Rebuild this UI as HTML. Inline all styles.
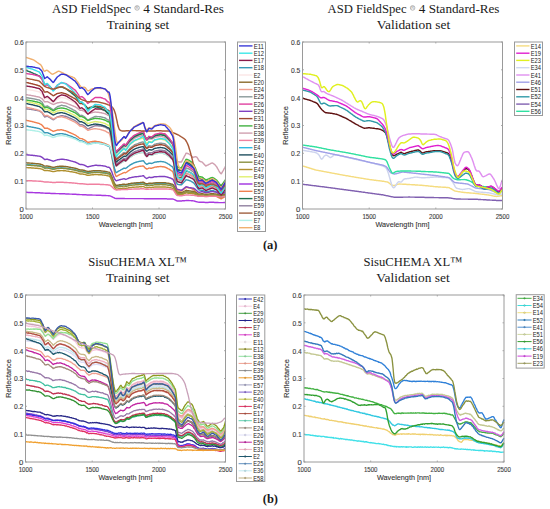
<!DOCTYPE html>
<html><head><meta charset="utf-8"><style>
html,body{margin:0;padding:0;background:#fff;}
svg{display:block;}
.tt{font-family:"Liberation Serif",serif;font-size:13.2px;fill:#1a1a1a;}
.pl{font-family:"Liberation Serif",serif;font-size:12.5px;font-weight:bold;fill:#1a1a1a;}
.tk{font-family:"Liberation Sans",sans-serif;font-size:7.3px;fill:#3c3c3c;stroke:#3c3c3c;stroke-width:0.12px;}
.al{font-family:"Liberation Sans",sans-serif;font-size:7.2px;fill:#333;stroke:#333;stroke-width:0.1px;}
.lg{font-family:"Liberation Sans",sans-serif;font-size:6.6px;fill:#222;}
</style></head><body>
<svg width="550" height="509" viewBox="0 0 550 509">
<polyline points="26.0,89.3 26.5,89.4 27.1,89.5 27.6,89.6 28.1,89.6 28.7,89.7 29.2,89.8 29.7,89.9 30.3,90.0 30.8,90.1 31.3,90.1 31.9,90.2 32.4,90.3 32.9,90.4 33.4,90.5 34.0,90.6 34.5,90.8 35.0,90.9 35.6,91.0 36.1,91.1 36.6,91.2 37.2,91.4 37.7,91.5 38.2,91.6 38.8,91.7 39.3,91.8 39.8,92.3 40.4,92.7 40.9,93.1 41.4,93.5 42.0,94.0 42.5,95.0 43.0,96.0 43.6,97.0 44.1,98.1 44.6,99.1 45.2,98.9 45.7,98.7 46.2,98.5 46.7,98.3 47.3,98.1 47.8,98.5 48.3,98.8 48.9,99.2 49.4,99.5 49.9,99.9 50.5,100.3 51.0,100.7 51.5,101.2 52.1,101.6 52.6,102.0 53.1,102.5 53.7,102.2 54.2,101.7 54.7,101.3 55.3,100.8 55.8,100.3 56.3,99.9 56.9,99.4 57.4,99.0 57.9,98.8 58.5,98.6 59.0,98.4 59.5,98.2 60.0,98.0 60.6,97.8 61.1,97.6 61.6,97.5 62.2,97.6 62.7,97.7 63.2,97.8 63.8,97.9 64.3,98.0 64.8,98.1 65.4,98.2 65.9,98.3 66.4,98.6 67.0,98.9 67.5,99.2 68.0,99.5 68.6,99.7 69.1,100.0 69.6,100.3 70.2,100.6 70.7,100.9 71.2,101.2 71.8,101.5 72.3,101.8 72.8,102.1 73.3,102.4 73.9,102.7 74.4,103.0 74.9,103.3 75.5,103.7 76.0,104.2 76.5,104.7 77.1,105.2 77.6,105.8 78.1,106.4 78.7,107.0 79.2,107.7 79.7,108.4 80.3,108.5 80.8,108.4 81.3,108.3 81.9,108.3 82.4,108.6 82.9,108.9 83.5,109.2 84.0,109.6 84.5,109.9 85.1,110.5 85.6,111.1 86.1,111.6 86.6,112.2 87.2,112.8 87.7,113.4 88.2,113.3 88.8,112.9 89.3,112.6 89.8,112.3 90.4,111.9 90.9,111.6 91.4,111.3 92.0,111.0 92.5,110.8 93.0,110.5 93.6,110.3 94.1,110.0 94.6,109.8 95.2,109.5 95.7,109.6 96.2,109.6 96.8,109.6 97.3,109.6 97.8,109.7 98.4,109.7 98.9,109.7 99.4,109.7 99.9,109.8 100.5,109.8 101.0,109.9 101.5,110.1 102.1,110.2 102.6,110.4 103.1,110.5 103.7,110.7 104.2,110.9 104.7,111.0 105.3,111.2 105.8,111.7 106.3,112.1 106.9,112.5 107.4,112.9 107.9,113.3 108.5,113.3 109.0,113.5 109.5,114.6 110.1,116.7 110.6,119.6 111.1,123.1 111.7,127.0 112.2,131.3 112.7,135.6 113.2,140.0 113.8,144.1 114.3,147.9 114.8,151.1 115.4,153.6 115.9,155.2 116.4,155.8 117.0,155.2 117.5,154.5 118.0,154.0 118.6,153.5 119.1,153.1 119.6,152.6 120.2,152.1 120.7,151.7 121.2,151.2 121.8,150.7 122.3,150.3 122.8,149.8 123.4,149.3 123.9,148.9 124.4,148.9 125.0,149.3 125.5,149.7 126.0,149.3 126.5,148.6 127.1,148.0 127.6,147.3 128.1,146.6 128.7,145.9 129.2,145.2 129.7,144.6 130.3,144.1 130.8,143.6 131.3,143.2 131.9,142.8 132.4,142.4 132.9,141.9 133.5,141.5 134.0,141.1 134.5,140.7 135.1,140.5 135.6,140.3 136.1,140.0 136.7,139.8 137.2,139.6 137.7,139.4 138.3,139.2 138.8,139.0 139.3,138.8 139.8,138.6 140.4,138.4 140.9,138.3 141.4,138.1 142.0,137.9 142.5,137.8 143.0,137.6 143.6,137.8 144.1,139.1 144.6,140.4 145.2,141.7 145.7,142.6 146.2,143.3 146.8,144.0 147.3,143.5 147.8,142.9 148.4,142.3 148.9,141.7 149.4,141.8 150.0,141.9 150.5,142.0 151.0,142.0 151.6,142.1 152.1,142.0 152.6,141.6 153.1,141.2 153.7,140.8 154.2,140.4 154.7,140.0 155.3,139.9 155.8,139.8 156.3,139.7 156.9,139.6 157.4,139.5 157.9,139.4 158.5,139.3 159.0,139.2 159.5,139.1 160.1,139.0 160.6,138.9 161.1,139.0 161.7,139.1 162.2,139.2 162.7,139.3 163.3,139.4 163.8,139.5 164.3,139.6 164.9,139.7 165.4,140.1 165.9,140.5 166.4,141.0 167.0,141.5 167.5,142.0 168.0,142.4 168.6,142.9 169.1,143.4 169.6,144.0 170.2,144.7 170.7,145.3 171.2,146.0 171.8,146.7 172.3,147.4 172.8,148.1 173.4,150.0 173.9,152.8 174.4,156.2 175.0,159.9 175.5,163.7 176.0,167.1 176.6,169.9 177.1,171.8 177.6,172.5 178.2,172.7 178.7,172.9 179.2,173.1 179.7,173.2 180.3,173.4 180.8,173.5 181.3,173.7 181.9,173.0 182.4,172.0 182.9,171.0 183.5,170.0 184.0,169.0 184.5,168.0 185.1,167.0 185.6,166.1 186.1,165.1 186.7,165.3 187.2,165.5 187.7,165.8 188.3,166.0 188.8,166.3 189.3,166.6 189.9,166.9 190.4,167.2 190.9,167.6 191.5,168.0 192.0,168.4 192.5,168.9 193.0,169.4 193.6,169.9 194.1,170.5 194.6,171.8 195.2,173.0 195.7,174.3 196.2,175.5 196.8,176.8 197.3,178.1 197.8,179.3 198.4,180.6 198.9,181.2 199.4,181.2 200.0,181.2 200.5,181.2 201.0,181.2 201.6,181.1 202.1,181.1 202.6,181.4 203.2,181.8 203.7,182.3 204.2,182.7 204.8,183.1 205.3,183.6 205.8,184.0 206.3,183.8 206.9,183.5 207.4,183.3 207.9,183.1 208.5,182.9 209.0,182.6 209.5,182.4 210.1,182.2 210.6,181.9 211.1,181.7 211.7,181.5 212.2,181.3 212.7,181.4 213.3,181.7 213.8,182.0 214.3,182.3 214.9,182.6 215.4,182.9 215.9,183.2 216.5,183.5 217.0,184.2 217.5,184.9 218.1,185.6 218.6,186.3 219.1,187.0 219.6,187.6 220.2,188.3 220.7,188.9 221.2,189.2 221.8,188.5 222.3,187.8 222.8,187.0 223.4,186.3 223.9,185.5 224.4,184.7 225.0,184.0 225.5,183.2" fill="none" stroke="#fbe6e6" stroke-width="1.45" stroke-linejoin="round"/>
<polyline points="26.0,108.8 26.5,108.9 27.1,108.9 27.6,109.0 28.1,109.1 28.7,109.1 29.2,109.2 29.7,109.3 30.3,109.3 30.8,109.4 31.3,109.5 31.9,109.6 32.4,109.6 32.9,109.7 33.4,109.8 34.0,109.9 34.5,110.0 35.0,110.1 35.6,110.2 36.1,110.3 36.6,110.4 37.2,110.5 37.7,110.6 38.2,110.7 38.8,110.8 39.3,110.9 39.8,111.3 40.4,111.6 40.9,112.0 41.4,112.3 42.0,112.7 42.5,113.6 43.0,114.4 43.6,115.3 44.1,116.1 44.6,117.0 45.2,116.8 45.7,116.7 46.2,116.5 46.7,116.3 47.3,116.2 47.8,116.5 48.3,116.8 48.9,117.1 49.4,117.4 49.9,117.7 50.5,118.0 51.0,118.4 51.5,118.7 52.1,119.1 52.6,119.4 53.1,119.8 53.7,119.6 54.2,119.2 54.7,118.8 55.3,118.4 55.8,118.0 56.3,117.6 56.9,117.2 57.4,116.9 57.9,116.8 58.5,116.6 59.0,116.4 59.5,116.3 60.0,116.1 60.6,115.9 61.1,115.8 61.6,115.7 62.2,115.8 62.7,115.8 63.2,115.9 63.8,116.0 64.3,116.1 64.8,116.2 65.4,116.3 65.9,116.3 66.4,116.6 67.0,116.8 67.5,117.1 68.0,117.3 68.6,117.5 69.1,117.8 69.6,118.0 70.2,118.2 70.7,118.5 71.2,118.7 71.8,119.0 72.3,119.2 72.8,119.5 73.3,119.7 73.9,120.0 74.4,120.2 74.9,120.5 75.5,120.8 76.0,121.2 76.5,121.7 77.1,122.1 77.6,122.6 78.1,123.1 78.7,123.6 79.2,124.2 79.7,124.8 80.3,124.9 80.8,124.8 81.3,124.7 81.9,124.7 82.4,124.9 82.9,125.2 83.5,125.5 84.0,125.8 84.5,126.0 85.1,126.5 85.6,127.0 86.1,127.5 86.6,128.0 87.2,128.5 87.7,129.0 88.2,128.9 88.8,128.6 89.3,128.3 89.8,128.0 90.4,127.7 90.9,127.4 91.4,127.2 92.0,127.0 92.5,126.8 93.0,126.6 93.6,126.4 94.1,126.1 94.6,125.9 95.2,125.7 95.7,125.7 96.2,125.8 96.8,125.8 97.3,125.8 97.8,125.8 98.4,125.9 98.9,125.9 99.4,125.9 99.9,125.9 100.5,125.9 101.0,126.1 101.5,126.2 102.1,126.3 102.6,126.4 103.1,126.6 103.7,126.7 104.2,126.8 104.7,127.0 105.3,127.1 105.8,127.5 106.3,127.9 106.9,128.2 107.4,128.6 107.9,128.8 108.5,128.9 109.0,129.0 109.5,130.0 110.1,131.7 110.6,134.1 111.1,137.0 111.7,140.3 112.2,143.9 112.7,147.5 113.2,151.1 113.8,154.6 114.3,157.7 114.8,160.4 115.4,162.5 115.9,163.8 116.4,164.3 117.0,163.8 117.5,163.3 118.0,162.8 118.6,162.4 119.1,162.0 119.6,161.6 120.2,161.2 120.7,160.8 121.2,160.4 121.8,160.1 122.3,159.7 122.8,159.3 123.4,158.9 123.9,158.5 124.4,158.5 125.0,158.8 125.5,159.2 126.0,158.9 126.5,158.3 127.1,157.7 127.6,157.2 128.1,156.6 128.7,156.0 129.2,155.4 129.7,154.9 130.3,154.5 130.8,154.1 131.3,153.7 131.9,153.4 132.4,153.0 132.9,152.7 133.5,152.3 134.0,152.0 134.5,151.6 135.1,151.4 135.6,151.3 136.1,151.1 136.7,150.9 137.2,150.7 137.7,150.5 138.3,150.4 138.8,150.2 139.3,150.0 139.8,149.9 140.4,149.7 140.9,149.6 141.4,149.4 142.0,149.3 142.5,149.2 143.0,149.0 143.6,149.2 144.1,150.3 144.6,151.4 145.2,152.5 145.7,153.2 146.2,153.8 146.8,154.4 147.3,153.9 147.8,153.4 148.4,152.9 148.9,152.4 149.4,152.5 150.0,152.6 150.5,152.7 151.0,152.8 151.6,152.8 152.1,152.7 152.6,152.4 153.1,152.1 153.7,151.7 154.2,151.4 154.7,151.1 155.3,151.0 155.8,150.9 156.3,150.8 156.9,150.7 157.4,150.6 157.9,150.5 158.5,150.4 159.0,150.3 159.5,150.3 160.1,150.2 160.6,150.1 161.1,150.2 161.7,150.3 162.2,150.3 162.7,150.4 163.3,150.5 163.8,150.6 164.3,150.7 164.9,150.8 165.4,151.1 165.9,151.5 166.4,151.9 167.0,152.3 167.5,152.7 168.0,153.1 168.6,153.5 169.1,153.9 169.6,154.4 170.2,155.0 170.7,155.5 171.2,156.1 171.8,156.7 172.3,157.2 172.8,157.8 173.4,159.5 173.9,162.0 174.4,165.0 175.0,168.3 175.5,171.6 176.0,174.6 176.6,177.1 177.1,178.7 177.6,179.4 178.2,179.5 178.7,179.7 179.2,179.8 179.7,179.9 180.3,180.1 180.8,180.2 181.3,180.3 181.9,179.7 182.4,178.9 182.9,178.1 183.5,177.3 184.0,176.5 184.5,175.7 185.1,174.9 185.6,174.1 186.1,173.3 186.7,173.5 187.2,173.7 187.7,173.9 188.3,174.1 188.8,174.3 189.3,174.5 189.9,174.8 190.4,175.1 190.9,175.3 191.5,175.7 192.0,176.0 192.5,176.4 193.0,176.8 193.6,177.2 194.1,177.7 194.6,178.8 195.2,179.8 195.7,180.8 196.2,181.8 196.8,182.8 197.3,183.9 197.8,184.9 198.4,185.9 198.9,186.4 199.4,186.4 200.0,186.4 200.5,186.4 201.0,186.4 201.6,186.4 202.1,186.3 202.6,186.6 203.2,186.9 203.7,187.3 204.2,187.6 204.8,188.0 205.3,188.3 205.8,188.7 206.3,188.5 206.9,188.3 207.4,188.1 207.9,188.0 208.5,187.8 209.0,187.6 209.5,187.4 210.1,187.2 210.6,187.0 211.1,186.8 211.7,186.7 212.2,186.5 212.7,186.6 213.3,186.8 213.8,187.1 214.3,187.3 214.9,187.5 215.4,187.8 215.9,188.1 216.5,188.3 217.0,188.9 217.5,189.4 218.1,190.0 218.6,190.6 219.1,191.1 219.6,191.6 220.2,192.2 220.7,192.7 221.2,192.9 221.8,192.3 222.3,191.7 222.8,191.1 223.4,190.5 223.9,189.9 224.4,189.3 225.0,188.7 225.5,188.0" fill="none" stroke="#9080a0" stroke-width="1.45" stroke-linejoin="round"/>
<polyline points="26.0,97.7 26.5,97.7 27.1,97.8 27.6,97.9 28.1,98.0 28.7,98.0 29.2,98.1 29.7,98.2 30.3,98.3 30.8,98.4 31.3,98.4 31.9,98.5 32.4,98.6 32.9,98.7 33.4,98.8 34.0,98.9 34.5,99.0 35.0,99.1 35.6,99.2 36.1,99.3 36.6,99.5 37.2,99.6 37.7,99.7 38.2,99.8 38.8,99.9 39.3,100.0 39.8,100.4 40.4,100.8 40.9,101.2 41.4,101.6 42.0,102.0 42.5,102.9 43.0,103.9 43.6,104.8 44.1,105.8 44.6,106.7 45.2,106.6 45.7,106.4 46.2,106.2 46.7,106.1 47.3,105.9 47.8,106.2 48.3,106.5 48.9,106.9 49.4,107.2 49.9,107.5 50.5,107.9 51.0,108.3 51.5,108.7 52.1,109.1 52.6,109.5 53.1,109.9 53.7,109.7 54.2,109.2 54.7,108.8 55.3,108.4 55.8,107.9 56.3,107.5 56.9,107.1 57.4,106.7 57.9,106.5 58.5,106.3 59.0,106.1 59.5,106.0 60.0,105.8 60.6,105.6 61.1,105.4 61.6,105.3 62.2,105.4 62.7,105.5 63.2,105.6 63.8,105.7 64.3,105.8 64.8,105.9 65.4,106.0 65.9,106.1 66.4,106.3 67.0,106.6 67.5,106.8 68.0,107.1 68.6,107.4 69.1,107.6 69.6,107.9 70.2,108.2 70.7,108.4 71.2,108.7 71.8,109.0 72.3,109.2 72.8,109.5 73.3,109.8 73.9,110.1 74.4,110.4 74.9,110.6 75.5,111.0 76.0,111.5 76.5,112.0 77.1,112.5 77.6,113.0 78.1,113.5 78.7,114.2 79.2,114.8 79.7,115.4 80.3,115.5 80.8,115.4 81.3,115.4 81.9,115.3 82.4,115.6 82.9,115.9 83.5,116.2 84.0,116.5 84.5,116.8 85.1,117.4 85.6,117.9 86.1,118.4 86.6,119.0 87.2,119.5 87.7,120.1 88.2,120.0 88.8,119.6 89.3,119.3 89.8,119.0 90.4,118.7 90.9,118.4 91.4,118.1 92.0,117.9 92.5,117.6 93.0,117.4 93.6,117.2 94.1,116.9 94.6,116.7 95.2,116.5 95.7,116.5 96.2,116.5 96.8,116.5 97.3,116.6 97.8,116.6 98.4,116.6 98.9,116.6 99.4,116.7 99.9,116.7 100.5,116.7 101.0,116.8 101.5,117.0 102.1,117.1 102.6,117.3 103.1,117.4 103.7,117.6 104.2,117.7 104.7,117.8 105.3,118.0 105.8,118.4 106.3,118.8 106.9,119.2 107.4,119.6 107.9,119.9 108.5,120.0 109.0,120.1 109.5,121.2 110.1,123.1 110.6,125.7 111.1,128.9 111.7,132.6 112.2,136.5 112.7,140.5 113.2,144.5 113.8,148.3 114.3,151.7 114.8,154.7 115.4,156.9 115.9,158.4 116.4,159.0 117.0,158.4 117.5,157.8 118.0,157.3 118.6,156.9 119.1,156.4 119.6,156.0 120.2,155.5 120.7,155.1 121.2,154.7 121.8,154.2 122.3,153.8 122.8,153.4 123.4,152.9 123.9,152.5 124.4,152.5 125.0,152.9 125.5,153.3 126.0,152.9 126.5,152.3 127.1,151.6 127.6,151.0 128.1,150.4 128.7,149.7 129.2,149.1 129.7,148.4 130.3,148.0 130.8,147.6 131.3,147.2 131.9,146.8 132.4,146.3 132.9,146.0 133.5,145.6 134.0,145.2 134.5,144.8 135.1,144.6 135.6,144.4 136.1,144.2 136.7,144.0 137.2,143.8 137.7,143.6 138.3,143.4 138.8,143.2 139.3,143.0 139.8,142.8 140.4,142.7 140.9,142.5 141.4,142.3 142.0,142.2 142.5,142.0 143.0,141.9 143.6,142.1 144.1,143.3 144.6,144.5 145.2,145.8 145.7,146.6 146.2,147.3 146.8,147.9 147.3,147.4 147.8,146.8 148.4,146.3 148.9,145.7 149.4,145.8 150.0,145.9 150.5,146.0 151.0,146.1 151.6,146.1 152.1,146.0 152.6,145.6 153.1,145.3 153.7,144.9 154.2,144.5 154.7,144.2 155.3,144.1 155.8,144.0 156.3,143.8 156.9,143.7 157.4,143.6 157.9,143.5 158.5,143.5 159.0,143.4 159.5,143.3 160.1,143.2 160.6,143.1 161.1,143.2 161.7,143.3 162.2,143.4 162.7,143.4 163.3,143.5 163.8,143.6 164.3,143.7 164.9,143.8 165.4,144.2 165.9,144.6 166.4,145.1 167.0,145.5 167.5,146.0 168.0,146.4 168.6,146.9 169.1,147.3 169.6,147.9 170.2,148.5 170.7,149.2 171.2,149.8 171.8,150.4 172.3,151.1 172.8,151.7 173.4,153.5 173.9,156.2 174.4,159.4 175.0,162.9 175.5,166.4 176.0,169.7 176.6,172.3 177.1,174.1 177.6,174.8 178.2,175.0 178.7,175.1 179.2,175.3 179.7,175.5 180.3,175.6 180.8,175.7 181.3,175.9 181.9,175.2 182.4,174.3 182.9,173.4 183.5,172.4 184.0,171.5 184.5,170.6 185.1,169.7 185.6,168.8 186.1,167.9 186.7,168.0 187.2,168.3 187.7,168.5 188.3,168.7 188.8,169.0 189.3,169.2 189.9,169.5 190.4,169.8 190.9,170.1 191.5,170.6 192.0,171.0 192.5,171.4 193.0,171.8 193.6,172.3 194.1,172.9 194.6,174.1 195.2,175.3 195.7,176.5 196.2,177.6 196.8,178.8 197.3,180.0 197.8,181.2 198.4,182.4 198.9,182.9 199.4,182.9 200.0,182.9 200.5,182.9 201.0,182.9 201.6,182.9 202.1,182.8 202.6,183.1 203.2,183.5 203.7,184.0 204.2,184.4 204.8,184.8 205.3,185.1 205.8,185.5 206.3,185.3 206.9,185.1 207.4,184.9 207.9,184.7 208.5,184.5 209.0,184.3 209.5,184.1 210.1,183.8 210.6,183.6 211.1,183.4 211.7,183.2 212.2,183.0 212.7,183.2 213.3,183.4 213.8,183.7 214.3,184.0 214.9,184.2 215.4,184.5 215.9,184.8 216.5,185.1 217.0,185.8 217.5,186.4 218.1,187.1 218.6,187.7 219.1,188.3 219.6,189.0 220.2,189.6 220.7,190.2 221.2,190.4 221.8,189.8 222.3,189.1 222.8,188.4 223.4,187.7 223.9,187.0 224.4,186.3 225.0,185.5 225.5,184.8" fill="none" stroke="#8a9a9a" stroke-width="1.45" stroke-linejoin="round"/>
<polyline points="26.0,164.5 26.5,164.5 27.1,164.5 27.6,164.6 28.1,164.6 28.7,164.7 29.2,164.7 29.7,164.8 30.3,164.8 30.8,164.8 31.3,164.9 31.9,164.9 32.4,165.0 32.9,165.0 33.4,165.1 34.0,165.1 34.5,165.2 35.0,165.2 35.6,165.2 36.1,165.3 36.6,165.3 37.2,165.4 37.7,165.4 38.2,165.5 38.8,165.5 39.3,165.6 39.8,165.7 40.4,165.8 40.9,166.0 41.4,166.1 42.0,166.2 42.5,166.5 43.0,166.7 43.6,167.0 44.1,167.2 44.6,167.5 45.2,167.5 45.7,167.5 46.2,167.4 46.7,167.4 47.3,167.4 47.8,167.5 48.3,167.6 48.9,167.7 49.4,167.8 49.9,167.9 50.5,168.0 51.0,168.1 51.5,168.3 52.1,168.4 52.6,168.5 53.1,168.6 53.7,168.6 54.2,168.5 54.7,168.4 55.3,168.3 55.8,168.2 56.3,168.2 56.9,168.1 57.4,168.0 57.9,168.0 58.5,168.0 59.0,167.9 59.5,167.9 60.0,167.9 60.6,167.9 61.1,167.8 61.6,167.8 62.2,167.9 62.7,167.9 63.2,168.0 63.8,168.0 64.3,168.1 64.8,168.1 65.4,168.1 65.9,168.2 66.4,168.3 67.0,168.4 67.5,168.5 68.0,168.5 68.6,168.6 69.1,168.7 69.6,168.8 70.2,168.9 70.7,169.0 71.2,169.1 71.8,169.2 72.3,169.3 72.8,169.3 73.3,169.4 73.9,169.5 74.4,169.6 74.9,169.7 75.5,169.8 76.0,170.0 76.5,170.1 77.1,170.3 77.6,170.4 78.1,170.6 78.7,170.7 79.2,170.9 79.7,171.1 80.3,171.1 80.8,171.1 81.3,171.1 81.9,171.2 82.4,171.3 82.9,171.3 83.5,171.4 84.0,171.5 84.5,171.6 85.1,171.8 85.6,172.0 86.1,172.1 86.6,172.3 87.2,172.4 87.7,172.6 88.2,172.6 88.8,172.5 89.3,172.5 89.8,172.4 90.4,172.4 90.9,172.3 91.4,172.2 92.0,172.2 92.5,172.2 93.0,172.1 93.6,172.1 94.1,172.1 94.6,172.0 95.2,172.0 95.7,172.0 96.2,172.0 96.8,172.1 97.3,172.1 97.8,172.1 98.4,172.2 98.9,172.2 99.4,172.2 99.9,172.2 100.5,172.3 101.0,172.3 101.5,172.4 102.1,172.4 102.6,172.5 103.1,172.6 103.7,172.6 104.2,172.7 104.7,172.7 105.3,172.8 105.8,172.9 106.3,173.0 106.9,173.2 107.4,173.3 107.9,173.4 108.5,173.4 109.0,173.5 109.5,173.8 110.1,174.4 110.6,175.3 111.1,176.3 111.7,177.5 112.2,178.7 112.7,180.0 113.2,181.3 113.8,182.5 114.3,183.6 114.8,184.5 115.4,185.3 115.9,185.7 116.4,185.9 117.0,185.8 117.5,185.7 118.0,185.6 118.6,185.5 119.1,185.4 119.6,185.3 120.2,185.3 120.7,185.2 121.2,185.1 121.8,185.0 122.3,185.0 122.8,184.9 123.4,184.8 123.9,184.7 124.4,184.8 125.0,184.9 125.5,185.0 126.0,185.0 126.5,184.8 127.1,184.7 127.6,184.6 128.1,184.5 128.7,184.4 129.2,184.2 129.7,184.1 130.3,184.0 130.8,184.0 131.3,183.9 131.9,183.8 132.4,183.8 132.9,183.7 133.5,183.7 134.0,183.6 134.5,183.5 135.1,183.5 135.6,183.5 136.1,183.4 136.7,183.4 137.2,183.4 137.7,183.3 138.3,183.3 138.8,183.3 139.3,183.2 139.8,183.2 140.4,183.2 140.9,183.1 141.4,183.1 142.0,183.0 142.5,183.0 143.0,182.9 143.6,183.0 144.1,183.3 144.6,183.5 145.2,183.8 145.7,184.0 146.2,184.2 146.8,184.3 147.3,184.2 147.8,184.0 148.4,183.9 148.9,183.7 149.4,183.8 150.0,183.8 150.5,183.8 151.0,183.8 151.6,183.9 152.1,183.8 152.6,183.8 153.1,183.7 153.7,183.6 154.2,183.5 154.7,183.4 155.3,183.4 155.8,183.4 156.3,183.4 156.9,183.4 157.4,183.4 157.9,183.4 158.5,183.3 159.0,183.3 159.5,183.3 160.1,183.3 160.6,183.3 161.1,183.3 161.7,183.3 162.2,183.3 162.7,183.3 163.3,183.3 163.8,183.3 164.3,183.3 164.9,183.3 165.4,183.4 165.9,183.5 166.4,183.6 167.0,183.6 167.5,183.7 168.0,183.8 168.6,183.9 169.1,184.0 169.6,184.1 170.2,184.2 170.7,184.3 171.2,184.4 171.8,184.6 172.3,184.7 172.8,185.0 173.4,185.6 173.9,186.6 174.4,187.9 175.0,189.2 175.5,190.5 176.0,191.8 176.6,192.8 177.1,193.4 177.6,193.7 178.2,193.8 178.7,193.8 179.2,193.9 179.7,193.9 180.3,194.0 180.8,194.1 181.3,194.1 181.9,194.0 182.4,193.7 182.9,193.5 183.5,193.3 184.0,193.1 184.5,192.9 185.1,192.7 185.6,192.4 186.1,192.2 186.7,192.3 187.2,192.4 187.7,192.4 188.3,192.5 188.8,192.6 189.3,192.6 189.9,192.7 190.4,192.7 190.9,192.8 191.5,192.9 192.0,192.9 192.5,193.0 193.0,193.1 193.6,193.1 194.1,193.2 194.6,193.5 195.2,193.7 195.7,194.0 196.2,194.2 196.8,194.5 197.3,194.8 197.8,195.0 198.4,195.3 198.9,195.4 199.4,195.4 200.0,195.3 200.5,195.3 201.0,195.2 201.6,195.2 202.1,195.1 202.6,195.2 203.2,195.3 203.7,195.4 204.2,195.5 204.8,195.6 205.3,195.7 205.8,195.8 206.3,195.7 206.9,195.7 207.4,195.6 207.9,195.5 208.5,195.5 209.0,195.4 209.5,195.4 210.1,195.3 210.6,195.3 211.1,195.2 211.7,195.2 212.2,195.1 212.7,195.1 213.3,195.2 213.8,195.2 214.3,195.3 214.9,195.4 215.4,195.4 215.9,195.5 216.5,195.5 217.0,195.7 217.5,195.8 218.1,196.0 218.6,196.1 219.1,196.3 219.6,196.4 220.2,196.6 220.7,196.7 221.2,196.8 221.8,196.6 222.3,196.4 222.8,196.3 223.4,196.1 223.9,195.9 224.4,195.7 225.0,195.6 225.5,195.4" fill="none" stroke="#30b8e0" stroke-width="1.45" stroke-linejoin="round"/>
<polyline points="26.0,94.6 26.5,94.7 27.1,94.8 27.6,94.9 28.1,95.0 28.7,95.1 29.2,95.1 29.7,95.2 30.3,95.3 30.8,95.4 31.3,95.5 31.9,95.6 32.4,95.7 32.9,95.8 33.4,95.9 34.0,96.0 34.5,96.1 35.0,96.2 35.6,96.3 36.1,96.5 36.6,96.6 37.2,96.7 37.7,96.8 38.2,96.9 38.8,97.0 39.3,97.1 39.8,97.4 40.4,97.7 40.9,98.0 41.4,98.3 42.0,98.6 42.5,99.3 43.0,99.9 43.6,100.6 44.1,101.2 44.6,101.9 45.2,101.8 45.7,101.7 46.2,101.7 46.7,101.6 47.3,101.5 47.8,101.8 48.3,102.0 48.9,102.3 49.4,102.5 49.9,102.8 50.5,103.1 51.0,103.4 51.5,103.7 52.1,103.9 52.6,104.2 53.1,104.5 53.7,104.4 54.2,104.2 54.7,104.0 55.3,103.7 55.8,103.5 56.3,103.2 56.9,103.0 57.4,102.8 57.9,102.7 58.5,102.7 59.0,102.6 59.5,102.5 60.0,102.4 60.6,102.4 61.1,102.3 61.6,102.2 62.2,102.3 62.7,102.4 63.2,102.6 63.8,102.7 64.3,102.8 64.8,102.9 65.4,103.0 65.9,103.1 66.4,103.3 67.0,103.5 67.5,103.7 68.0,103.9 68.6,104.1 69.1,104.3 69.6,104.5 70.2,104.7 70.7,104.9 71.2,105.2 71.8,105.4 72.3,105.6 72.8,105.8 73.3,106.0 73.9,106.3 74.4,106.5 74.9,106.7 75.5,107.0 76.0,107.3 76.5,107.7 77.1,108.0 77.6,108.4 78.1,108.8 78.7,109.2 79.2,109.7 79.7,110.1 80.3,110.2 80.8,110.2 81.3,110.2 81.9,110.2 82.4,110.5 82.9,110.7 83.5,110.9 84.0,111.2 84.5,111.4 85.1,111.8 85.6,112.2 86.1,112.6 86.6,113.0 87.2,113.3 87.7,113.7 88.2,113.7 88.8,113.5 89.3,113.4 89.8,113.2 90.4,113.1 90.9,112.9 91.4,112.8 92.0,112.7 92.5,112.5 93.0,112.4 93.6,112.3 94.1,112.2 94.6,112.1 95.2,112.0 95.7,112.1 96.2,112.1 96.8,112.2 97.3,112.2 97.8,112.3 98.4,112.3 98.9,112.4 99.4,112.4 99.9,112.5 100.5,112.6 101.0,112.7 101.5,112.8 102.1,113.0 102.6,113.1 103.1,113.2 103.7,113.4 104.2,113.5 104.7,113.6 105.3,113.8 105.8,114.1 106.3,114.4 106.9,114.7 107.4,115.0 107.9,115.2 108.5,115.3 109.0,115.4 109.5,116.4 110.1,118.3 110.6,120.9 111.1,124.0 111.7,127.5 112.2,131.3 112.7,135.2 113.2,139.0 113.8,142.7 114.3,146.1 114.8,148.9 115.4,151.1 115.9,152.6 116.4,153.1 117.0,152.6 117.5,152.1 118.0,151.6 118.6,151.2 119.1,150.8 119.6,150.3 120.2,149.9 120.7,149.4 121.2,149.0 121.8,148.5 122.3,148.1 122.8,147.6 123.4,147.2 123.9,146.7 124.4,146.6 125.0,146.7 125.5,146.8 126.0,146.4 126.5,145.8 127.1,145.2 127.6,144.6 128.1,144.0 128.7,143.4 129.2,142.8 129.7,142.1 130.3,141.7 130.8,141.2 131.3,140.8 131.9,140.3 132.4,139.9 132.9,139.5 133.5,139.0 134.0,138.6 134.5,138.3 135.1,138.0 135.6,137.7 136.1,137.5 136.7,137.2 137.2,137.0 137.7,136.8 138.3,136.6 138.8,136.5 139.3,136.3 139.8,136.2 140.4,136.0 140.9,135.9 141.4,135.8 142.0,135.8 142.5,135.7 143.0,135.7 143.6,135.9 144.1,136.8 144.6,137.7 145.2,138.6 145.7,139.2 146.2,139.8 146.8,140.3 147.3,140.0 147.8,139.6 148.4,139.3 148.9,138.9 149.4,139.0 150.0,139.0 150.5,139.1 151.0,139.1 151.6,139.1 152.1,139.0 152.6,138.7 153.1,138.4 153.7,138.1 154.2,137.8 154.7,137.5 155.3,137.3 155.8,137.2 156.3,137.1 156.9,137.0 157.4,136.9 157.9,136.8 158.5,136.7 159.0,136.6 159.5,136.5 160.1,136.5 160.6,136.4 161.1,136.5 161.7,136.6 162.2,136.7 162.7,136.8 163.3,136.9 163.8,137.0 164.3,137.2 164.9,137.4 165.4,137.7 165.9,138.2 166.4,138.6 167.0,139.0 167.5,139.5 168.0,139.9 168.6,140.4 169.1,140.8 169.6,141.4 170.2,142.0 170.7,142.5 171.2,143.1 171.8,143.7 172.3,144.2 172.8,144.7 173.4,146.1 173.9,148.0 174.4,150.4 175.0,152.9 175.5,155.5 176.0,157.9 176.6,159.8 177.1,161.1 177.6,161.6 178.2,161.8 178.7,161.9 179.2,162.0 179.7,162.0 180.3,162.0 180.8,162.0 181.3,162.0 181.9,161.2 182.4,160.2 182.9,159.2 183.5,158.2 184.0,157.1 184.5,156.1 185.1,155.1 185.6,154.1 186.1,153.2 186.7,153.2 187.2,153.3 187.7,153.5 188.3,153.7 188.8,153.9 189.3,154.3 189.9,154.6 190.4,155.0 190.9,155.5 191.5,156.1 192.0,156.7 192.5,157.3 193.0,157.5 193.6,157.2 194.1,156.9 194.6,156.9 195.2,156.8 195.7,156.8 196.2,156.9 196.8,157.2 197.3,157.8 197.8,158.6 198.4,159.7 198.9,160.6 199.4,161.0 200.0,161.3 200.5,161.5 201.0,161.8 201.6,161.9 202.1,162.1 202.6,162.6 203.2,163.2 203.7,163.8 204.2,164.4 204.8,164.9 205.3,165.4 205.8,165.9 206.3,165.7 206.9,165.5 207.4,165.2 207.9,165.0 208.5,164.7 209.0,164.4 209.5,164.1 210.1,163.8 210.6,163.5 211.1,163.3 211.7,163.1 212.2,162.9 212.7,163.1 213.3,163.5 213.8,163.9 214.3,164.3 214.9,164.8 215.4,165.3 215.9,165.9 216.5,166.5 217.0,167.4 217.5,168.4 218.1,169.3 218.6,170.3 219.1,171.2 219.6,172.0 220.2,172.8 220.7,173.5 221.2,173.8 221.8,173.0 222.3,172.1 222.8,171.2 223.4,170.3 223.9,169.3 224.4,168.3 225.0,167.3 225.5,166.3" fill="none" stroke="#d0a0b0" stroke-width="1.45" stroke-linejoin="round"/>
<polyline points="26.0,107.1 26.5,107.2 27.1,107.4 27.6,107.5 28.1,107.6 28.7,107.7 29.2,107.8 29.7,108.0 30.3,108.1 30.8,108.2 31.3,108.3 31.9,108.4 32.4,108.6 32.9,108.7 33.4,108.8 34.0,109.0 34.5,109.1 35.0,109.3 35.6,109.4 36.1,109.5 36.6,109.7 37.2,109.8 37.7,110.0 38.2,110.1 38.8,110.3 39.3,110.4 39.8,110.7 40.4,111.1 40.9,111.4 41.4,111.8 42.0,112.1 42.5,112.8 43.0,113.5 43.6,114.2 44.1,115.0 44.6,115.7 45.2,115.6 45.7,115.6 46.2,115.5 46.7,115.5 47.3,115.4 47.8,115.7 48.3,116.0 48.9,116.3 49.4,116.6 49.9,116.9 50.5,117.2 51.0,117.5 51.5,117.9 52.1,118.2 52.6,118.6 53.1,118.9 53.7,118.8 54.2,118.6 54.7,118.3 55.3,118.1 55.8,117.9 56.3,117.6 56.9,117.4 57.4,117.2 57.9,117.2 58.5,117.1 59.0,117.1 59.5,117.0 60.0,116.9 60.6,116.9 61.1,116.8 61.6,116.8 62.2,116.9 62.7,117.1 63.2,117.2 63.8,117.3 64.3,117.5 64.8,117.6 65.4,117.7 65.9,117.9 66.4,118.1 67.0,118.3 67.5,118.6 68.0,118.8 68.6,119.1 69.1,119.3 69.6,119.6 70.2,119.8 70.7,120.1 71.2,120.3 71.8,120.6 72.3,120.8 72.8,121.1 73.3,121.4 73.9,121.6 74.4,121.9 74.9,122.1 75.5,122.5 76.0,122.9 76.5,123.2 77.1,123.6 77.6,124.0 78.1,124.5 78.7,125.0 79.2,125.5 79.7,126.0 80.3,126.1 80.8,126.2 81.3,126.2 81.9,126.2 82.4,126.5 82.9,126.7 83.5,127.0 84.0,127.3 84.5,127.6 85.1,128.0 85.6,128.4 86.1,128.9 86.6,129.3 87.2,129.7 87.7,130.2 88.2,130.2 88.8,130.0 89.3,129.9 89.8,129.7 90.4,129.6 90.9,129.4 91.4,129.3 92.0,129.2 92.5,129.1 93.0,129.0 93.6,128.9 94.1,128.8 94.6,128.7 95.2,128.7 95.7,128.7 96.2,128.8 96.8,128.9 97.3,129.0 97.8,129.1 98.4,129.1 98.9,129.2 99.4,129.3 99.9,129.4 100.5,129.5 101.0,129.6 101.5,129.8 102.1,130.0 102.6,130.1 103.1,130.3 103.7,130.5 104.2,130.6 104.7,130.8 105.3,131.0 105.8,131.3 106.3,131.7 106.9,132.0 107.4,132.3 107.9,132.6 108.5,132.7 109.0,132.9 109.5,133.8 110.1,135.4 110.6,137.7 111.1,140.4 111.7,143.5 112.2,146.9 112.7,150.3 113.2,153.7 113.8,157.0 114.3,159.9 114.8,162.4 115.4,164.4 115.9,165.7 116.4,166.1 117.0,165.7 117.5,165.3 118.0,164.9 118.6,164.6 119.1,164.2 119.6,163.9 120.2,163.5 120.7,163.2 121.2,162.8 121.8,162.5 122.3,162.1 122.8,161.8 123.4,161.4 123.9,161.0 124.4,161.0 125.0,161.1 125.5,161.3 126.0,161.0 126.5,160.5 127.1,160.0 127.6,159.5 128.1,159.0 128.7,158.5 129.2,158.0 129.7,157.5 130.3,157.1 130.8,156.8 131.3,156.5 131.9,156.1 132.4,155.8 132.9,155.4 133.5,155.1 134.0,154.8 134.5,154.5 135.1,154.3 135.6,154.1 136.1,153.9 136.7,153.7 137.2,153.6 137.7,153.4 138.3,153.3 138.8,153.1 139.3,153.0 139.8,152.9 140.4,152.8 140.9,152.7 141.4,152.6 142.0,152.5 142.5,152.4 143.0,152.4 143.6,152.5 144.1,153.3 144.6,154.1 145.2,155.0 145.7,155.5 146.2,156.0 146.8,156.4 147.3,156.1 147.8,155.8 148.4,155.4 148.9,155.1 149.4,155.2 150.0,155.2 150.5,155.3 151.0,155.3 151.6,155.3 152.1,155.2 152.6,155.0 153.1,154.7 153.7,154.4 154.2,154.2 154.7,153.9 155.3,153.8 155.8,153.7 156.3,153.6 156.9,153.5 157.4,153.5 157.9,153.4 158.5,153.3 159.0,153.2 159.5,153.2 160.1,153.1 160.6,153.1 161.1,153.1 161.7,153.2 162.2,153.3 162.7,153.4 163.3,153.5 163.8,153.6 164.3,153.7 164.9,153.8 165.4,154.1 165.9,154.4 166.4,154.8 167.0,155.1 167.5,155.5 168.0,155.8 168.6,156.2 169.1,156.6 169.6,157.0 170.2,157.5 170.7,157.9 171.2,158.4 171.8,158.9 172.3,159.4 172.8,159.9 173.4,161.4 173.9,163.7 174.4,166.4 175.0,169.4 175.5,172.3 176.0,175.1 176.6,177.3 177.1,178.8 177.6,179.4 178.2,179.5 178.7,179.6 179.2,179.7 179.7,179.7 180.3,179.8 180.8,179.8 181.3,179.8 181.9,179.3 182.4,178.6 182.9,178.0 183.5,177.3 184.0,176.6 184.5,175.9 185.1,175.2 185.6,174.5 186.1,173.9 186.7,173.9 187.2,174.0 187.7,174.2 188.3,174.3 188.8,174.5 189.3,174.7 189.9,174.9 190.4,175.2 190.9,175.5 191.5,175.8 192.0,176.2 192.5,176.6 193.0,177.0 193.6,177.5 194.1,178.1 194.6,179.0 195.2,179.9 195.7,180.8 196.2,181.8 196.8,182.7 197.3,183.6 197.8,184.5 198.4,185.4 198.9,186.0 199.4,186.1 200.0,186.2 200.5,186.3 201.0,186.3 201.6,186.4 202.1,186.4 202.6,186.7 203.2,187.0 203.7,187.3 204.2,187.6 204.8,187.9 205.3,188.1 205.8,188.4 206.3,188.3 206.9,188.2 207.4,188.0 207.9,187.9 208.5,187.7 209.0,187.6 209.5,187.4 210.1,187.3 210.6,187.1 211.1,187.0 211.7,186.8 212.2,186.7 212.7,186.8 213.3,187.0 213.8,187.2 214.3,187.4 214.9,187.7 215.4,187.9 215.9,188.2 216.5,188.5 217.0,189.0 217.5,189.5 218.1,190.0 218.6,190.4 219.1,190.9 219.6,191.4 220.2,191.8 220.7,192.2 221.2,192.4 221.8,191.9 222.3,191.4 222.8,190.9 223.4,190.4 223.9,189.9 224.4,189.4 225.0,188.8 225.5,188.3" fill="none" stroke="#f0a090" stroke-width="1.45" stroke-linejoin="round"/>
<polyline points="26.0,101.6 26.5,101.7 27.1,101.8 27.6,101.9 28.1,102.0 28.7,102.1 29.2,102.2 29.7,102.3 30.3,102.4 30.8,102.5 31.3,102.6 31.9,102.7 32.4,102.8 32.9,102.9 33.4,103.1 34.0,103.2 34.5,103.3 35.0,103.4 35.6,103.6 36.1,103.7 36.6,103.8 37.2,104.0 37.7,104.1 38.2,104.2 38.8,104.4 39.3,104.5 39.8,104.8 40.4,105.2 40.9,105.5 41.4,105.8 42.0,106.2 42.5,106.9 43.0,107.6 43.6,108.4 44.1,109.1 44.6,109.8 45.2,109.8 45.7,109.7 46.2,109.6 46.7,109.5 47.3,109.5 47.8,109.7 48.3,110.0 48.9,110.3 49.4,110.6 49.9,110.9 50.5,111.2 51.0,111.6 51.5,111.9 52.1,112.2 52.6,112.6 53.1,112.9 53.7,112.8 54.2,112.5 54.7,112.3 55.3,112.0 55.8,111.7 56.3,111.5 56.9,111.2 57.4,111.0 57.9,110.9 58.5,110.8 59.0,110.7 59.5,110.6 60.0,110.6 60.6,110.5 61.1,110.4 61.6,110.4 62.2,110.5 62.7,110.6 63.2,110.7 63.8,110.8 64.3,110.9 64.8,111.1 65.4,111.2 65.9,111.3 66.4,111.5 67.0,111.8 67.5,112.0 68.0,112.3 68.6,112.5 69.1,112.7 69.6,113.0 70.2,113.2 70.7,113.5 71.2,113.7 71.8,113.9 72.3,114.2 72.8,114.4 73.3,114.7 73.9,114.9 74.4,115.2 74.9,115.4 75.5,115.8 76.0,116.2 76.5,116.6 77.1,117.0 77.6,117.4 78.1,117.8 78.7,118.3 79.2,118.8 79.7,119.4 80.3,119.5 80.8,119.5 81.3,119.5 81.9,119.5 82.4,119.7 82.9,120.0 83.5,120.3 84.0,120.5 84.5,120.8 85.1,121.2 85.6,121.7 86.1,122.1 86.6,122.6 87.2,123.0 87.7,123.4 88.2,123.4 88.8,123.2 89.3,123.1 89.8,122.9 90.4,122.7 90.9,122.5 91.4,122.4 92.0,122.3 92.5,122.1 93.0,122.0 93.6,121.9 94.1,121.8 94.6,121.7 95.2,121.5 95.7,121.6 96.2,121.7 96.8,121.7 97.3,121.8 97.8,121.9 98.4,121.9 98.9,122.0 99.4,122.1 99.9,122.1 100.5,122.2 101.0,122.3 101.5,122.5 102.1,122.6 102.6,122.8 103.1,122.9 103.7,123.1 104.2,123.3 104.7,123.4 105.3,123.6 105.8,123.9 106.3,124.3 106.9,124.6 107.4,124.9 107.9,125.2 108.5,125.3 109.0,125.4 109.5,126.2 110.1,127.7 110.6,129.7 111.1,132.2 111.7,135.0 112.2,138.1 112.7,141.2 113.2,144.2 113.8,147.2 114.3,149.8 114.8,152.1 115.4,153.9 115.9,155.0 116.4,155.4 117.0,154.9 117.5,154.4 118.0,153.9 118.6,153.5 119.1,153.0 119.6,152.6 120.2,152.2 120.7,151.7 121.2,151.3 121.8,150.8 122.3,150.4 122.8,149.9 123.4,149.5 123.9,149.1 124.4,148.9 125.0,149.2 125.5,149.4 126.0,149.0 126.5,148.4 127.1,147.8 127.6,147.1 128.1,146.5 128.7,145.9 129.2,145.3 129.7,144.7 130.3,144.2 130.8,143.8 131.3,143.3 131.9,142.9 132.4,142.5 132.9,142.1 133.5,141.7 134.0,141.2 134.5,140.9 135.1,140.6 135.6,140.4 136.1,140.2 136.7,139.9 137.2,139.7 137.7,139.5 138.3,139.3 138.8,139.2 139.3,139.0 139.8,138.8 140.4,138.7 140.9,138.6 141.4,138.5 142.0,138.4 142.5,138.3 143.0,138.2 143.6,138.4 144.1,139.4 144.6,140.4 145.2,141.5 145.7,142.2 146.2,142.7 146.8,143.3 147.3,142.9 147.8,142.5 148.4,142.1 148.9,141.6 149.4,141.7 150.0,141.8 150.5,141.8 151.0,141.9 151.6,141.9 152.1,141.8 152.6,141.5 153.1,141.1 153.7,140.8 154.2,140.5 154.7,140.1 155.3,140.0 155.8,139.9 156.3,139.8 156.9,139.7 157.4,139.6 157.9,139.5 158.5,139.4 159.0,139.3 159.5,139.2 160.1,139.2 160.6,139.1 161.1,139.2 161.7,139.3 162.2,139.3 162.7,139.5 163.3,139.6 163.8,139.7 164.3,139.8 164.9,140.0 165.4,140.3 165.9,140.8 166.4,141.2 167.0,141.6 167.5,142.1 168.0,142.5 168.6,143.0 169.1,143.4 169.6,144.0 170.2,144.6 170.7,145.2 171.2,145.8 171.8,146.4 172.3,146.9 172.8,147.5 173.4,149.2 173.9,151.6 174.4,154.5 175.0,157.7 175.5,160.9 176.0,163.8 176.6,166.2 177.1,167.8 177.6,168.4 178.2,168.6 178.7,168.7 179.2,168.8 179.7,168.9 180.3,169.0 180.8,169.0 181.3,169.1 181.9,168.4 182.4,167.4 182.9,166.5 183.5,165.5 184.0,164.6 184.5,163.6 185.1,162.7 185.6,161.8 186.1,160.9 186.7,161.0 187.2,161.1 187.7,161.3 188.3,161.5 188.8,161.8 189.3,162.0 189.9,162.4 190.4,162.7 190.9,163.1 191.5,163.6 192.0,164.1 192.5,164.7 193.0,165.2 193.6,165.8 194.1,166.6 194.6,167.9 195.2,169.2 195.7,170.4 196.2,171.7 196.8,173.0 197.3,174.3 197.8,175.5 198.4,176.7 198.9,177.4 199.4,177.6 200.0,177.7 200.5,177.9 201.0,177.9 201.6,178.0 202.1,178.1 202.6,178.4 203.2,178.8 203.7,179.3 204.2,179.7 204.8,180.1 205.3,180.4 205.8,180.8 206.3,180.6 206.9,180.5 207.4,180.3 207.9,180.1 208.5,179.9 209.0,179.6 209.5,179.4 210.1,179.2 210.6,179.0 211.1,178.8 211.7,178.6 212.2,178.5 212.7,178.6 213.3,178.9 213.8,179.2 214.3,179.5 214.9,179.8 215.4,180.2 215.9,180.5 216.5,180.9 217.0,181.6 217.5,182.2 218.1,182.9 218.6,183.6 219.1,184.2 219.6,184.8 220.2,185.4 220.7,186.0 221.2,186.2 221.8,185.6 222.3,184.9 222.8,184.3 223.4,183.6 223.9,182.9 224.4,182.1 225.0,181.4 225.5,180.7" fill="none" stroke="#e0f070" stroke-width="1.45" stroke-linejoin="round"/>
<polyline points="26.0,99.9 26.5,100.0 27.1,100.1 27.6,100.2 28.1,100.3 28.7,100.4 29.2,100.4 29.7,100.5 30.3,100.6 30.8,100.7 31.3,100.8 31.9,100.9 32.4,101.0 32.9,101.1 33.4,101.2 34.0,101.3 34.5,101.4 35.0,101.6 35.6,101.7 36.1,101.8 36.6,101.9 37.2,102.0 37.7,102.2 38.2,102.3 38.8,102.4 39.3,102.5 39.8,102.8 40.4,103.2 40.9,103.5 41.4,103.8 42.0,104.1 42.5,104.9 43.0,105.6 43.6,106.3 44.1,107.1 44.6,107.8 45.2,107.7 45.7,107.6 46.2,107.5 46.7,107.4 47.3,107.3 47.8,107.6 48.3,107.9 48.9,108.2 49.4,108.4 49.9,108.7 50.5,109.1 51.0,109.4 51.5,109.7 52.1,110.0 52.6,110.4 53.1,110.7 53.7,110.6 54.2,110.3 54.7,110.0 55.3,109.7 55.8,109.4 56.3,109.1 56.9,108.9 57.4,108.6 57.9,108.5 58.5,108.4 59.0,108.3 59.5,108.2 60.0,108.1 60.6,108.0 61.1,107.9 61.6,107.9 62.2,108.0 62.7,108.1 63.2,108.2 63.8,108.3 64.3,108.4 64.8,108.5 65.4,108.6 65.9,108.7 66.4,108.9 67.0,109.2 67.5,109.4 68.0,109.6 68.6,109.9 69.1,110.1 69.6,110.3 70.2,110.5 70.7,110.8 71.2,111.0 71.8,111.2 72.3,111.5 72.8,111.7 73.3,112.0 73.9,112.2 74.4,112.4 74.9,112.7 75.5,113.0 76.0,113.4 76.5,113.8 77.1,114.2 77.6,114.6 78.1,115.0 78.7,115.5 79.2,116.0 79.7,116.5 80.3,116.6 80.8,116.6 81.3,116.6 81.9,116.6 82.4,116.8 82.9,117.1 83.5,117.4 84.0,117.6 84.5,117.9 85.1,118.3 85.6,118.7 86.1,119.2 86.6,119.6 87.2,120.0 87.7,120.5 88.2,120.4 88.8,120.2 89.3,120.0 89.8,119.8 90.4,119.6 90.9,119.4 91.4,119.3 92.0,119.1 92.5,119.0 93.0,118.9 93.6,118.7 94.1,118.6 94.6,118.5 95.2,118.3 95.7,118.4 96.2,118.4 96.8,118.5 97.3,118.5 97.8,118.6 98.4,118.6 98.9,118.7 99.4,118.7 99.9,118.8 100.5,118.9 101.0,119.0 101.5,119.1 102.1,119.3 102.6,119.4 103.1,119.6 103.7,119.7 104.2,119.8 104.7,120.0 105.3,120.2 105.8,120.5 106.3,120.8 106.9,121.1 107.4,121.5 107.9,121.7 108.5,121.8 109.0,121.9 109.5,122.7 110.1,124.2 110.6,126.2 111.1,128.6 111.7,131.4 112.2,134.4 112.7,137.5 113.2,140.5 113.8,143.4 114.3,146.0 114.8,148.3 115.4,150.0 115.9,151.2 116.4,151.6 117.0,151.0 117.5,150.4 118.0,149.9 118.6,149.5 119.1,149.0 119.6,148.5 120.2,148.1 120.7,147.6 121.2,147.1 121.8,146.6 122.3,146.2 122.8,145.7 123.4,145.2 123.9,144.7 124.4,144.6 125.0,144.9 125.5,145.1 126.0,144.7 126.5,144.0 127.1,143.3 127.6,142.7 128.1,142.0 128.7,141.4 129.2,140.7 129.7,140.0 130.3,139.5 130.8,139.1 131.3,138.6 131.9,138.1 132.4,137.7 132.9,137.2 133.5,136.8 134.0,136.4 134.5,136.0 135.1,135.7 135.6,135.5 136.1,135.2 136.7,135.0 137.2,134.7 137.7,134.5 138.3,134.3 138.8,134.1 139.3,134.0 139.8,133.8 140.4,133.7 140.9,133.5 141.4,133.4 142.0,133.3 142.5,133.2 143.0,133.1 143.6,133.3 144.1,134.4 144.6,135.5 145.2,136.6 145.7,137.3 146.2,138.0 146.8,138.6 147.3,138.1 147.8,137.7 148.4,137.2 148.9,136.8 149.4,136.8 150.0,136.9 150.5,137.0 151.0,137.0 151.6,137.1 152.1,136.9 152.6,136.6 153.1,136.3 153.7,135.9 154.2,135.5 154.7,135.2 155.3,135.1 155.8,134.9 156.3,134.8 156.9,134.7 157.4,134.6 157.9,134.5 158.5,134.4 159.0,134.3 159.5,134.2 160.1,134.1 160.6,134.1 161.1,134.1 161.7,134.2 162.2,134.3 162.7,134.4 163.3,134.6 163.8,134.7 164.3,134.9 164.9,135.0 165.4,135.4 165.9,135.8 166.4,136.3 167.0,136.8 167.5,137.3 168.0,137.7 168.6,138.2 169.1,138.7 169.6,139.3 170.2,139.9 170.7,140.6 171.2,141.2 171.8,141.9 172.3,142.5 172.8,143.2 173.4,145.0 173.9,147.8 174.4,151.1 175.0,154.8 175.5,158.4 176.0,161.8 176.6,164.5 177.1,166.4 177.6,167.1 178.2,167.2 178.7,167.4 179.2,167.5 179.7,167.6 180.3,167.6 180.8,167.7 181.3,167.7 181.9,167.0 182.4,166.0 182.9,165.1 183.5,164.1 184.0,163.1 184.5,162.1 185.1,161.1 185.6,160.2 186.1,159.3 186.7,159.4 187.2,159.5 187.7,159.7 188.3,159.9 188.8,160.2 189.3,160.5 189.9,160.8 190.4,161.2 190.9,161.6 191.5,162.1 192.0,162.6 192.5,163.2 193.0,163.8 193.6,164.4 194.1,165.2 194.6,166.5 195.2,167.8 195.7,169.1 196.2,170.5 196.8,171.8 197.3,173.1 197.8,174.4 198.4,175.7 198.9,176.4 199.4,176.6 200.0,176.7 200.5,176.8 201.0,176.9 201.6,177.0 202.1,177.0 202.6,177.4 203.2,177.8 203.7,178.3 204.2,178.7 204.8,179.1 205.3,179.5 205.8,179.8 206.3,179.7 206.9,179.5 207.4,179.3 207.9,179.1 208.5,178.9 209.0,178.7 209.5,178.4 210.1,178.2 210.6,178.0 211.1,177.8 211.7,177.6 212.2,177.5 212.7,177.6 213.3,177.9 213.8,178.2 214.3,178.5 214.9,178.8 215.4,179.2 215.9,179.6 216.5,179.9 217.0,180.6 217.5,181.3 218.1,182.0 218.6,182.7 219.1,183.4 219.6,184.0 220.2,184.6 220.7,185.2 221.2,185.4 221.8,184.8 222.3,184.1 222.8,183.4 223.4,182.7 223.9,182.0 224.4,181.2 225.0,180.5 225.5,179.7" fill="none" stroke="#40b840" stroke-width="1.45" stroke-linejoin="round"/>
<polyline points="26.0,103.5 26.5,103.6 27.1,103.7 27.6,103.8 28.1,103.9 28.7,104.1 29.2,104.2 29.7,104.3 30.3,104.4 30.8,104.5 31.3,104.6 31.9,104.7 32.4,104.8 32.9,104.9 33.4,105.1 34.0,105.2 34.5,105.3 35.0,105.5 35.6,105.6 36.1,105.7 36.6,105.9 37.2,106.0 37.7,106.2 38.2,106.3 38.8,106.4 39.3,106.6 39.8,106.9 40.4,107.2 40.9,107.6 41.4,107.9 42.0,108.2 42.5,109.0 43.0,109.7 43.6,110.4 44.1,111.2 44.6,111.9 45.2,111.8 45.7,111.7 46.2,111.7 46.7,111.6 47.3,111.5 47.8,111.8 48.3,112.1 48.9,112.4 49.4,112.7 49.9,113.0 50.5,113.3 51.0,113.6 51.5,114.0 52.1,114.3 52.6,114.7 53.1,115.0 53.7,114.9 54.2,114.6 54.7,114.4 55.3,114.1 55.8,113.9 56.3,113.6 56.9,113.4 57.4,113.2 57.9,113.1 58.5,113.0 59.0,112.9 59.5,112.9 60.0,112.8 60.6,112.7 61.1,112.6 61.6,112.6 62.2,112.7 62.7,112.9 63.2,113.0 63.8,113.1 64.3,113.2 64.8,113.3 65.4,113.5 65.9,113.6 66.4,113.8 67.0,114.1 67.5,114.3 68.0,114.6 68.6,114.8 69.1,115.0 69.6,115.3 70.2,115.5 70.7,115.8 71.2,116.0 71.8,116.3 72.3,116.5 72.8,116.8 73.3,117.0 73.9,117.3 74.4,117.5 74.9,117.8 75.5,118.1 76.0,118.5 76.5,118.9 77.1,119.3 77.6,119.7 78.1,120.2 78.7,120.7 79.2,121.2 79.7,121.7 80.3,121.8 80.8,121.8 81.3,121.8 81.9,121.8 82.4,122.1 82.9,122.3 83.5,122.6 84.0,122.9 84.5,123.2 85.1,123.6 85.6,124.0 86.1,124.5 86.6,124.9 87.2,125.4 87.7,125.8 88.2,125.8 88.8,125.6 89.3,125.4 89.8,125.3 90.4,125.1 90.9,124.9 91.4,124.8 92.0,124.7 92.5,124.6 93.0,124.5 93.6,124.3 94.1,124.2 94.6,124.1 95.2,124.0 95.7,124.1 96.2,124.2 96.8,124.2 97.3,124.3 97.8,124.4 98.4,124.4 98.9,124.5 99.4,124.6 99.9,124.7 100.5,124.7 101.0,124.9 101.5,125.0 102.1,125.2 102.6,125.3 103.1,125.5 103.7,125.7 104.2,125.8 104.7,126.0 105.3,126.2 105.8,126.5 106.3,126.8 106.9,127.2 107.4,127.5 107.9,127.8 108.5,127.9 109.0,128.0 109.5,128.9 110.1,130.6 110.6,132.9 111.1,135.7 111.7,138.9 112.2,142.3 112.7,145.8 113.2,149.2 113.8,152.5 114.3,155.5 114.8,158.1 115.4,160.1 115.9,161.4 116.4,161.9 117.0,161.4 117.5,160.9 118.0,160.5 118.6,160.1 119.1,159.7 119.6,159.4 120.2,159.0 120.7,158.6 121.2,158.2 121.8,157.8 122.3,157.4 122.8,157.0 123.4,156.6 123.9,156.2 124.4,156.1 125.0,156.3 125.5,156.5 126.0,156.2 126.5,155.6 127.1,155.1 127.6,154.6 128.1,154.0 128.7,153.5 129.2,152.9 129.7,152.4 130.3,152.0 130.8,151.6 131.3,151.2 131.9,150.8 132.4,150.5 132.9,150.1 133.5,149.7 134.0,149.4 134.5,149.1 135.1,148.8 135.6,148.6 136.1,148.4 136.7,148.2 137.2,148.0 137.7,147.9 138.3,147.7 138.8,147.5 139.3,147.4 139.8,147.3 140.4,147.1 140.9,147.0 141.4,146.9 142.0,146.8 142.5,146.8 143.0,146.7 143.6,146.9 144.1,147.8 144.6,148.7 145.2,149.6 145.7,150.2 146.2,150.7 146.8,151.2 147.3,150.8 147.8,150.5 148.4,150.1 148.9,149.7 149.4,149.8 150.0,149.8 150.5,149.9 151.0,149.9 151.6,150.0 152.1,149.8 152.6,149.6 153.1,149.3 153.7,149.0 154.2,148.7 154.7,148.4 155.3,148.3 155.8,148.2 156.3,148.1 156.9,148.0 157.4,147.9 157.9,147.8 158.5,147.7 159.0,147.7 159.5,147.6 160.1,147.5 160.6,147.5 161.1,147.6 161.7,147.6 162.2,147.7 162.7,147.8 163.3,147.9 163.8,148.0 164.3,148.1 164.9,148.3 165.4,148.6 165.9,148.9 166.4,149.3 167.0,149.7 167.5,150.1 168.0,150.5 168.6,150.9 169.1,151.3 169.6,151.8 170.2,152.3 170.7,152.8 171.2,153.4 171.8,153.9 172.3,154.4 172.8,154.8 173.4,156.0 173.9,157.7 174.4,159.8 175.0,162.1 175.5,164.4 176.0,166.5 176.6,168.2 177.1,169.4 177.6,169.8 178.2,169.9 178.7,170.1 179.2,170.2 179.7,170.3 180.3,170.3 180.8,170.4 181.3,170.4 181.9,169.7 182.4,168.8 182.9,167.9 183.5,167.0 184.0,166.1 184.5,165.2 185.1,164.3 185.6,163.4 186.1,162.5 186.7,162.6 187.2,162.7 187.7,162.9 188.3,163.1 188.8,163.3 189.3,163.6 189.9,163.9 190.4,164.3 190.9,164.7 191.5,165.1 192.0,165.6 192.5,166.2 193.0,166.7 193.6,167.3 194.1,168.1 194.6,169.3 195.2,170.5 195.7,171.7 196.2,173.0 196.8,174.2 197.3,175.4 197.8,176.6 198.4,177.8 198.9,178.5 199.4,178.7 200.0,178.8 200.5,178.9 201.0,179.0 201.6,179.1 202.1,179.1 202.6,179.4 203.2,179.9 203.7,180.3 204.2,180.6 204.8,181.0 205.3,181.4 205.8,181.7 206.3,181.6 206.9,181.4 207.4,181.2 207.9,181.0 208.5,180.8 209.0,180.6 209.5,180.4 210.1,180.2 210.6,180.0 211.1,179.8 211.7,179.7 212.2,179.5 212.7,179.7 213.3,179.9 213.8,180.2 214.3,180.5 214.9,180.8 215.4,181.1 215.9,181.5 216.5,181.8 217.0,182.5 217.5,183.2 218.1,183.8 218.6,184.4 219.1,185.1 219.6,185.6 220.2,186.2 220.7,186.7 221.2,187.0 221.8,186.4 222.3,185.8 222.8,185.1 223.4,184.4 223.9,183.7 224.4,183.0 225.0,182.3 225.5,181.6" fill="none" stroke="#205060" stroke-width="1.45" stroke-linejoin="round"/>
<polyline points="26.0,120.2 26.5,120.3 27.1,120.5 27.6,120.6 28.1,120.7 28.7,120.8 29.2,120.9 29.7,121.1 30.3,121.2 30.8,121.3 31.3,121.4 31.9,121.5 32.4,121.7 32.9,121.8 33.4,121.9 34.0,122.1 34.5,122.2 35.0,122.4 35.6,122.5 36.1,122.6 36.6,122.8 37.2,122.9 37.7,123.1 38.2,123.2 38.8,123.4 39.3,123.5 39.8,123.8 40.4,124.1 40.9,124.4 41.4,124.7 42.0,125.1 42.5,125.7 43.0,126.3 43.6,127.0 44.1,127.6 44.6,128.3 45.2,128.2 45.7,128.2 46.2,128.2 46.7,128.2 47.3,128.1 47.8,128.4 48.3,128.7 48.9,128.9 49.4,129.2 49.9,129.5 50.5,129.8 51.0,130.1 51.5,130.4 52.1,130.7 52.6,131.0 53.1,131.4 53.7,131.3 54.2,131.1 54.7,130.9 55.3,130.7 55.8,130.6 56.3,130.4 56.9,130.2 57.4,130.0 57.9,130.0 58.5,130.0 59.0,129.9 59.5,129.9 60.0,129.9 60.6,129.8 61.1,129.8 61.6,129.8 62.2,129.9 62.7,130.1 63.2,130.2 63.8,130.3 64.3,130.5 64.8,130.6 65.4,130.7 65.9,130.9 66.4,131.1 67.0,131.3 67.5,131.6 68.0,131.8 68.6,132.0 69.1,132.3 69.6,132.5 70.2,132.7 70.7,133.0 71.2,133.2 71.8,133.4 72.3,133.7 72.8,133.9 73.3,134.1 73.9,134.4 74.4,134.6 74.9,134.9 75.5,135.2 76.0,135.5 76.5,135.9 77.1,136.3 77.6,136.6 78.1,137.0 78.7,137.5 79.2,138.0 79.7,138.4 80.3,138.5 80.8,138.6 81.3,138.6 81.9,138.6 82.4,138.9 82.9,139.2 83.5,139.4 84.0,139.7 84.5,139.9 85.1,140.3 85.6,140.7 86.1,141.1 86.6,141.5 87.2,141.9 87.7,142.3 88.2,142.3 88.8,142.2 89.3,142.1 89.8,142.0 90.4,141.9 90.9,141.8 91.4,141.7 92.0,141.6 92.5,141.5 93.0,141.5 93.6,141.4 94.1,141.3 94.6,141.3 95.2,141.2 95.7,141.3 96.2,141.4 96.8,141.5 97.3,141.6 97.8,141.7 98.4,141.8 98.9,141.8 99.4,141.9 99.9,142.0 100.5,142.1 101.0,142.3 101.5,142.4 102.1,142.6 102.6,142.7 103.1,142.9 103.7,143.1 104.2,143.2 104.7,143.4 105.3,143.6 105.8,143.9 106.3,144.2 106.9,144.5 107.4,144.8 107.9,145.1 108.5,145.2 109.0,145.4 109.5,146.2 110.1,147.7 110.6,149.8 111.1,152.4 111.7,155.3 112.2,158.4 112.7,161.6 113.2,164.8 113.8,167.9 114.3,170.6 114.8,173.0 115.4,174.8 115.9,176.0 116.4,176.4 117.0,176.1 117.5,175.8 118.0,175.5 118.6,175.2 119.1,175.0 119.6,174.7 120.2,174.4 120.7,174.2 121.2,173.9 121.8,173.6 122.3,173.4 122.8,173.1 123.4,172.8 123.9,172.6 124.4,172.5 125.0,172.6 125.5,172.8 126.0,172.5 126.5,172.1 127.1,171.8 127.6,171.4 128.1,171.0 128.7,170.6 129.2,170.3 129.7,169.9 130.3,169.6 130.8,169.3 131.3,169.1 131.9,168.8 132.4,168.6 132.9,168.3 133.5,168.1 134.0,167.8 134.5,167.6 135.1,167.4 135.6,167.3 136.1,167.1 136.7,167.0 137.2,166.9 137.7,166.8 138.3,166.6 138.8,166.5 139.3,166.4 139.8,166.3 140.4,166.3 140.9,166.2 141.4,166.1 142.0,166.1 142.5,166.0 143.0,165.9 143.6,166.1 144.1,166.7 144.6,167.3 145.2,167.9 145.7,168.4 146.2,168.7 146.8,169.1 147.3,168.8 147.8,168.6 148.4,168.3 148.9,168.0 149.4,168.1 150.0,168.1 150.5,168.2 151.0,168.2 151.6,168.2 152.1,168.1 152.6,167.9 153.1,167.7 153.7,167.5 154.2,167.3 154.7,167.1 155.3,167.1 155.8,167.0 156.3,166.9 156.9,166.9 157.4,166.8 157.9,166.7 158.5,166.7 159.0,166.6 159.5,166.6 160.1,166.5 160.6,166.5 161.1,166.5 161.7,166.6 162.2,166.7 162.7,166.7 163.3,166.8 163.8,166.9 164.3,166.9 164.9,167.0 165.4,167.3 165.9,167.5 166.4,167.8 167.0,168.0 167.5,168.3 168.0,168.6 168.6,168.9 169.1,169.1 169.6,169.5 170.2,169.8 170.7,170.2 171.2,170.6 171.8,170.9 172.3,171.3 172.8,171.8 173.4,173.3 173.9,175.5 174.4,178.1 175.0,181.0 175.5,183.9 176.0,186.6 176.6,188.7 177.1,190.2 177.6,190.8 178.2,190.8 178.7,190.9 179.2,190.9 179.7,191.0 180.3,191.0 180.8,191.0 181.3,191.0 181.9,190.7 182.4,190.3 182.9,189.9 183.5,189.5 184.0,189.0 184.5,188.6 185.1,188.2 185.6,187.8 186.1,187.4 186.7,187.4 187.2,187.5 187.7,187.6 188.3,187.7 188.8,187.8 189.3,187.9 189.9,188.0 190.4,188.2 190.9,188.4 191.5,188.6 192.0,188.8 192.5,189.1 193.0,189.3 193.6,189.6 194.1,190.0 194.6,190.5 195.2,191.1 195.7,191.7 196.2,192.2 196.8,192.8 197.3,193.4 197.8,194.0 198.4,194.5 198.9,194.8 199.4,194.9 200.0,195.0 200.5,195.0 201.0,195.0 201.6,195.1 202.1,195.1 202.6,195.2 203.2,195.4 203.7,195.6 204.2,195.8 204.8,196.0 205.3,196.2 205.8,196.3 206.3,196.3 206.9,196.2 207.4,196.1 207.9,196.0 208.5,195.9 209.0,195.8 209.5,195.7 210.1,195.6 210.6,195.5 211.1,195.4 211.7,195.4 212.2,195.3 212.7,195.4 213.3,195.5 213.8,195.6 214.3,195.7 214.9,195.9 215.4,196.0 215.9,196.2 216.5,196.4 217.0,196.7 217.5,197.0 218.1,197.3 218.6,197.6 219.1,197.9 219.6,198.1 220.2,198.4 220.7,198.7 221.2,198.8 221.8,198.5 222.3,198.2 222.8,197.9 223.4,197.6 223.9,197.3 224.4,196.9 225.0,196.6 225.5,196.3" fill="none" stroke="#f08050" stroke-width="1.45" stroke-linejoin="round"/>
<polyline points="26.0,126.1 26.5,126.1 27.1,126.2 27.6,126.3 28.1,126.4 28.7,126.5 29.2,126.6 29.7,126.7 30.3,126.8 30.8,126.9 31.3,127.0 31.9,127.1 32.4,127.2 32.9,127.3 33.4,127.4 34.0,127.5 34.5,127.6 35.0,127.7 35.6,127.8 36.1,127.9 36.6,128.0 37.2,128.1 37.7,128.3 38.2,128.4 38.8,128.5 39.3,128.6 39.8,128.9 40.4,129.1 40.9,129.4 41.4,129.7 42.0,129.9 42.5,130.5 43.0,131.1 43.6,131.7 44.1,132.3 44.6,132.8 45.2,132.8 45.7,132.7 46.2,132.7 46.7,132.6 47.3,132.6 47.8,132.8 48.3,133.0 48.9,133.3 49.4,133.5 49.9,133.7 50.5,134.0 51.0,134.3 51.5,134.6 52.1,134.8 52.6,135.1 53.1,135.4 53.7,135.3 54.2,135.1 54.7,134.9 55.3,134.7 55.8,134.5 56.3,134.3 56.9,134.1 57.4,134.0 57.9,133.9 58.5,133.9 59.0,133.8 59.5,133.7 60.0,133.7 60.6,133.6 61.1,133.6 61.6,133.6 62.2,133.7 62.7,133.8 63.2,133.9 63.8,134.0 64.3,134.1 64.8,134.2 65.4,134.3 65.9,134.4 66.4,134.6 67.0,134.8 67.5,135.0 68.0,135.2 68.6,135.4 69.1,135.6 69.6,135.8 70.2,135.9 70.7,136.1 71.2,136.3 71.8,136.5 72.3,136.7 72.8,137.0 73.3,137.2 73.9,137.4 74.4,137.6 74.9,137.8 75.5,138.0 76.0,138.3 76.5,138.7 77.1,139.0 77.6,139.3 78.1,139.7 78.7,140.1 79.2,140.5 79.7,140.9 80.3,141.0 80.8,141.0 81.3,141.0 81.9,141.0 82.4,141.2 82.9,141.4 83.5,141.7 84.0,141.9 84.5,142.1 85.1,142.5 85.6,142.8 86.1,143.2 86.6,143.5 87.2,143.9 87.7,144.2 88.2,144.2 88.8,144.1 89.3,143.9 89.8,143.8 90.4,143.7 90.9,143.6 91.4,143.4 92.0,143.4 92.5,143.3 93.0,143.2 93.6,143.1 94.1,143.0 94.6,143.0 95.2,142.9 95.7,142.9 96.2,143.0 96.8,143.1 97.3,143.1 97.8,143.2 98.4,143.2 98.9,143.3 99.4,143.4 99.9,143.4 100.5,143.5 101.0,143.6 101.5,143.7 102.1,143.9 102.6,144.0 103.1,144.1 103.7,144.3 104.2,144.4 104.7,144.5 105.3,144.7 105.8,144.9 106.3,145.2 106.9,145.5 107.4,145.8 107.9,146.0 108.5,146.1 109.0,146.2 109.5,146.9 110.1,148.2 110.6,150.0 111.1,152.2 111.7,154.6 112.2,157.3 112.7,160.0 113.2,162.7 113.8,165.3 114.3,167.6 114.8,169.6 115.4,171.2 115.9,172.2 116.4,172.6 117.0,172.2 117.5,171.9 118.0,171.5 118.6,171.2 119.1,170.9 119.6,170.6 120.2,170.3 120.7,170.0 121.2,169.7 121.8,169.4 122.3,169.1 122.8,168.8 123.4,168.5 123.9,168.2 124.4,168.2 125.0,168.3 125.5,168.5 126.0,168.2 126.5,167.8 127.1,167.4 127.6,166.9 128.1,166.5 128.7,166.1 129.2,165.7 129.7,165.3 130.3,164.9 130.8,164.6 131.3,164.3 131.9,164.0 132.4,163.8 132.9,163.5 133.5,163.2 134.0,162.9 134.5,162.7 135.1,162.5 135.6,162.3 136.1,162.2 136.7,162.0 137.2,161.9 137.7,161.8 138.3,161.6 138.8,161.5 139.3,161.4 139.8,161.3 140.4,161.2 140.9,161.1 141.4,161.0 142.0,161.0 142.5,160.9 143.0,160.8 143.6,161.0 144.1,161.7 144.6,162.4 145.2,163.1 145.7,163.5 146.2,163.9 146.8,164.3 147.3,164.1 147.8,163.8 148.4,163.5 148.9,163.2 149.4,163.2 150.0,163.3 150.5,163.3 151.0,163.4 151.6,163.4 152.1,163.3 152.6,163.1 153.1,162.9 153.7,162.6 154.2,162.4 154.7,162.2 155.3,162.1 155.8,162.0 156.3,161.9 156.9,161.9 157.4,161.8 157.9,161.7 158.5,161.7 159.0,161.6 159.5,161.6 160.1,161.5 160.6,161.5 161.1,161.5 161.7,161.6 162.2,161.6 162.7,161.7 163.3,161.8 163.8,161.9 164.3,162.0 164.9,162.1 165.4,162.3 165.9,162.6 166.4,162.9 167.0,163.2 167.5,163.5 168.0,163.8 168.6,164.1 169.1,164.4 169.6,164.8 170.2,165.2 170.7,165.6 171.2,166.0 171.8,166.4 172.3,166.8 172.8,167.3 173.4,168.6 173.9,170.6 174.4,173.0 175.0,175.6 175.5,178.2 176.0,180.6 176.6,182.6 177.1,183.9 177.6,184.4 178.2,184.5 178.7,184.6 179.2,184.6 179.7,184.7 180.3,184.7 180.8,184.8 181.3,184.8 181.9,184.4 182.4,183.8 182.9,183.2 183.5,182.6 184.0,182.0 184.5,181.5 185.1,180.9 185.6,180.3 186.1,179.8 186.7,179.9 187.2,179.9 187.7,180.1 188.3,180.2 188.8,180.3 189.3,180.5 189.9,180.7 190.4,180.9 190.9,181.2 191.5,181.5 192.0,181.8 192.5,182.1 193.0,182.5 193.6,182.8 194.1,183.3 194.6,184.1 195.2,184.8 195.7,185.6 196.2,186.4 196.8,187.2 197.3,187.9 197.8,188.7 198.4,189.4 198.9,189.9 199.4,190.0 200.0,190.0 200.5,190.1 201.0,190.2 201.6,190.2 202.1,190.2 202.6,190.4 203.2,190.7 203.7,191.0 204.2,191.2 204.8,191.4 205.3,191.7 205.8,191.9 206.3,191.8 206.9,191.7 207.4,191.6 207.9,191.4 208.5,191.3 209.0,191.2 209.5,191.1 210.1,190.9 210.6,190.8 211.1,190.7 211.7,190.6 212.2,190.5 212.7,190.6 213.3,190.7 213.8,190.9 214.3,191.1 214.9,191.3 215.4,191.5 215.9,191.7 216.5,191.9 217.0,192.4 217.5,192.8 218.1,193.2 218.6,193.6 219.1,194.0 219.6,194.3 220.2,194.7 220.7,195.0 221.2,195.2 221.8,194.8 222.3,194.4 222.8,194.0 223.4,193.6 223.9,193.1 224.4,192.7 225.0,192.3 225.5,191.8" fill="none" stroke="#3a9ab8" stroke-width="1.45" stroke-linejoin="round"/>
<polyline points="26.0,129.7 26.5,129.7 27.1,129.8 27.6,129.9 28.1,129.9 28.7,130.0 29.2,130.1 29.7,130.1 30.3,130.2 30.8,130.3 31.3,130.3 31.9,130.4 32.4,130.5 32.9,130.5 33.4,130.6 34.0,130.7 34.5,130.8 35.0,130.9 35.6,131.0 36.1,131.1 36.6,131.1 37.2,131.2 37.7,131.3 38.2,131.4 38.8,131.5 39.3,131.6 39.8,131.8 40.4,132.1 40.9,132.3 41.4,132.5 42.0,132.8 42.5,133.3 43.0,133.8 43.6,134.4 44.1,134.9 44.6,135.4 45.2,135.4 45.7,135.3 46.2,135.2 46.7,135.2 47.3,135.1 47.8,135.3 48.3,135.5 48.9,135.7 49.4,135.9 49.9,136.1 50.5,136.3 51.0,136.6 51.5,136.8 52.1,137.0 52.6,137.3 53.1,137.5 53.7,137.4 54.2,137.2 54.7,137.0 55.3,136.8 55.8,136.6 56.3,136.4 56.9,136.2 57.4,136.0 57.9,135.9 58.5,135.9 59.0,135.8 59.5,135.7 60.0,135.7 60.6,135.6 61.1,135.5 61.6,135.5 62.2,135.6 62.7,135.6 63.2,135.7 63.8,135.8 64.3,135.9 64.8,135.9 65.4,136.0 65.9,136.1 66.4,136.3 67.0,136.4 67.5,136.6 68.0,136.8 68.6,136.9 69.1,137.1 69.6,137.3 70.2,137.4 70.7,137.6 71.2,137.8 71.8,137.9 72.3,138.1 72.8,138.3 73.3,138.5 73.9,138.6 74.4,138.8 74.9,139.0 75.5,139.2 76.0,139.5 76.5,139.8 77.1,140.1 77.6,140.3 78.1,140.7 78.7,141.0 79.2,141.4 79.7,141.8 80.3,141.8 80.8,141.8 81.3,141.8 81.9,141.8 82.4,142.0 82.9,142.2 83.5,142.4 84.0,142.6 84.5,142.7 85.1,143.1 85.6,143.4 86.1,143.7 86.6,144.0 87.2,144.3 87.7,144.6 88.2,144.6 88.8,144.5 89.3,144.3 89.8,144.2 90.4,144.0 90.9,143.9 91.4,143.8 92.0,143.7 92.5,143.6 93.0,143.5 93.6,143.4 94.1,143.3 94.6,143.2 95.2,143.1 95.7,143.1 96.2,143.2 96.8,143.2 97.3,143.2 97.8,143.3 98.4,143.3 98.9,143.3 99.4,143.4 99.9,143.4 100.5,143.5 101.0,143.6 101.5,143.7 102.1,143.8 102.6,143.9 103.1,144.0 103.7,144.1 104.2,144.2 104.7,144.3 105.3,144.4 105.8,144.6 106.3,144.9 106.9,145.1 107.4,145.4 107.9,145.6 108.5,145.6 109.0,145.7 109.5,146.2 110.1,147.2 110.6,148.6 111.1,150.3 111.7,152.2 112.2,154.3 112.7,156.4 113.2,158.5 113.8,160.5 114.3,162.3 114.8,163.9 115.4,165.1 115.9,165.9 116.4,166.1 117.0,165.7 117.5,165.3 118.0,164.9 118.6,164.6 119.1,164.2 119.6,163.9 120.2,163.5 120.7,163.2 121.2,162.8 121.8,162.5 122.3,162.1 122.8,161.8 123.4,161.4 123.9,161.0 124.4,161.0 125.0,161.1 125.5,161.3 126.0,161.0 126.5,160.5 127.1,160.0 127.6,159.5 128.1,159.0 128.7,158.5 129.2,158.0 129.7,157.5 130.3,157.1 130.8,156.8 131.3,156.5 131.9,156.1 132.4,155.8 132.9,155.4 133.5,155.1 134.0,154.8 134.5,154.5 135.1,154.3 135.6,154.1 136.1,153.9 136.7,153.7 137.2,153.6 137.7,153.4 138.3,153.3 138.8,153.1 139.3,153.0 139.8,152.9 140.4,152.8 140.9,152.7 141.4,152.6 142.0,152.5 142.5,152.4 143.0,152.4 143.6,152.5 144.1,153.3 144.6,154.1 145.2,155.0 145.7,155.5 146.2,156.0 146.8,156.4 147.3,156.1 147.8,155.8 148.4,155.4 148.9,155.1 149.4,155.2 150.0,155.2 150.5,155.3 151.0,155.3 151.6,155.3 152.1,155.2 152.6,155.0 153.1,154.7 153.7,154.4 154.2,154.2 154.7,153.9 155.3,153.8 155.8,153.7 156.3,153.6 156.9,153.5 157.4,153.5 157.9,153.4 158.5,153.3 159.0,153.2 159.5,153.2 160.1,153.1 160.6,153.1 161.1,153.1 161.7,153.2 162.2,153.3 162.7,153.4 163.3,153.5 163.8,153.6 164.3,153.7 164.9,153.8 165.4,154.1 165.9,154.4 166.4,154.8 167.0,155.1 167.5,155.5 168.0,155.8 168.6,156.2 169.1,156.6 169.6,157.0 170.2,157.5 170.7,157.9 171.2,158.4 171.8,158.9 172.3,159.4 172.8,160.0 173.4,161.7 173.9,164.2 174.4,167.2 175.0,170.5 175.5,173.8 176.0,176.8 176.6,179.3 177.1,181.0 177.6,181.7 178.2,181.8 178.7,181.8 179.2,181.9 179.7,182.0 180.3,182.0 180.8,182.1 181.3,182.1 181.9,181.6 182.4,181.0 182.9,180.3 183.5,179.7 184.0,179.1 184.5,178.4 185.1,177.8 185.6,177.2 186.1,176.6 186.7,176.6 187.2,176.7 187.7,176.8 188.3,177.0 188.8,177.2 189.3,177.3 189.9,177.6 190.4,177.8 190.9,178.1 191.5,178.4 192.0,178.7 192.5,179.1 193.0,179.5 193.6,179.9 194.1,180.4 194.6,181.3 195.2,182.1 195.7,183.0 196.2,183.9 196.8,184.7 197.3,185.6 197.8,186.4 198.4,187.3 198.9,187.7 199.4,187.8 200.0,187.9 200.5,188.0 201.0,188.1 201.6,188.1 202.1,188.1 202.6,188.4 203.2,188.7 203.7,188.9 204.2,189.2 204.8,189.5 205.3,189.7 205.8,190.0 206.3,189.9 206.9,189.8 207.4,189.6 207.9,189.5 208.5,189.4 209.0,189.2 209.5,189.1 210.1,188.9 210.6,188.8 211.1,188.7 211.7,188.5 212.2,188.4 212.7,188.5 213.3,188.7 213.8,188.9 214.3,189.1 214.9,189.3 215.4,189.6 215.9,189.8 216.5,190.0 217.0,190.5 217.5,191.0 218.1,191.4 218.6,191.9 219.1,192.3 219.6,192.7 220.2,193.1 220.7,193.5 221.2,193.6 221.8,193.2 222.3,192.8 222.8,192.3 223.4,191.9 223.9,191.4 224.4,190.9 225.0,190.4 225.5,189.9" fill="none" stroke="#b0f0e8" stroke-width="1.45" stroke-linejoin="round"/>
<polyline points="26.0,154.7 26.5,154.8 27.1,154.8 27.6,154.9 28.1,154.9 28.7,155.0 29.2,155.0 29.7,155.1 30.3,155.1 30.8,155.2 31.3,155.2 31.9,155.2 32.4,155.3 32.9,155.4 33.4,155.4 34.0,155.5 34.5,155.5 35.0,155.6 35.6,155.7 36.1,155.7 36.6,155.8 37.2,155.9 37.7,155.9 38.2,156.0 38.8,156.1 39.3,156.1 39.8,156.3 40.4,156.5 40.9,156.7 41.4,157.0 42.0,157.2 42.5,157.6 43.0,158.1 43.6,158.6 44.1,159.0 44.6,159.5 45.2,159.4 45.7,159.4 46.2,159.3 46.7,159.2 47.3,159.2 47.8,159.3 48.3,159.5 48.9,159.7 49.4,159.8 49.9,160.0 50.5,160.2 51.0,160.4 51.5,160.6 52.1,160.8 52.6,161.0 53.1,161.2 53.7,161.1 54.2,160.9 54.7,160.7 55.3,160.5 55.8,160.3 56.3,160.1 56.9,159.9 57.4,159.7 57.9,159.7 58.5,159.6 59.0,159.5 59.5,159.4 60.0,159.4 60.6,159.3 61.1,159.2 61.6,159.2 62.2,159.2 62.7,159.3 63.2,159.3 63.8,159.4 64.3,159.4 64.8,159.5 65.4,159.6 65.9,159.6 66.4,159.7 67.0,159.9 67.5,160.0 68.0,160.2 68.6,160.3 69.1,160.4 69.6,160.6 70.2,160.7 70.7,160.9 71.2,161.0 71.8,161.1 72.3,161.3 72.8,161.4 73.3,161.6 73.9,161.7 74.4,161.9 74.9,162.0 75.5,162.2 76.0,162.5 76.5,162.7 77.1,163.0 77.6,163.2 78.1,163.5 78.7,163.8 79.2,164.1 79.7,164.4 80.3,164.5 80.8,164.5 81.3,164.5 81.9,164.4 82.4,164.6 82.9,164.7 83.5,164.9 84.0,165.1 84.5,165.2 85.1,165.5 85.6,165.8 86.1,166.0 86.6,166.3 87.2,166.6 87.7,166.9 88.2,166.8 88.8,166.7 89.3,166.5 89.8,166.4 90.4,166.3 90.9,166.1 91.4,166.0 92.0,165.9 92.5,165.8 93.0,165.7 93.6,165.6 94.1,165.5 94.6,165.4 95.2,165.3 95.7,165.3 96.2,165.3 96.8,165.3 97.3,165.4 97.8,165.4 98.4,165.4 98.9,165.4 99.4,165.4 99.9,165.5 100.5,165.5 101.0,165.6 101.5,165.6 102.1,165.7 102.6,165.8 103.1,165.9 103.7,166.0 104.2,166.0 104.7,166.1 105.3,166.2 105.8,166.4 106.3,166.6 106.9,166.9 107.4,167.1 107.9,167.2 108.5,167.2 109.0,167.3 109.5,167.7 110.1,168.3 110.6,169.3 111.1,170.4 111.7,171.6 112.2,173.0 112.7,174.4 113.2,175.8 113.8,177.1 114.3,178.3 114.8,179.3 115.4,180.1 115.9,180.6 116.4,180.8 117.0,180.6 117.5,180.4 118.0,180.2 118.6,180.1 119.1,179.9 119.6,179.8 120.2,179.7 120.7,179.5 121.2,179.4 121.8,179.3 122.3,179.1 122.8,179.0 123.4,178.9 123.9,178.7 124.4,178.8 125.0,179.1 125.5,179.4 126.0,179.3 126.5,179.1 127.1,178.9 127.6,178.7 128.1,178.5 128.7,178.2 129.2,178.0 129.7,177.8 130.3,177.7 130.8,177.6 131.3,177.5 131.9,177.4 132.4,177.3 132.9,177.2 133.5,177.1 134.0,177.0 134.5,176.9 135.1,176.8 135.6,176.8 136.1,176.7 136.7,176.7 137.2,176.6 137.7,176.6 138.3,176.5 138.8,176.5 139.3,176.4 139.8,176.3 140.4,176.2 140.9,176.1 141.4,176.1 142.0,176.0 142.5,175.9 143.0,175.7 143.6,175.8 144.1,176.4 144.6,176.9 145.2,177.5 145.7,177.9 146.2,178.2 146.8,178.5 147.3,178.2 147.8,177.9 148.4,177.6 148.9,177.3 149.4,177.3 150.0,177.4 150.5,177.4 151.0,177.5 151.6,177.5 152.1,177.5 152.6,177.3 153.1,177.2 153.7,177.0 154.2,176.9 154.7,176.7 155.3,176.7 155.8,176.7 156.3,176.7 156.9,176.7 157.4,176.6 157.9,176.6 158.5,176.6 159.0,176.5 159.5,176.5 160.1,176.5 160.6,176.4 161.1,176.4 161.7,176.5 162.2,176.5 162.7,176.5 163.3,176.5 163.8,176.5 164.3,176.5 164.9,176.5 165.4,176.6 165.9,176.8 166.4,176.9 167.0,177.0 167.5,177.2 168.0,177.3 168.6,177.5 169.1,177.6 169.6,177.8 170.2,178.0 170.7,178.2 171.2,178.5 171.8,178.7 172.3,178.9 172.8,179.2 173.4,180.0 173.9,181.2 174.4,182.6 175.0,184.1 175.5,185.7 176.0,187.1 176.6,188.3 177.1,189.1 177.6,189.4 178.2,189.5 178.7,189.6 179.2,189.7 179.7,189.9 180.3,190.0 180.8,190.1 181.3,190.3 181.9,190.0 182.4,189.6 182.9,189.2 183.5,188.8 184.0,188.4 184.5,188.0 185.1,187.5 185.6,187.1 186.1,186.7 186.7,186.9 187.2,187.0 187.7,187.2 188.3,187.3 188.8,187.5 189.3,187.6 189.9,187.7 190.4,187.8 190.9,187.8 191.5,187.9 192.0,188.0 192.5,188.1 193.0,188.2 193.6,188.3 194.1,188.4 194.6,188.9 195.2,189.4 195.7,189.8 196.2,190.3 196.8,190.8 197.3,191.2 197.8,191.7 198.4,192.2 198.9,192.4 199.4,192.2 200.0,192.1 200.5,192.0 201.0,191.8 201.6,191.7 202.1,191.6 202.6,191.7 203.2,191.9 203.7,192.1 204.2,192.3 204.8,192.5 205.3,192.7 205.8,192.9 206.3,192.7 206.9,192.6 207.4,192.5 207.9,192.4 208.5,192.3 209.0,192.2 209.5,192.1 210.1,191.9 210.6,191.8 211.1,191.7 211.7,191.6 212.2,191.5 212.7,191.5 213.3,191.6 213.8,191.8 214.3,191.9 214.9,191.9 215.4,192.0 215.9,192.1 216.5,192.2 217.0,192.5 217.5,192.7 218.1,193.0 218.6,193.3 219.1,193.6 219.6,193.9 220.2,194.2 220.7,194.5 221.2,194.7 221.8,194.3 222.3,194.0 222.8,193.6 223.4,193.3 223.9,192.9 224.4,192.6 225.0,192.3 225.5,191.9" fill="none" stroke="#8040c0" stroke-width="1.45" stroke-linejoin="round"/>
<polyline points="26.0,162.8 26.5,162.8 27.1,162.9 27.6,162.9 28.1,163.0 28.7,163.0 29.2,163.0 29.7,163.1 30.3,163.1 30.8,163.1 31.3,163.2 31.9,163.2 32.4,163.3 32.9,163.3 33.4,163.4 34.0,163.4 34.5,163.5 35.0,163.5 35.6,163.6 36.1,163.6 36.6,163.7 37.2,163.7 37.7,163.8 38.2,163.8 38.8,163.9 39.3,163.9 39.8,164.0 40.4,164.2 40.9,164.3 41.4,164.5 42.0,164.6 42.5,164.9 43.0,165.2 43.6,165.5 44.1,165.8 44.6,166.1 45.2,166.1 45.7,166.1 46.2,166.0 46.7,166.0 47.3,166.0 47.8,166.1 48.3,166.2 48.9,166.3 49.4,166.4 49.9,166.5 50.5,166.7 51.0,166.8 51.5,167.0 52.1,167.1 52.6,167.2 53.1,167.4 53.7,167.3 54.2,167.2 54.7,167.1 55.3,167.0 55.8,166.8 56.3,166.7 56.9,166.6 57.4,166.5 57.9,166.4 58.5,166.4 59.0,166.4 59.5,166.3 60.0,166.3 60.6,166.2 61.1,166.2 61.6,166.2 62.2,166.2 62.7,166.3 63.2,166.3 63.8,166.4 64.3,166.4 64.8,166.4 65.4,166.5 65.9,166.5 66.4,166.6 67.0,166.7 67.5,166.8 68.0,166.9 68.6,167.0 69.1,167.1 69.6,167.2 70.2,167.3 70.7,167.4 71.2,167.5 71.8,167.6 72.3,167.7 72.8,167.8 73.3,167.9 73.9,168.0 74.4,168.1 74.9,168.2 75.5,168.3 76.0,168.5 76.5,168.7 77.1,168.8 77.6,169.0 78.1,169.2 78.7,169.4 79.2,169.6 79.7,169.8 80.3,169.9 80.8,169.9 81.3,169.9 81.9,169.9 82.4,170.0 82.9,170.1 83.5,170.2 84.0,170.3 84.5,170.4 85.1,170.6 85.6,170.8 86.1,171.0 86.6,171.1 87.2,171.3 87.7,171.5 88.2,171.5 88.8,171.4 89.3,171.3 89.8,171.2 90.4,171.2 90.9,171.1 91.4,171.0 92.0,170.9 92.5,170.9 93.0,170.8 93.6,170.8 94.1,170.7 94.6,170.7 95.2,170.6 95.7,170.6 96.2,170.6 96.8,170.7 97.3,170.7 97.8,170.7 98.4,170.7 98.9,170.8 99.4,170.8 99.9,170.8 100.5,170.8 101.0,170.9 101.5,170.9 102.1,171.0 102.6,171.1 103.1,171.1 103.7,171.2 104.2,171.2 104.7,171.3 105.3,171.4 105.8,171.5 106.3,171.7 106.9,171.8 107.4,171.9 107.9,172.0 108.5,172.1 109.0,172.1 109.5,172.5 110.1,173.1 110.6,174.0 111.1,175.2 111.7,176.4 112.2,177.7 112.7,179.1 113.2,180.5 113.8,181.8 114.3,183.0 114.8,184.0 115.4,184.8 115.9,185.3 116.4,185.5 117.0,185.3 117.5,185.2 118.0,185.1 118.6,185.0 119.1,184.9 119.6,184.8 120.2,184.7 120.7,184.7 121.2,184.6 121.8,184.5 122.3,184.4 122.8,184.3 123.4,184.2 123.9,184.2 124.4,184.2 125.0,184.4 125.5,184.6 126.0,184.5 126.5,184.4 127.1,184.2 127.6,184.1 128.1,184.0 128.7,183.8 129.2,183.7 129.7,183.6 130.3,183.5 130.8,183.4 131.3,183.3 131.9,183.3 132.4,183.2 132.9,183.1 133.5,183.1 134.0,183.0 134.5,182.9 135.1,182.9 135.6,182.9 136.1,182.9 136.7,182.8 137.2,182.8 137.7,182.8 138.3,182.7 138.8,182.7 139.3,182.6 139.8,182.6 140.4,182.5 140.9,182.5 141.4,182.4 142.0,182.4 142.5,182.3 143.0,182.3 143.6,182.3 144.1,182.6 144.6,183.0 145.2,183.3 145.7,183.6 146.2,183.7 146.8,183.9 147.3,183.7 147.8,183.6 148.4,183.4 148.9,183.2 149.4,183.2 150.0,183.3 150.5,183.3 151.0,183.3 151.6,183.4 152.1,183.3 152.6,183.2 153.1,183.1 153.7,183.0 154.2,183.0 154.7,182.9 155.3,182.9 155.8,182.8 156.3,182.8 156.9,182.8 157.4,182.8 157.9,182.8 158.5,182.8 159.0,182.7 159.5,182.7 160.1,182.7 160.6,182.7 161.1,182.7 161.7,182.7 162.2,182.7 162.7,182.7 163.3,182.7 163.8,182.7 164.3,182.7 164.9,182.7 165.4,182.8 165.9,182.9 166.4,183.0 167.0,183.1 167.5,183.1 168.0,183.2 168.6,183.3 169.1,183.4 169.6,183.5 170.2,183.7 170.7,183.8 171.2,184.0 171.8,184.1 172.3,184.2 172.8,184.5 173.4,185.1 173.9,185.9 174.4,187.0 175.0,188.2 175.5,189.3 176.0,190.4 176.6,191.3 177.1,191.9 177.6,192.1 178.2,192.2 178.7,192.3 179.2,192.3 179.7,192.4 180.3,192.5 180.8,192.6 181.3,192.7 181.9,192.5 182.4,192.3 182.9,192.0 183.5,191.7 184.0,191.4 184.5,191.2 185.1,190.9 185.6,190.6 186.1,190.3 186.7,190.4 187.2,190.6 187.7,190.6 188.3,190.7 188.8,190.8 189.3,190.9 189.9,191.0 190.4,191.0 190.9,191.1 191.5,191.2 192.0,191.2 192.5,191.3 193.0,191.4 193.6,191.4 194.1,191.5 194.6,191.8 195.2,192.1 195.7,192.4 196.2,192.7 196.8,193.1 197.3,193.4 197.8,193.7 198.4,194.0 198.9,194.1 199.4,194.0 200.0,194.0 200.5,193.9 201.0,193.8 201.6,193.7 202.1,193.7 202.6,193.7 203.2,193.9 203.7,194.0 204.2,194.1 204.8,194.2 205.3,194.4 205.8,194.5 206.3,194.4 206.9,194.3 207.4,194.3 207.9,194.2 208.5,194.1 209.0,194.0 209.5,194.0 210.1,193.9 210.6,193.8 211.1,193.8 211.7,193.7 212.2,193.6 212.7,193.6 213.3,193.7 213.8,193.8 214.3,193.9 214.9,193.9 215.4,194.0 215.9,194.0 216.5,194.1 217.0,194.3 217.5,194.4 218.1,194.6 218.6,194.8 219.1,195.0 219.6,195.2 220.2,195.4 220.7,195.6 221.2,195.7 221.8,195.5 222.3,195.2 222.8,195.0 223.4,194.8 223.9,194.6 224.4,194.4 225.0,194.1 225.5,193.9" fill="none" stroke="#8b6a2a" stroke-width="1.45" stroke-linejoin="round"/>
<polyline points="26.0,165.0 26.5,165.1 27.1,165.1 27.6,165.1 28.1,165.2 28.7,165.2 29.2,165.2 29.7,165.3 30.3,165.3 30.8,165.4 31.3,165.4 31.9,165.4 32.4,165.5 32.9,165.5 33.4,165.6 34.0,165.6 34.5,165.7 35.0,165.7 35.6,165.7 36.1,165.8 36.6,165.8 37.2,165.9 37.7,165.9 38.2,166.0 38.8,166.0 39.3,166.1 39.8,166.2 40.4,166.3 40.9,166.5 41.4,166.6 42.0,166.7 42.5,167.0 43.0,167.3 43.6,167.6 44.1,167.9 44.6,168.2 45.2,168.2 45.7,168.1 46.2,168.1 46.7,168.1 47.3,168.0 47.8,168.1 48.3,168.2 48.9,168.4 49.4,168.5 49.9,168.6 50.5,168.7 51.0,168.8 51.5,169.0 52.1,169.1 52.6,169.2 53.1,169.4 53.7,169.3 54.2,169.2 54.7,169.1 55.3,169.0 55.8,168.9 56.3,168.7 56.9,168.6 57.4,168.5 57.9,168.5 58.5,168.5 59.0,168.4 59.5,168.4 60.0,168.3 60.6,168.3 61.1,168.3 61.6,168.2 62.2,168.3 62.7,168.3 63.2,168.4 63.8,168.4 64.3,168.5 64.8,168.5 65.4,168.5 65.9,168.6 66.4,168.7 67.0,168.8 67.5,168.9 68.0,168.9 68.6,169.0 69.1,169.1 69.6,169.2 70.2,169.3 70.7,169.4 71.2,169.5 71.8,169.6 72.3,169.7 72.8,169.8 73.3,169.9 73.9,170.0 74.4,170.1 74.9,170.2 75.5,170.3 76.0,170.5 76.5,170.6 77.1,170.8 77.6,170.9 78.1,171.1 78.7,171.3 79.2,171.5 79.7,171.7 80.3,171.8 80.8,171.8 81.3,171.8 81.9,171.7 82.4,171.8 82.9,172.0 83.5,172.1 84.0,172.2 84.5,172.3 85.1,172.4 85.6,172.6 86.1,172.8 86.6,173.0 87.2,173.1 87.7,173.3 88.2,173.3 88.8,173.2 89.3,173.1 89.8,173.1 90.4,173.0 90.9,172.9 91.4,172.8 92.0,172.8 92.5,172.7 93.0,172.7 93.6,172.6 94.1,172.6 94.6,172.5 95.2,172.5 95.7,172.5 96.2,172.5 96.8,172.5 97.3,172.5 97.8,172.6 98.4,172.6 98.9,172.6 99.4,172.6 99.9,172.6 100.5,172.7 101.0,172.7 101.5,172.8 102.1,172.8 102.6,172.9 103.1,172.9 103.7,173.0 104.2,173.1 104.7,173.1 105.3,173.2 105.8,173.3 106.3,173.5 106.9,173.6 107.4,173.7 107.9,173.8 108.5,173.9 109.0,173.9 109.5,174.3 110.1,174.9 110.6,175.8 111.1,176.9 111.7,178.2 112.2,179.5 112.7,180.9 113.2,182.3 113.8,183.6 114.3,184.7 114.8,185.8 115.4,186.5 115.9,187.0 116.4,187.2 117.0,187.1 117.5,187.0 118.0,186.9 118.6,186.8 119.1,186.7 119.6,186.6 120.2,186.5 120.7,186.5 121.2,186.4 121.8,186.3 122.3,186.2 122.8,186.2 123.4,186.1 123.9,186.0 124.4,186.1 125.0,186.2 125.5,186.4 126.0,186.3 126.5,186.2 127.1,186.1 127.6,186.0 128.1,185.8 128.7,185.7 129.2,185.6 129.7,185.5 130.3,185.4 130.8,185.3 131.3,185.3 131.9,185.2 132.4,185.1 132.9,185.1 133.5,185.0 134.0,184.9 134.5,184.9 135.1,184.9 135.6,184.8 136.1,184.8 136.7,184.8 137.2,184.7 137.7,184.7 138.3,184.7 138.8,184.6 139.3,184.6 139.8,184.6 140.4,184.5 140.9,184.5 141.4,184.4 142.0,184.4 142.5,184.3 143.0,184.2 143.6,184.3 144.1,184.6 144.6,184.9 145.2,185.2 145.7,185.4 146.2,185.6 146.8,185.8 147.3,185.6 147.8,185.5 148.4,185.3 148.9,185.1 149.4,185.1 150.0,185.2 150.5,185.2 151.0,185.2 151.6,185.3 152.1,185.2 152.6,185.2 153.1,185.1 153.7,185.0 154.2,184.9 154.7,184.8 155.3,184.8 155.8,184.8 156.3,184.8 156.9,184.8 157.4,184.7 157.9,184.7 158.5,184.7 159.0,184.7 159.5,184.7 160.1,184.6 160.6,184.6 161.1,184.6 161.7,184.6 162.2,184.7 162.7,184.7 163.3,184.7 163.8,184.7 164.3,184.7 164.9,184.7 165.4,184.7 165.9,184.8 166.4,184.9 167.0,185.0 167.5,185.1 168.0,185.2 168.6,185.2 169.1,185.3 169.6,185.4 170.2,185.6 170.7,185.7 171.2,185.8 171.8,186.0 172.3,186.1 172.8,186.3 173.4,186.8 173.9,187.6 174.4,188.6 175.0,189.7 175.5,190.7 176.0,191.7 176.6,192.5 177.1,193.0 177.6,193.2 178.2,193.3 178.7,193.4 179.2,193.5 179.7,193.5 180.3,193.6 180.8,193.7 181.3,193.8 181.9,193.6 182.4,193.4 182.9,193.1 183.5,192.9 184.0,192.6 184.5,192.4 185.1,192.1 185.6,191.8 186.1,191.6 186.7,191.7 187.2,191.8 187.7,191.9 188.3,192.0 188.8,192.0 189.3,192.1 189.9,192.2 190.4,192.2 190.9,192.3 191.5,192.3 192.0,192.4 192.5,192.5 193.0,192.5 193.6,192.6 194.1,192.7 194.6,193.0 195.2,193.3 195.7,193.5 196.2,193.8 196.8,194.1 197.3,194.4 197.8,194.7 198.4,195.0 198.9,195.1 199.4,195.0 200.0,195.0 200.5,194.9 201.0,194.8 201.6,194.8 202.1,194.7 202.6,194.8 203.2,194.9 203.7,195.0 204.2,195.1 204.8,195.2 205.3,195.3 205.8,195.5 206.3,195.4 206.9,195.3 207.4,195.2 207.9,195.2 208.5,195.1 209.0,195.0 209.5,195.0 210.1,194.9 210.6,194.8 211.1,194.8 211.7,194.7 212.2,194.6 212.7,194.7 213.3,194.7 213.8,194.8 214.3,194.9 214.9,194.9 215.4,195.0 215.9,195.0 216.5,195.1 217.0,195.2 217.5,195.4 218.1,195.6 218.6,195.8 219.1,195.9 219.6,196.1 220.2,196.3 220.7,196.5 221.2,196.6 221.8,196.4 222.3,196.2 222.8,195.9 223.4,195.7 223.9,195.5 224.4,195.3 225.0,195.1 225.5,194.9" fill="none" stroke="#8a9040" stroke-width="1.45" stroke-linejoin="round"/>
<polyline points="26.0,167.5 26.5,167.6 27.1,167.6 27.6,167.6 28.1,167.7 28.7,167.7 29.2,167.7 29.7,167.8 30.3,167.8 30.8,167.8 31.3,167.9 31.9,167.9 32.4,167.9 32.9,168.0 33.4,168.0 34.0,168.1 34.5,168.1 35.0,168.2 35.6,168.2 36.1,168.3 36.6,168.3 37.2,168.3 37.7,168.4 38.2,168.4 38.8,168.5 39.3,168.5 39.8,168.6 40.4,168.8 40.9,168.9 41.4,169.0 42.0,169.1 42.5,169.4 43.0,169.7 43.6,170.0 44.1,170.3 44.6,170.5 45.2,170.5 45.7,170.5 46.2,170.4 46.7,170.4 47.3,170.4 47.8,170.5 48.3,170.6 48.9,170.7 49.4,170.8 49.9,170.9 50.5,171.0 51.0,171.1 51.5,171.3 52.1,171.4 52.6,171.5 53.1,171.6 53.7,171.6 54.2,171.5 54.7,171.4 55.3,171.3 55.8,171.1 56.3,171.0 56.9,170.9 57.4,170.8 57.9,170.8 58.5,170.8 59.0,170.7 59.5,170.7 60.0,170.7 60.6,170.6 61.1,170.6 61.6,170.6 62.2,170.6 62.7,170.6 63.2,170.7 63.8,170.7 64.3,170.8 64.8,170.8 65.4,170.8 65.9,170.9 66.4,171.0 67.0,171.1 67.5,171.1 68.0,171.2 68.6,171.3 69.1,171.4 69.6,171.5 70.2,171.6 70.7,171.7 71.2,171.8 71.8,171.8 72.3,171.9 72.8,172.0 73.3,172.1 73.9,172.2 74.4,172.3 74.9,172.4 75.5,172.5 76.0,172.7 76.5,172.8 77.1,173.0 77.6,173.1 78.1,173.3 78.7,173.5 79.2,173.7 79.7,173.9 80.3,173.9 80.8,173.9 81.3,173.9 81.9,173.9 82.4,174.0 82.9,174.1 83.5,174.2 84.0,174.3 84.5,174.4 85.1,174.5 85.6,174.7 86.1,174.9 86.6,175.0 87.2,175.2 87.7,175.3 88.2,175.3 88.8,175.3 89.3,175.2 89.8,175.1 90.4,175.0 90.9,175.0 91.4,174.9 92.0,174.8 92.5,174.8 93.0,174.7 93.6,174.7 94.1,174.6 94.6,174.6 95.2,174.5 95.7,174.6 96.2,174.6 96.8,174.6 97.3,174.6 97.8,174.6 98.4,174.7 98.9,174.7 99.4,174.7 99.9,174.7 100.5,174.7 101.0,174.8 101.5,174.8 102.1,174.9 102.6,174.9 103.1,175.0 103.7,175.1 104.2,175.1 104.7,175.2 105.3,175.2 105.8,175.4 106.3,175.5 106.9,175.6 107.4,175.7 107.9,175.8 108.5,175.9 109.0,175.9 109.5,176.3 110.1,176.9 110.6,177.8 111.1,178.9 111.7,180.2 112.2,181.5 112.7,182.9 113.2,184.3 113.8,185.6 114.3,186.7 114.8,187.8 115.4,188.5 115.9,189.0 116.4,189.2 117.0,189.1 117.5,189.0 118.0,188.9 118.6,188.8 119.1,188.8 119.6,188.7 120.2,188.6 120.7,188.5 121.2,188.5 121.8,188.4 122.3,188.3 122.8,188.3 123.4,188.2 123.9,188.1 124.4,188.2 125.0,188.3 125.5,188.5 126.0,188.4 126.5,188.3 127.1,188.2 127.6,188.1 128.1,188.0 128.7,187.8 129.2,187.7 129.7,187.6 130.3,187.6 130.8,187.5 131.3,187.4 131.9,187.4 132.4,187.3 132.9,187.3 133.5,187.2 134.0,187.2 134.5,187.1 135.1,187.1 135.6,187.1 136.1,187.0 136.7,187.0 137.2,187.0 137.7,186.9 138.3,186.9 138.8,186.9 139.3,186.8 139.8,186.8 140.4,186.8 140.9,186.7 141.4,186.7 142.0,186.6 142.5,186.6 143.0,186.5 143.6,186.6 144.1,186.8 144.6,187.1 145.2,187.4 145.7,187.6 146.2,187.8 146.8,187.9 147.3,187.8 147.8,187.6 148.4,187.5 148.9,187.3 149.4,187.3 150.0,187.4 150.5,187.4 151.0,187.4 151.6,187.4 152.1,187.4 152.6,187.3 153.1,187.3 153.7,187.2 154.2,187.1 154.7,187.0 155.3,187.0 155.8,187.0 156.3,187.0 156.9,187.0 157.4,187.0 157.9,187.0 158.5,186.9 159.0,186.9 159.5,186.9 160.1,186.9 160.6,186.9 161.1,186.9 161.7,186.9 162.2,186.9 162.7,186.9 163.3,186.9 163.8,186.9 164.3,186.9 164.9,186.9 165.4,187.0 165.9,187.1 166.4,187.1 167.0,187.2 167.5,187.3 168.0,187.3 168.6,187.4 169.1,187.5 169.6,187.6 170.2,187.7 170.7,187.8 171.2,187.9 171.8,188.1 172.3,188.2 172.8,188.4 173.4,188.8 173.9,189.5 174.4,190.4 175.0,191.3 175.5,192.2 176.0,193.0 176.6,193.7 177.1,194.2 177.6,194.4 178.2,194.4 178.7,194.5 179.2,194.6 179.7,194.6 180.3,194.7 180.8,194.8 181.3,194.9 181.9,194.7 182.4,194.5 182.9,194.3 183.5,194.0 184.0,193.8 184.5,193.5 185.1,193.3 185.6,193.1 186.1,192.8 186.7,192.9 187.2,193.0 187.7,193.1 188.3,193.2 188.8,193.2 189.3,193.3 189.9,193.4 190.4,193.4 190.9,193.5 191.5,193.5 192.0,193.6 192.5,193.7 193.0,193.7 193.6,193.7 194.1,193.8 194.6,194.1 195.2,194.4 195.7,194.6 196.2,194.9 196.8,195.2 197.3,195.5 197.8,195.7 198.4,196.0 198.9,196.1 199.4,196.0 200.0,196.0 200.5,195.9 201.0,195.8 201.6,195.8 202.1,195.7 202.6,195.8 203.2,195.9 203.7,196.0 204.2,196.1 204.8,196.2 205.3,196.3 205.8,196.4 206.3,196.4 206.9,196.3 207.4,196.2 207.9,196.2 208.5,196.1 209.0,196.0 209.5,196.0 210.1,195.9 210.6,195.9 211.1,195.8 211.7,195.7 212.2,195.7 212.7,195.7 213.3,195.8 213.8,195.8 214.3,195.9 214.9,195.9 215.4,196.0 215.9,196.0 216.5,196.1 217.0,196.2 217.5,196.4 218.1,196.5 218.6,196.7 219.1,196.9 219.6,197.0 220.2,197.2 220.7,197.4 221.2,197.5 221.8,197.3 222.3,197.1 222.8,196.9 223.4,196.7 223.9,196.5 224.4,196.3 225.0,196.1 225.5,195.9" fill="none" stroke="#b09030" stroke-width="1.45" stroke-linejoin="round"/>
<polyline points="26.0,180.6 26.5,180.6 27.1,180.7 27.6,180.7 28.1,180.7 28.7,180.7 29.2,180.7 29.7,180.8 30.3,180.8 30.8,180.8 31.3,180.8 31.9,180.8 32.4,180.9 32.9,180.9 33.4,180.9 34.0,180.9 34.5,181.0 35.0,181.0 35.6,181.0 36.1,181.0 36.6,181.1 37.2,181.1 37.7,181.1 38.2,181.1 38.8,181.2 39.3,181.2 39.8,181.2 40.4,181.3 40.9,181.3 41.4,181.4 42.0,181.4 42.5,181.5 43.0,181.6 43.6,181.8 44.1,181.9 44.6,182.0 45.2,182.0 45.7,182.0 46.2,182.0 46.7,182.0 47.3,181.9 47.8,182.0 48.3,182.0 48.9,182.1 49.4,182.1 49.9,182.2 50.5,182.2 51.0,182.3 51.5,182.3 52.1,182.4 52.6,182.4 53.1,182.5 53.7,182.5 54.2,182.4 54.7,182.4 55.3,182.4 55.8,182.4 56.3,182.3 56.9,182.3 57.4,182.3 57.9,182.3 58.5,182.3 59.0,182.3 59.5,182.3 60.0,182.3 60.6,182.3 61.1,182.3 61.6,182.3 62.2,182.3 62.7,182.3 63.2,182.3 63.8,182.4 64.3,182.4 64.8,182.4 65.4,182.4 65.9,182.5 66.4,182.5 67.0,182.5 67.5,182.6 68.0,182.6 68.6,182.6 69.1,182.7 69.6,182.7 70.2,182.8 70.7,182.8 71.2,182.8 71.8,182.9 72.3,182.9 72.8,183.0 73.3,183.0 73.9,183.0 74.4,183.1 74.9,183.1 75.5,183.2 76.0,183.2 76.5,183.3 77.1,183.4 77.6,183.4 78.1,183.5 78.7,183.6 79.2,183.6 79.7,183.7 80.3,183.7 80.8,183.7 81.3,183.7 81.9,183.7 82.4,183.8 82.9,183.8 83.5,183.9 84.0,183.9 84.5,184.0 85.1,184.0 85.6,184.1 86.1,184.2 86.6,184.2 87.2,184.3 87.7,184.4 88.2,184.4 88.8,184.3 89.3,184.3 89.8,184.3 90.4,184.3 90.9,184.3 91.4,184.3 92.0,184.3 92.5,184.3 93.0,184.2 93.6,184.2 94.1,184.2 94.6,184.2 95.2,184.2 95.7,184.2 96.2,184.2 96.8,184.3 97.3,184.3 97.8,184.3 98.4,184.3 98.9,184.3 99.4,184.3 99.9,184.4 100.5,184.4 101.0,184.4 101.5,184.4 102.1,184.5 102.6,184.5 103.1,184.5 103.7,184.5 104.2,184.6 104.7,184.6 105.3,184.6 105.8,184.7 106.3,184.7 106.9,184.8 107.4,184.8 107.9,184.9 108.5,184.9 109.0,184.9 109.5,185.1 110.1,185.3 110.6,185.6 111.1,186.1 111.7,186.5 112.2,187.0 112.7,187.6 113.2,188.1 113.8,188.6 114.3,189.0 114.8,189.4 115.4,189.7 115.9,189.9 116.4,190.0 117.0,189.9 117.5,189.9 118.0,189.8 118.6,189.8 119.1,189.8 119.6,189.7 120.2,189.7 120.7,189.7 121.2,189.6 121.8,189.6 122.3,189.6 122.8,189.5 123.4,189.5 123.9,189.5 124.4,189.5 125.0,189.6 125.5,189.6 126.0,189.6 126.5,189.5 127.1,189.5 127.6,189.4 128.1,189.4 128.7,189.3 129.2,189.3 129.7,189.2 130.3,189.2 130.8,189.2 131.3,189.2 131.9,189.1 132.4,189.1 132.9,189.1 133.5,189.1 134.0,189.0 134.5,189.0 135.1,189.0 135.6,189.0 136.1,189.0 136.7,189.0 137.2,188.9 137.7,188.9 138.3,188.9 138.8,188.9 139.3,188.9 139.8,188.9 140.4,188.8 140.9,188.8 141.4,188.8 142.0,188.8 142.5,188.8 143.0,188.7 143.6,188.8 144.1,188.9 144.6,189.0 145.2,189.1 145.7,189.2 146.2,189.3 146.8,189.4 147.3,189.3 147.8,189.2 148.4,189.2 148.9,189.1 149.4,189.1 150.0,189.1 150.5,189.1 151.0,189.1 151.6,189.2 152.1,189.1 152.6,189.1 153.1,189.1 153.7,189.0 154.2,189.0 154.7,189.0 155.3,189.0 155.8,189.0 156.3,189.0 156.9,188.9 157.4,188.9 157.9,188.9 158.5,188.9 159.0,188.9 159.5,188.9 160.1,188.9 160.6,188.9 161.1,188.9 161.7,188.9 162.2,188.9 162.7,188.9 163.3,188.9 163.8,188.9 164.3,188.9 164.9,188.9 165.4,188.9 165.9,189.0 166.4,189.0 167.0,189.0 167.5,189.1 168.0,189.1 168.6,189.1 169.1,189.2 169.6,189.2 170.2,189.3 170.7,189.3 171.2,189.4 171.8,189.4 172.3,189.5 172.8,189.7 173.4,190.1 173.9,190.8 174.4,191.6 175.0,192.5 175.5,193.4 176.0,194.3 176.6,194.9 177.1,195.4 177.6,195.6 178.2,195.6 178.7,195.6 179.2,195.7 179.7,195.7 180.3,195.7 180.8,195.8 181.3,195.8 181.9,195.7 182.4,195.6 182.9,195.5 183.5,195.4 184.0,195.3 184.5,195.2 185.1,195.1 185.6,195.0 186.1,194.9 186.7,194.9 187.2,194.9 187.7,195.0 188.3,195.0 188.8,195.0 189.3,195.1 189.9,195.1 190.4,195.1 190.9,195.2 191.5,195.2 192.0,195.2 192.5,195.2 193.0,195.3 193.6,195.3 194.1,195.3 194.6,195.5 195.2,195.6 195.7,195.7 196.2,195.8 196.8,195.9 197.3,196.1 197.8,196.2 198.4,196.3 198.9,196.4 199.4,196.3 200.0,196.3 200.5,196.3 201.0,196.2 201.6,196.2 202.1,196.2 202.6,196.2 203.2,196.3 203.7,196.3 204.2,196.4 204.8,196.4 205.3,196.5 205.8,196.5 206.3,196.5 206.9,196.5 207.4,196.4 207.9,196.4 208.5,196.4 209.0,196.3 209.5,196.3 210.1,196.3 210.6,196.3 211.1,196.2 211.7,196.2 212.2,196.2 212.7,196.2 213.3,196.2 213.8,196.2 214.3,196.3 214.9,196.3 215.4,196.3 215.9,196.3 216.5,196.4 217.0,196.4 217.5,196.5 218.1,196.6 218.6,196.6 219.1,196.7 219.6,196.8 220.2,196.9 220.7,197.0 221.2,197.0 221.8,196.9 222.3,196.8 222.8,196.7 223.4,196.6 223.9,196.5 224.4,196.5 225.0,196.4 225.5,196.3" fill="none" stroke="#f080a0" stroke-width="1.45" stroke-linejoin="round"/>
<polyline points="26.0,192.3 26.5,192.3 27.1,192.3 27.6,192.4 28.1,192.4 28.7,192.4 29.2,192.4 29.7,192.4 30.3,192.5 30.8,192.5 31.3,192.5 31.9,192.5 32.4,192.5 32.9,192.6 33.4,192.6 34.0,192.6 34.5,192.6 35.0,192.7 35.6,192.7 36.1,192.7 36.6,192.7 37.2,192.7 37.7,192.8 38.2,192.8 38.8,192.8 39.3,192.8 39.8,192.8 40.4,192.9 40.9,192.9 41.4,192.9 42.0,193.0 42.5,193.0 43.0,193.0 43.6,193.1 44.1,193.1 44.6,193.1 45.2,193.2 45.7,193.2 46.2,193.2 46.7,193.2 47.3,193.2 47.8,193.2 48.3,193.3 48.9,193.3 49.4,193.3 49.9,193.3 50.5,193.4 51.0,193.4 51.5,193.4 52.1,193.4 52.6,193.5 53.1,193.5 53.7,193.5 54.2,193.5 54.7,193.5 55.3,193.5 55.8,193.6 56.3,193.6 56.9,193.6 57.4,193.6 57.9,193.6 58.5,193.6 59.0,193.6 59.5,193.7 60.0,193.7 60.6,193.7 61.1,193.7 61.6,193.7 62.2,193.7 62.7,193.8 63.2,193.8 63.8,193.8 64.3,193.8 64.8,193.8 65.4,193.9 65.9,193.9 66.4,193.9 67.0,193.9 67.5,194.0 68.0,194.0 68.6,194.0 69.1,194.0 69.6,194.1 70.2,194.1 70.7,194.1 71.2,194.1 71.8,194.1 72.3,194.2 72.8,194.2 73.3,194.2 73.9,194.2 74.4,194.3 74.9,194.3 75.5,194.3 76.0,194.3 76.5,194.4 77.1,194.4 77.6,194.4 78.1,194.5 78.7,194.5 79.2,194.5 79.7,194.6 80.3,194.6 80.8,194.6 81.3,194.6 81.9,194.6 82.4,194.7 82.9,194.7 83.5,194.7 84.0,194.7 84.5,194.8 85.1,194.8 85.6,194.8 86.1,194.8 86.6,194.9 87.2,194.9 87.7,194.9 88.2,194.9 88.8,195.0 89.3,195.0 89.8,195.0 90.4,195.0 90.9,195.0 91.4,195.0 92.0,195.0 92.5,195.1 93.0,195.1 93.6,195.1 94.1,195.1 94.6,195.1 95.2,195.1 95.7,195.1 96.2,195.2 96.8,195.2 97.3,195.2 97.8,195.2 98.4,195.2 98.9,195.3 99.4,195.3 99.9,195.3 100.5,195.3 101.0,195.3 101.5,195.4 102.1,195.4 102.6,195.4 103.1,195.4 103.7,195.4 104.2,195.5 104.7,195.5 105.3,195.5 105.8,195.5 106.3,195.6 106.9,195.6 107.4,195.6 107.9,195.6 108.5,195.7 109.0,195.7 109.5,195.8 110.1,195.9 110.6,196.1 111.1,196.3 111.7,196.6 112.2,196.9 112.7,197.2 113.2,197.4 113.8,197.7 114.3,198.0 114.8,198.2 115.4,198.4 115.9,198.5 116.4,198.5 117.0,198.5 117.5,198.5 118.0,198.5 118.6,198.5 119.1,198.5 119.6,198.5 120.2,198.5 120.7,198.5 121.2,198.5 121.8,198.5 122.3,198.5 122.8,198.5 123.4,198.5 123.9,198.5 124.4,198.5 125.0,198.6 125.5,198.6 126.0,198.6 126.5,198.6 127.1,198.6 127.6,198.6 128.1,198.6 128.7,198.6 129.2,198.6 129.7,198.6 130.3,198.6 130.8,198.6 131.3,198.6 131.9,198.6 132.4,198.6 132.9,198.6 133.5,198.6 134.0,198.6 134.5,198.6 135.1,198.6 135.6,198.6 136.1,198.6 136.7,198.6 137.2,198.6 137.7,198.6 138.3,198.6 138.8,198.6 139.3,198.6 139.8,198.6 140.4,198.6 140.9,198.6 141.4,198.6 142.0,198.6 142.5,198.6 143.0,198.6 143.6,198.6 144.1,198.7 144.6,198.7 145.2,198.7 145.7,198.7 146.2,198.7 146.8,198.8 147.3,198.8 147.8,198.7 148.4,198.7 148.9,198.7 149.4,198.7 150.0,198.7 150.5,198.7 151.0,198.8 151.6,198.8 152.1,198.8 152.6,198.8 153.1,198.8 153.7,198.8 154.2,198.8 154.7,198.8 155.3,198.8 155.8,198.8 156.3,198.8 156.9,198.8 157.4,198.8 157.9,198.8 158.5,198.8 159.0,198.8 159.5,198.8 160.1,198.8 160.6,198.8 161.1,198.8 161.7,198.8 162.2,198.8 162.7,198.8 163.3,198.8 163.8,198.8 164.3,198.8 164.9,198.8 165.4,198.8 165.9,198.8 166.4,198.8 167.0,198.9 167.5,198.9 168.0,198.9 168.6,198.9 169.1,198.9 169.6,198.9 170.2,198.9 170.7,198.9 171.2,198.9 171.8,198.9 172.3,198.9 172.8,199.0 173.4,199.1 173.9,199.4 174.4,199.6 175.0,199.9 175.5,200.2 176.0,200.5 176.6,200.7 177.1,200.9 177.6,200.9 178.2,200.9 178.7,200.9 179.2,200.9 179.7,200.9 180.3,200.9 180.8,200.9 181.3,200.9 181.9,200.9 182.4,200.8 182.9,200.8 183.5,200.7 184.0,200.7 184.5,200.7 185.1,200.6 185.6,200.6 186.1,200.5 186.7,200.5 187.2,200.5 187.7,200.5 188.3,200.5 188.8,200.5 189.3,200.6 189.9,200.6 190.4,200.6 190.9,200.6 191.5,200.7 192.0,200.7 192.5,200.7 193.0,200.8 193.6,200.9 194.1,201.0 194.6,201.2 195.2,201.3 195.7,201.5 196.2,201.6 196.8,201.8 197.3,201.9 197.8,202.0 198.4,202.1 198.9,202.2 199.4,202.2 200.0,202.2 200.5,202.2 201.0,202.2 201.6,202.3 202.1,202.3 202.6,202.3 203.2,202.3 203.7,202.3 204.2,202.3 204.8,202.4 205.3,202.4 205.8,202.4 206.3,202.4 206.9,202.4 207.4,202.4 207.9,202.4 208.5,202.4 209.0,202.3 209.5,202.3 210.1,202.3 210.6,202.3 211.1,202.3 211.7,202.3 212.2,202.3 212.7,202.3 213.3,202.3 213.8,202.3 214.3,202.4 214.9,202.4 215.4,202.4 215.9,202.4 216.5,202.4 217.0,202.5 217.5,202.5 218.1,202.5 218.6,202.6 219.1,202.6 219.6,202.6 220.2,202.6 220.7,202.6 221.2,202.6 221.8,202.6 222.3,202.6 222.8,202.6 223.4,202.6 223.9,202.5 224.4,202.5 225.0,202.5 225.5,202.4" fill="none" stroke="#a838e0" stroke-width="1.45" stroke-linejoin="round"/>
<polyline points="26.0,86.0 26.5,86.1 27.1,86.1 27.6,86.2 28.1,86.3 28.7,86.4 29.2,86.5 29.7,86.5 30.3,86.6 30.8,86.7 31.3,86.8 31.9,86.9 32.4,87.0 32.9,87.1 33.4,87.2 34.0,87.3 34.5,87.4 35.0,87.6 35.6,87.7 36.1,87.8 36.6,88.0 37.2,88.1 37.7,88.2 38.2,88.4 38.8,88.5 39.3,88.6 39.8,89.1 40.4,89.7 40.9,90.2 41.4,90.7 42.0,91.2 42.5,92.5 43.0,93.8 43.6,95.1 44.1,96.4 44.6,97.7 45.2,97.4 45.7,97.2 46.2,96.9 46.7,96.6 47.3,96.4 47.8,96.8 48.3,97.2 48.9,97.6 49.4,98.1 49.9,98.5 50.5,99.0 51.0,99.5 51.5,100.1 52.1,100.6 52.6,101.1 53.1,101.6 53.7,101.3 54.2,100.7 54.7,100.0 55.3,99.4 55.8,98.8 56.3,98.2 56.9,97.6 57.4,97.0 57.9,96.7 58.5,96.5 59.0,96.2 59.5,95.9 60.0,95.6 60.6,95.4 61.1,95.1 61.6,94.9 62.2,95.0 62.7,95.1 63.2,95.2 63.8,95.3 64.3,95.4 64.8,95.5 65.4,95.7 65.9,95.8 66.4,96.1 67.0,96.4 67.5,96.8 68.0,97.1 68.6,97.5 69.1,97.8 69.6,98.1 70.2,98.5 70.7,98.8 71.2,99.2 71.8,99.5 72.3,99.9 72.8,100.2 73.3,100.6 73.9,101.0 74.4,101.3 74.9,101.7 75.5,102.2 76.0,102.8 76.5,103.5 77.1,104.1 77.6,104.8 78.1,105.5 78.7,106.4 79.2,107.2 79.7,108.1 80.3,108.2 80.8,108.1 81.3,107.9 81.9,107.8 82.4,108.2 82.9,108.6 83.5,109.0 84.0,109.4 84.5,109.8 85.1,110.5 85.6,111.2 86.1,112.0 86.6,112.7 87.2,113.4 87.7,114.1 88.2,114.0 88.8,113.5 89.3,113.0 89.8,112.6 90.4,112.1 90.9,111.7 91.4,111.3 92.0,110.9 92.5,110.6 93.0,110.2 93.6,109.9 94.1,109.5 94.6,109.2 95.2,108.8 95.7,108.8 96.2,108.9 96.8,108.9 97.3,108.9 97.8,108.9 98.4,108.9 98.9,108.9 99.4,108.9 99.9,108.9 100.5,108.9 101.0,109.1 101.5,109.3 102.1,109.4 102.6,109.6 103.1,109.8 103.7,109.9 104.2,110.1 104.7,110.3 105.3,110.6 105.8,111.1 106.3,111.6 106.9,112.1 107.4,112.6 107.9,113.0 108.5,113.1 109.0,113.3 109.5,114.7 110.1,117.3 110.6,120.8 111.1,125.2 111.7,130.1 112.2,135.4 112.7,140.8 113.2,146.2 113.8,151.4 114.3,156.0 114.8,160.0 115.4,163.1 115.9,165.1 116.4,165.8 117.0,165.3 117.5,164.7 118.0,164.2 118.6,163.8 119.1,163.4 119.6,163.0 120.2,162.6 120.7,162.2 121.2,161.8 121.8,161.4 122.3,161.0 122.8,160.6 123.4,160.2 123.9,159.8 124.4,159.9 125.0,160.4 125.5,160.9 126.0,160.6 126.5,160.0 127.1,159.4 127.6,158.8 128.1,158.2 128.7,157.6 129.2,156.9 129.7,156.3 130.3,155.9 130.8,155.6 131.3,155.2 131.9,154.9 132.4,154.5 132.9,154.2 133.5,153.8 134.0,153.5 134.5,153.1 135.1,153.0 135.6,152.8 136.1,152.6 136.7,152.4 137.2,152.3 137.7,152.1 138.3,151.9 138.8,151.7 139.3,151.6 139.8,151.4 140.4,151.2 140.9,151.0 141.4,150.8 142.0,150.6 142.5,150.5 143.0,150.3 143.6,150.4 144.1,151.7 144.6,153.0 145.2,154.3 145.7,155.2 146.2,155.9 146.8,156.6 147.3,156.0 147.8,155.3 148.4,154.7 148.9,154.1 149.4,154.2 150.0,154.3 150.5,154.4 151.0,154.5 151.6,154.6 152.1,154.5 152.6,154.1 153.1,153.7 153.7,153.4 154.2,153.0 154.7,152.6 155.3,152.5 155.8,152.4 156.3,152.4 156.9,152.3 157.4,152.2 157.9,152.1 158.5,152.0 159.0,151.9 159.5,151.8 160.1,151.7 160.6,151.7 161.1,151.7 161.7,151.8 162.2,151.9 162.7,151.9 163.3,152.0 163.8,152.1 164.3,152.1 164.9,152.2 165.4,152.5 165.9,152.9 166.4,153.4 167.0,153.8 167.5,154.2 168.0,154.6 168.6,155.0 169.1,155.4 169.6,155.9 170.2,156.6 170.7,157.2 171.2,157.8 171.8,158.4 172.3,159.0 172.8,159.7 173.4,161.4 173.9,163.9 174.4,167.0 175.0,170.3 175.5,173.7 176.0,176.7 176.6,179.3 177.1,181.0 177.6,181.6 178.2,181.8 178.7,182.0 179.2,182.2 179.7,182.3 180.3,182.5 180.8,182.7 181.3,182.9 181.9,182.3 182.4,181.5 182.9,180.6 183.5,179.8 184.0,179.0 184.5,178.1 185.1,177.3 185.6,176.4 186.1,175.6 186.7,175.8 187.2,176.1 187.7,176.3 188.3,176.6 188.8,176.8 189.3,177.0 189.9,177.3 190.4,177.5 190.9,177.8 191.5,178.1 192.0,178.4 192.5,178.7 193.0,179.0 193.6,179.4 194.1,179.9 194.6,180.9 195.2,181.9 195.7,182.9 196.2,183.9 196.8,185.0 197.3,186.0 197.8,187.1 198.4,188.1 198.9,188.6 199.4,188.5 200.0,188.4 200.5,188.3 201.0,188.2 201.6,188.1 202.1,188.0 202.6,188.2 203.2,188.6 203.7,189.0 204.2,189.3 204.8,189.7 205.3,190.1 205.8,190.5 206.3,190.3 206.9,190.1 207.4,189.8 207.9,189.6 208.5,189.4 209.0,189.2 209.5,189.0 210.1,188.8 210.6,188.6 211.1,188.4 211.7,188.2 212.2,188.0 212.7,188.1 213.3,188.4 213.8,188.6 214.3,188.8 214.9,189.1 215.4,189.3 215.9,189.5 216.5,189.8 217.0,190.3 217.5,190.9 218.1,191.5 218.6,192.1 219.1,192.7 219.6,193.2 220.2,193.8 220.7,194.4 221.2,194.7 221.8,194.0 222.3,193.4 222.8,192.7 223.4,192.0 223.9,191.4 224.4,190.7 225.0,190.1 225.5,189.4" fill="none" stroke="#8b1a4a" stroke-width="1.45" stroke-linejoin="round"/>
<polyline points="26.0,82.4 26.5,82.5 27.1,82.6 27.6,82.7 28.1,82.8 28.7,83.0 29.2,83.1 29.7,83.2 30.3,83.3 30.8,83.5 31.3,83.6 31.9,83.7 32.4,83.8 32.9,84.0 33.4,84.1 34.0,84.3 34.5,84.4 35.0,84.6 35.6,84.7 36.1,84.9 36.6,85.0 37.2,85.2 37.7,85.3 38.2,85.5 38.8,85.7 39.3,85.8 39.8,86.2 40.4,86.6 40.9,87.0 41.4,87.4 42.0,87.8 42.5,88.7 43.0,89.5 43.6,90.4 44.1,91.3 44.6,92.1 45.2,92.0 45.7,91.9 46.2,91.9 46.7,91.8 47.3,91.7 47.8,92.0 48.3,92.3 48.9,92.7 49.4,93.0 49.9,93.3 50.5,93.7 51.0,94.1 51.5,94.5 52.1,94.9 52.6,95.3 53.1,95.7 53.7,95.6 54.2,95.3 54.7,95.0 55.3,94.7 55.8,94.3 56.3,94.0 56.9,93.7 57.4,93.5 57.9,93.4 58.5,93.3 59.0,93.2 59.5,93.1 60.0,93.0 60.6,92.9 61.1,92.8 61.6,92.7 62.2,92.9 62.7,93.0 63.2,93.1 63.8,93.3 64.3,93.4 64.8,93.6 65.4,93.7 65.9,93.8 66.4,94.1 67.0,94.4 67.5,94.7 68.0,95.0 68.6,95.2 69.1,95.5 69.6,95.8 70.2,96.1 70.7,96.4 71.2,96.7 71.8,97.0 72.3,97.2 72.8,97.5 73.3,97.8 73.9,98.1 74.4,98.4 74.9,98.7 75.5,99.1 76.0,99.6 76.5,100.1 77.1,100.5 77.6,101.0 78.1,101.5 78.7,102.1 79.2,102.7 79.7,103.3 80.3,103.5 80.8,103.5 81.3,103.5 81.9,103.4 82.4,103.8 82.9,104.1 83.5,104.4 84.0,104.7 84.5,105.0 85.1,105.6 85.6,106.1 86.1,106.6 86.6,107.1 87.2,107.6 87.7,108.2 88.2,108.1 88.8,107.9 89.3,107.7 89.8,107.5 90.4,107.3 90.9,107.1 91.4,106.9 92.0,106.7 92.5,106.6 93.0,106.5 93.6,106.3 94.1,106.2 94.6,106.0 95.2,105.9 95.7,106.0 96.2,106.1 96.8,106.1 97.3,106.2 97.8,106.3 98.4,106.4 98.9,106.4 99.4,106.5 99.9,106.6 100.5,106.7 101.0,106.9 101.5,107.0 102.1,107.2 102.6,107.4 103.1,107.6 103.7,107.7 104.2,107.9 104.7,108.1 105.3,108.3 105.8,108.7 106.3,109.1 106.9,109.5 107.4,109.9 107.9,110.2 108.5,110.3 109.0,110.6 109.5,111.9 110.1,114.3 110.6,117.6 111.1,121.7 111.7,126.3 112.2,131.2 112.7,136.3 113.2,141.4 113.8,146.2 114.3,150.5 114.8,154.2 115.4,157.2 115.9,159.0 116.4,159.7 117.0,159.2 117.5,158.7 118.0,158.3 118.6,157.9 119.1,157.5 119.6,157.1 120.2,156.7 120.7,156.3 121.2,155.9 121.8,155.5 122.3,155.1 122.8,154.7 123.4,154.3 123.9,153.8 124.4,153.7 125.0,153.9 125.5,154.1 126.0,153.8 126.5,153.2 127.1,152.7 127.6,152.1 128.1,151.5 128.7,151.0 129.2,150.4 129.7,149.8 130.3,149.4 130.8,149.0 131.3,148.6 131.9,148.2 132.4,147.8 132.9,147.4 133.5,147.0 134.0,146.7 134.5,146.3 135.1,146.1 135.6,145.9 136.1,145.7 136.7,145.5 137.2,145.3 137.7,145.1 138.3,144.9 138.8,144.7 139.3,144.6 139.8,144.5 140.4,144.3 140.9,144.2 141.4,144.1 142.0,144.0 142.5,143.9 143.0,143.9 143.6,144.0 144.1,145.0 144.6,145.9 145.2,146.9 145.7,147.5 146.2,148.0 146.8,148.6 147.3,148.2 147.8,147.8 148.4,147.4 148.9,147.0 149.4,147.1 150.0,147.1 150.5,147.2 151.0,147.2 151.6,147.3 152.1,147.2 152.6,146.9 153.1,146.6 153.7,146.3 154.2,146.0 154.7,145.7 155.3,145.5 155.8,145.4 156.3,145.3 156.9,145.2 157.4,145.1 157.9,145.0 158.5,145.0 159.0,144.9 159.5,144.8 160.1,144.7 160.6,144.7 161.1,144.8 161.7,144.8 162.2,144.9 162.7,145.0 163.3,145.1 163.8,145.2 164.3,145.4 164.9,145.5 165.4,145.8 165.9,146.2 166.4,146.6 167.0,147.0 167.5,147.4 168.0,147.9 168.6,148.3 169.1,148.7 169.6,149.2 170.2,149.7 170.7,150.3 171.2,150.8 171.8,151.4 172.3,151.9 172.8,152.6 173.4,154.5 173.9,157.3 174.4,160.8 175.0,164.5 175.5,168.2 176.0,171.7 176.6,174.5 177.1,176.4 177.6,177.1 178.2,177.2 178.7,177.3 179.2,177.4 179.7,177.5 180.3,177.5 180.8,177.6 181.3,177.6 181.9,177.0 182.4,176.3 182.9,175.6 183.5,174.8 184.0,174.1 184.5,173.3 185.1,172.6 185.6,171.9 186.1,171.2 186.7,171.2 187.2,171.3 187.7,171.5 188.3,171.6 188.8,171.8 189.3,172.1 189.9,172.3 190.4,172.6 190.9,172.9 191.5,173.3 192.0,173.7 192.5,174.1 193.0,174.6 193.6,175.1 194.1,175.7 194.6,176.7 195.2,177.7 195.7,178.7 196.2,179.7 196.8,180.7 197.3,181.7 197.8,182.7 198.4,183.6 198.9,184.2 199.4,184.3 200.0,184.4 200.5,184.5 201.0,184.6 201.6,184.6 202.1,184.7 202.6,184.9 203.2,185.3 203.7,185.6 204.2,185.9 204.8,186.2 205.3,186.5 205.8,186.8 206.3,186.7 206.9,186.5 207.4,186.4 207.9,186.2 208.5,186.1 209.0,185.9 209.5,185.7 210.1,185.6 210.6,185.4 211.1,185.3 211.7,185.1 212.2,185.0 212.7,185.1 213.3,185.3 213.8,185.5 214.3,185.8 214.9,186.0 215.4,186.3 215.9,186.6 216.5,186.9 217.0,187.4 217.5,188.0 218.1,188.5 218.6,189.0 219.1,189.5 219.6,190.0 220.2,190.5 220.7,190.9 221.2,191.1 221.8,190.6 222.3,190.1 222.8,189.6 223.4,189.0 223.9,188.4 224.4,187.9 225.0,187.3 225.5,186.7" fill="none" stroke="#a0482e" stroke-width="1.45" stroke-linejoin="round"/>
<polyline points="26.0,70.4 26.5,70.6 27.1,70.8 27.6,71.0 28.1,71.2 28.7,71.4 29.2,71.6 29.7,71.8 30.3,72.0 30.8,72.2 31.3,72.4 31.9,72.6 32.4,72.8 32.9,73.1 33.4,73.3 34.0,73.6 34.5,73.8 35.0,74.0 35.6,74.3 36.1,74.5 36.6,74.8 37.2,75.0 37.7,75.3 38.2,75.5 38.8,75.7 39.3,76.0 39.8,76.5 40.4,77.1 40.9,77.7 41.4,78.2 42.0,78.8 42.5,79.9 43.0,81.1 43.6,82.2 44.1,83.4 44.6,84.5 45.2,84.5 45.7,84.4 46.2,84.3 46.7,84.3 47.3,84.2 47.8,84.7 48.3,85.2 48.9,85.6 49.4,86.1 49.9,86.6 50.5,87.1 51.0,87.7 51.5,88.2 52.1,88.8 52.6,89.4 53.1,89.9 53.7,89.8 54.2,89.4 54.7,89.1 55.3,88.7 55.8,88.4 56.3,88.0 56.9,87.7 57.4,87.4 57.9,87.3 58.5,87.2 59.0,87.2 59.5,87.1 60.0,87.0 60.6,86.9 61.1,86.9 61.6,86.9 62.2,87.1 62.7,87.3 63.2,87.5 63.8,87.8 64.3,88.0 64.8,88.2 65.4,88.4 65.9,88.7 66.4,89.1 67.0,89.5 67.5,89.9 68.0,90.3 68.6,90.7 69.1,91.1 69.6,91.5 70.2,91.9 70.7,92.3 71.2,92.7 71.8,93.2 72.3,93.6 72.8,94.0 73.3,94.4 73.9,94.9 74.4,95.3 74.9,95.7 75.5,96.2 76.0,96.9 76.5,97.5 77.1,98.2 77.6,98.9 78.1,99.6 78.7,100.4 79.2,101.2 79.7,102.0 80.3,102.3 80.8,102.3 81.3,102.3 81.9,102.4 82.4,102.8 82.9,103.3 83.5,103.7 84.0,104.2 84.5,104.6 85.1,105.4 85.6,106.1 86.1,106.8 86.6,107.5 87.2,108.2 87.7,108.9 88.2,108.9 88.8,108.7 89.3,108.5 89.8,108.2 90.4,108.0 90.9,107.8 91.4,107.6 92.0,107.5 92.5,107.4 93.0,107.2 93.6,107.1 94.1,107.0 94.6,106.8 95.2,106.7 95.7,106.8 96.2,107.0 96.8,107.1 97.3,107.3 97.8,107.4 98.4,107.6 98.9,107.7 99.4,107.9 99.9,108.0 100.5,108.2 101.0,108.4 101.5,108.7 102.1,109.0 102.6,109.3 103.1,109.6 103.7,109.8 104.2,110.1 104.7,110.4 105.3,110.7 105.8,111.3 106.3,111.8 106.9,112.4 107.4,112.9 107.9,113.4 108.5,113.6 109.0,113.8 109.5,114.8 110.1,116.7 110.6,119.3 111.1,122.5 111.7,126.1 112.2,130.0 112.7,134.0 113.2,138.0 113.8,141.8 114.3,145.2 114.8,148.1 115.4,150.4 115.9,151.9 116.4,152.4 117.0,151.8 117.5,151.2 118.0,150.6 118.6,150.2 119.1,149.7 119.6,149.2 120.2,148.7 120.7,148.2 121.2,147.8 121.8,147.3 122.3,146.8 122.8,146.3 123.4,145.8 123.9,145.4 124.4,145.3 125.0,145.6 125.5,146.0 126.0,145.6 126.5,144.9 127.1,144.2 127.6,143.5 128.1,142.8 128.7,142.1 129.2,141.4 129.7,140.8 130.3,140.2 130.8,139.8 131.3,139.3 131.9,138.9 132.4,138.4 132.9,138.0 133.5,137.5 134.0,137.1 134.5,136.7 135.1,136.5 135.6,136.2 136.1,136.0 136.7,135.7 137.2,135.5 137.7,135.3 138.3,135.1 138.8,134.9 139.3,134.7 139.8,134.5 140.4,134.4 140.9,134.2 141.4,134.0 142.0,133.9 142.5,133.8 143.0,133.6 143.6,133.8 144.1,135.1 144.6,136.3 145.2,137.6 145.7,138.4 146.2,139.1 146.8,139.8 147.3,139.2 147.8,138.7 148.4,138.1 148.9,137.6 149.4,137.7 150.0,137.8 150.5,137.9 151.0,137.9 151.6,138.0 152.1,137.9 152.6,137.5 153.1,137.1 153.7,136.7 154.2,136.3 154.7,136.0 155.3,135.8 155.8,135.7 156.3,135.6 156.9,135.5 157.4,135.4 157.9,135.2 158.5,135.1 159.0,135.1 159.5,135.0 160.1,134.9 160.6,134.8 161.1,134.9 161.7,135.0 162.2,135.1 162.7,135.2 163.3,135.3 163.8,135.4 164.3,135.5 164.9,135.7 165.4,136.1 165.9,136.5 166.4,137.0 167.0,137.5 167.5,138.0 168.0,138.5 168.6,139.0 169.1,139.5 169.6,140.1 170.2,140.8 170.7,141.4 171.2,142.1 171.8,142.8 172.3,143.4 172.8,144.2 173.4,146.2 173.9,149.1 174.4,152.7 175.0,156.6 175.5,160.5 176.0,164.1 176.6,167.1 177.1,169.1 177.6,169.8 178.2,170.0 178.7,170.1 179.2,170.3 179.7,170.4 180.3,170.5 180.8,170.6 181.3,170.7 181.9,170.0 182.4,169.0 182.9,168.0 183.5,167.0 184.0,166.0 184.5,165.1 185.1,164.1 185.6,163.1 186.1,162.2 186.7,162.3 187.2,162.5 187.7,162.7 188.3,163.0 188.8,163.2 189.3,163.5 189.9,163.8 190.4,164.2 190.9,164.6 191.5,165.0 192.0,165.5 192.5,166.0 193.0,166.6 193.6,167.1 194.1,167.8 194.6,169.1 195.2,170.4 195.7,171.7 196.2,173.0 196.8,174.3 197.3,175.6 197.8,176.9 198.4,178.1 198.9,178.8 199.4,178.9 200.0,179.0 200.5,179.0 201.0,179.0 201.6,179.0 202.1,179.0 202.6,179.4 203.2,179.8 203.7,180.3 204.2,180.7 204.8,181.1 205.3,181.5 205.8,181.9 206.3,181.7 206.9,181.5 207.4,181.3 207.9,181.1 208.5,180.9 209.0,180.6 209.5,180.4 210.1,180.2 210.6,180.0 211.1,179.8 211.7,179.6 212.2,179.4 212.7,179.5 213.3,179.8 213.8,180.1 214.3,180.4 214.9,180.7 215.4,181.0 215.9,181.4 216.5,181.7 217.0,182.4 217.5,183.1 218.1,183.8 218.6,184.5 219.1,185.2 219.6,185.8 220.2,186.5 220.7,187.1 221.2,187.4 221.8,186.7 222.3,186.0 222.8,185.2 223.4,184.5 223.9,183.7 224.4,183.0 225.0,182.2 225.5,181.5" fill="none" stroke="#1f6f55" stroke-width="1.45" stroke-linejoin="round"/>
<polyline points="26.0,73.5 26.5,73.5 27.1,73.6 27.6,73.7 28.1,73.8 28.7,73.9 29.2,73.9 29.7,74.0 30.3,74.1 30.8,74.2 31.3,74.3 31.9,74.3 32.4,74.4 32.9,74.5 33.4,74.7 34.0,74.8 34.5,74.9 35.0,75.1 35.6,75.2 36.1,75.3 36.6,75.5 37.2,75.6 37.7,75.7 38.2,75.9 38.8,76.0 39.3,76.1 39.8,76.7 40.4,77.3 40.9,77.9 41.4,78.4 42.0,79.0 42.5,80.4 43.0,81.8 43.6,83.2 44.1,84.6 44.6,86.0 45.2,85.7 45.7,85.4 46.2,85.1 46.7,84.8 47.3,84.5 47.8,85.0 48.3,85.5 48.9,85.9 49.4,86.4 49.9,86.8 50.5,87.4 51.0,88.0 51.5,88.5 52.1,89.1 52.6,89.7 53.1,90.3 53.7,89.9 54.2,89.2 54.7,88.5 55.3,87.8 55.8,87.1 56.3,86.4 56.9,85.7 57.4,85.1 57.9,84.8 58.5,84.5 59.0,84.2 59.5,83.8 60.0,83.5 60.6,83.2 61.1,82.9 61.6,82.7 62.2,82.8 62.7,82.9 63.2,83.0 63.8,83.1 64.3,83.2 64.8,83.4 65.4,83.5 65.9,83.6 66.4,83.9 67.0,84.3 67.5,84.7 68.0,85.0 68.6,85.4 69.1,85.8 69.6,86.1 70.2,86.5 70.7,86.9 71.2,87.2 71.8,87.6 72.3,88.0 72.8,88.4 73.3,88.8 73.9,89.2 74.4,89.5 74.9,89.9 75.5,90.5 76.0,91.2 76.5,91.9 77.1,92.6 77.6,93.3 78.1,94.1 78.7,95.0 79.2,96.0 79.7,96.9 80.3,97.0 80.8,96.9 81.3,96.7 81.9,96.6 82.4,97.0 82.9,97.4 83.5,97.9 84.0,98.3 84.5,98.7 85.1,99.5 85.6,100.3 86.1,101.1 86.6,101.9 87.2,102.7 87.7,103.4 88.2,103.2 88.8,102.7 89.3,102.2 89.8,101.7 90.4,101.2 90.9,100.7 91.4,100.2 92.0,99.8 92.5,99.4 93.0,99.1 93.6,98.7 94.1,98.3 94.6,97.9 95.2,97.5 95.7,97.5 96.2,97.5 96.8,97.5 97.3,97.5 97.8,97.5 98.4,97.5 98.9,97.5 99.4,97.5 99.9,97.5 100.5,97.5 101.0,97.7 101.5,97.8 102.1,98.0 102.6,98.2 103.1,98.4 103.7,98.6 104.2,98.8 104.7,98.9 105.3,99.2 105.8,99.8 106.3,100.4 106.9,100.9 107.4,101.5 107.9,101.9 108.5,101.9 109.0,102.1 109.5,103.5 110.1,105.9 110.6,109.3 111.1,113.4 111.7,118.1 112.2,123.1 112.7,128.2 113.2,133.3 113.8,138.2 114.3,142.6 114.8,146.4 115.4,149.3 115.9,151.2 116.4,151.9 117.0,151.1 117.5,150.4 118.0,149.7 118.6,149.2 119.1,148.7 119.6,148.1 120.2,147.6 120.7,147.0 121.2,146.5 121.8,146.0 122.3,145.4 122.8,144.9 123.4,144.4 123.9,143.9 124.4,144.0 125.0,144.6 125.5,145.3 126.0,144.9 126.5,144.1 127.1,143.3 127.6,142.5 128.1,141.7 128.7,140.9 129.2,140.1 129.7,139.3 130.3,138.8 130.8,138.3 131.3,137.8 131.9,137.4 132.4,136.9 132.9,136.4 133.5,135.9 134.0,135.5 134.5,135.1 135.1,134.8 135.6,134.6 136.1,134.4 136.7,134.1 137.2,133.9 137.7,133.7 138.3,133.4 138.8,133.2 139.3,133.0 139.8,132.7 140.4,132.5 140.9,132.3 141.4,132.0 142.0,131.8 142.5,131.5 143.0,131.3 143.6,131.5 144.1,133.2 144.6,134.9 145.2,136.7 145.7,137.8 146.2,138.7 146.8,139.6 147.3,138.8 147.8,138.0 148.4,137.2 148.9,136.3 149.4,136.5 150.0,136.6 150.5,136.7 151.0,136.9 151.6,137.0 152.1,136.8 152.6,136.3 153.1,135.9 153.7,135.4 154.2,134.9 154.7,134.4 155.3,134.3 155.8,134.1 156.3,134.0 156.9,133.9 157.4,133.8 157.9,133.7 158.5,133.6 159.0,133.4 159.5,133.3 160.1,133.2 160.6,133.1 161.1,133.2 161.7,133.3 162.2,133.4 162.7,133.5 163.3,133.6 163.8,133.6 164.3,133.7 164.9,133.8 165.4,134.3 165.9,134.8 166.4,135.4 167.0,135.9 167.5,136.4 168.0,137.0 168.6,137.5 169.1,138.1 169.6,138.8 170.2,139.6 170.7,140.4 171.2,141.2 171.8,142.0 172.3,142.9 172.8,143.7 173.4,146.0 173.9,149.4 174.4,153.5 175.0,158.0 175.5,162.5 176.0,166.6 176.6,170.0 177.1,172.3 177.6,173.2 178.2,173.4 178.7,173.6 179.2,173.9 179.7,174.1 180.3,174.4 180.8,174.6 181.3,174.9 181.9,174.1 182.4,173.0 182.9,171.9 183.5,170.8 184.0,169.7 184.5,168.6 185.1,167.5 185.6,166.4 186.1,165.3 186.7,165.6 187.2,165.9 187.7,166.2 188.3,166.6 188.8,166.9 189.3,167.2 189.9,167.5 190.4,167.8 190.9,168.1 191.5,168.6 192.0,169.0 192.5,169.4 193.0,169.8 193.6,170.2 194.1,170.9 194.6,172.2 195.2,173.6 195.7,174.9 196.2,176.2 196.8,177.6 197.3,178.9 197.8,180.3 198.4,181.7 198.9,182.3 199.4,182.1 200.0,182.0 200.5,181.9 201.0,181.8 201.6,181.6 202.1,181.5 202.6,181.8 203.2,182.3 203.7,182.8 204.2,183.3 204.8,183.8 205.3,184.3 205.8,184.7 206.3,184.5 206.9,184.2 207.4,183.9 207.9,183.7 208.5,183.4 209.0,183.1 209.5,182.9 210.1,182.6 210.6,182.3 211.1,182.1 211.7,181.8 212.2,181.5 212.7,181.7 213.3,182.0 213.8,182.3 214.3,182.6 214.9,182.9 215.4,183.2 215.9,183.5 216.5,183.8 217.0,184.6 217.5,185.3 218.1,186.1 218.6,186.9 219.1,187.6 219.6,188.4 220.2,189.1 220.7,189.9 221.2,190.3 221.8,189.4 222.3,188.5 222.8,187.7 223.4,186.8 223.9,185.9 224.4,185.1 225.0,184.2 225.5,183.3" fill="none" stroke="#e03fa0" stroke-width="1.45" stroke-linejoin="round"/>
<polyline points="26.0,67.3 26.5,67.5 27.1,67.6 27.6,67.8 28.1,67.9 28.7,68.1 29.2,68.3 29.7,68.4 30.3,68.6 30.8,68.7 31.3,68.9 31.9,69.0 32.4,69.2 32.9,69.4 33.4,69.6 34.0,69.8 34.5,70.0 35.0,70.3 35.6,70.5 36.1,70.7 36.6,70.9 37.2,71.2 37.7,71.4 38.2,71.6 38.8,71.8 39.3,72.0 39.8,72.8 40.4,73.6 40.9,74.3 41.4,75.1 42.0,75.9 42.5,77.7 43.0,79.5 43.6,81.3 44.1,83.2 44.6,85.0 45.2,84.7 45.7,84.3 46.2,84.0 46.7,83.7 47.3,83.4 47.8,84.0 48.3,84.6 48.9,85.3 49.4,85.9 49.9,86.5 50.5,87.3 51.0,88.1 51.5,88.8 52.1,89.6 52.6,90.4 53.1,91.1 53.7,90.7 54.2,89.9 54.7,89.1 55.3,88.2 55.8,87.4 56.3,86.6 56.9,85.8 57.4,85.1 57.9,84.7 58.5,84.4 59.0,84.1 59.5,83.7 60.0,83.4 60.6,83.1 61.1,82.7 61.6,82.5 62.2,82.7 62.7,82.9 63.2,83.1 63.8,83.3 64.3,83.5 64.8,83.6 65.4,83.8 65.9,84.0 66.4,84.5 67.0,85.0 67.5,85.6 68.0,86.1 68.6,86.6 69.1,87.1 69.6,87.6 70.2,88.1 70.7,88.6 71.2,89.1 71.8,89.7 72.3,90.2 72.8,90.8 73.3,91.3 73.9,91.8 74.4,92.4 74.9,92.9 75.5,93.7 76.0,94.6 76.5,95.5 77.1,96.5 77.6,97.4 78.1,98.5 78.7,99.7 79.2,100.9 79.7,102.1 80.3,102.3 80.8,102.2 81.3,102.1 81.9,101.9 82.4,102.5 82.9,103.1 83.5,103.7 84.0,104.3 84.5,104.9 85.1,105.9 85.6,107.0 86.1,108.0 86.6,109.1 87.2,110.1 87.7,111.1 88.2,111.0 88.8,110.4 89.3,109.8 89.8,109.2 90.4,108.6 90.9,108.0 91.4,107.5 92.0,107.0 92.5,106.6 93.0,106.2 93.6,105.7 94.1,105.3 94.6,104.9 95.2,104.4 95.7,104.5 96.2,104.5 96.8,104.6 97.3,104.6 97.8,104.7 98.4,104.7 98.9,104.8 99.4,104.9 99.9,104.9 100.5,105.0 101.0,105.2 101.5,105.5 102.1,105.8 102.6,106.1 103.1,106.4 103.7,106.6 104.2,106.9 104.7,107.2 105.3,107.6 105.8,108.4 106.3,109.1 106.9,109.9 107.4,110.7 107.9,111.3 108.5,111.4 109.0,111.6 109.5,112.7 110.1,115.0 110.6,118.0 111.1,121.7 111.7,125.9 112.2,130.4 112.7,135.1 113.2,139.7 113.8,144.1 114.3,148.1 114.8,151.5 115.4,154.1 115.9,155.8 116.4,156.5 117.0,155.7 117.5,154.9 118.0,154.2 118.6,153.7 119.1,153.2 119.6,152.6 120.2,152.1 120.7,151.6 121.2,151.1 121.8,150.5 122.3,150.0 122.8,149.5 123.4,149.0 123.9,148.5 124.4,148.7 125.0,149.5 125.5,150.4 126.0,150.0 126.5,149.2 127.1,148.4 127.6,147.6 128.1,146.8 128.7,146.0 129.2,145.2 129.7,144.4 130.3,143.9 130.8,143.4 131.3,143.0 131.9,142.5 132.4,142.1 132.9,141.7 133.5,141.2 134.0,140.8 134.5,140.4 135.1,140.2 135.6,140.0 136.1,139.8 136.7,139.6 137.2,139.3 137.7,139.1 138.3,138.9 138.8,138.7 139.3,138.4 139.8,138.2 140.4,137.9 140.9,137.6 141.4,137.3 142.0,137.0 142.5,136.7 143.0,136.4 143.6,136.7 144.1,138.5 144.6,140.4 145.2,142.3 145.7,143.5 146.2,144.5 146.8,145.5 147.3,144.6 147.8,143.6 148.4,142.7 148.9,141.8 149.4,141.9 150.0,142.1 150.5,142.2 151.0,142.4 151.6,142.6 152.1,142.4 152.6,141.9 153.1,141.3 153.7,140.8 154.2,140.3 154.7,139.8 155.3,139.7 155.8,139.6 156.3,139.5 156.9,139.4 157.4,139.3 157.9,139.1 158.5,139.0 159.0,138.9 159.5,138.8 160.1,138.7 160.6,138.5 161.1,138.6 161.7,138.7 162.2,138.8 162.7,138.9 163.3,138.9 163.8,139.0 164.3,139.0 164.9,139.1 165.4,139.5 165.9,140.1 166.4,140.6 167.0,141.2 167.5,141.7 168.0,142.2 168.6,142.8 169.1,143.3 169.6,144.0 170.2,144.8 170.7,145.6 171.2,146.5 171.8,147.3 172.3,148.2 172.8,149.0 173.4,151.2 173.9,154.5 174.4,158.5 175.0,162.8 175.5,167.2 176.0,171.1 176.6,174.4 177.1,176.7 177.6,177.5 178.2,177.7 178.7,178.0 179.2,178.3 179.7,178.6 180.3,178.9 180.8,179.2 181.3,179.5 181.9,178.7 182.4,177.6 182.9,176.6 183.5,175.5 184.0,174.4 184.5,173.3 185.1,172.2 185.6,171.1 186.1,170.0 186.7,170.4 187.2,170.8 187.7,171.1 188.3,171.5 188.8,171.8 189.3,172.1 189.9,172.4 190.4,172.7 190.9,172.9 191.5,173.3 192.0,173.6 192.5,174.0 193.0,174.3 193.6,174.6 194.1,175.2 194.6,176.4 195.2,177.7 195.7,179.0 196.2,180.2 196.8,181.5 197.3,182.8 197.8,184.1 198.4,185.5 198.9,186.0 199.4,185.8 200.0,185.5 200.5,185.3 201.0,185.1 201.6,184.9 202.1,184.7 202.6,185.0 203.2,185.5 203.7,186.0 204.2,186.5 204.8,187.0 205.3,187.5 205.8,188.0 206.3,187.7 206.9,187.4 207.4,187.1 207.9,186.8 208.5,186.6 209.0,186.3 209.5,186.0 210.1,185.7 210.6,185.5 211.1,185.2 211.7,184.9 212.2,184.6 212.7,184.8 213.3,185.1 213.8,185.4 214.3,185.6 214.9,185.9 215.4,186.2 215.9,186.5 216.5,186.7 217.0,187.4 217.5,188.2 218.1,188.9 218.6,189.7 219.1,190.4 219.6,191.2 220.2,192.0 220.7,192.7 221.2,193.1 221.8,192.2 222.3,191.3 222.8,190.5 223.4,189.6 223.9,188.7 224.4,187.9 225.0,187.0 225.5,186.2" fill="none" stroke="#3de0e8" stroke-width="1.45" stroke-linejoin="round"/>
<polyline points="26.0,78.2 26.5,78.3 27.1,78.4 27.6,78.5 28.1,78.6 28.7,78.7 29.2,78.9 29.7,79.0 30.3,79.1 30.8,79.2 31.3,79.3 31.9,79.4 32.4,79.5 32.9,79.6 33.4,79.7 34.0,79.9 34.5,80.0 35.0,80.1 35.6,80.2 36.1,80.3 36.6,80.4 37.2,80.5 37.7,80.6 38.2,80.8 38.8,80.9 39.3,81.2 39.8,81.6 40.4,82.1 40.9,82.6 41.4,83.2 42.0,83.8 42.5,84.3 43.0,84.9 43.6,85.4 44.1,85.9 44.6,86.3 45.2,86.6 45.7,86.9 46.2,87.1 46.7,87.3 47.3,87.5 47.8,87.6 48.3,87.8 48.9,88.0 49.4,88.2 49.9,88.4 50.5,88.6 51.0,88.8 51.5,88.9 52.1,89.1 52.6,89.1 53.1,89.1 53.7,89.0 54.2,88.8 54.7,88.7 55.3,88.5 55.8,88.4 56.3,88.2 56.9,88.0 57.4,87.9 57.9,87.7 58.5,87.6 59.0,87.4 59.5,87.2 60.0,87.1 60.6,86.9 61.1,86.8 61.6,86.8 62.2,86.8 62.7,87.0 63.2,87.2 63.8,87.5 64.3,87.8 64.8,88.1 65.4,88.3 65.9,88.6 66.4,88.9 67.0,89.2 67.5,89.5 68.0,89.7 68.6,90.0 69.1,90.3 69.6,90.6 70.2,90.8 70.7,91.1 71.2,91.4 71.8,91.7 72.3,92.0 72.8,92.4 73.3,92.8 73.9,93.3 74.4,93.7 74.9,94.2 75.5,94.7 76.0,95.1 76.5,95.6 77.1,96.0 77.6,96.5 78.1,97.0 78.7,97.4 79.2,97.9 79.7,98.3 80.3,98.7 80.8,99.1 81.3,99.3 81.9,99.6 82.4,99.8 82.9,100.0 83.5,100.2 84.0,100.4 84.5,100.6 85.1,100.8 85.6,101.0 86.1,101.2 86.6,101.4 87.2,101.6 87.7,101.7 88.2,101.8 88.8,101.8 89.3,101.8 89.8,101.8 90.4,101.8 90.9,101.8 91.4,101.8 92.0,101.8 92.5,101.8 93.0,101.8 93.6,101.8 94.1,101.8 94.6,101.8 95.2,101.8 95.7,101.8 96.2,101.8 96.8,101.8 97.3,101.9 97.8,101.9 98.4,102.0 98.9,102.1 99.4,102.2 99.9,102.4 100.5,102.5 101.0,102.6 101.5,102.8 102.1,102.9 102.6,103.0 103.1,103.1 103.7,103.3 104.2,103.4 104.7,103.5 105.3,103.7 105.8,103.8 106.3,104.0 106.9,104.2 107.4,104.5 107.9,104.7 108.5,104.9 109.0,105.1 109.5,105.4 110.1,105.6 110.6,105.9 111.1,106.2 111.7,106.6 112.2,107.2 112.7,107.7 113.2,108.4 113.8,109.3 114.3,110.5 114.8,112.0 115.4,113.7 115.9,115.8 116.4,118.3 117.0,120.9 117.5,123.5 118.0,125.8 118.6,127.5 119.1,128.8 119.6,129.7 120.2,130.2 120.7,130.5 121.2,130.7 121.8,130.9 122.3,131.0 122.8,131.0 123.4,131.0 123.9,131.0 124.4,130.9 125.0,130.9 125.5,130.9 126.0,130.8 126.5,130.8 127.1,130.8 127.6,130.8 128.1,130.7 128.7,130.7 129.2,130.7 129.7,130.6 130.3,130.6 130.8,130.6 131.3,130.6 131.9,130.5 132.4,130.5 132.9,130.5 133.5,130.6 134.0,130.6 134.5,130.6 135.1,130.6 135.6,130.6 136.1,130.7 136.7,130.7 137.2,130.7 137.7,130.7 138.3,130.8 138.8,130.8 139.3,130.8 139.8,130.8 140.4,130.8 140.9,130.9 141.4,130.9 142.0,130.9 142.5,130.9 143.0,131.0 143.6,131.0 144.1,131.0 144.6,131.0 145.2,131.0 145.7,131.0 146.2,131.0 146.8,131.0 147.3,131.0 147.8,131.0 148.4,131.0 148.9,131.0 149.4,131.0 150.0,131.0 150.5,131.0 151.0,131.0 151.6,130.9 152.1,130.9 152.6,130.9 153.1,130.9 153.7,130.9 154.2,130.9 154.7,130.9 155.3,130.9 155.8,130.9 156.3,130.8 156.9,130.8 157.4,130.8 157.9,130.8 158.5,130.8 159.0,130.8 159.5,130.8 160.1,130.8 160.6,130.8 161.1,130.8 161.7,130.9 162.2,130.9 162.7,130.9 163.3,130.9 163.8,130.9 164.3,130.9 164.9,130.9 165.4,131.0 165.9,131.0 166.4,131.0 167.0,131.0 167.5,131.0 168.0,131.0 168.6,131.1 169.1,131.1 169.6,131.3 170.2,131.4 170.7,131.7 171.2,131.9 171.8,132.1 172.3,132.3 172.8,132.6 173.4,132.8 173.9,133.0 174.4,133.3 175.0,133.5 175.5,133.7 176.0,134.0 176.6,134.2 177.1,134.4 177.6,134.7 178.2,134.9 178.7,135.2 179.2,135.5 179.7,135.8 180.3,136.1 180.8,136.5 181.3,136.8 181.9,137.2 182.4,137.5 182.9,137.9 183.5,138.2 184.0,138.6 184.5,139.0 185.1,139.5 185.6,140.2 186.1,141.0 186.7,142.0 187.2,143.0 187.7,144.1 188.3,145.5 188.8,147.0 189.3,148.7 189.9,150.6 190.4,152.4 190.9,154.3 191.5,156.2 192.0,158.3 192.5,160.6 193.0,163.0 193.6,165.6 194.1,168.2 194.6,170.9 195.2,173.5 195.7,175.9 196.2,178.2 196.8,180.3 197.3,181.9 197.8,183.0 198.4,183.5 198.9,183.7 199.4,183.7 200.0,183.6 200.5,183.6 201.0,183.5 201.6,183.6 202.1,183.7 202.6,183.9 203.2,184.2 203.7,184.4 204.2,184.7 204.8,184.9 205.3,185.1 205.8,185.1 206.3,185.1 206.9,185.1 207.4,185.0 207.9,184.8 208.5,184.7 209.0,184.6 209.5,184.5 210.1,184.4 210.6,184.3 211.1,184.2 211.7,184.1 212.2,184.1 212.7,184.2 213.3,184.4 213.8,184.6 214.3,184.8 214.9,185.1 215.4,185.3 215.9,185.5 216.5,185.7 217.0,186.0 217.5,186.2 218.1,186.4 218.6,186.7 219.1,187.0 219.6,187.4 220.2,187.8 220.7,188.2 221.2,188.6 221.8,188.8 222.3,188.7 222.8,188.3 223.4,187.6 223.9,186.7 224.4,185.9 225.0,185.1 225.5,184.5" fill="none" stroke="#a85a38" stroke-width="1.45" stroke-linejoin="round"/>
<polyline points="26.0,57.4 26.5,57.5 27.1,57.7 27.6,57.9 28.1,58.1 28.7,58.2 29.2,58.4 29.7,58.6 30.3,58.8 30.8,59.0 31.3,59.2 31.9,59.3 32.4,59.5 32.9,59.7 33.4,59.9 34.0,60.2 34.5,60.5 35.0,60.9 35.6,61.2 36.1,61.6 36.6,62.0 37.2,62.4 37.7,62.7 38.2,63.1 38.8,63.5 39.3,63.9 39.8,64.2 40.4,64.6 40.9,65.1 41.4,65.8 42.0,66.8 42.5,68.0 43.0,69.2 43.6,70.3 44.1,71.0 44.6,71.2 45.2,71.0 45.7,70.7 46.2,70.4 46.7,70.3 47.3,70.4 47.8,70.7 48.3,71.1 48.9,71.6 49.4,72.0 49.9,72.5 50.5,72.9 51.0,73.4 51.5,73.8 52.1,74.1 52.6,74.2 53.1,74.0 53.7,73.8 54.2,73.5 54.7,73.2 55.3,72.9 55.8,72.6 56.3,72.3 56.9,72.0 57.4,71.7 57.9,71.4 58.5,71.3 59.0,71.3 59.5,71.4 60.0,71.6 60.6,71.9 61.1,72.2 61.6,72.4 62.2,72.7 62.7,73.0 63.2,73.2 63.8,73.5 64.3,73.8 64.8,74.0 65.4,74.3 65.9,74.5 66.4,74.8 67.0,75.0 67.5,75.2 68.0,75.4 68.6,75.6 69.1,75.9 69.6,76.1 70.2,76.3 70.7,76.5 71.2,76.7 71.8,76.8 72.3,77.0 72.8,77.2 73.3,77.4 73.9,77.6 74.4,78.0 74.9,78.6 75.5,79.2 76.0,79.9 76.5,80.6 77.1,81.3 77.6,82.0 78.1,82.8 78.7,83.6 79.2,84.4 79.7,85.2 80.3,86.0 80.8,86.7 81.3,87.2 81.9,87.4 82.4,87.5 82.9,87.4 83.5,87.3 84.0,87.3 84.5,87.3 85.1,87.6 85.6,88.1 86.1,88.8 86.6,89.5 87.2,90.2 87.7,90.6 88.2,90.8 88.8,90.6 89.3,90.4 89.8,90.1 90.4,89.7 90.9,89.4 91.4,89.1 92.0,88.9 92.5,88.7 93.0,88.7 93.6,88.6 94.1,88.6 94.6,88.5 95.2,88.5 95.7,88.4 96.2,88.4 96.8,88.3 97.3,88.3 97.8,88.2 98.4,88.3 98.9,88.3 99.4,88.3 99.9,88.4 100.5,88.4 101.0,88.5 101.5,88.5 102.1,88.5 102.6,88.6 103.1,88.6 103.7,88.7 104.2,88.7 104.7,88.9 105.3,89.1 105.8,89.4 106.3,89.9 106.9,90.5 107.4,91.4 107.9,92.7 108.5,94.3 109.0,96.1 109.5,98.1 110.1,100.2 110.6,102.5 111.1,104.9 111.7,107.5 112.2,110.6 112.7,114.2 113.2,118.3 113.8,122.5 114.3,126.6 114.8,130.6 115.4,134.2 115.9,137.5 116.4,140.2 117.0,142.0 117.5,142.7 118.0,142.7 118.6,142.5 119.1,142.1 119.6,141.8 120.2,141.4 120.7,141.0 121.2,140.5 121.8,139.9 122.3,139.2 122.8,138.5 123.4,137.8 123.9,137.4 124.4,137.2 125.0,137.3 125.5,137.4 126.0,137.1 126.5,136.4 127.1,135.6 127.6,134.8 128.1,133.9 128.7,133.0 129.2,132.2 129.7,131.4 130.3,130.7 130.8,130.1 131.3,129.5 131.9,129.0 132.4,128.4 132.9,127.9 133.5,127.3 134.0,126.8 134.5,126.4 135.1,126.1 135.6,125.8 136.1,125.5 136.7,125.3 137.2,125.0 137.7,124.8 138.3,124.5 138.8,124.2 139.3,124.0 139.8,123.7 140.4,123.5 140.9,123.2 141.4,122.9 142.0,122.7 142.5,122.5 143.0,122.6 143.6,123.2 144.1,124.4 144.6,125.9 145.2,127.4 145.7,128.6 146.2,129.4 146.8,129.8 147.3,129.6 147.8,129.1 148.4,128.5 148.9,128.1 149.4,127.9 150.0,127.9 150.5,128.0 151.0,128.1 151.6,128.0 152.1,127.8 152.6,127.5 153.1,127.0 153.7,126.5 154.2,126.1 154.7,125.7 155.3,125.4 155.8,125.2 156.3,125.0 156.9,124.9 157.4,124.7 157.9,124.6 158.5,124.4 159.0,124.3 159.5,124.1 160.1,124.0 160.6,123.9 161.1,123.9 161.7,123.9 162.2,123.9 162.7,124.0 163.3,124.0 163.8,124.0 164.3,124.1 164.9,124.2 165.4,124.4 165.9,124.7 166.4,125.0 167.0,125.4 167.5,125.7 168.0,126.1 168.6,126.4 169.1,126.9 169.6,127.4 170.2,128.1 170.7,128.8 171.2,129.6 171.8,130.5 172.3,131.8 172.8,133.5 173.4,135.6 173.9,137.8 174.4,140.3 175.0,143.3 175.5,147.0 176.0,151.2 176.6,155.5 177.1,159.5 177.6,162.7 178.2,164.8 178.7,166.1 179.2,167.1 179.7,168.0 180.3,168.8 180.8,169.5 181.3,169.8 181.9,169.5 182.4,168.6 182.9,167.5 183.5,166.3 184.0,165.1 184.5,163.9 185.1,162.7 185.6,161.7 186.1,161.0 186.7,160.8 187.2,161.0 187.7,161.2 188.3,161.5 188.8,161.8 189.3,162.1 189.9,162.5 190.4,162.8 190.9,163.2 191.5,163.6 192.0,164.0 192.5,164.5 193.0,165.1 193.6,165.8 194.1,166.7 194.6,168.0 195.2,169.6 195.7,171.2 196.2,172.8 196.8,174.3 197.3,175.9 197.8,177.3 198.4,178.4 198.9,179.1 199.4,179.3 200.0,179.2 200.5,179.1 201.0,178.9 201.6,178.7 202.1,178.7 202.6,179.0 203.2,179.4 203.7,179.9 204.2,180.4 204.8,180.9 205.3,181.3 205.8,181.6 206.3,181.6 206.9,181.4 207.4,181.1 207.9,180.8 208.5,180.5 209.0,180.2 209.5,179.9 210.1,179.6 210.6,179.3 211.1,179.1 211.7,178.8 212.2,178.7 212.7,178.8 213.3,179.0 213.8,179.4 214.3,179.7 214.9,180.1 215.4,180.5 215.9,180.9 216.5,181.4 217.0,182.0 217.5,182.8 218.1,183.6 218.6,184.3 219.1,185.1 219.6,185.9 220.2,186.6 220.7,187.1 221.2,187.3 221.8,186.9 222.3,186.2 222.8,185.4 223.4,184.5 223.9,183.7 224.4,182.9 225.0,182.1 225.5,181.6" fill="none" stroke="#f0b070" stroke-width="1.45" stroke-linejoin="round"/>
<polyline points="26.0,66.2 26.5,66.3 27.1,66.3 27.6,66.4 28.1,66.4 28.7,66.5 29.2,66.6 29.7,66.6 30.3,66.7 30.8,66.7 31.3,66.8 31.9,66.8 32.4,66.9 32.9,67.0 33.4,67.1 34.0,67.2 34.5,67.3 35.0,67.4 35.6,67.6 36.1,67.7 36.6,67.8 37.2,67.9 37.7,68.0 38.2,68.1 38.8,68.2 39.3,68.4 39.8,68.9 40.4,69.5 40.9,70.1 41.4,70.6 42.0,71.2 42.5,72.7 43.0,74.1 43.6,75.6 44.1,77.0 44.6,78.5 45.2,78.2 45.7,77.8 46.2,77.5 46.7,77.1 47.3,76.8 47.8,77.2 48.3,77.7 48.9,78.2 49.4,78.6 49.9,79.1 50.5,79.6 51.0,80.2 51.5,80.8 52.1,81.4 52.6,81.9 53.1,82.5 53.7,82.1 54.2,81.3 54.7,80.5 55.3,79.8 55.8,79.0 56.3,78.3 56.9,77.5 57.4,76.8 57.9,76.5 58.5,76.1 59.0,75.8 59.5,75.4 60.0,75.0 60.6,74.7 61.1,74.3 61.6,74.1 62.2,74.2 62.7,74.3 63.2,74.3 63.8,74.4 64.3,74.5 64.8,74.6 65.4,74.7 65.9,74.8 66.4,75.1 67.0,75.5 67.5,75.9 68.0,76.2 68.6,76.6 69.1,76.9 69.6,77.3 70.2,77.6 70.7,78.0 71.2,78.4 71.8,78.7 72.3,79.1 72.8,79.5 73.3,79.9 73.9,80.3 74.4,80.6 74.9,81.0 75.5,81.6 76.0,82.3 76.5,83.0 77.1,83.7 77.6,84.4 78.1,85.3 78.7,86.2 79.2,87.2 79.7,88.1 80.3,88.2 80.8,88.0 81.3,87.8 81.9,87.6 82.4,88.1 82.9,88.5 83.5,88.9 84.0,89.3 84.5,89.8 85.1,90.6 85.6,91.4 86.1,92.2 86.6,93.0 87.2,93.8 87.7,94.6 88.2,94.3 88.8,93.8 89.3,93.2 89.8,92.6 90.4,92.1 90.9,91.5 91.4,91.0 92.0,90.5 92.5,90.1 93.0,89.7 93.6,89.2 94.1,88.8 94.6,88.4 95.2,87.9 95.7,87.9 96.2,87.9 96.8,87.8 97.3,87.8 97.8,87.8 98.4,87.7 98.9,87.7 99.4,87.7 99.9,87.7 100.5,87.6 101.0,87.8 101.5,88.0 102.1,88.1 102.6,88.3 103.1,88.4 103.7,88.6 104.2,88.8 104.7,88.9 105.3,89.2 105.8,89.8 106.3,90.3 106.9,90.9 107.4,91.5 107.9,91.9 108.5,91.9 109.0,92.1 109.5,93.5 110.1,96.1 110.6,99.8 111.1,104.2 111.7,109.2 112.2,114.6 112.7,120.1 113.2,125.6 113.8,130.8 114.3,135.5 114.8,139.6 115.4,142.8 115.9,144.8 116.4,145.5 117.0,144.7 117.5,143.9 118.0,143.2 118.6,142.6 119.1,141.9 119.6,141.3 120.2,140.7 120.7,140.1 121.2,139.5 121.8,139.0 122.3,138.4 122.8,137.8 123.4,137.2 123.9,136.6 124.4,136.7 125.0,137.5 125.5,138.3 126.0,137.8 126.5,136.9 127.1,136.0 127.6,135.1 128.1,134.2 128.7,133.3 129.2,132.5 129.7,131.6 130.3,131.0 130.8,130.4 131.3,129.9 131.9,129.4 132.4,128.9 132.9,128.4 133.5,127.8 134.0,127.3 134.5,126.9 135.1,126.6 135.6,126.3 136.1,126.1 136.7,125.8 137.2,125.6 137.7,125.3 138.3,125.0 138.8,124.8 139.3,124.5 139.8,124.3 140.4,124.0 140.9,123.7 141.4,123.5 142.0,123.2 142.5,122.9 143.0,122.6 143.6,122.9 144.1,124.8 144.6,126.7 145.2,128.6 145.7,129.9 146.2,130.9 146.8,131.9 147.3,131.0 147.8,130.1 148.4,129.2 148.9,128.3 149.4,128.4 150.0,128.6 150.5,128.7 151.0,128.9 151.6,129.0 152.1,128.8 152.6,128.3 153.1,127.7 153.7,127.2 154.2,126.6 154.7,126.1 155.3,126.0 155.8,125.8 156.3,125.7 156.9,125.6 157.4,125.4 157.9,125.3 158.5,125.2 159.0,125.1 159.5,124.9 160.1,124.8 160.6,124.7 161.1,124.8 161.7,124.9 162.2,125.0 162.7,125.1 163.3,125.2 163.8,125.3 164.3,125.4 164.9,125.5 165.4,126.0 165.9,126.6 166.4,127.2 167.0,127.8 167.5,128.4 168.0,129.0 168.6,129.6 169.1,130.2 169.6,131.0 170.2,131.9 170.7,132.8 171.2,133.7 171.8,134.6 172.3,135.5 172.8,136.5 173.4,139.2 173.9,143.3 174.4,148.1 175.0,153.4 175.5,158.7 176.0,163.6 176.6,167.6 177.1,170.3 177.6,171.3 178.2,171.6 178.7,171.8 179.2,172.1 179.7,172.4 180.3,172.6 180.8,172.9 181.3,173.1 181.9,172.3 182.4,171.2 182.9,170.0 183.5,168.8 184.0,167.7 184.5,166.5 185.1,165.4 185.6,164.2 186.1,163.1 186.7,163.4 187.2,163.7 187.7,164.1 188.3,164.4 188.8,164.7 189.3,165.1 189.9,165.4 190.4,165.7 190.9,166.1 191.5,166.5 192.0,166.9 192.5,167.4 193.0,167.8 193.6,168.3 194.1,168.9 194.6,170.3 195.2,171.7 195.7,173.2 196.2,174.6 196.8,176.0 197.3,177.4 197.8,178.8 198.4,180.3 198.9,180.9 199.4,180.8 200.0,180.6 200.5,180.5 201.0,180.4 201.6,180.2 202.1,180.1 202.6,180.4 203.2,181.0 203.7,181.5 204.2,182.0 204.8,182.5 205.3,183.0 205.8,183.5 206.3,183.2 206.9,182.9 207.4,182.7 207.9,182.4 208.5,182.1 209.0,181.8 209.5,181.5 210.1,181.3 210.6,181.0 211.1,180.7 211.7,180.4 212.2,180.1 212.7,180.3 213.3,180.6 213.8,180.9 214.3,181.3 214.9,181.6 215.4,181.9 215.9,182.2 216.5,182.5 217.0,183.3 217.5,184.1 218.1,184.9 218.6,185.7 219.1,186.5 219.6,187.3 220.2,188.1 220.7,188.9 221.2,189.3 221.8,188.4 222.3,187.5 222.8,186.6 223.4,185.7 223.9,184.8 224.4,183.9 225.0,182.9 225.5,182.0" fill="none" stroke="#3535d5" stroke-width="1.45" stroke-linejoin="round"/>
<rect x="26" y="42" width="199.5" height="167" fill="none" stroke="#9a9a9a" stroke-width="1"/>
<line x1="26" y1="209.0" x2="27.5" y2="209.0" stroke="#9a9a9a" stroke-width="0.8"/>
<line x1="225.5" y1="209.0" x2="224.0" y2="209.0" stroke="#9a9a9a" stroke-width="0.8"/>
<text x="23.8" y="211.8" text-anchor="end" class="tk" textLength="4.3" lengthAdjust="spacingAndGlyphs">0</text>
<line x1="26" y1="181.2" x2="27.5" y2="181.2" stroke="#9a9a9a" stroke-width="0.8"/>
<line x1="225.5" y1="181.2" x2="224.0" y2="181.2" stroke="#9a9a9a" stroke-width="0.8"/>
<text x="23.8" y="184.0" text-anchor="end" class="tk" textLength="9.3" lengthAdjust="spacingAndGlyphs">0.1</text>
<line x1="26" y1="153.3" x2="27.5" y2="153.3" stroke="#9a9a9a" stroke-width="0.8"/>
<line x1="225.5" y1="153.3" x2="224.0" y2="153.3" stroke="#9a9a9a" stroke-width="0.8"/>
<text x="23.8" y="156.1" text-anchor="end" class="tk" textLength="9.3" lengthAdjust="spacingAndGlyphs">0.2</text>
<line x1="26" y1="125.5" x2="27.5" y2="125.5" stroke="#9a9a9a" stroke-width="0.8"/>
<line x1="225.5" y1="125.5" x2="224.0" y2="125.5" stroke="#9a9a9a" stroke-width="0.8"/>
<text x="23.8" y="128.3" text-anchor="end" class="tk" textLength="9.3" lengthAdjust="spacingAndGlyphs">0.3</text>
<line x1="26" y1="97.7" x2="27.5" y2="97.7" stroke="#9a9a9a" stroke-width="0.8"/>
<line x1="225.5" y1="97.7" x2="224.0" y2="97.7" stroke="#9a9a9a" stroke-width="0.8"/>
<text x="23.8" y="100.5" text-anchor="end" class="tk" textLength="9.3" lengthAdjust="spacingAndGlyphs">0.4</text>
<line x1="26" y1="69.8" x2="27.5" y2="69.8" stroke="#9a9a9a" stroke-width="0.8"/>
<line x1="225.5" y1="69.8" x2="224.0" y2="69.8" stroke="#9a9a9a" stroke-width="0.8"/>
<text x="23.8" y="72.6" text-anchor="end" class="tk" textLength="9.3" lengthAdjust="spacingAndGlyphs">0.5</text>
<line x1="26" y1="42.0" x2="27.5" y2="42.0" stroke="#9a9a9a" stroke-width="0.8"/>
<line x1="225.5" y1="42.0" x2="224.0" y2="42.0" stroke="#9a9a9a" stroke-width="0.8"/>
<text x="23.8" y="44.8" text-anchor="end" class="tk" textLength="9.3" lengthAdjust="spacingAndGlyphs">0.6</text>
<line x1="26.0" y1="209" x2="26.0" y2="207.5" stroke="#9a9a9a" stroke-width="0.8"/>
<line x1="26.0" y1="42" x2="26.0" y2="43.5" stroke="#9a9a9a" stroke-width="0.8"/>
<text x="26.0" y="218.6" text-anchor="middle" class="tk" textLength="13.6" lengthAdjust="spacingAndGlyphs">1000</text>
<line x1="92.5" y1="209" x2="92.5" y2="207.5" stroke="#9a9a9a" stroke-width="0.8"/>
<line x1="92.5" y1="42" x2="92.5" y2="43.5" stroke="#9a9a9a" stroke-width="0.8"/>
<text x="92.5" y="218.6" text-anchor="middle" class="tk" textLength="13.6" lengthAdjust="spacingAndGlyphs">1500</text>
<line x1="159.0" y1="209" x2="159.0" y2="207.5" stroke="#9a9a9a" stroke-width="0.8"/>
<line x1="159.0" y1="42" x2="159.0" y2="43.5" stroke="#9a9a9a" stroke-width="0.8"/>
<text x="159.0" y="218.6" text-anchor="middle" class="tk" textLength="13.6" lengthAdjust="spacingAndGlyphs">2000</text>
<line x1="225.5" y1="209" x2="225.5" y2="207.5" stroke="#9a9a9a" stroke-width="0.8"/>
<line x1="225.5" y1="42" x2="225.5" y2="43.5" stroke="#9a9a9a" stroke-width="0.8"/>
<text x="225.5" y="218.6" text-anchor="middle" class="tk" textLength="13.6" lengthAdjust="spacingAndGlyphs">2500</text>
<text x="125.8" y="227.4" text-anchor="middle" class="al" textLength="54" lengthAdjust="spacingAndGlyphs">Wavelength [nm]</text>
<text transform="translate(11.3,125.5) rotate(-90)" text-anchor="middle" class="al" textLength="38.5" lengthAdjust="spacingAndGlyphs">Reflectance</text>
<rect x="237.5" y="42" width="28.0" height="189.5" fill="#fff" stroke="#9a9a9a" stroke-width="1"/>
<line x1="239.0" y1="45.9" x2="252.5" y2="45.9" stroke="#3a3ad8" stroke-width="1.4"/>
<text x="253.7" y="48.5" class="lg" textLength="10.2" lengthAdjust="spacingAndGlyphs">E11</text>
<line x1="239.0" y1="53.2" x2="252.5" y2="53.2" stroke="#3de8e8" stroke-width="1.4"/>
<text x="253.7" y="55.8" class="lg" textLength="10.2" lengthAdjust="spacingAndGlyphs">E12</text>
<line x1="239.0" y1="60.4" x2="252.5" y2="60.4" stroke="#8b1a4a" stroke-width="1.4"/>
<text x="253.7" y="63.0" class="lg" textLength="10.2" lengthAdjust="spacingAndGlyphs">E17</text>
<line x1="239.0" y1="67.7" x2="252.5" y2="67.7" stroke="#3a9ab8" stroke-width="1.4"/>
<text x="253.7" y="70.3" class="lg" textLength="10.2" lengthAdjust="spacingAndGlyphs">E18</text>
<line x1="239.0" y1="75.0" x2="252.5" y2="75.0" stroke="#fbe6e6" stroke-width="1.4"/>
<text x="253.7" y="77.6" class="lg" textLength="6.7" lengthAdjust="spacingAndGlyphs">E2</text>
<line x1="239.0" y1="82.2" x2="252.5" y2="82.2" stroke="#8b6a2a" stroke-width="1.4"/>
<text x="253.7" y="84.8" class="lg" textLength="10.2" lengthAdjust="spacingAndGlyphs">E20</text>
<line x1="239.0" y1="89.5" x2="252.5" y2="89.5" stroke="#f0a090" stroke-width="1.4"/>
<text x="253.7" y="92.1" class="lg" textLength="10.2" lengthAdjust="spacingAndGlyphs">E24</text>
<line x1="239.0" y1="96.8" x2="252.5" y2="96.8" stroke="#8a9a9a" stroke-width="1.4"/>
<text x="253.7" y="99.4" class="lg" textLength="10.2" lengthAdjust="spacingAndGlyphs">E25</text>
<line x1="239.0" y1="104.1" x2="252.5" y2="104.1" stroke="#e040a0" stroke-width="1.4"/>
<text x="253.7" y="106.7" class="lg" textLength="10.2" lengthAdjust="spacingAndGlyphs">E26</text>
<line x1="239.0" y1="111.3" x2="252.5" y2="111.3" stroke="#8040c0" stroke-width="1.4"/>
<text x="253.7" y="113.9" class="lg" textLength="10.2" lengthAdjust="spacingAndGlyphs">E29</text>
<line x1="239.0" y1="118.6" x2="252.5" y2="118.6" stroke="#a04a30" stroke-width="1.4"/>
<text x="253.7" y="121.2" class="lg" textLength="10.2" lengthAdjust="spacingAndGlyphs">E31</text>
<line x1="239.0" y1="125.9" x2="252.5" y2="125.9" stroke="#40b040" stroke-width="1.4"/>
<text x="253.7" y="128.5" class="lg" textLength="10.2" lengthAdjust="spacingAndGlyphs">E36</text>
<line x1="239.0" y1="133.1" x2="252.5" y2="133.1" stroke="#d0a0b0" stroke-width="1.4"/>
<text x="253.7" y="135.7" class="lg" textLength="10.2" lengthAdjust="spacingAndGlyphs">E38</text>
<line x1="239.0" y1="140.4" x2="252.5" y2="140.4" stroke="#f080a0" stroke-width="1.4"/>
<text x="253.7" y="143.0" class="lg" textLength="10.2" lengthAdjust="spacingAndGlyphs">E39</text>
<line x1="239.0" y1="147.7" x2="252.5" y2="147.7" stroke="#30b8e0" stroke-width="1.4"/>
<text x="253.7" y="150.3" class="lg" textLength="6.7" lengthAdjust="spacingAndGlyphs">E4</text>
<line x1="239.0" y1="154.9" x2="252.5" y2="154.9" stroke="#205060" stroke-width="1.4"/>
<text x="253.7" y="157.5" class="lg" textLength="10.2" lengthAdjust="spacingAndGlyphs">E40</text>
<line x1="239.0" y1="162.2" x2="252.5" y2="162.2" stroke="#8a9040" stroke-width="1.4"/>
<text x="253.7" y="164.8" class="lg" textLength="10.2" lengthAdjust="spacingAndGlyphs">E42</text>
<line x1="239.0" y1="169.5" x2="252.5" y2="169.5" stroke="#b09030" stroke-width="1.4"/>
<text x="253.7" y="172.1" class="lg" textLength="10.2" lengthAdjust="spacingAndGlyphs">E47</text>
<line x1="239.0" y1="176.8" x2="252.5" y2="176.8" stroke="#e0f070" stroke-width="1.4"/>
<text x="253.7" y="179.4" class="lg" textLength="10.2" lengthAdjust="spacingAndGlyphs">E49</text>
<line x1="239.0" y1="184.0" x2="252.5" y2="184.0" stroke="#a030e0" stroke-width="1.4"/>
<text x="253.7" y="186.6" class="lg" textLength="10.2" lengthAdjust="spacingAndGlyphs">E55</text>
<line x1="239.0" y1="191.3" x2="252.5" y2="191.3" stroke="#f08050" stroke-width="1.4"/>
<text x="253.7" y="193.9" class="lg" textLength="10.2" lengthAdjust="spacingAndGlyphs">E57</text>
<line x1="239.0" y1="198.6" x2="252.5" y2="198.6" stroke="#207050" stroke-width="1.4"/>
<text x="253.7" y="201.2" class="lg" textLength="10.2" lengthAdjust="spacingAndGlyphs">E58</text>
<line x1="239.0" y1="205.8" x2="252.5" y2="205.8" stroke="#9080a0" stroke-width="1.4"/>
<text x="253.7" y="208.4" class="lg" textLength="10.2" lengthAdjust="spacingAndGlyphs">E59</text>
<line x1="239.0" y1="213.1" x2="252.5" y2="213.1" stroke="#a06040" stroke-width="1.4"/>
<text x="253.7" y="215.7" class="lg" textLength="10.2" lengthAdjust="spacingAndGlyphs">E60</text>
<line x1="239.0" y1="220.4" x2="252.5" y2="220.4" stroke="#b0f0e8" stroke-width="1.4"/>
<text x="253.7" y="223.0" class="lg" textLength="6.7" lengthAdjust="spacingAndGlyphs">E7</text>
<line x1="239.0" y1="227.7" x2="252.5" y2="227.7" stroke="#f0b070" stroke-width="1.4"/>
<text x="253.7" y="230.2" class="lg" textLength="6.7" lengthAdjust="spacingAndGlyphs">E8</text>
<text x="52.0" y="13.3" class="tt" textLength="79" lengthAdjust="spacingAndGlyphs">ASD FieldSpec</text>
<circle cx="137.1" cy="7.9" r="2.3" fill="none" stroke="#8a8a8a" stroke-width="0.6"/>
<text x="137.1" y="9.3" text-anchor="middle" font-family="Liberation Sans,sans-serif" font-size="3.8" fill="#8a8a8a">R</text>
<text x="143.3" y="13.3" class="tt" textLength="80.7" lengthAdjust="spacingAndGlyphs">4 Standard-Res</text>
<text x="138.0" y="29.4" text-anchor="middle" class="tt" textLength="62.5" lengthAdjust="spacingAndGlyphs">Training set</text>
<polyline points="302.5,184.3 303.0,184.3 303.6,184.4 304.1,184.4 304.6,184.5 305.2,184.6 305.7,184.6 306.2,184.7 306.8,184.8 307.3,184.8 307.8,184.9 308.4,185.0 308.9,185.0 309.4,185.1 310.0,185.2 310.5,185.2 311.0,185.3 311.6,185.4 312.1,185.4 312.6,185.5 313.2,185.6 313.7,185.6 314.2,185.7 314.8,185.8 315.3,185.8 315.8,185.9 316.4,186.0 316.9,186.0 317.4,186.1 318.0,186.2 318.5,186.2 319.0,186.3 319.6,186.4 320.1,186.4 320.6,186.5 321.2,186.6 321.7,186.6 322.2,186.7 322.8,186.8 323.3,186.8 323.8,186.9 324.4,187.0 324.9,187.0 325.4,187.1 326.0,187.2 326.5,187.2 327.0,187.3 327.6,187.4 328.1,187.4 328.6,187.5 329.2,187.6 329.7,187.6 330.2,187.7 330.8,187.8 331.3,187.9 331.8,187.9 332.4,188.0 332.9,188.1 333.4,188.1 334.0,188.2 334.5,188.3 335.0,188.4 335.6,188.4 336.1,188.5 336.6,188.6 337.2,188.7 337.7,188.7 338.2,188.8 338.8,188.9 339.3,188.9 339.8,189.0 340.4,189.1 340.9,189.2 341.4,189.2 342.0,189.3 342.5,189.4 343.0,189.4 343.6,189.5 344.1,189.6 344.6,189.7 345.2,189.7 345.7,189.8 346.2,189.9 346.8,190.0 347.3,190.0 347.8,190.1 348.4,190.2 348.9,190.2 349.4,190.3 350.0,190.4 350.5,190.5 351.0,190.5 351.6,190.6 352.1,190.7 352.6,190.8 353.2,190.8 353.7,190.9 354.2,191.0 354.8,191.0 355.3,191.1 355.8,191.2 356.4,191.3 356.9,191.3 357.4,191.4 358.0,191.5 358.5,191.5 359.0,191.6 359.6,191.7 360.1,191.8 360.6,191.8 361.2,191.9 361.7,192.0 362.2,192.1 362.8,192.1 363.3,192.2 363.8,192.3 364.4,192.3 364.9,192.4 365.4,192.5 366.0,192.6 366.5,192.6 367.0,192.7 367.6,192.8 368.1,192.9 368.6,192.9 369.2,193.0 369.7,193.1 370.2,193.1 370.8,193.2 371.3,193.3 371.8,193.4 372.4,193.4 372.9,193.5 373.4,193.6 374.0,193.6 374.5,193.7 375.0,193.8 375.6,193.9 376.1,193.9 376.6,194.0 377.2,194.1 377.7,194.2 378.2,194.2 378.8,194.3 379.3,194.4 379.8,194.4 380.4,194.5 380.9,194.6 381.4,194.7 382.0,194.7 382.5,194.8 383.0,194.9 383.6,195.0 384.1,195.1 384.6,195.3 385.2,195.4 385.7,195.5 386.2,195.6 386.8,195.7 387.3,195.8 387.8,195.9 388.4,196.0 388.9,196.1 389.4,196.3 390.0,196.4 390.5,196.5 391.0,196.6 391.6,196.7 392.1,196.8 392.6,196.9 393.2,197.0 393.7,197.1 394.2,197.2 394.8,197.3 395.3,197.3 395.8,197.3 396.4,197.3 396.9,197.3 397.4,197.3 398.0,197.2 398.5,197.2 399.0,197.2 399.6,197.2 400.1,197.2 400.6,197.2 401.2,197.2 401.7,197.2 402.2,197.2 402.8,197.2 403.3,197.1 403.8,197.1 404.4,197.1 404.9,197.1 405.4,197.1 406.0,197.1 406.5,197.1 407.0,197.1 407.6,197.1 408.1,197.1 408.6,197.0 409.2,197.0 409.7,197.0 410.2,197.1 410.8,197.1 411.3,197.1 411.8,197.1 412.4,197.1 412.9,197.1 413.4,197.1 414.0,197.1 414.5,197.1 415.0,197.2 415.6,197.2 416.1,197.2 416.6,197.2 417.2,197.2 417.7,197.2 418.2,197.2 418.8,197.2 419.3,197.2 419.8,197.3 420.4,197.3 420.9,197.3 421.4,197.3 422.0,197.3 422.5,197.3 423.0,197.3 423.6,197.3 424.1,197.3 424.6,197.4 425.2,197.4 425.7,197.4 426.2,197.4 426.8,197.4 427.3,197.4 427.8,197.4 428.4,197.4 428.9,197.4 429.4,197.5 430.0,197.5 430.5,197.5 431.0,197.5 431.6,197.5 432.1,197.5 432.6,197.5 433.2,197.5 433.7,197.5 434.2,197.6 434.8,197.6 435.3,197.6 435.8,197.6 436.4,197.6 436.9,197.6 437.4,197.6 438.0,197.6 438.5,197.6 439.0,197.7 439.6,197.7 440.1,197.7 440.6,197.7 441.2,197.7 441.7,197.7 442.2,197.7 442.8,197.7 443.3,197.7 443.8,197.8 444.4,197.8 444.9,197.8 445.4,197.8 446.0,197.8 446.5,197.8 447.0,197.8 447.6,197.8 448.1,197.8 448.6,197.9 449.2,197.9 449.7,198.0 450.2,198.0 450.8,198.1 451.3,198.2 451.8,198.3 452.4,198.4 452.9,198.5 453.4,198.6 454.0,198.7 454.5,198.8 455.0,198.8 455.6,198.9 456.1,199.0 456.6,199.0 457.2,199.0 457.7,199.0 458.2,199.0 458.8,199.0 459.3,199.0 459.8,199.0 460.4,199.0 460.9,199.1 461.4,199.1 462.0,199.1 462.5,199.1 463.0,199.1 463.6,199.1 464.1,199.1 464.6,199.1 465.2,199.1 465.7,199.1 466.2,199.1 466.8,199.1 467.3,199.1 467.8,199.1 468.4,199.2 468.9,199.2 469.4,199.2 470.0,199.2 470.5,199.2 471.0,199.2 471.6,199.2 472.1,199.2 472.6,199.2 473.2,199.2 473.7,199.2 474.2,199.2 474.8,199.2 475.3,199.3 475.8,199.3 476.4,199.3 476.9,199.3 477.4,199.3 478.0,199.4 478.5,199.4 479.0,199.4 479.6,199.5 480.1,199.5 480.6,199.5 481.2,199.6 481.7,199.6 482.2,199.6 482.8,199.6 483.3,199.7 483.8,199.7 484.4,199.7 484.9,199.8 485.4,199.8 486.0,199.8 486.5,199.9 487.0,199.9 487.6,199.9 488.1,199.9 488.6,200.0 489.2,200.0 489.7,200.0 490.2,200.1 490.8,200.1 491.3,200.1 491.8,200.1 492.4,200.2 492.9,200.2 493.4,200.2 494.0,200.3 494.5,200.3 495.0,200.3 495.6,200.3 496.1,200.4 496.6,200.4 497.2,200.4 497.7,200.4 498.2,200.4 498.8,200.4 499.3,200.4 499.8,200.4 500.4,200.4 500.9,200.4 501.4,200.4 502.0,200.4 502.5,200.4" fill="none" stroke="#8060b0" stroke-width="1.45" stroke-linejoin="round"/>
<polyline points="302.5,166.0 303.0,166.1 303.6,166.2 304.1,166.4 304.6,166.5 305.2,166.7 305.7,166.9 306.2,167.0 306.8,167.2 307.3,167.4 307.8,167.5 308.4,167.7 308.9,167.9 309.4,168.0 310.0,168.2 310.5,168.4 311.0,168.5 311.6,168.7 312.1,168.9 312.6,169.0 313.2,169.2 313.7,169.4 314.2,169.5 314.8,169.7 315.3,169.9 315.8,170.0 316.4,170.1 316.9,170.2 317.4,170.3 318.0,170.4 318.5,170.5 319.0,170.6 319.6,170.7 320.1,170.8 320.6,170.9 321.2,171.0 321.7,171.1 322.2,171.2 322.8,171.3 323.3,171.4 323.8,171.5 324.4,171.6 324.9,171.7 325.4,171.8 326.0,171.9 326.5,172.0 327.0,172.1 327.6,172.2 328.1,172.3 328.6,172.4 329.2,172.5 329.7,172.6 330.2,172.7 330.8,172.8 331.3,172.9 331.8,173.0 332.4,173.1 332.9,173.2 333.4,173.3 334.0,173.4 334.5,173.5 335.0,173.6 335.6,173.7 336.1,173.8 336.6,173.9 337.2,174.0 337.7,174.1 338.2,174.2 338.8,174.3 339.3,174.4 339.8,174.5 340.4,174.6 340.9,174.7 341.4,174.8 342.0,174.9 342.5,175.0 343.0,175.1 343.6,175.2 344.1,175.3 344.6,175.4 345.2,175.5 345.7,175.6 346.2,175.7 346.8,175.8 347.3,175.8 347.8,175.9 348.4,176.0 348.9,176.1 349.4,176.2 350.0,176.3 350.5,176.4 351.0,176.5 351.6,176.6 352.1,176.6 352.6,176.7 353.2,176.8 353.7,176.9 354.2,177.0 354.8,177.1 355.3,177.2 355.8,177.3 356.4,177.4 356.9,177.4 357.4,177.5 358.0,177.6 358.5,177.7 359.0,177.8 359.6,177.9 360.1,178.0 360.6,178.1 361.2,178.2 361.7,178.2 362.2,178.3 362.8,178.4 363.3,178.5 363.8,178.6 364.4,178.7 364.9,178.8 365.4,178.9 366.0,179.0 366.5,179.1 367.0,179.1 367.6,179.2 368.1,179.3 368.6,179.4 369.2,179.5 369.7,179.6 370.2,179.6 370.8,179.7 371.3,179.8 371.8,179.8 372.4,179.9 372.9,180.0 373.4,180.0 374.0,180.1 374.5,180.2 375.0,180.2 375.6,180.3 376.1,180.4 376.6,180.4 377.2,180.5 377.7,180.6 378.2,180.6 378.8,180.7 379.3,180.8 379.8,180.8 380.4,180.9 380.9,181.0 381.4,181.0 382.0,181.1 382.5,181.2 383.0,181.3 383.6,181.3 384.1,181.4 384.6,181.5 385.2,181.6 385.7,181.7 386.2,181.8 386.8,181.9 387.3,182.0 387.8,182.2 388.4,182.5 388.9,182.9 389.4,183.3 390.0,183.8 390.5,184.2 391.0,184.6 391.6,185.0 392.1,185.2 392.6,185.4 393.2,185.5 393.7,185.5 394.2,185.5 394.8,185.4 395.3,185.2 395.8,185.1 396.4,184.8 396.9,184.6 397.4,184.4 398.0,184.2 398.5,184.1 399.0,184.0 399.6,184.0 400.1,184.0 400.6,184.1 401.2,184.1 401.7,184.1 402.2,184.1 402.8,184.2 403.3,184.2 403.8,184.2 404.4,184.3 404.9,184.3 405.4,184.3 406.0,184.3 406.5,184.4 407.0,184.4 407.6,184.4 408.1,184.5 408.6,184.5 409.2,184.5 409.7,184.5 410.2,184.6 410.8,184.6 411.3,184.6 411.8,184.7 412.4,184.7 412.9,184.7 413.4,184.8 414.0,184.8 414.5,184.8 415.0,184.9 415.6,184.9 416.1,184.9 416.6,185.0 417.2,185.0 417.7,185.0 418.2,185.1 418.8,185.1 419.3,185.1 419.8,185.2 420.4,185.2 420.9,185.2 421.4,185.3 422.0,185.3 422.5,185.4 423.0,185.4 423.6,185.5 424.1,185.5 424.6,185.6 425.2,185.6 425.7,185.7 426.2,185.7 426.8,185.8 427.3,185.8 427.8,185.9 428.4,186.0 428.9,186.0 429.4,186.1 430.0,186.1 430.5,186.2 431.0,186.2 431.6,186.3 432.1,186.3 432.6,186.4 433.2,186.5 433.7,186.5 434.2,186.6 434.8,186.6 435.3,186.7 435.8,186.7 436.4,186.8 436.9,186.8 437.4,186.8 438.0,186.9 438.5,186.9 439.0,186.9 439.6,187.0 440.1,187.0 440.6,187.0 441.2,187.1 441.7,187.1 442.2,187.1 442.8,187.2 443.3,187.2 443.8,187.2 444.4,187.3 444.9,187.3 445.4,187.3 446.0,187.4 446.5,187.4 447.0,187.4 447.6,187.5 448.1,187.5 448.6,187.6 449.2,187.7 449.7,188.0 450.2,188.3 450.8,188.6 451.3,188.9 451.8,189.2 452.4,189.6 452.9,189.9 453.4,190.2 454.0,190.5 454.5,190.8 455.0,191.0 455.6,191.1 456.1,191.2 456.6,191.3 457.2,191.4 457.7,191.5 458.2,191.6 458.8,191.7 459.3,191.7 459.8,191.8 460.4,191.9 460.9,192.0 461.4,192.1 462.0,192.2 462.5,192.3 463.0,192.3 463.6,192.4 464.1,192.4 464.6,192.5 465.2,192.5 465.7,192.6 466.2,192.6 466.8,192.7 467.3,192.7 467.8,192.7 468.4,192.8 468.9,192.8 469.4,192.9 470.0,192.9 470.5,193.0 471.0,193.0 471.6,193.1 472.1,193.1 472.6,193.1 473.2,193.2 473.7,193.2 474.2,193.3 474.8,193.3 475.3,193.4 475.8,193.4 476.4,193.5 476.9,193.5 477.4,193.6 478.0,193.7 478.5,193.7 479.0,193.8 479.6,193.9 480.1,193.9 480.6,194.0 481.2,194.1 481.7,194.1 482.2,194.2 482.8,194.3 483.3,194.3 483.8,194.4 484.4,194.5 484.9,194.5 485.4,194.6 486.0,194.7 486.5,194.7 487.0,194.8 487.6,194.9 488.1,195.0 488.6,195.0 489.2,195.1 489.7,195.2 490.2,195.3 490.8,195.4 491.3,195.5 491.8,195.6 492.4,195.8 492.9,195.9 493.4,196.0 494.0,196.1 494.5,196.2 495.0,196.3 495.6,196.3 496.1,196.4 496.6,196.4 497.2,196.3 497.7,196.2 498.2,196.2 498.8,196.1 499.3,196.0 499.8,196.0 500.4,195.9 500.9,195.8 501.4,195.8 502.0,195.7 502.5,195.7" fill="none" stroke="#f5dc80" stroke-width="1.45" stroke-linejoin="round"/>
<polyline points="302.5,150.3 303.0,150.4 303.6,150.5 304.1,150.5 304.6,150.6 305.2,150.7 305.7,150.8 306.2,150.9 306.8,151.0 307.3,151.1 307.8,151.2 308.4,151.3 308.9,151.3 309.4,151.4 310.0,151.5 310.5,151.6 311.0,151.7 311.6,151.8 312.1,151.9 312.6,152.0 313.2,152.1 313.7,152.1 314.2,152.2 314.8,152.3 315.3,152.5 315.8,152.7 316.4,152.9 316.9,153.2 317.4,153.6 318.0,154.0 318.5,154.4 319.0,155.1 319.6,156.0 320.1,157.0 320.6,158.1 321.2,158.9 321.7,159.2 322.2,158.9 322.8,158.2 323.3,157.3 323.8,156.6 324.4,156.0 324.9,155.6 325.4,155.3 326.0,155.2 326.5,155.1 327.0,155.3 327.6,155.7 328.1,156.1 328.6,156.5 329.2,156.9 329.7,157.3 330.2,157.5 330.8,157.5 331.3,157.2 331.8,156.8 332.4,156.4 332.9,155.9 333.4,155.4 334.0,155.1 334.5,154.8 335.0,154.7 335.6,154.7 336.1,154.8 336.6,154.9 337.2,155.0 337.7,155.1 338.2,155.2 338.8,155.3 339.3,155.4 339.8,155.6 340.4,155.7 340.9,155.8 341.4,155.9 342.0,156.0 342.5,156.1 343.0,156.3 343.6,156.4 344.1,156.5 344.6,156.7 345.2,156.8 345.7,156.9 346.2,157.1 346.8,157.2 347.3,157.3 347.8,157.5 348.4,157.6 348.9,157.7 349.4,157.9 350.0,158.0 350.5,158.1 351.0,158.3 351.6,158.4 352.1,158.5 352.6,158.7 353.2,158.8 353.7,158.9 354.2,159.1 354.8,159.2 355.3,159.3 355.8,159.4 356.4,159.6 356.9,159.7 357.4,159.8 358.0,159.9 358.5,160.0 359.0,160.1 359.6,160.2 360.1,160.3 360.6,160.5 361.2,160.6 361.7,160.7 362.2,160.8 362.8,160.9 363.3,161.0 363.8,161.1 364.4,161.2 364.9,161.3 365.4,161.5 366.0,161.6 366.5,161.7 367.0,161.8 367.6,161.9 368.1,162.0 368.6,162.1 369.2,162.3 369.7,162.4 370.2,162.5 370.8,162.7 371.3,162.8 371.8,163.0 372.4,163.1 372.9,163.3 373.4,163.4 374.0,163.5 374.5,163.7 375.0,163.8 375.6,164.0 376.1,164.1 376.6,164.3 377.2,164.4 377.7,164.6 378.2,164.7 378.8,164.8 379.3,165.0 379.8,165.1 380.4,165.3 380.9,165.4 381.4,165.6 382.0,165.7 382.5,165.9 383.0,166.1 383.6,166.4 384.1,166.6 384.6,166.9 385.2,167.2 385.7,167.6 386.2,168.2 386.8,169.1 387.3,170.3 387.8,171.8 388.4,173.3 388.9,175.0 389.4,176.8 390.0,178.7 390.5,180.7 391.0,182.6 391.6,184.4 392.1,185.9 392.6,187.0 393.2,187.6 393.7,187.8 394.2,187.6 394.8,187.0 395.3,186.2 395.8,185.4 396.4,184.5 396.9,183.7 397.4,182.9 398.0,182.2 398.5,181.8 399.0,181.7 399.6,181.8 400.1,182.0 400.6,182.1 401.2,182.0 401.7,181.6 402.2,181.1 402.8,180.4 403.3,179.8 403.8,179.3 404.4,179.0 404.9,178.9 405.4,178.8 406.0,178.7 406.5,178.7 407.0,178.6 407.6,178.5 408.1,178.5 408.6,178.4 409.2,178.4 409.7,178.3 410.2,178.2 410.8,178.0 411.3,177.9 411.8,177.8 412.4,177.7 412.9,177.6 413.4,177.5 414.0,177.4 414.5,177.3 415.0,177.2 415.6,177.1 416.1,177.1 416.6,177.1 417.2,177.2 417.7,177.2 418.2,177.3 418.8,177.4 419.3,177.4 419.8,177.5 420.4,177.6 420.9,177.6 421.4,177.7 422.0,177.7 422.5,177.8 423.0,177.8 423.6,177.8 424.1,177.7 424.6,177.7 425.2,177.7 425.7,177.6 426.2,177.6 426.8,177.6 427.3,177.5 427.8,177.5 428.4,177.5 428.9,177.4 429.4,177.4 430.0,177.4 430.5,177.3 431.0,177.3 431.6,177.3 432.1,177.2 432.6,177.2 433.2,177.2 433.7,177.1 434.2,177.1 434.8,177.1 435.3,177.0 435.8,177.0 436.4,177.0 436.9,177.1 437.4,177.1 438.0,177.1 438.5,177.2 439.0,177.2 439.6,177.2 440.1,177.3 440.6,177.3 441.2,177.3 441.7,177.4 442.2,177.4 442.8,177.4 443.3,177.5 443.8,177.5 444.4,177.5 444.9,177.6 445.4,177.6 446.0,177.6 446.5,177.7 447.0,177.7 447.6,177.7 448.1,177.8 448.6,177.9 449.2,178.2 449.7,178.6 450.2,179.1 450.8,179.7 451.3,180.4 451.8,181.0 452.4,181.7 452.9,182.4 453.4,183.3 454.0,184.3 454.5,185.3 455.0,186.3 455.6,187.2 456.1,187.8 456.6,188.2 457.2,188.4 457.7,188.5 458.2,188.6 458.8,188.7 459.3,188.8 459.8,189.0 460.4,189.1 460.9,189.2 461.4,189.3 462.0,189.4 462.5,189.4 463.0,189.4 463.6,189.3 464.1,189.2 464.6,189.2 465.2,189.1 465.7,189.0 466.2,188.9 466.8,188.8 467.3,188.7 467.8,188.6 468.4,188.6 468.9,188.6 469.4,188.7 470.0,188.9 470.5,189.1 471.0,189.3 471.6,189.6 472.1,189.9 472.6,190.1 473.2,190.4 473.7,190.7 474.2,190.9 474.8,191.2 475.3,191.4 475.8,191.6 476.4,191.7 476.9,191.8 477.4,191.9 478.0,191.9 478.5,192.0 479.0,192.0 479.6,192.1 480.1,192.1 480.6,192.1 481.2,192.2 481.7,192.2 482.2,192.3 482.8,192.3 483.3,192.4 483.8,192.4 484.4,192.5 484.9,192.5 485.4,192.5 486.0,192.6 486.5,192.6 487.0,192.7 487.6,192.7 488.1,192.8 488.6,192.8 489.2,192.9 489.7,193.0 490.2,193.1 490.8,193.2 491.3,193.4 491.8,193.5 492.4,193.6 492.9,193.7 493.4,193.9 494.0,194.0 494.5,194.1 495.0,194.3 495.6,194.4 496.1,194.5 496.6,194.6 497.2,194.8 497.7,194.9 498.2,194.9 498.8,194.9 499.3,194.8 499.8,194.6 500.4,194.4 500.9,194.2 501.4,194.1 502.0,193.9 502.5,193.8" fill="none" stroke="#cdd4ee" stroke-width="1.45" stroke-linejoin="round"/>
<polyline points="302.5,147.3 303.0,147.4 303.6,147.5 304.1,147.6 304.6,147.7 305.2,147.9 305.7,148.0 306.2,148.1 306.8,148.3 307.3,148.4 307.8,148.5 308.4,148.7 308.9,148.8 309.4,148.9 310.0,149.1 310.5,149.2 311.0,149.3 311.6,149.5 312.1,149.6 312.6,149.7 313.2,149.9 313.7,150.0 314.2,150.1 314.8,150.3 315.3,150.4 315.8,150.5 316.4,150.7 316.9,150.8 317.4,150.9 318.0,151.0 318.5,151.1 319.0,151.2 319.6,151.3 320.1,151.4 320.6,151.6 321.2,151.7 321.7,151.8 322.2,151.9 322.8,152.0 323.3,152.1 323.8,152.2 324.4,152.3 324.9,152.4 325.4,152.6 326.0,152.7 326.5,152.8 327.0,152.9 327.6,153.0 328.1,153.1 328.6,153.2 329.2,153.3 329.7,153.4 330.2,153.6 330.8,153.7 331.3,153.8 331.8,153.9 332.4,154.0 332.9,154.1 333.4,154.2 334.0,154.3 334.5,154.4 335.0,154.6 335.6,154.7 336.1,154.8 336.6,154.9 337.2,155.0 337.7,155.1 338.2,155.2 338.8,155.3 339.3,155.4 339.8,155.6 340.4,155.7 340.9,155.8 341.4,155.9 342.0,156.0 342.5,156.1 343.0,156.2 343.6,156.3 344.1,156.5 344.6,156.6 345.2,156.7 345.7,156.8 346.2,156.9 346.8,157.0 347.3,157.1 347.8,157.2 348.4,157.3 348.9,157.5 349.4,157.6 350.0,157.7 350.5,157.8 351.0,157.9 351.6,158.0 352.1,158.1 352.6,158.2 353.2,158.3 353.7,158.5 354.2,158.6 354.8,158.7 355.3,158.8 355.8,158.9 356.4,159.0 356.9,159.2 357.4,159.3 358.0,159.4 358.5,159.6 359.0,159.7 359.6,159.8 360.1,160.0 360.6,160.1 361.2,160.2 361.7,160.4 362.2,160.5 362.8,160.6 363.3,160.8 363.8,160.9 364.4,161.0 364.9,161.2 365.4,161.3 366.0,161.4 366.5,161.6 367.0,161.7 367.6,161.8 368.1,162.0 368.6,162.1 369.2,162.2 369.7,162.3 370.2,162.5 370.8,162.6 371.3,162.7 371.8,162.8 372.4,162.9 372.9,163.0 373.4,163.1 374.0,163.2 374.5,163.4 375.0,163.5 375.6,163.6 376.1,163.7 376.6,163.8 377.2,163.9 377.7,164.0 378.2,164.1 378.8,164.2 379.3,164.4 379.8,164.5 380.4,164.6 380.9,164.7 381.4,164.8 382.0,164.9 382.5,165.1 383.0,165.3 383.6,165.5 384.1,165.7 384.6,165.9 385.2,166.2 385.7,166.4 386.2,166.8 386.8,167.3 387.3,168.0 387.8,168.8 388.4,169.6 388.9,170.4 389.4,171.1 390.0,171.9 390.5,172.5 391.0,172.9 391.6,173.2 392.1,173.4 392.6,173.6 393.2,173.7 393.7,173.9 394.2,174.0 394.8,174.0 395.3,173.9 395.8,173.8 396.4,173.7 396.9,173.5 397.4,173.4 398.0,173.2 398.5,173.1 399.0,172.9 399.6,172.8 400.1,172.6 400.6,172.5 401.2,172.4 401.7,172.2 402.2,172.1 402.8,172.1 403.3,172.1 403.8,172.1 404.4,172.2 404.9,172.2 405.4,172.3 406.0,172.3 406.5,172.4 407.0,172.5 407.6,172.5 408.1,172.6 408.6,172.6 409.2,172.7 409.7,172.7 410.2,172.8 410.8,172.8 411.3,172.9 411.8,173.0 412.4,173.0 412.9,173.1 413.4,173.1 414.0,173.2 414.5,173.2 415.0,173.3 415.6,173.3 416.1,173.4 416.6,173.5 417.2,173.5 417.7,173.6 418.2,173.6 418.8,173.7 419.3,173.8 419.8,173.8 420.4,173.9 420.9,173.9 421.4,174.0 422.0,174.1 422.5,174.1 423.0,174.2 423.6,174.2 424.1,174.3 424.6,174.4 425.2,174.4 425.7,174.5 426.2,174.5 426.8,174.6 427.3,174.6 427.8,174.7 428.4,174.8 428.9,174.8 429.4,174.9 430.0,174.9 430.5,175.0 431.0,175.1 431.6,175.1 432.1,175.2 432.6,175.2 433.2,175.3 433.7,175.4 434.2,175.4 434.8,175.5 435.3,175.5 435.8,175.6 436.4,175.7 436.9,175.8 437.4,175.8 438.0,175.9 438.5,176.0 439.0,176.1 439.6,176.1 440.1,176.2 440.6,176.3 441.2,176.4 441.7,176.5 442.2,176.5 442.8,176.6 443.3,176.7 443.8,176.8 444.4,176.8 444.9,176.9 445.4,177.0 446.0,177.1 446.5,177.2 447.0,177.2 447.6,177.3 448.1,177.4 448.6,177.6 449.2,177.8 449.7,178.1 450.2,178.6 450.8,179.1 451.3,179.6 451.8,180.1 452.4,180.6 452.9,181.1 453.4,181.5 454.0,182.0 454.5,182.3 455.0,182.5 455.6,182.6 456.1,182.7 456.6,182.8 457.2,182.8 457.7,182.9 458.2,182.9 458.8,183.0 459.3,183.1 459.8,183.1 460.4,183.2 460.9,183.2 461.4,183.3 462.0,183.3 462.5,183.4 463.0,183.4 463.6,183.5 464.1,183.6 464.6,183.6 465.2,183.7 465.7,183.7 466.2,183.8 466.8,183.9 467.3,183.9 467.8,184.1 468.4,184.3 468.9,184.5 469.4,184.8 470.0,185.1 470.5,185.3 471.0,185.6 471.6,185.9 472.1,186.2 472.6,186.5 473.2,186.7 473.7,187.0 474.2,187.3 474.8,187.6 475.3,187.8 475.8,188.0 476.4,188.1 476.9,188.2 477.4,188.3 478.0,188.3 478.5,188.4 479.0,188.5 479.6,188.5 480.1,188.6 480.6,188.6 481.2,188.7 481.7,188.7 482.2,188.8 482.8,188.8 483.3,188.9 483.8,189.0 484.4,189.0 484.9,189.1 485.4,189.1 486.0,189.2 486.5,189.2 487.0,189.3 487.6,189.4 488.1,189.4 488.6,189.5 489.2,189.6 489.7,189.8 490.2,190.0 490.8,190.2 491.3,190.5 491.8,190.7 492.4,190.9 492.9,191.2 493.4,191.4 494.0,191.7 494.5,191.9 495.0,192.1 495.6,192.4 496.1,192.6 496.6,192.9 497.2,193.1 497.7,193.3 498.2,193.3 498.8,193.3 499.3,193.1 499.8,192.7 500.4,192.4 500.9,192.0 501.4,191.7 502.0,191.4 502.5,191.1" fill="none" stroke="#a0a0e8" stroke-width="1.45" stroke-linejoin="round"/>
<polyline points="302.5,145.0 303.0,145.1 303.6,145.1 304.1,145.2 304.6,145.3 305.2,145.4 305.7,145.5 306.2,145.5 306.8,145.6 307.3,145.7 307.8,145.8 308.4,145.8 308.9,145.9 309.4,146.0 310.0,146.1 310.5,146.2 311.0,146.2 311.6,146.3 312.1,146.4 312.6,146.5 313.2,146.5 313.7,146.6 314.2,146.7 314.8,146.8 315.3,146.9 315.8,147.0 316.4,147.0 316.9,147.2 317.4,147.3 318.0,147.4 318.5,147.5 319.0,147.6 319.6,147.7 320.1,147.8 320.6,147.9 321.2,148.0 321.7,148.2 322.2,148.3 322.8,148.4 323.3,148.5 323.8,148.6 324.4,148.7 324.9,148.8 325.4,148.9 326.0,149.0 326.5,149.2 327.0,149.3 327.6,149.4 328.1,149.5 328.6,149.6 329.2,149.7 329.7,149.8 330.2,149.9 330.8,150.0 331.3,150.1 331.8,150.2 332.4,150.2 332.9,150.3 333.4,150.4 334.0,150.5 334.5,150.6 335.0,150.7 335.6,150.8 336.1,150.9 336.6,151.0 337.2,151.1 337.7,151.1 338.2,151.2 338.8,151.3 339.3,151.4 339.8,151.5 340.4,151.6 340.9,151.7 341.4,151.8 342.0,151.9 342.5,151.9 343.0,152.0 343.6,152.1 344.1,152.2 344.6,152.3 345.2,152.4 345.7,152.5 346.2,152.6 346.8,152.7 347.3,152.8 347.8,152.9 348.4,153.0 348.9,153.1 349.4,153.2 350.0,153.3 350.5,153.4 351.0,153.5 351.6,153.6 352.1,153.7 352.6,153.8 353.2,153.9 353.7,154.0 354.2,154.1 354.8,154.2 355.3,154.3 355.8,154.5 356.4,154.6 356.9,154.7 357.4,154.8 358.0,154.9 358.5,155.0 359.0,155.1 359.6,155.2 360.1,155.3 360.6,155.4 361.2,155.6 361.7,155.7 362.2,155.8 362.8,155.9 363.3,156.0 363.8,156.1 364.4,156.2 364.9,156.3 365.4,156.5 366.0,156.6 366.5,156.7 367.0,156.8 367.6,156.9 368.1,157.0 368.6,157.1 369.2,157.2 369.7,157.3 370.2,157.4 370.8,157.4 371.3,157.5 371.8,157.6 372.4,157.6 372.9,157.7 373.4,157.8 374.0,157.8 374.5,157.9 375.0,158.0 375.6,158.0 376.1,158.1 376.6,158.2 377.2,158.2 377.7,158.3 378.2,158.4 378.8,158.4 379.3,158.5 379.8,158.6 380.4,158.6 380.9,158.7 381.4,158.8 382.0,158.9 382.5,158.9 383.0,159.1 383.6,159.2 384.1,159.4 384.6,159.5 385.2,159.7 385.7,160.0 386.2,160.6 386.8,161.4 387.3,162.5 387.8,163.8 388.4,165.2 388.9,166.5 389.4,167.7 390.0,169.0 390.5,170.1 391.0,171.2 391.6,172.2 392.1,172.9 392.6,173.2 393.2,173.1 393.7,172.9 394.2,172.5 394.8,172.2 395.3,171.9 395.8,171.6 396.4,171.4 396.9,171.4 397.4,171.3 398.0,171.2 398.5,171.2 399.0,171.2 399.6,171.1 400.1,171.1 400.6,171.0 401.2,171.0 401.7,170.9 402.2,170.9 402.8,170.9 403.3,170.9 403.8,170.9 404.4,170.9 404.9,170.9 405.4,170.9 406.0,170.9 406.5,171.0 407.0,171.0 407.6,171.0 408.1,171.0 408.6,171.0 409.2,171.0 409.7,171.0 410.2,171.0 410.8,171.0 411.3,171.1 411.8,171.1 412.4,171.1 412.9,171.1 413.4,171.1 414.0,171.1 414.5,171.1 415.0,171.1 415.6,171.1 416.1,171.2 416.6,171.2 417.2,171.2 417.7,171.2 418.2,171.2 418.8,171.3 419.3,171.3 419.8,171.3 420.4,171.3 420.9,171.4 421.4,171.4 422.0,171.4 422.5,171.4 423.0,171.4 423.6,171.5 424.1,171.5 424.6,171.5 425.2,171.5 425.7,171.6 426.2,171.6 426.8,171.6 427.3,171.6 427.8,171.6 428.4,171.7 428.9,171.7 429.4,171.7 430.0,171.7 430.5,171.8 431.0,171.8 431.6,171.8 432.1,171.8 432.6,171.8 433.2,171.9 433.7,171.9 434.2,171.9 434.8,171.9 435.3,172.0 435.8,172.0 436.4,172.0 436.9,172.1 437.4,172.1 438.0,172.2 438.5,172.3 439.0,172.3 439.6,172.4 440.1,172.4 440.6,172.5 441.2,172.5 441.7,172.6 442.2,172.6 442.8,172.7 443.3,172.8 443.8,172.8 444.4,172.9 444.9,172.9 445.4,173.0 446.0,173.0 446.5,173.1 447.0,173.2 447.6,173.2 448.1,173.3 448.6,173.4 449.2,173.7 449.7,174.2 450.2,174.7 450.8,175.4 451.3,176.0 451.8,176.7 452.4,177.3 452.9,177.9 453.4,178.3 454.0,178.6 454.5,178.8 455.0,179.0 455.6,179.2 456.1,179.4 456.6,179.5 457.2,179.7 457.7,179.7 458.2,179.7 458.8,179.7 459.3,179.7 459.8,179.7 460.4,179.7 460.9,179.6 461.4,179.6 462.0,179.6 462.5,179.6 463.0,179.6 463.6,179.6 464.1,179.5 464.6,179.6 465.2,179.6 465.7,179.7 466.2,179.8 466.8,180.0 467.3,180.2 467.8,180.3 468.4,180.5 468.9,180.7 469.4,180.8 470.0,181.1 470.5,181.3 471.0,181.6 471.6,182.0 472.1,182.4 472.6,182.8 473.2,183.3 473.7,183.7 474.2,184.1 474.8,184.5 475.3,184.9 475.8,185.1 476.4,185.3 476.9,185.5 477.4,185.6 478.0,185.7 478.5,185.7 479.0,185.8 479.6,185.9 480.1,186.0 480.6,186.0 481.2,186.1 481.7,186.2 482.2,186.3 482.8,186.4 483.3,186.4 483.8,186.5 484.4,186.6 484.9,186.7 485.4,186.7 486.0,186.8 486.5,186.9 487.0,187.0 487.6,187.1 488.1,187.1 488.6,187.3 489.2,187.4 489.7,187.6 490.2,187.9 490.8,188.2 491.3,188.4 491.8,188.7 492.4,189.0 492.9,189.3 493.4,189.6 494.0,189.9 494.5,190.2 495.0,190.4 495.6,190.7 496.1,191.0 496.6,191.3 497.2,191.6 497.7,191.8 498.2,191.9 498.8,191.9 499.3,191.7 499.8,191.4 500.4,191.0 500.9,190.6 501.4,190.3 502.0,190.0 502.5,189.7" fill="none" stroke="#30e0a0" stroke-width="1.45" stroke-linejoin="round"/>
<polyline points="302.5,98.3 303.0,98.4 303.6,98.5 304.1,98.7 304.6,98.8 305.2,99.0 305.7,99.1 306.2,99.3 306.8,99.4 307.3,99.6 307.8,99.7 308.4,99.9 308.9,100.0 309.4,100.2 310.0,100.3 310.5,100.5 311.0,100.7 311.6,100.9 312.1,101.1 312.6,101.3 313.2,101.6 313.7,101.8 314.2,102.0 314.8,102.2 315.3,102.5 315.8,102.7 316.4,103.0 316.9,103.3 317.4,103.8 318.0,104.5 318.5,105.2 319.0,106.0 319.6,106.7 320.1,107.5 320.6,108.2 321.2,108.9 321.7,109.5 322.2,110.0 322.8,110.5 323.3,111.0 323.8,111.5 324.4,111.9 324.9,112.3 325.4,112.5 326.0,112.7 326.5,112.8 327.0,112.8 327.6,112.9 328.1,112.9 328.6,112.9 329.2,113.0 329.7,113.1 330.2,113.2 330.8,113.3 331.3,113.3 331.8,113.4 332.4,113.5 332.9,113.6 333.4,113.7 334.0,113.8 334.5,113.9 335.0,114.0 335.6,114.1 336.1,114.2 336.6,114.3 337.2,114.5 337.7,114.6 338.2,114.9 338.8,115.1 339.3,115.3 339.8,115.6 340.4,115.8 340.9,116.0 341.4,116.3 342.0,116.5 342.5,116.8 343.0,117.0 343.6,117.2 344.1,117.5 344.6,117.7 345.2,117.9 345.7,118.2 346.2,118.5 346.8,118.7 347.3,119.0 347.8,119.3 348.4,119.7 348.9,120.0 349.4,120.3 350.0,120.6 350.5,120.9 351.0,121.2 351.6,121.6 352.1,121.9 352.6,122.2 353.2,122.5 353.7,122.8 354.2,123.2 354.8,123.5 355.3,123.8 355.8,124.1 356.4,124.4 356.9,124.7 357.4,124.9 358.0,125.2 358.5,125.5 359.0,125.8 359.6,126.1 360.1,126.3 360.6,126.6 361.2,126.9 361.7,127.2 362.2,127.4 362.8,127.7 363.3,127.9 363.8,128.1 364.4,128.2 364.9,128.2 365.4,128.1 366.0,128.1 366.5,128.0 367.0,127.9 367.6,127.9 368.1,127.8 368.6,127.8 369.2,127.8 369.7,127.8 370.2,127.9 370.8,127.9 371.3,128.0 371.8,128.1 372.4,128.1 372.9,128.2 373.4,128.3 374.0,128.3 374.5,128.4 375.0,128.5 375.6,128.6 376.1,128.6 376.6,128.7 377.2,128.8 377.7,128.8 378.2,128.9 378.8,129.0 379.3,129.1 379.8,129.2 380.4,129.4 380.9,129.6 381.4,129.9 382.0,130.1 382.5,130.4 383.0,130.7 383.6,131.0 384.1,131.4 384.6,131.9 385.2,132.5 385.7,133.2 386.2,134.2 386.8,135.7 387.3,137.5 387.8,139.6 388.4,141.7 388.9,143.8 389.4,145.9 390.0,147.9 390.5,149.8 391.0,151.6 391.6,153.1 392.1,154.3 392.6,155.0 393.2,155.5 393.7,155.7 394.2,155.6 394.8,155.4 395.3,155.1 395.8,154.8 396.4,154.5 396.9,154.2 397.4,153.9 398.0,153.6 398.5,153.3 399.0,153.1 399.6,152.8 400.1,152.5 400.6,152.4 401.2,152.3 401.7,152.5 402.2,152.8 402.8,153.1 403.3,153.4 403.8,153.6 404.4,153.6 404.9,153.5 405.4,153.3 406.0,153.1 406.5,152.9 407.0,152.7 407.6,152.5 408.1,152.3 408.6,152.2 409.2,152.0 409.7,151.8 410.2,151.7 410.8,151.6 411.3,151.4 411.8,151.3 412.4,151.2 412.9,151.1 413.4,150.9 414.0,150.8 414.5,150.7 415.0,150.5 415.6,150.4 416.1,150.3 416.6,150.2 417.2,150.1 417.7,150.0 418.2,150.0 418.8,150.2 419.3,150.5 419.8,150.9 420.4,151.4 420.9,151.9 421.4,152.3 422.0,152.7 422.5,152.9 423.0,152.9 423.6,152.7 424.1,152.5 424.6,152.3 425.2,152.1 425.7,151.9 426.2,151.8 426.8,151.7 427.3,151.7 427.8,151.6 428.4,151.5 428.9,151.5 429.4,151.4 430.0,151.3 430.5,151.2 431.0,151.2 431.6,151.1 432.1,151.0 432.6,151.0 433.2,150.9 433.7,150.8 434.2,150.8 434.8,150.7 435.3,150.6 435.8,150.6 436.4,150.6 436.9,150.6 437.4,150.6 438.0,150.6 438.5,150.6 439.0,150.6 439.6,150.6 440.1,150.7 440.6,150.8 441.2,150.9 441.7,151.1 442.2,151.3 442.8,151.4 443.3,151.6 443.8,151.8 444.4,151.9 444.9,152.1 445.4,152.3 446.0,152.4 446.5,152.6 447.0,152.8 447.6,153.0 448.1,153.3 448.6,153.9 449.2,154.8 449.7,156.0 450.2,157.4 450.8,158.8 451.3,160.4 451.8,162.1 452.4,164.1 452.9,166.2 453.4,168.3 454.0,170.3 454.5,172.1 455.0,173.5 455.6,174.6 456.1,175.5 456.6,176.2 457.2,176.8 457.7,177.0 458.2,176.9 458.8,176.5 459.3,175.9 459.8,175.3 460.4,174.6 460.9,174.0 461.4,173.4 462.0,172.7 462.5,172.1 463.0,171.4 463.6,170.8 464.1,170.2 464.6,169.6 465.2,169.0 465.7,168.7 466.2,168.6 466.8,168.7 467.3,168.9 467.8,169.2 468.4,169.5 468.9,170.0 469.4,170.7 470.0,171.6 470.5,172.8 471.0,174.1 471.6,175.5 472.1,176.8 472.6,178.2 473.2,179.6 473.7,180.9 474.2,182.2 474.8,183.4 475.3,184.3 475.8,184.8 476.4,185.0 476.9,185.0 477.4,184.9 478.0,184.8 478.5,184.7 479.0,184.8 479.6,185.0 480.1,185.3 480.6,185.6 481.2,186.0 481.7,186.4 482.2,186.7 482.8,187.1 483.3,187.4 483.8,187.7 484.4,187.8 484.9,187.9 485.4,187.8 486.0,187.7 486.5,187.5 487.0,187.4 487.6,187.2 488.1,187.1 488.6,187.0 489.2,186.8 489.7,186.7 490.2,186.5 490.8,186.5 491.3,186.5 491.8,186.6 492.4,186.9 492.9,187.3 493.4,187.7 494.0,188.1 494.5,188.6 495.0,189.0 495.6,189.5 496.1,189.9 496.6,190.3 497.2,190.8 497.7,191.2 498.2,191.5 498.8,191.6 499.3,191.4 499.8,191.0 500.4,190.3 500.9,189.6 501.4,188.9 502.0,188.2 502.5,187.7" fill="none" stroke="#5e1010" stroke-width="1.45" stroke-linejoin="round"/>
<polyline points="302.5,90.0 303.0,90.1 303.6,90.2 304.1,90.3 304.6,90.5 305.2,90.6 305.7,90.8 306.2,90.9 306.8,91.1 307.3,91.2 307.8,91.4 308.4,91.5 308.9,91.7 309.4,91.8 310.0,92.0 310.5,92.2 311.0,92.5 311.6,92.8 312.1,93.1 312.6,93.4 313.2,93.8 313.7,94.1 314.2,94.4 314.8,94.8 315.3,95.1 315.8,95.5 316.4,95.9 316.9,96.4 317.4,97.1 318.0,98.0 318.5,99.1 319.0,100.2 319.6,101.3 320.1,102.3 320.6,103.2 321.2,103.8 321.7,103.9 322.2,103.8 322.8,103.5 323.3,103.2 323.8,103.1 324.4,103.2 324.9,103.4 325.4,103.7 326.0,104.0 326.5,104.3 327.0,104.7 327.6,105.0 328.1,105.3 328.6,105.6 329.2,105.8 329.7,105.9 330.2,105.9 330.8,105.9 331.3,105.9 331.8,105.8 332.4,105.8 332.9,105.8 333.4,105.7 334.0,105.7 334.5,105.6 335.0,105.6 335.6,105.6 336.1,105.6 336.6,105.6 337.2,105.6 337.7,105.8 338.2,106.0 338.8,106.3 339.3,106.5 339.8,106.8 340.4,107.1 340.9,107.4 341.4,107.6 342.0,107.9 342.5,108.2 343.0,108.4 343.6,108.7 344.1,109.0 344.6,109.2 345.2,109.5 345.7,109.8 346.2,110.1 346.8,110.4 347.3,110.8 347.8,111.2 348.4,111.6 348.9,112.0 349.4,112.4 350.0,112.8 350.5,113.2 351.0,113.6 351.6,114.0 352.1,114.4 352.6,114.8 353.2,115.2 353.7,115.6 354.2,116.0 354.8,116.3 355.3,116.7 355.8,117.1 356.4,117.4 356.9,117.7 357.4,118.0 358.0,118.3 358.5,118.5 359.0,118.8 359.6,119.1 360.1,119.4 360.6,119.7 361.2,119.9 361.7,120.2 362.2,120.5 362.8,120.7 363.3,121.0 363.8,121.1 364.4,121.2 364.9,121.1 365.4,121.1 366.0,121.0 366.5,120.9 367.0,120.8 367.6,120.7 368.1,120.7 368.6,120.6 369.2,120.6 369.7,120.7 370.2,120.8 370.8,120.9 371.3,121.1 371.8,121.2 372.4,121.4 372.9,121.5 373.4,121.7 374.0,121.8 374.5,122.0 375.0,122.1 375.6,122.3 376.1,122.4 376.6,122.6 377.2,122.9 377.7,123.2 378.2,123.6 378.8,124.0 379.3,124.4 379.8,124.8 380.4,125.2 380.9,125.6 381.4,126.1 382.0,126.6 382.5,127.2 383.0,128.0 383.6,128.8 384.1,129.8 384.6,130.7 385.2,131.8 385.7,132.9 386.2,134.4 386.8,136.3 387.3,138.6 387.8,141.2 388.4,143.7 388.9,146.2 389.4,148.5 390.0,150.6 390.5,152.6 391.0,154.4 391.6,155.9 392.1,157.1 392.6,157.8 393.2,158.2 393.7,158.3 394.2,158.0 394.8,157.5 395.3,156.9 395.8,156.4 396.4,155.9 396.9,155.6 397.4,155.3 398.0,155.0 398.5,154.7 399.0,154.4 399.6,154.2 400.1,153.9 400.6,153.8 401.2,153.7 401.7,153.9 402.2,154.1 402.8,154.5 403.3,154.8 403.8,154.9 404.4,155.0 404.9,154.9 405.4,154.7 406.0,154.5 406.5,154.3 407.0,154.1 407.6,153.9 408.1,153.7 408.6,153.5 409.2,153.4 409.7,153.2 410.2,153.1 410.8,153.0 411.3,152.8 411.8,152.7 412.4,152.6 412.9,152.4 413.4,152.3 414.0,152.2 414.5,152.1 415.0,151.9 415.6,151.8 416.1,151.7 416.6,151.6 417.2,151.4 417.7,151.4 418.2,151.4 418.8,151.6 419.3,151.9 419.8,152.3 420.4,152.8 420.9,153.3 421.4,153.7 422.0,154.1 422.5,154.3 423.0,154.3 423.6,154.1 424.1,153.9 424.6,153.6 425.2,153.4 425.7,153.3 426.2,153.1 426.8,153.0 427.3,152.9 427.8,152.8 428.4,152.7 428.9,152.7 429.4,152.6 430.0,152.5 430.5,152.4 431.0,152.3 431.6,152.2 432.1,152.1 432.6,152.0 433.2,151.9 433.7,151.8 434.2,151.7 434.8,151.6 435.3,151.5 435.8,151.4 436.4,151.4 436.9,151.4 437.4,151.4 438.0,151.4 438.5,151.4 439.0,151.4 439.6,151.4 440.1,151.5 440.6,151.7 441.2,151.8 441.7,152.0 442.2,152.2 442.8,152.4 443.3,152.7 443.8,152.9 444.4,153.1 444.9,153.3 445.4,153.5 446.0,153.7 446.5,153.9 447.0,154.1 447.6,154.3 448.1,154.7 448.6,155.3 449.2,156.2 449.7,157.4 450.2,158.8 450.8,160.2 451.3,161.8 451.8,163.6 452.4,165.7 452.9,167.9 453.4,170.2 454.0,172.3 454.5,174.1 455.0,175.5 455.6,176.4 456.1,177.2 456.6,177.7 457.2,178.2 457.7,178.4 458.2,178.3 458.8,178.1 459.3,177.7 459.8,177.3 460.4,176.9 460.9,176.5 461.4,176.1 462.0,175.7 462.5,175.3 463.0,174.9 463.6,174.5 464.1,174.1 464.6,173.7 465.2,173.4 465.7,173.2 466.2,173.2 466.8,173.2 467.3,173.4 467.8,173.6 468.4,173.8 468.9,174.2 469.4,174.7 470.0,175.5 470.5,176.5 471.0,177.6 471.6,178.7 472.1,179.8 472.6,180.9 473.2,182.0 473.7,183.1 474.2,184.2 474.8,185.1 475.3,185.9 475.8,186.3 476.4,186.5 476.9,186.5 477.4,186.4 478.0,186.4 478.5,186.3 479.0,186.4 479.6,186.6 480.1,186.9 480.6,187.2 481.2,187.5 481.7,187.9 482.2,188.2 482.8,188.6 483.3,188.9 483.8,189.1 484.4,189.3 484.9,189.3 485.4,189.2 486.0,189.1 486.5,189.0 487.0,188.9 487.6,188.8 488.1,188.6 488.6,188.5 489.2,188.4 489.7,188.3 490.2,188.2 490.8,188.1 491.3,188.1 491.8,188.3 492.4,188.5 492.9,188.9 493.4,189.3 494.0,189.7 494.5,190.1 495.0,190.6 495.6,191.0 496.1,191.4 496.6,191.8 497.2,192.2 497.7,192.6 498.2,192.9 498.8,193.1 499.3,193.0 499.8,192.6 500.4,192.1 500.9,191.4 501.4,190.8 502.0,190.3 502.5,189.9" fill="none" stroke="#309aa8" stroke-width="1.45" stroke-linejoin="round"/>
<polyline points="302.5,88.3 303.0,88.4 303.6,88.5 304.1,88.7 304.6,88.9 305.2,89.0 305.7,89.2 306.2,89.4 306.8,89.5 307.3,89.7 307.8,89.9 308.4,90.0 308.9,90.2 309.4,90.4 310.0,90.6 310.5,90.8 311.0,91.1 311.6,91.4 312.1,91.7 312.6,92.0 313.2,92.4 313.7,92.7 314.2,93.0 314.8,93.4 315.3,93.7 315.8,94.1 316.4,94.4 316.9,94.8 317.4,95.2 318.0,95.6 318.5,96.1 319.0,96.6 319.6,97.0 320.1,97.4 320.6,97.7 321.2,97.9 321.7,97.8 322.2,97.7 322.8,97.5 323.3,97.4 323.8,97.4 324.4,97.6 324.9,97.8 325.4,98.1 326.0,98.4 326.5,98.8 327.0,99.1 327.6,99.4 328.1,99.8 328.6,100.1 329.2,100.3 329.7,100.5 330.2,100.6 330.8,100.7 331.3,100.8 331.8,100.9 332.4,101.0 332.9,101.1 333.4,101.2 334.0,101.3 334.5,101.4 335.0,101.5 335.6,101.6 336.1,101.7 336.6,101.8 337.2,101.9 337.7,102.1 338.2,102.3 338.8,102.6 339.3,102.8 339.8,103.0 340.4,103.3 340.9,103.5 341.4,103.8 342.0,104.0 342.5,104.2 343.0,104.5 343.6,104.7 344.1,104.9 344.6,105.2 345.2,105.4 345.7,105.7 346.2,106.0 346.8,106.3 347.3,106.6 347.8,107.0 348.4,107.4 348.9,107.8 349.4,108.2 350.0,108.6 350.5,109.0 351.0,109.4 351.6,109.8 352.1,110.2 352.6,110.6 353.2,111.0 353.7,111.4 354.2,111.8 354.8,112.2 355.3,112.6 355.8,112.9 356.4,113.2 356.9,113.5 357.4,113.8 358.0,114.1 358.5,114.4 359.0,114.6 359.6,114.9 360.1,115.2 360.6,115.5 361.2,115.8 361.7,116.0 362.2,116.3 362.8,116.6 363.3,116.8 363.8,117.0 364.4,117.0 364.9,117.0 365.4,117.0 366.0,116.9 366.5,116.9 367.0,116.8 367.6,116.8 368.1,116.7 368.6,116.7 369.2,116.7 369.7,116.8 370.2,116.9 370.8,117.0 371.3,117.1 371.8,117.2 372.4,117.4 372.9,117.5 373.4,117.6 374.0,117.8 374.5,117.9 375.0,118.0 375.6,118.2 376.1,118.3 376.6,118.5 377.2,118.8 377.7,119.2 378.2,119.7 378.8,120.3 379.3,120.9 379.8,121.4 380.4,122.0 380.9,122.6 381.4,123.2 382.0,123.8 382.5,124.4 383.0,125.0 383.6,125.8 384.1,126.7 384.6,127.7 385.2,128.7 385.7,130.0 386.2,131.4 386.8,133.3 387.3,135.4 387.8,137.6 388.4,140.0 388.9,142.2 389.4,144.4 390.0,146.4 390.5,148.4 391.0,150.2 391.6,151.7 392.1,152.9 392.6,153.6 393.2,154.0 393.7,154.1 394.2,153.8 394.8,153.3 395.3,152.8 395.8,152.2 396.4,151.8 396.9,151.4 397.4,151.1 398.0,150.8 398.5,150.6 399.0,150.3 399.6,150.0 400.1,149.7 400.6,149.6 401.2,149.5 401.7,149.6 402.2,149.7 402.8,150.0 403.3,150.2 403.8,150.2 404.4,150.2 404.9,150.0 405.4,149.7 406.0,149.4 406.5,149.2 407.0,148.9 407.6,148.6 408.1,148.3 408.6,148.1 409.2,147.9 409.7,147.7 410.2,147.5 410.8,147.4 411.3,147.3 411.8,147.1 412.4,147.0 412.9,146.9 413.4,146.7 414.0,146.6 414.5,146.5 415.0,146.4 415.6,146.2 416.1,146.1 416.6,146.0 417.2,145.9 417.7,145.8 418.2,145.8 418.8,146.0 419.3,146.3 419.8,146.8 420.4,147.2 420.9,147.7 421.4,148.2 422.0,148.5 422.5,148.7 423.0,148.7 423.6,148.6 424.1,148.3 424.6,148.1 425.2,147.9 425.7,147.7 426.2,147.6 426.8,147.4 427.3,147.3 427.8,147.2 428.4,147.1 428.9,147.0 429.4,146.9 430.0,146.8 430.5,146.7 431.0,146.5 431.6,146.4 432.1,146.3 432.6,146.2 433.2,146.1 433.7,146.0 434.2,145.9 434.8,145.8 435.3,145.7 435.8,145.6 436.4,145.6 436.9,145.5 437.4,145.5 438.0,145.5 438.5,145.5 439.0,145.6 439.6,145.6 440.1,145.7 440.6,145.9 441.2,146.0 441.7,146.3 442.2,146.5 442.8,146.7 443.3,146.9 443.8,147.1 444.4,147.3 444.9,147.6 445.4,147.8 446.0,148.0 446.5,148.2 447.0,148.5 447.6,148.7 448.1,149.1 448.6,149.8 449.2,150.9 449.7,152.3 450.2,153.9 450.8,155.6 451.3,157.4 451.8,159.5 452.4,161.7 452.9,164.2 453.4,166.8 454.0,169.2 454.5,171.2 455.0,172.8 455.6,174.0 456.1,174.9 456.6,175.6 457.2,176.2 457.7,176.4 458.2,176.3 458.8,175.8 459.3,175.2 459.8,174.5 460.4,173.8 460.9,173.1 461.4,172.4 462.0,171.7 462.5,171.0 463.0,170.3 463.6,169.6 464.1,169.0 464.6,168.3 465.2,167.7 465.7,167.4 466.2,167.3 466.8,167.4 467.3,167.7 467.8,168.1 468.4,168.5 468.9,169.0 469.4,169.8 470.0,170.9 470.5,172.1 471.0,173.5 471.6,174.9 472.1,176.4 472.6,177.8 473.2,179.2 473.7,180.7 474.2,182.0 474.8,183.3 475.3,184.2 475.8,184.8 476.4,185.0 476.9,185.0 477.4,184.9 478.0,184.8 478.5,184.7 479.0,184.8 479.6,185.0 480.1,185.3 480.6,185.6 481.2,186.0 481.7,186.4 482.2,186.7 482.8,187.1 483.3,187.4 483.8,187.7 484.4,187.8 484.9,187.8 485.4,187.7 486.0,187.6 486.5,187.4 487.0,187.3 487.6,187.1 488.1,187.0 488.6,186.8 489.2,186.6 489.7,186.5 490.2,186.3 490.8,186.2 491.3,186.2 491.8,186.3 492.4,186.6 492.9,187.0 493.4,187.4 494.0,187.8 494.5,188.2 495.0,188.6 495.6,189.0 496.1,189.4 496.6,189.9 497.2,190.3 497.7,190.7 498.2,191.0 498.8,191.1 499.3,190.9 499.8,190.4 500.4,189.7 500.9,188.9 501.4,188.1 502.0,187.4 502.5,186.9" fill="none" stroke="#e020d0" stroke-width="1.45" stroke-linejoin="round"/>
<polyline points="302.5,76.7 303.0,76.9 303.6,77.1 304.1,77.4 304.6,77.7 305.2,78.0 305.7,78.3 306.2,78.6 306.8,78.9 307.3,79.2 307.8,79.5 308.4,79.8 308.9,80.1 309.4,80.4 310.0,80.7 310.5,80.9 311.0,81.2 311.6,81.5 312.1,81.7 312.6,82.0 313.2,82.3 313.7,82.5 314.2,82.8 314.8,83.1 315.3,83.3 315.8,83.6 316.4,83.8 316.9,84.1 317.4,84.4 318.0,84.7 318.5,85.2 319.0,86.1 319.6,87.3 320.1,88.9 320.6,90.3 321.2,91.3 321.7,91.7 322.2,91.7 322.8,91.6 323.3,91.5 323.8,91.6 324.4,91.9 324.9,92.3 325.4,92.7 326.0,93.0 326.5,93.4 327.0,93.6 327.6,93.9 328.1,94.1 328.6,94.3 329.2,94.5 329.7,94.7 330.2,94.9 330.8,95.1 331.3,95.3 331.8,95.5 332.4,95.7 332.9,95.9 333.4,96.2 334.0,96.4 334.5,96.7 335.0,96.9 335.6,97.2 336.1,97.4 336.6,97.7 337.2,97.9 337.7,98.2 338.2,98.4 338.8,98.7 339.3,98.9 339.8,99.2 340.4,99.4 340.9,99.7 341.4,100.0 342.0,100.2 342.5,100.5 343.0,100.8 343.6,101.1 344.1,101.5 344.6,101.8 345.2,102.1 345.7,102.5 346.2,102.8 346.8,103.1 347.3,103.5 347.8,103.8 348.4,104.1 348.9,104.5 349.4,104.8 350.0,105.1 350.5,105.5 351.0,105.8 351.6,106.1 352.1,106.5 352.6,106.8 353.2,107.1 353.7,107.5 354.2,107.8 354.8,108.1 355.3,108.4 355.8,108.7 356.4,109.0 356.9,109.2 357.4,109.5 358.0,109.7 358.5,109.9 359.0,110.1 359.6,110.4 360.1,110.6 360.6,110.8 361.2,111.0 361.7,111.2 362.2,111.5 362.8,111.7 363.3,111.9 363.8,112.1 364.4,112.4 364.9,112.6 365.4,112.8 366.0,113.0 366.5,113.3 367.0,113.5 367.6,113.7 368.1,113.9 368.6,114.1 369.2,114.3 369.7,114.5 370.2,114.6 370.8,114.8 371.3,114.9 371.8,115.0 372.4,115.1 372.9,115.3 373.4,115.4 374.0,115.5 374.5,115.7 375.0,115.8 375.6,115.9 376.1,116.1 376.6,116.2 377.2,116.4 377.7,116.6 378.2,116.8 378.8,117.0 379.3,117.2 379.8,117.5 380.4,117.7 380.9,117.9 381.4,118.2 382.0,118.4 382.5,118.7 383.0,119.1 383.6,119.6 384.1,120.5 384.6,121.5 385.2,122.6 385.7,123.9 386.2,125.3 386.8,127.0 387.3,129.0 387.8,131.1 388.4,133.3 388.9,135.5 389.4,137.6 390.0,139.6 390.5,141.4 391.0,143.1 391.6,144.7 392.1,146.0 392.6,147.0 393.2,147.4 393.7,147.3 394.2,146.7 394.8,145.7 395.3,144.7 395.8,143.6 396.4,142.5 396.9,141.4 397.4,140.3 398.0,139.3 398.5,138.5 399.0,137.8 399.6,137.4 400.1,137.0 400.6,136.6 401.2,136.3 401.7,136.1 402.2,135.8 402.8,135.6 403.3,135.4 403.8,135.3 404.4,135.1 404.9,135.0 405.4,134.8 406.0,134.7 406.5,134.5 407.0,134.4 407.6,134.3 408.1,134.1 408.6,134.0 409.2,133.9 409.7,133.9 410.2,133.9 410.8,133.9 411.3,133.9 411.8,133.8 412.4,133.8 412.9,133.8 413.4,133.8 414.0,133.8 414.5,133.8 415.0,133.8 415.6,133.8 416.1,133.8 416.6,133.8 417.2,133.8 417.7,133.8 418.2,133.8 418.8,133.8 419.3,133.8 419.8,133.8 420.4,133.9 420.9,133.9 421.4,133.9 422.0,133.9 422.5,133.9 423.0,133.9 423.6,133.9 424.1,133.9 424.6,133.9 425.2,134.0 425.7,134.0 426.2,134.0 426.8,134.0 427.3,134.1 427.8,134.1 428.4,134.1 428.9,134.1 429.4,134.1 430.0,134.2 430.5,134.2 431.0,134.2 431.6,134.2 432.1,134.3 432.6,134.3 433.2,134.3 433.7,134.3 434.2,134.3 434.8,134.4 435.3,134.4 435.8,134.6 436.4,134.7 436.9,135.0 437.4,135.3 438.0,135.6 438.5,135.8 439.0,136.1 439.6,136.4 440.1,136.6 440.6,136.8 441.2,137.0 441.7,137.2 442.2,137.4 442.8,137.6 443.3,137.8 443.8,138.0 444.4,138.2 444.9,138.3 445.4,138.5 446.0,138.7 446.5,138.9 447.0,139.1 447.6,139.3 448.1,139.7 448.6,140.2 449.2,141.1 449.7,142.2 450.2,143.4 450.8,144.8 451.3,146.2 451.8,147.8 452.4,149.8 452.9,152.4 453.4,155.3 454.0,158.3 454.5,160.8 455.0,162.7 455.6,163.9 456.1,164.7 456.6,165.3 457.2,165.7 457.7,165.6 458.2,165.0 458.8,164.0 459.3,162.7 459.8,161.4 460.4,160.1 460.9,158.8 461.4,157.5 462.0,156.2 462.5,154.9 463.0,153.8 463.6,152.9 464.1,152.4 464.6,152.1 465.2,152.0 465.7,151.9 466.2,151.8 466.8,151.7 467.3,151.6 467.8,151.7 468.4,151.9 468.9,152.4 469.4,153.3 470.0,154.3 470.5,155.4 471.0,156.6 471.6,157.8 472.1,159.1 472.6,160.5 473.2,162.1 473.7,163.7 474.2,165.4 474.8,167.1 475.3,168.6 475.8,169.8 476.4,170.6 476.9,171.0 477.4,171.0 478.0,170.9 478.5,171.0 479.0,171.2 479.6,171.8 480.1,172.6 480.6,173.5 481.2,174.4 481.7,175.3 482.2,176.1 482.8,176.6 483.3,176.7 483.8,176.6 484.4,176.4 484.9,176.1 485.4,175.9 486.0,175.6 486.5,175.3 487.0,175.0 487.6,174.7 488.1,174.4 488.6,174.2 489.2,174.0 489.7,173.9 490.2,174.1 490.8,174.6 491.3,175.2 491.8,176.0 492.4,176.8 492.9,177.6 493.4,178.5 494.0,179.3 494.5,180.3 495.0,181.3 495.6,182.5 496.1,183.7 496.6,184.9 497.2,186.1 497.7,187.2 498.2,188.1 498.8,188.6 499.3,188.3 499.8,187.3 500.4,185.8 500.9,184.1 501.4,182.4 502.0,180.8 502.5,179.7" fill="none" stroke="#e090f0" stroke-width="1.45" stroke-linejoin="round"/>
<polyline points="302.5,73.6 303.0,73.6 303.6,73.7 304.1,73.7 304.6,73.8 305.2,73.8 305.7,73.9 306.2,73.9 306.8,74.0 307.3,74.0 307.8,74.1 308.4,74.1 308.9,74.1 309.4,74.2 310.0,74.3 310.5,74.3 311.0,74.4 311.6,74.6 312.1,74.7 312.6,74.8 313.2,74.9 313.7,75.1 314.2,75.2 314.8,75.3 315.3,75.5 315.8,75.6 316.4,75.8 316.9,76.1 317.4,76.7 318.0,77.4 318.5,78.4 319.0,79.6 319.6,81.2 320.1,83.1 320.6,85.1 321.2,86.8 321.7,87.7 322.2,87.7 322.8,87.2 323.3,86.7 323.8,86.6 324.4,86.8 324.9,87.4 325.4,88.0 326.0,88.8 326.5,89.6 327.0,90.3 327.6,90.9 328.1,91.4 328.6,91.6 329.2,91.6 329.7,91.2 330.2,90.4 330.8,89.6 331.3,88.7 331.8,87.8 332.4,87.1 332.9,86.6 333.4,86.2 334.0,85.9 334.5,85.6 335.0,85.4 335.6,85.1 336.1,84.9 336.6,84.7 337.2,84.5 337.7,84.5 338.2,84.5 338.8,84.6 339.3,84.7 339.8,84.8 340.4,85.0 340.9,85.1 341.4,85.2 342.0,85.3 342.5,85.5 343.0,85.8 343.6,86.0 344.1,86.3 344.6,86.7 345.2,87.0 345.7,87.3 346.2,87.6 346.8,87.9 347.3,88.3 347.8,88.7 348.4,89.1 348.9,89.6 349.4,90.0 350.0,90.5 350.5,91.0 351.0,91.5 351.6,92.1 352.1,92.9 352.6,93.9 353.2,94.9 353.7,96.0 354.2,97.1 354.8,98.2 355.3,99.2 355.8,100.1 356.4,101.0 356.9,101.6 357.4,101.9 358.0,101.9 358.5,101.6 359.0,101.2 359.6,100.9 360.1,100.8 360.6,100.8 361.2,101.1 361.7,101.7 362.2,102.7 362.8,104.1 363.3,105.6 363.8,106.9 364.4,108.0 364.9,108.6 365.4,108.7 366.0,108.3 366.5,107.6 367.0,106.8 367.6,106.1 368.1,105.4 368.6,104.8 369.2,104.3 369.7,103.8 370.2,103.3 370.8,102.8 371.3,102.4 371.8,102.1 372.4,101.9 372.9,101.8 373.4,101.7 374.0,101.6 374.5,101.6 375.0,101.7 375.6,101.7 376.1,101.8 376.6,101.9 377.2,102.0 377.7,102.1 378.2,102.1 378.8,102.2 379.3,102.3 379.8,102.5 380.4,102.6 380.9,102.8 381.4,103.1 382.0,103.4 382.5,104.0 383.0,104.9 383.6,106.4 384.1,108.3 384.6,110.9 385.2,114.2 385.7,117.8 386.2,121.6 386.8,125.4 387.3,129.2 387.8,132.9 388.4,136.5 388.9,139.9 389.4,143.0 390.0,145.9 390.5,148.3 391.0,150.2 391.6,151.5 392.1,152.3 392.6,152.7 393.2,152.8 393.7,152.6 394.2,152.2 394.8,151.6 395.3,151.0 395.8,150.3 396.4,149.5 396.9,148.5 397.4,147.6 398.0,146.6 398.5,145.8 399.0,145.0 399.6,144.4 400.1,143.7 400.6,143.2 401.2,142.8 401.7,142.7 402.2,142.7 402.8,142.8 403.3,142.9 403.8,143.0 404.4,142.9 404.9,142.6 405.4,142.3 406.0,142.0 406.5,141.6 407.0,141.3 407.6,141.0 408.1,140.6 408.6,140.2 409.2,139.8 409.7,139.4 410.2,139.1 410.8,138.7 411.3,138.3 411.8,137.9 412.4,137.6 412.9,137.3 413.4,137.2 414.0,137.1 414.5,137.2 415.0,137.3 415.6,137.4 416.1,137.5 416.6,137.6 417.2,137.8 417.7,137.9 418.2,138.1 418.8,138.5 419.3,138.9 419.8,139.5 420.4,140.2 420.9,141.1 421.4,142.2 422.0,143.5 422.5,144.4 423.0,144.7 423.6,144.5 424.1,144.1 424.6,143.5 425.2,143.1 425.7,142.6 426.2,142.1 426.8,141.7 427.3,141.3 427.8,141.0 428.4,140.7 428.9,140.5 429.4,140.4 430.0,140.3 430.5,140.1 431.0,140.0 431.6,139.8 432.1,139.7 432.6,139.6 433.2,139.5 433.7,139.4 434.2,139.3 434.8,139.3 435.3,139.2 435.8,139.2 436.4,139.2 436.9,139.1 437.4,139.1 438.0,139.0 438.5,139.0 439.0,139.0 439.6,139.0 440.1,139.0 440.6,139.1 441.2,139.2 441.7,139.4 442.2,139.5 442.8,139.7 443.3,139.9 443.8,140.0 444.4,140.2 444.9,140.3 445.4,140.5 446.0,140.8 446.5,141.2 447.0,141.9 447.6,142.7 448.1,143.7 448.6,145.0 449.2,146.5 449.7,148.3 450.2,150.2 450.8,152.2 451.3,154.4 451.8,156.7 452.4,159.4 452.9,162.2 453.4,165.0 454.0,167.4 454.5,169.5 455.0,171.2 455.6,172.8 456.1,174.2 456.6,175.6 457.2,176.7 457.7,177.4 458.2,177.5 458.8,177.1 459.3,176.4 459.8,175.7 460.4,175.0 460.9,174.3 461.4,173.5 462.0,172.8 462.5,172.1 463.0,171.5 463.6,171.1 464.1,170.9 464.6,170.9 465.2,171.0 465.7,171.1 466.2,171.2 466.8,171.3 467.3,171.5 467.8,171.6 468.4,171.8 468.9,172.1 469.4,172.6 470.0,173.4 470.5,174.5 471.0,175.7 471.6,176.9 472.1,178.2 472.6,179.4 473.2,180.6 473.7,181.9 474.2,183.1 474.8,184.2 475.3,185.0 475.8,185.6 476.4,186.0 476.9,186.2 477.4,186.3 478.0,186.4 478.5,186.5 479.0,186.6 479.6,186.7 480.1,186.8 480.6,186.9 481.2,187.0 481.7,187.1 482.2,187.2 482.8,187.3 483.3,187.4 483.8,187.5 484.4,187.6 484.9,187.7 485.4,187.9 486.0,188.0 486.5,188.1 487.0,188.3 487.6,188.4 488.1,188.6 488.6,188.7 489.2,188.8 489.7,189.0 490.2,189.1 490.8,189.3 491.3,189.4 491.8,189.7 492.4,190.0 492.9,190.3 493.4,190.7 494.0,191.1 494.5,191.5 495.0,191.9 495.6,192.3 496.1,192.7 496.6,193.0 497.2,193.4 497.7,193.8 498.2,194.0 498.8,194.1 499.3,193.8 499.8,193.3 500.4,192.5 500.9,191.7 501.4,190.8 502.0,190.0 502.5,189.5" fill="none" stroke="#e0f020" stroke-width="1.45" stroke-linejoin="round"/>
<rect x="302.5" y="42" width="200.0" height="167" fill="none" stroke="#9a9a9a" stroke-width="1"/>
<line x1="302.5" y1="209.0" x2="304.0" y2="209.0" stroke="#9a9a9a" stroke-width="0.8"/>
<line x1="502.5" y1="209.0" x2="501.0" y2="209.0" stroke="#9a9a9a" stroke-width="0.8"/>
<text x="300.3" y="211.8" text-anchor="end" class="tk" textLength="4.3" lengthAdjust="spacingAndGlyphs">0</text>
<line x1="302.5" y1="181.2" x2="304.0" y2="181.2" stroke="#9a9a9a" stroke-width="0.8"/>
<line x1="502.5" y1="181.2" x2="501.0" y2="181.2" stroke="#9a9a9a" stroke-width="0.8"/>
<text x="300.3" y="184.0" text-anchor="end" class="tk" textLength="9.3" lengthAdjust="spacingAndGlyphs">0.1</text>
<line x1="302.5" y1="153.3" x2="304.0" y2="153.3" stroke="#9a9a9a" stroke-width="0.8"/>
<line x1="502.5" y1="153.3" x2="501.0" y2="153.3" stroke="#9a9a9a" stroke-width="0.8"/>
<text x="300.3" y="156.1" text-anchor="end" class="tk" textLength="9.3" lengthAdjust="spacingAndGlyphs">0.2</text>
<line x1="302.5" y1="125.5" x2="304.0" y2="125.5" stroke="#9a9a9a" stroke-width="0.8"/>
<line x1="502.5" y1="125.5" x2="501.0" y2="125.5" stroke="#9a9a9a" stroke-width="0.8"/>
<text x="300.3" y="128.3" text-anchor="end" class="tk" textLength="9.3" lengthAdjust="spacingAndGlyphs">0.3</text>
<line x1="302.5" y1="97.7" x2="304.0" y2="97.7" stroke="#9a9a9a" stroke-width="0.8"/>
<line x1="502.5" y1="97.7" x2="501.0" y2="97.7" stroke="#9a9a9a" stroke-width="0.8"/>
<text x="300.3" y="100.5" text-anchor="end" class="tk" textLength="9.3" lengthAdjust="spacingAndGlyphs">0.4</text>
<line x1="302.5" y1="69.8" x2="304.0" y2="69.8" stroke="#9a9a9a" stroke-width="0.8"/>
<line x1="502.5" y1="69.8" x2="501.0" y2="69.8" stroke="#9a9a9a" stroke-width="0.8"/>
<text x="300.3" y="72.6" text-anchor="end" class="tk" textLength="9.3" lengthAdjust="spacingAndGlyphs">0.5</text>
<line x1="302.5" y1="42.0" x2="304.0" y2="42.0" stroke="#9a9a9a" stroke-width="0.8"/>
<line x1="502.5" y1="42.0" x2="501.0" y2="42.0" stroke="#9a9a9a" stroke-width="0.8"/>
<text x="300.3" y="44.8" text-anchor="end" class="tk" textLength="9.3" lengthAdjust="spacingAndGlyphs">0.6</text>
<line x1="302.5" y1="209" x2="302.5" y2="207.5" stroke="#9a9a9a" stroke-width="0.8"/>
<line x1="302.5" y1="42" x2="302.5" y2="43.5" stroke="#9a9a9a" stroke-width="0.8"/>
<text x="302.5" y="218.6" text-anchor="middle" class="tk" textLength="13.6" lengthAdjust="spacingAndGlyphs">1000</text>
<line x1="369.2" y1="209" x2="369.2" y2="207.5" stroke="#9a9a9a" stroke-width="0.8"/>
<line x1="369.2" y1="42" x2="369.2" y2="43.5" stroke="#9a9a9a" stroke-width="0.8"/>
<text x="369.2" y="218.6" text-anchor="middle" class="tk" textLength="13.6" lengthAdjust="spacingAndGlyphs">1500</text>
<line x1="435.8" y1="209" x2="435.8" y2="207.5" stroke="#9a9a9a" stroke-width="0.8"/>
<line x1="435.8" y1="42" x2="435.8" y2="43.5" stroke="#9a9a9a" stroke-width="0.8"/>
<text x="435.8" y="218.6" text-anchor="middle" class="tk" textLength="13.6" lengthAdjust="spacingAndGlyphs">2000</text>
<line x1="502.5" y1="209" x2="502.5" y2="207.5" stroke="#9a9a9a" stroke-width="0.8"/>
<line x1="502.5" y1="42" x2="502.5" y2="43.5" stroke="#9a9a9a" stroke-width="0.8"/>
<text x="502.5" y="218.6" text-anchor="middle" class="tk" textLength="13.6" lengthAdjust="spacingAndGlyphs">2500</text>
<text x="402.5" y="227.4" text-anchor="middle" class="al" textLength="54" lengthAdjust="spacingAndGlyphs">Wavelength [nm]</text>
<text transform="translate(287.8,125.5) rotate(-90)" text-anchor="middle" class="al" textLength="38.5" lengthAdjust="spacingAndGlyphs">Reflectance</text>
<rect x="514.5" y="42" width="28.0" height="73.5" fill="#fff" stroke="#9a9a9a" stroke-width="1"/>
<line x1="516.2" y1="45.9" x2="529.5" y2="45.9" stroke="#f5dc80" stroke-width="1.4"/>
<text x="530.7" y="48.5" class="lg" textLength="10.2" lengthAdjust="spacingAndGlyphs">E14</text>
<line x1="516.2" y1="53.2" x2="529.5" y2="53.2" stroke="#e020d0" stroke-width="1.4"/>
<text x="530.7" y="55.8" class="lg" textLength="10.2" lengthAdjust="spacingAndGlyphs">E19</text>
<line x1="516.2" y1="60.4" x2="529.5" y2="60.4" stroke="#e0f020" stroke-width="1.4"/>
<text x="530.7" y="63.0" class="lg" textLength="10.2" lengthAdjust="spacingAndGlyphs">E23</text>
<line x1="516.2" y1="67.7" x2="529.5" y2="67.7" stroke="#d0d8f0" stroke-width="1.4"/>
<text x="530.7" y="70.3" class="lg" textLength="10.2" lengthAdjust="spacingAndGlyphs">E34</text>
<line x1="516.2" y1="75.0" x2="529.5" y2="75.0" stroke="#e090f0" stroke-width="1.4"/>
<text x="530.7" y="77.6" class="lg" textLength="10.2" lengthAdjust="spacingAndGlyphs">E41</text>
<line x1="516.2" y1="82.2" x2="529.5" y2="82.2" stroke="#a0a0e8" stroke-width="1.4"/>
<text x="530.7" y="84.8" class="lg" textLength="10.2" lengthAdjust="spacingAndGlyphs">E46</text>
<line x1="516.2" y1="89.5" x2="529.5" y2="89.5" stroke="#601010" stroke-width="1.4"/>
<text x="530.7" y="92.1" class="lg" textLength="10.2" lengthAdjust="spacingAndGlyphs">E51</text>
<line x1="516.2" y1="96.8" x2="529.5" y2="96.8" stroke="#309aa8" stroke-width="1.4"/>
<text x="530.7" y="99.4" class="lg" textLength="10.2" lengthAdjust="spacingAndGlyphs">E52</text>
<line x1="516.2" y1="104.1" x2="529.5" y2="104.1" stroke="#8060b0" stroke-width="1.4"/>
<text x="530.7" y="106.7" class="lg" textLength="10.2" lengthAdjust="spacingAndGlyphs">E54</text>
<line x1="516.2" y1="111.3" x2="529.5" y2="111.3" stroke="#30e0a0" stroke-width="1.4"/>
<text x="530.7" y="113.9" class="lg" textLength="10.2" lengthAdjust="spacingAndGlyphs">E56</text>
<text x="327.5" y="13.3" class="tt" textLength="79" lengthAdjust="spacingAndGlyphs">ASD FieldSpec</text>
<circle cx="412.6" cy="7.9" r="2.3" fill="none" stroke="#8a8a8a" stroke-width="0.6"/>
<text x="412.6" y="9.3" text-anchor="middle" font-family="Liberation Sans,sans-serif" font-size="3.8" fill="#8a8a8a">R</text>
<text x="418.8" y="13.3" class="tt" textLength="80.7" lengthAdjust="spacingAndGlyphs">4 Standard-Res</text>
<text x="413.5" y="29.4" text-anchor="middle" class="tt" textLength="73.4" lengthAdjust="spacingAndGlyphs">Validation set</text>
<polyline points="25.5,322.8 26.0,322.9 26.6,323.0 27.1,323.2 27.6,323.2 28.2,323.3 28.7,323.2 29.2,323.1 29.8,323.4 30.3,323.5 30.8,323.4 31.4,323.5 31.9,323.6 32.4,323.8 33.0,323.8 33.5,323.7 34.0,324.1 34.6,324.1 35.1,324.4 35.6,324.4 36.2,324.6 36.7,324.5 37.2,324.7 37.8,324.6 38.3,324.8 38.8,324.9 39.4,325.3 39.9,325.2 40.4,325.5 41.0,326.2 41.5,327.1 42.0,327.7 42.6,328.5 43.1,329.4 43.6,330.2 44.2,331.6 44.7,332.5 45.2,333.1 45.8,333.0 46.3,332.6 46.8,332.2 47.4,331.8 47.9,331.6 48.4,331.7 49.0,332.0 49.5,332.9 50.0,333.0 50.6,333.7 51.1,334.4 51.6,334.7 52.2,335.5 52.7,336.4 53.2,336.8 53.8,336.2 54.3,335.8 54.8,335.1 55.4,334.7 55.9,334.0 56.4,333.4 57.0,333.2 57.5,332.9 58.0,332.7 58.6,332.4 59.1,332.4 59.6,332.0 60.2,331.8 60.7,331.6 61.2,331.6 61.8,332.1 62.3,332.2 62.8,332.1 63.4,332.6 63.9,332.5 64.4,332.6 65.0,332.5 65.5,332.7 66.0,333.1 66.6,333.4 67.1,333.6 67.6,333.7 68.2,334.2 68.7,334.5 69.2,334.6 69.8,335.0 70.3,335.2 70.8,335.6 71.4,335.9 71.9,336.4 72.4,336.6 73.0,337.1 73.5,337.6 74.0,337.9 74.6,338.5 75.1,338.7 75.6,339.4 76.2,340.2 76.7,341.3 77.2,341.9 77.8,343.0 78.3,343.9 78.8,344.5 79.4,344.9 79.9,345.0 80.4,345.0 81.0,345.7 81.5,345.9 82.0,345.7 82.6,345.6 83.1,345.7 83.6,345.6 84.2,345.5 84.7,345.7 85.2,346.9 85.8,347.7 86.3,348.7 86.8,349.8 87.4,350.4 87.9,351.1 88.4,351.3 89.0,352.0 89.5,351.4 90.0,350.9 90.6,350.2 91.1,349.9 91.6,349.1 92.2,348.3 92.7,348.5 93.2,348.0 93.8,348.2 94.3,347.7 94.8,347.7 95.4,347.4 95.9,347.3 96.4,347.5 97.0,347.3 97.5,347.4 98.0,347.7 98.6,347.9 99.1,348.0 99.6,348.2 100.2,348.1 100.7,348.5 101.2,348.5 101.8,348.8 102.3,349.0 102.8,349.3 103.4,349.2 103.9,349.6 104.4,349.7 105.0,350.0 105.5,350.3 106.0,350.5 106.6,350.7 107.1,350.8 107.6,351.7 108.2,353.4 108.7,355.9 109.2,358.7 109.8,361.7 110.3,365.7 110.8,369.6 111.4,373.4 111.9,377.2 112.4,381.5 113.0,385.0 113.5,388.4 114.0,391.4 114.6,393.4 115.1,395.2 115.6,396.1 116.2,396.2 116.7,395.5 117.2,395.2 117.8,394.5 118.3,394.0 118.8,393.3 119.4,392.3 119.9,391.9 120.4,391.1 121.0,390.8 121.5,391.5 122.0,392.1 122.6,392.6 123.1,392.8 123.6,392.4 124.2,392.0 124.7,391.4 125.2,390.6 125.8,389.5 126.3,388.5 126.8,387.5 127.4,387.7 127.9,388.1 128.4,388.7 129.0,388.8 129.5,388.0 130.0,387.3 130.6,386.6 131.1,386.1 131.6,385.2 132.2,384.9 132.7,384.3 133.2,384.1 133.8,383.8 134.3,383.4 134.8,383.2 135.4,383.3 135.9,383.2 136.4,382.6 137.0,382.6 137.5,382.2 138.0,382.0 138.6,382.2 139.1,382.2 139.6,381.8 140.2,381.7 140.7,381.7 141.2,381.5 141.8,381.5 142.3,381.3 142.8,380.9 143.4,380.8 143.9,380.6 144.4,381.1 145.0,383.0 145.5,384.7 146.0,386.2 146.6,385.7 147.1,385.3 147.6,384.9 148.2,384.4 148.7,384.1 149.2,383.5 149.8,383.1 150.3,382.5 150.8,382.8 151.4,382.2 151.9,382.2 152.4,381.9 153.0,381.9 153.5,381.5 154.0,381.3 154.6,381.4 155.1,381.4 155.6,381.4 156.2,381.2 156.7,381.4 157.2,381.7 157.8,381.4 158.3,381.6 158.8,381.8 159.4,381.4 159.9,381.2 160.4,381.4 161.0,381.5 161.5,381.5 162.0,381.3 162.6,381.4 163.1,381.6 163.6,381.8 164.2,382.0 164.7,382.2 165.2,382.5 165.8,382.8 166.3,383.2 166.8,383.2 167.4,383.7 167.9,383.7 168.4,384.5 169.0,384.9 169.5,385.5 170.0,386.3 170.6,386.5 171.1,387.1 171.6,388.1 172.2,388.7 172.7,389.6 173.2,390.8 173.8,391.2 174.3,392.1 174.8,392.9 175.4,394.4 175.9,397.6 176.4,402.2 177.0,407.0 177.5,411.5 178.0,414.5 178.6,415.1 179.1,415.7 179.6,416.0 180.2,416.5 180.7,416.3 181.2,416.7 181.8,417.0 182.3,416.8 182.8,416.0 183.4,415.2 183.9,414.4 184.4,413.6 185.0,412.8 185.5,412.0 186.0,411.5 186.6,411.0 187.1,410.5 187.6,410.0 188.2,409.5 188.7,410.0 189.2,410.3 189.8,410.7 190.3,411.1 190.8,411.3 191.4,411.5 191.9,412.1 192.4,412.7 193.0,413.7 193.5,414.7 194.0,415.9 194.6,416.8 195.1,418.1 195.6,419.3 196.2,421.0 196.7,422.3 197.2,423.6 197.8,424.9 198.3,425.6 198.8,426.1 199.4,426.8 199.9,427.5 200.4,427.6 201.0,427.2 201.5,427.4 202.0,427.3 202.6,427.2 203.1,426.9 203.6,427.2 204.2,427.7 204.7,427.9 205.2,428.8 205.8,429.0 206.3,429.5 206.8,430.2 207.4,430.7 207.9,430.4 208.4,430.5 209.0,430.2 209.5,430.1 210.0,429.6 210.6,429.1 211.1,428.9 211.6,428.9 212.2,428.6 212.7,428.8 213.2,428.9 213.8,429.2 214.3,429.4 214.8,429.7 215.4,430.0 215.9,430.3 216.4,430.7 217.0,431.2 217.5,431.7 218.0,432.0 218.6,432.7 219.1,433.3 219.6,434.1 220.2,434.3 220.7,435.1 221.2,434.7 221.8,433.8 222.3,433.2 222.8,432.7 223.4,432.3 223.9,431.5 224.4,430.3 225.0,428.3 225.5,426.3" fill="none" stroke="#f4ecec" stroke-width="1.3" stroke-linejoin="round"/>
<polyline points="25.5,340.6 26.0,340.8 26.6,341.0 27.1,340.9 27.6,341.0 28.2,341.2 28.7,341.1 29.2,341.3 29.8,341.1 30.3,341.2 30.8,341.2 31.4,341.5 31.9,341.5 32.4,341.6 33.0,341.7 33.5,341.8 34.0,342.0 34.6,342.2 35.1,342.0 35.6,342.2 36.2,342.3 36.7,342.3 37.2,342.8 37.8,342.7 38.3,342.7 38.8,342.8 39.4,343.0 39.9,342.9 40.4,343.4 41.0,344.2 41.5,344.8 42.0,345.2 42.6,345.9 43.1,347.0 43.6,347.6 44.2,348.6 44.7,349.5 45.2,350.4 45.8,350.1 46.3,349.9 46.8,349.1 47.4,349.2 47.9,348.6 48.4,349.2 49.0,349.5 49.5,350.1 50.0,350.4 50.6,350.7 51.1,351.6 51.6,351.8 52.2,352.5 52.7,353.2 53.2,353.7 53.8,353.3 54.3,352.8 54.8,352.4 55.4,352.0 55.9,351.5 56.4,351.1 57.0,350.8 57.5,350.4 58.0,350.1 58.6,350.2 59.1,349.8 59.6,349.7 60.2,349.6 60.7,349.3 61.2,349.6 61.8,349.5 62.3,349.9 62.8,349.9 63.4,350.1 63.9,350.3 64.4,350.2 65.0,350.4 65.5,350.5 66.0,350.8 66.6,351.2 67.1,351.3 67.6,351.5 68.2,351.7 68.7,352.2 69.2,352.3 69.8,352.8 70.3,352.7 70.8,353.2 71.4,353.7 71.9,353.8 72.4,354.0 73.0,354.8 73.5,355.1 74.0,355.5 74.6,355.9 75.1,356.1 75.6,356.7 76.2,357.5 76.7,358.0 77.2,359.0 77.8,359.6 78.3,360.5 78.8,361.3 79.4,361.6 79.9,361.4 80.4,361.9 81.0,362.1 81.5,362.4 82.0,362.3 82.6,362.3 83.1,362.0 83.6,362.4 84.2,362.4 84.7,362.6 85.2,363.5 85.8,364.1 86.3,364.9 86.8,366.0 87.4,366.8 87.9,367.1 88.4,367.3 89.0,368.4 89.5,367.4 90.0,367.1 90.6,366.3 91.1,366.1 91.6,365.5 92.2,365.1 92.7,364.9 93.2,364.5 93.8,364.5 94.3,364.5 94.8,364.5 95.4,364.5 95.9,364.2 96.4,364.1 97.0,364.3 97.5,364.4 98.0,364.7 98.6,364.7 99.1,364.8 99.6,364.7 100.2,364.8 100.7,365.2 101.2,365.4 101.8,365.5 102.3,365.8 102.8,366.0 103.4,366.1 103.9,366.5 104.4,366.4 105.0,366.7 105.5,366.9 106.0,367.2 106.6,367.4 107.1,367.6 107.6,368.1 108.2,369.3 108.7,370.9 109.2,373.0 109.8,375.5 110.3,377.9 110.8,380.8 111.4,383.6 111.9,386.4 112.4,389.4 113.0,391.6 113.5,394.0 114.0,396.1 114.6,397.8 115.1,398.9 115.6,399.6 116.2,399.5 116.7,399.1 117.2,398.5 117.8,398.2 118.3,397.3 118.8,396.7 119.4,396.1 119.9,395.5 120.4,394.7 121.0,394.7 121.5,395.0 122.0,395.6 122.6,396.2 123.1,396.3 123.6,396.1 124.2,395.6 124.7,395.1 125.2,394.3 125.8,393.3 126.3,392.5 126.8,391.1 127.4,391.5 127.9,391.9 128.4,392.4 129.0,392.9 129.5,391.8 130.0,391.3 130.6,391.0 131.1,390.0 131.6,389.6 132.2,388.9 132.7,388.5 133.2,388.0 133.8,388.0 134.3,387.7 134.8,387.2 135.4,387.0 135.9,387.0 136.4,386.8 137.0,386.8 137.5,386.5 138.0,386.2 138.6,386.1 139.1,386.0 139.6,385.8 140.2,386.0 140.7,385.8 141.2,385.6 141.8,385.5 142.3,385.1 142.8,385.0 143.4,384.9 143.9,384.6 144.4,385.5 145.0,387.3 145.5,388.7 146.0,390.0 146.6,389.5 147.1,389.4 147.6,388.8 148.2,388.5 148.7,388.1 149.2,388.0 149.8,387.3 150.3,386.8 150.8,386.7 151.4,386.6 151.9,386.3 152.4,385.9 153.0,386.2 153.5,385.6 154.0,385.5 154.6,385.5 155.1,385.3 155.6,385.4 156.2,385.5 156.7,385.5 157.2,385.4 157.8,385.6 158.3,385.5 158.8,385.4 159.4,385.2 159.9,385.6 160.4,385.5 161.0,385.5 161.5,385.4 162.0,385.6 162.6,385.4 163.1,385.9 163.6,386.0 164.2,386.2 164.7,386.3 165.2,386.5 165.8,387.1 166.3,387.3 166.8,387.3 167.4,387.7 167.9,388.1 168.4,388.2 169.0,388.8 169.5,389.4 170.0,390.1 170.6,390.5 171.1,391.2 171.6,391.7 172.2,392.7 172.7,393.5 173.2,394.1 173.8,395.0 174.3,395.6 174.8,396.4 175.4,398.0 175.9,401.5 176.4,406.4 177.0,411.4 177.5,416.3 178.0,419.4 178.6,420.0 179.1,420.2 179.6,420.5 180.2,421.0 180.7,421.3 181.2,421.4 181.8,421.9 182.3,421.8 182.8,420.9 183.4,420.1 183.9,419.5 184.4,418.9 185.0,418.1 185.5,417.3 186.0,417.0 186.6,416.4 187.1,415.8 187.6,415.3 188.2,415.3 188.7,415.4 189.2,415.9 189.8,416.1 190.3,416.4 190.8,416.5 191.4,416.9 191.9,417.4 192.4,417.9 193.0,418.8 193.5,419.6 194.0,420.8 194.6,421.7 195.1,422.7 195.6,423.6 196.2,425.1 196.7,426.5 197.2,427.7 197.8,428.5 198.3,429.4 198.8,430.0 199.4,430.3 199.9,431.0 200.4,431.2 201.0,431.2 201.5,430.8 202.0,430.7 202.6,430.7 203.1,430.5 203.6,430.9 204.2,431.1 204.7,431.7 205.2,432.1 205.8,432.5 206.3,433.2 206.8,433.8 207.4,434.0 207.9,434.1 208.4,433.8 209.0,433.6 209.5,433.3 210.0,433.3 210.6,432.6 211.1,432.4 211.6,432.1 212.2,431.7 212.7,432.2 213.2,432.7 213.8,432.8 214.3,433.0 214.8,433.2 215.4,433.3 215.9,433.9 216.4,433.9 217.0,434.7 217.5,434.9 218.0,435.4 218.6,435.9 219.1,436.4 219.6,436.9 220.2,437.3 220.7,437.9 221.2,437.4 221.8,436.6 222.3,436.0 222.8,435.6 223.4,435.1 223.9,434.7 224.4,433.3 225.0,431.9 225.5,430.3" fill="none" stroke="#dcdcf6" stroke-width="1.3" stroke-linejoin="round"/>
<polyline points="25.5,338.2 26.0,338.2 26.6,338.4 27.1,338.4 27.6,338.6 28.2,338.6 28.7,338.3 29.2,338.7 29.8,338.8 30.3,338.7 30.8,338.8 31.4,339.1 31.9,339.1 32.4,339.0 33.0,339.2 33.5,339.3 34.0,339.2 34.6,339.6 35.1,339.6 35.6,339.8 36.2,339.6 36.7,340.2 37.2,340.1 37.8,340.2 38.3,340.2 38.8,340.3 39.4,340.3 39.9,340.8 40.4,340.9 41.0,341.7 41.5,342.4 42.0,342.9 42.6,343.7 43.1,344.7 43.6,345.4 44.2,346.6 44.7,347.5 45.2,348.0 45.8,347.7 46.3,347.2 46.8,347.1 47.4,347.0 47.9,346.6 48.4,346.9 49.0,347.3 49.5,347.5 50.0,348.1 50.6,348.8 51.1,349.0 51.6,349.7 52.2,350.2 52.7,350.8 53.2,351.3 53.8,351.0 54.3,350.3 54.8,350.0 55.4,349.5 55.9,349.1 56.4,348.9 57.0,348.3 57.5,348.1 58.0,347.9 58.6,347.9 59.1,347.3 59.6,347.3 60.2,347.3 60.7,347.3 61.2,347.3 61.8,347.4 62.3,347.6 62.8,347.6 63.4,347.8 63.9,347.8 64.4,348.1 65.0,348.1 65.5,348.1 66.0,348.1 66.6,348.9 67.1,349.1 67.6,349.4 68.2,349.4 68.7,349.9 69.2,350.1 69.8,350.3 70.3,350.7 70.8,350.9 71.4,351.2 71.9,351.9 72.4,352.2 73.0,352.4 73.5,352.7 74.0,353.2 74.6,353.8 75.1,354.0 75.6,354.3 76.2,355.1 76.7,356.0 77.2,356.9 77.8,357.4 78.3,358.4 78.8,359.2 79.4,359.4 79.9,359.3 80.4,359.8 81.0,359.9 81.5,360.4 82.0,360.1 82.6,360.3 83.1,360.2 83.6,359.8 84.2,360.0 84.7,360.4 85.2,361.3 85.8,362.1 86.3,362.9 86.8,364.0 87.4,364.8 87.9,365.1 88.4,365.6 89.0,366.0 89.5,365.3 90.0,364.9 90.6,364.4 91.1,364.1 91.6,363.3 92.2,362.6 92.7,362.7 93.2,362.6 93.8,362.5 94.3,362.2 94.8,362.5 95.4,362.2 95.9,362.0 96.4,362.0 97.0,362.3 97.5,362.3 98.0,362.5 98.6,362.6 99.1,362.8 99.6,363.1 100.2,363.0 100.7,363.1 101.2,363.4 101.8,363.5 102.3,363.6 102.8,364.1 103.4,364.1 103.9,364.5 104.4,364.4 105.0,364.4 105.5,364.7 106.0,365.2 106.6,365.3 107.1,365.5 107.6,366.2 108.2,367.3 108.7,369.5 109.2,371.4 109.8,374.1 110.3,376.8 110.8,379.9 111.4,383.2 111.9,386.1 112.4,389.1 113.0,392.0 113.5,394.5 114.0,396.9 114.6,399.0 115.1,399.8 115.6,400.5 116.2,400.6 116.7,400.2 117.2,399.6 117.8,399.2 118.3,398.6 118.8,397.9 119.4,397.1 119.9,396.9 120.4,395.9 121.0,395.8 121.5,396.4 122.0,396.7 122.6,397.5 123.1,397.7 123.6,397.2 124.2,396.7 124.7,396.3 125.2,395.6 125.8,394.5 126.3,393.4 126.8,392.6 127.4,392.9 127.9,393.3 128.4,393.8 129.0,394.0 129.5,393.2 130.0,392.6 130.6,392.0 131.1,391.4 131.6,390.5 132.2,390.0 132.7,389.7 133.2,389.4 133.8,389.2 134.3,388.8 134.8,389.0 135.4,388.5 135.9,388.4 136.4,387.9 137.0,387.7 137.5,388.0 138.0,387.8 138.6,387.4 139.1,387.3 139.6,387.2 140.2,387.3 140.7,387.1 141.2,387.0 141.8,386.9 142.3,386.6 142.8,386.8 143.4,386.2 143.9,386.2 144.4,386.6 145.0,388.5 145.5,390.2 146.0,391.2 146.6,391.0 147.1,390.6 147.6,390.3 148.2,389.7 148.7,389.3 149.2,388.9 149.8,388.6 150.3,388.1 150.8,388.1 151.4,387.9 151.9,387.6 152.4,387.3 153.0,387.3 153.5,387.0 154.0,387.0 154.6,387.0 155.1,387.1 155.6,386.8 156.2,387.0 156.7,386.9 157.2,387.0 157.8,386.9 158.3,386.9 158.8,387.0 159.4,386.6 159.9,386.9 160.4,386.7 161.0,386.8 161.5,387.1 162.0,387.0 162.6,387.0 163.1,387.1 163.6,387.3 164.2,387.6 164.7,388.0 165.2,388.1 165.8,388.6 166.3,388.4 166.8,388.8 167.4,389.1 167.9,389.3 168.4,389.6 169.0,390.4 169.5,391.0 170.0,391.5 170.6,392.2 171.1,392.6 171.6,392.9 172.2,394.0 172.7,394.6 173.2,395.6 173.8,396.1 174.3,396.9 174.8,397.7 175.4,398.8 175.9,401.9 176.4,406.5 177.0,411.2 177.5,415.5 178.0,418.1 178.6,419.0 179.1,419.1 179.6,419.6 180.2,419.6 180.7,420.4 181.2,420.5 181.8,420.6 182.3,420.5 182.8,419.8 183.4,418.9 183.9,418.3 184.4,417.3 185.0,416.3 185.5,415.9 186.0,415.7 186.6,415.2 187.1,414.6 187.6,413.9 188.2,414.0 188.7,414.2 189.2,414.3 189.8,414.5 190.3,415.0 190.8,415.4 191.4,415.8 191.9,416.1 192.4,416.9 193.0,417.4 193.5,418.5 194.0,419.3 194.6,420.1 195.1,421.3 195.6,423.0 196.2,424.0 196.7,425.3 197.2,426.9 197.8,427.9 198.3,428.4 198.8,429.2 199.4,429.3 199.9,430.5 200.4,430.5 201.0,430.3 201.5,430.2 202.0,430.0 202.6,429.8 203.1,429.8 203.6,429.6 204.2,430.6 204.7,430.8 205.2,431.4 205.8,431.8 206.3,432.2 206.8,432.9 207.4,433.3 207.9,433.1 208.4,432.9 209.0,432.8 209.5,432.1 210.0,431.8 210.6,432.1 211.1,431.6 211.6,431.0 212.2,431.0 212.7,431.3 213.2,431.6 213.8,431.9 214.3,432.0 214.8,432.3 215.4,432.4 215.9,432.8 216.4,433.2 217.0,433.8 217.5,434.2 218.0,434.8 218.6,435.1 219.1,435.4 219.6,436.0 220.2,436.4 220.7,436.9 221.2,436.6 221.8,436.1 222.3,435.6 222.8,434.9 223.4,434.6 223.9,433.6 224.4,432.7 225.0,431.2 225.5,429.5" fill="none" stroke="#bfe6ee" stroke-width="1.3" stroke-linejoin="round"/>
<polyline points="25.5,325.7 26.0,325.7 26.6,325.8 27.1,325.7 27.6,326.0 28.2,326.3 28.7,326.1 29.2,326.4 29.8,326.1 30.3,326.1 30.8,326.2 31.4,326.5 31.9,326.5 32.4,326.2 33.0,326.5 33.5,326.6 34.0,326.5 34.6,326.5 35.1,326.7 35.6,327.0 36.2,327.1 36.7,327.1 37.2,327.4 37.8,327.6 38.3,327.5 38.8,327.8 39.4,327.7 39.9,327.8 40.4,327.9 41.0,329.1 41.5,329.7 42.0,330.4 42.6,331.0 43.1,331.8 43.6,333.1 44.2,334.2 44.7,335.4 45.2,336.0 45.8,335.4 46.3,335.1 46.8,334.9 47.4,334.5 47.9,334.1 48.4,334.3 49.0,334.9 49.5,335.3 50.0,335.9 50.6,336.4 51.1,336.6 51.6,337.8 52.2,338.1 52.7,338.7 53.2,339.4 53.8,338.9 54.3,338.3 54.8,337.7 55.4,337.2 55.9,337.0 56.4,336.2 57.0,335.8 57.5,335.6 58.0,335.2 58.6,334.9 59.1,334.7 59.6,334.6 60.2,334.2 60.7,334.1 61.2,334.2 61.8,334.3 62.3,334.7 62.8,334.8 63.4,334.8 63.9,335.2 64.4,335.1 65.0,335.3 65.5,335.4 66.0,335.9 66.6,336.0 67.1,336.2 67.6,336.3 68.2,336.6 68.7,337.0 69.2,337.2 69.8,337.6 70.3,337.7 70.8,338.0 71.4,338.3 71.9,338.6 72.4,339.3 73.0,339.9 73.5,340.2 74.0,340.7 74.6,341.1 75.1,341.2 75.6,341.8 76.2,342.9 76.7,343.4 77.2,344.2 77.8,345.2 78.3,346.1 78.8,346.9 79.4,347.1 79.9,347.3 80.4,347.5 81.0,347.7 81.5,348.0 82.0,347.9 82.6,347.9 83.1,348.2 83.6,348.0 84.2,347.8 84.7,348.1 85.2,348.9 85.8,350.1 86.3,351.1 86.8,351.7 87.4,352.6 87.9,353.1 88.4,353.6 89.0,354.1 89.5,353.6 90.0,353.4 90.6,352.5 91.1,351.9 91.6,351.4 92.2,350.6 92.7,350.3 93.2,350.4 93.8,350.4 94.3,349.8 94.8,350.0 95.4,349.9 95.9,349.6 96.4,349.5 97.0,349.8 97.5,349.8 98.0,350.1 98.6,350.3 99.1,350.2 99.6,350.3 100.2,350.6 100.7,350.6 101.2,350.8 101.8,350.6 102.3,351.3 102.8,351.2 103.4,351.6 103.9,351.8 104.4,351.9 105.0,352.1 105.5,352.3 106.0,352.6 106.6,353.0 107.1,353.1 107.6,353.8 108.2,355.4 108.7,357.6 109.2,360.5 109.8,363.7 110.3,367.2 110.8,371.2 111.4,375.3 111.9,379.2 112.4,383.0 113.0,386.2 113.5,389.8 114.0,392.3 114.6,394.6 115.1,396.1 115.6,397.1 116.2,397.2 116.7,396.8 117.2,396.2 117.8,395.7 118.3,395.1 118.8,394.4 119.4,393.5 119.9,393.3 120.4,392.3 121.0,392.1 121.5,392.6 122.0,393.1 122.6,393.9 123.1,393.9 123.6,393.8 124.2,393.0 124.7,392.9 125.2,391.8 125.8,390.8 126.3,390.1 126.8,388.7 127.4,389.0 127.9,389.3 128.4,389.9 129.0,390.1 129.5,389.6 130.0,388.6 130.6,387.8 131.1,387.4 131.6,386.7 132.2,386.3 132.7,385.7 133.2,385.2 133.8,385.2 134.3,384.9 134.8,384.7 135.4,384.7 135.9,384.1 136.4,384.2 137.0,383.9 137.5,383.6 138.0,383.4 138.6,383.3 139.1,383.2 139.6,383.3 140.2,383.3 140.7,383.0 141.2,383.0 141.8,382.9 142.3,382.7 142.8,382.3 143.4,382.3 143.9,382.0 144.4,382.8 145.0,384.3 145.5,386.1 146.0,387.1 146.6,387.1 147.1,386.6 147.6,386.0 148.2,385.7 148.7,385.4 149.2,384.7 149.8,384.6 150.3,384.4 150.8,384.2 151.4,383.7 151.9,383.5 152.4,383.5 153.0,383.2 153.5,382.8 154.0,382.7 154.6,382.9 155.1,382.7 155.6,382.7 156.2,383.0 156.7,382.8 157.2,382.7 157.8,382.8 158.3,383.0 158.8,382.8 159.4,382.6 159.9,382.5 160.4,383.1 161.0,382.4 161.5,383.0 162.0,382.7 162.6,382.7 163.1,382.8 163.6,383.2 164.2,383.6 164.7,383.6 165.2,384.0 165.8,384.5 166.3,384.0 166.8,384.6 167.4,384.7 167.9,385.3 168.4,385.4 169.0,386.0 169.5,386.6 170.0,387.4 170.6,388.2 171.1,388.7 171.6,389.6 172.2,390.3 172.7,390.9 173.2,391.8 173.8,392.5 174.3,393.3 174.8,393.8 175.4,395.2 175.9,398.8 176.4,403.2 177.0,408.5 177.5,412.8 178.0,415.6 178.6,416.7 179.1,416.9 179.6,417.3 180.2,417.4 180.7,417.5 181.2,418.1 181.8,418.3 182.3,418.2 182.8,417.4 183.4,416.6 183.9,415.4 184.4,414.5 185.0,414.0 185.5,413.6 186.0,412.8 186.6,412.4 187.1,411.7 187.6,411.2 188.2,411.1 188.7,411.3 189.2,411.7 189.8,412.0 190.3,412.5 190.8,412.7 191.4,413.2 191.9,413.3 192.4,414.1 193.0,414.9 193.5,415.9 194.0,417.1 194.6,418.0 195.1,419.3 195.6,420.5 196.2,421.7 196.7,423.3 197.2,424.8 197.8,425.6 198.3,426.7 198.8,426.9 199.4,427.8 199.9,428.7 200.4,428.2 201.0,428.2 201.5,428.4 202.0,428.1 202.6,428.1 203.1,427.9 203.6,428.1 204.2,428.5 204.7,428.9 205.2,429.5 205.8,429.9 206.3,430.6 206.8,430.8 207.4,431.7 207.9,431.5 208.4,431.5 209.0,431.2 209.5,430.5 210.0,430.6 210.6,430.1 211.1,429.9 211.6,429.7 212.2,429.4 212.7,429.6 213.2,429.9 213.8,429.9 214.3,430.2 214.8,430.6 215.4,431.0 215.9,431.1 216.4,431.5 217.0,431.9 217.5,432.2 218.0,433.0 218.6,433.6 219.1,434.1 219.6,434.7 220.2,435.2 220.7,435.6 221.2,435.3 221.8,434.7 222.3,433.9 222.8,433.5 223.4,432.9 223.9,432.4 224.4,430.8 225.0,429.2 225.5,427.3" fill="none" stroke="#f6c6de" stroke-width="1.3" stroke-linejoin="round"/>
<polyline points="25.5,335.0 26.0,334.9 26.6,335.3 27.1,335.2 27.6,335.0 28.2,335.6 28.7,335.4 29.2,335.4 29.8,335.6 30.3,335.7 30.8,335.7 31.4,336.0 31.9,335.9 32.4,336.2 33.0,336.3 33.5,336.3 34.0,336.4 34.6,336.4 35.1,336.5 35.6,336.9 36.2,336.5 36.7,336.8 37.2,336.9 37.8,337.2 38.3,337.3 38.8,337.3 39.4,337.4 39.9,337.8 40.4,337.9 41.0,338.2 41.5,339.6 42.0,339.8 42.6,340.6 43.1,341.5 43.6,342.3 44.2,343.7 44.7,344.5 45.2,345.0 45.8,344.9 46.3,344.6 46.8,344.3 47.4,344.0 47.9,343.4 48.4,344.0 49.0,344.2 49.5,345.0 50.0,345.1 50.6,345.8 51.1,346.7 51.6,346.9 52.2,347.7 52.7,348.2 53.2,348.5 53.8,348.4 54.3,347.9 54.8,347.1 55.4,346.8 55.9,346.1 56.4,345.8 57.0,345.6 57.5,345.3 58.0,344.9 58.6,344.7 59.1,344.7 59.6,344.5 60.2,344.3 60.7,344.3 61.2,344.1 61.8,344.5 62.3,344.8 62.8,344.8 63.4,344.8 63.9,344.9 64.4,345.2 65.0,345.4 65.5,345.4 66.0,345.9 66.6,346.1 67.1,346.1 67.6,346.5 68.2,346.7 68.7,346.8 69.2,347.2 69.8,347.5 70.3,347.5 70.8,347.9 71.4,348.5 71.9,348.7 72.4,349.2 73.0,349.8 73.5,350.0 74.0,350.5 74.6,351.1 75.1,351.3 75.6,351.8 76.2,352.6 76.7,353.6 77.2,354.2 77.8,354.9 78.3,355.7 78.8,356.7 79.4,356.7 79.9,357.2 80.4,357.3 81.0,357.3 81.5,357.9 82.0,357.8 82.6,357.6 83.1,357.8 83.6,357.7 84.2,357.6 84.7,357.7 85.2,359.1 85.8,359.8 86.3,360.7 86.8,361.6 87.4,362.3 87.9,362.8 88.4,363.1 89.0,363.8 89.5,363.1 90.0,362.5 90.6,362.2 91.1,361.5 91.6,360.8 92.2,360.4 92.7,360.4 93.2,360.2 93.8,360.2 94.3,359.9 94.8,359.7 95.4,359.9 95.9,359.6 96.4,359.5 97.0,359.8 97.5,359.9 98.0,360.2 98.6,360.3 99.1,360.4 99.6,360.2 100.2,360.7 100.7,360.8 101.2,360.9 101.8,361.1 102.3,361.2 102.8,361.5 103.4,361.4 103.9,361.9 104.4,361.9 105.0,362.3 105.5,362.5 106.0,363.0 106.6,363.0 107.1,363.1 107.6,363.8 108.2,365.3 108.7,366.5 109.2,368.8 109.8,371.3 110.3,373.9 110.8,376.7 111.4,379.6 111.9,382.7 112.4,385.5 113.0,388.0 113.5,390.4 114.0,392.6 114.6,394.3 115.1,395.6 115.6,396.1 116.2,395.9 116.7,395.7 117.2,394.9 117.8,394.4 118.3,393.9 118.8,393.1 119.4,392.7 119.9,392.1 120.4,391.3 121.0,390.8 121.5,391.5 122.0,392.1 122.6,392.7 123.1,393.1 123.6,392.3 124.2,392.2 124.7,391.7 125.2,390.7 125.8,389.7 126.3,388.6 126.8,387.5 127.4,387.8 127.9,388.2 128.4,388.6 129.0,389.0 129.5,388.3 130.0,387.6 130.6,386.7 131.1,386.4 131.6,385.2 132.2,384.8 132.7,384.6 133.2,384.1 133.8,383.8 134.3,383.6 134.8,383.3 135.4,383.2 135.9,382.8 136.4,382.5 137.0,382.5 137.5,382.0 138.0,382.1 138.6,382.0 139.1,382.0 139.6,381.8 140.2,381.6 140.7,381.8 141.2,381.4 141.8,381.3 142.3,381.1 142.8,381.2 143.4,380.6 143.9,380.3 144.4,381.3 145.0,383.0 145.5,385.1 146.0,385.9 146.6,385.7 147.1,385.1 147.6,385.0 148.2,384.3 148.7,384.0 149.2,383.5 149.8,383.3 150.3,382.9 150.8,382.3 151.4,382.5 151.9,382.2 152.4,382.0 153.0,381.8 153.5,381.3 154.0,381.2 154.6,381.5 155.1,381.6 155.6,381.2 156.2,381.2 156.7,381.2 157.2,381.2 157.8,381.5 158.3,381.4 158.8,381.5 159.4,381.5 159.9,381.2 160.4,381.5 161.0,381.1 161.5,381.4 162.0,381.5 162.6,381.3 163.1,381.3 163.6,381.8 164.2,382.2 164.7,382.2 165.2,382.4 165.8,382.9 166.3,383.2 166.8,383.2 167.4,383.6 167.9,384.0 168.4,384.4 169.0,385.0 169.5,385.5 170.0,386.1 170.6,386.6 171.1,387.3 171.6,388.2 172.2,388.8 172.7,389.5 173.2,390.4 173.8,391.1 174.3,392.2 174.8,393.0 175.4,394.1 175.9,397.8 176.4,402.5 177.0,407.0 177.5,411.6 178.0,414.5 178.6,415.5 179.1,415.8 179.6,416.1 180.2,416.3 180.7,416.5 181.2,417.2 181.8,417.0 182.3,417.0 182.8,416.2 183.4,415.1 183.9,414.4 184.4,413.8 185.0,412.5 185.5,412.3 186.0,411.6 186.6,411.0 187.1,410.3 187.6,410.0 188.2,409.6 188.7,410.1 189.2,410.1 189.8,410.7 190.3,411.0 190.8,411.0 191.4,411.6 191.9,412.0 192.4,412.4 193.0,413.6 193.5,414.8 194.0,415.6 194.6,416.9 195.1,417.8 195.6,419.3 196.2,421.0 196.7,422.4 197.2,423.8 197.8,424.8 198.3,425.6 198.8,426.1 199.4,427.1 199.9,427.4 200.4,427.7 201.0,427.6 201.5,427.3 202.0,427.4 202.6,427.0 203.1,427.0 203.6,427.1 204.2,427.7 204.7,428.3 205.2,428.6 205.8,429.3 206.3,429.7 206.8,430.1 207.4,430.6 207.9,430.5 208.4,430.5 209.0,430.3 209.5,429.7 210.0,429.5 210.6,429.1 211.1,429.0 211.6,428.6 212.2,428.3 212.7,428.6 213.2,428.9 213.8,429.1 214.3,429.4 214.8,429.7 215.4,429.9 215.9,430.3 216.4,430.4 217.0,431.2 217.5,431.6 218.0,432.3 218.6,432.9 219.1,433.0 219.6,433.9 220.2,434.5 220.7,434.9 221.2,434.5 221.8,433.6 222.3,433.3 222.8,432.5 223.4,432.2 223.9,431.4 224.4,430.1 225.0,428.2 225.5,426.7" fill="none" stroke="#eeaec0" stroke-width="1.3" stroke-linejoin="round"/>
<polyline points="25.5,331.1 26.0,331.2 26.6,331.5 27.1,331.4 27.6,331.5 28.2,331.9 28.7,331.6 29.2,331.7 29.8,331.9 30.3,332.1 30.8,331.8 31.4,332.0 31.9,332.0 32.4,332.0 33.0,332.4 33.5,332.3 34.0,332.5 34.6,332.6 35.1,332.7 35.6,332.8 36.2,332.8 36.7,333.1 37.2,333.2 37.8,333.4 38.3,333.4 38.8,333.7 39.4,333.7 39.9,333.8 40.4,334.3 41.0,334.9 41.5,335.6 42.0,336.0 42.6,336.7 43.1,337.7 43.6,338.8 44.2,339.6 44.7,340.9 45.2,341.6 45.8,341.3 46.3,340.9 46.8,340.5 47.4,340.3 47.9,339.7 48.4,340.4 49.0,340.6 49.5,341.3 50.0,341.4 50.6,342.2 51.1,342.8 51.6,343.3 52.2,343.8 52.7,344.8 53.2,345.3 53.8,344.9 54.3,344.2 54.8,343.8 55.4,343.3 55.9,342.9 56.4,342.4 57.0,342.0 57.5,341.6 58.0,341.3 58.6,341.5 59.1,341.1 59.6,340.9 60.2,340.6 60.7,340.8 61.2,340.8 61.8,341.0 62.3,340.9 62.8,341.2 63.4,341.3 63.9,341.4 64.4,341.6 65.0,341.9 65.5,341.8 66.0,342.1 66.6,342.4 67.1,342.5 67.6,342.8 68.2,343.3 68.7,343.6 69.2,343.5 69.8,343.8 70.3,344.4 70.8,344.7 71.4,345.0 71.9,345.4 72.4,346.0 73.0,346.2 73.5,346.8 74.0,347.2 74.6,347.3 75.1,348.0 75.6,348.4 76.2,349.1 76.7,349.9 77.2,350.9 77.8,351.6 78.3,352.6 78.8,353.0 79.4,353.4 79.9,353.9 80.4,354.1 81.0,354.2 81.5,354.5 82.0,354.3 82.6,354.3 83.1,354.6 83.6,354.5 84.2,354.6 84.7,354.6 85.2,355.6 85.8,356.1 86.3,357.5 86.8,358.7 87.4,359.2 87.9,359.6 88.4,360.3 89.0,360.8 89.5,360.1 90.0,359.5 90.6,359.0 91.1,358.6 91.6,357.8 92.2,357.4 92.7,357.3 93.2,357.3 93.8,357.1 94.3,356.8 94.8,356.9 95.4,356.6 95.9,356.4 96.4,356.5 97.0,356.6 97.5,356.9 98.0,356.7 98.6,356.9 99.1,357.2 99.6,357.6 100.2,357.6 100.7,357.5 101.2,357.5 101.8,357.9 102.3,358.0 102.8,358.5 103.4,358.6 103.9,358.8 104.4,359.0 105.0,359.5 105.5,359.4 106.0,359.6 106.6,360.1 107.1,360.3 107.6,360.9 108.2,362.5 108.7,364.9 109.2,367.1 109.8,370.3 110.3,373.7 110.8,377.0 111.4,380.9 111.9,384.7 112.4,388.2 113.0,391.7 113.5,394.7 114.0,397.2 114.6,399.5 115.1,401.0 115.6,401.5 116.2,401.6 116.7,401.2 117.2,400.8 117.8,400.3 118.3,399.5 118.8,399.1 119.4,398.2 119.9,398.0 120.4,397.3 121.0,397.1 121.5,397.6 122.0,398.0 122.6,398.5 123.1,398.9 123.6,398.4 124.2,398.1 124.7,397.8 125.2,397.0 125.8,395.8 126.3,395.0 126.8,393.8 127.4,394.2 127.9,394.7 128.4,395.2 129.0,395.3 129.5,394.3 130.0,394.1 130.6,393.0 131.1,392.5 131.6,392.0 132.2,391.5 132.7,391.0 133.2,390.7 133.8,390.8 134.3,390.5 134.8,390.1 135.4,389.9 135.9,389.5 136.4,389.6 137.0,389.2 137.5,389.3 138.0,388.7 138.6,389.0 139.1,389.1 139.6,388.7 140.2,388.6 140.7,388.3 141.2,388.5 141.8,388.3 142.3,388.0 142.8,387.6 143.4,387.7 143.9,387.3 144.4,388.1 145.0,389.8 145.5,391.4 146.0,392.6 146.6,392.3 147.1,391.6 147.6,391.6 148.2,390.9 148.7,390.6 149.2,390.4 149.8,390.1 150.3,389.7 150.8,389.4 151.4,389.1 151.9,389.0 152.4,388.7 153.0,388.7 153.5,388.4 154.0,388.6 154.6,388.3 155.1,388.3 155.6,388.4 156.2,388.2 156.7,388.2 157.2,388.7 157.8,388.3 158.3,388.5 158.8,388.1 159.4,388.0 159.9,388.4 160.4,388.3 161.0,388.4 161.5,388.3 162.0,388.3 162.6,388.2 163.1,388.7 163.6,388.5 164.2,389.1 164.7,389.1 165.2,389.2 165.8,389.5 166.3,390.0 166.8,390.2 167.4,390.4 167.9,390.6 168.4,390.8 169.0,391.7 169.5,392.0 170.0,392.6 170.6,393.1 171.1,393.7 171.6,394.2 172.2,395.1 172.7,395.8 173.2,396.6 173.8,397.1 174.3,398.4 174.8,398.7 175.4,400.1 175.9,403.1 176.4,407.4 177.0,411.9 177.5,415.6 178.0,418.3 178.6,418.9 179.1,419.5 179.6,419.4 180.2,419.8 180.7,420.2 181.2,420.5 181.8,420.8 182.3,420.6 182.8,419.7 183.4,418.9 183.9,418.2 184.4,417.6 185.0,416.7 185.5,416.2 186.0,415.5 186.6,414.8 187.1,414.4 187.6,414.1 188.2,414.1 188.7,414.3 189.2,414.6 189.8,414.6 190.3,415.1 190.8,415.3 191.4,415.7 191.9,415.9 192.4,416.4 193.0,417.6 193.5,418.5 194.0,419.5 194.6,420.2 195.1,421.6 195.6,423.0 196.2,424.3 196.7,425.7 197.2,426.7 197.8,427.4 198.3,428.5 198.8,428.8 199.4,429.5 199.9,430.3 200.4,430.4 201.0,430.3 201.5,430.2 202.0,429.7 202.6,430.1 203.1,429.7 203.6,429.7 204.2,430.3 204.7,430.7 205.2,431.1 205.8,431.8 206.3,432.2 206.8,432.7 207.4,433.5 207.9,433.0 208.4,432.6 209.0,432.5 209.5,432.3 210.0,432.3 210.6,431.9 211.1,431.7 211.6,431.4 212.2,431.0 212.7,431.4 213.2,431.6 213.8,432.0 214.3,432.0 214.8,432.3 215.4,432.6 215.9,432.9 216.4,432.9 217.0,433.8 217.5,434.3 218.0,434.7 218.6,435.0 219.1,435.3 219.6,436.0 220.2,436.6 220.7,437.0 221.2,436.5 221.8,436.2 222.3,435.4 222.8,434.8 223.4,434.4 223.9,433.7 224.4,432.6 225.0,430.8 225.5,429.6" fill="none" stroke="#c8b888" stroke-width="1.3" stroke-linejoin="round"/>
<polyline points="25.5,347.2 26.0,347.5 26.6,347.7 27.1,347.7 27.6,347.9 28.2,348.1 28.7,348.3 29.2,348.3 29.8,348.1 30.3,348.2 30.8,348.5 31.4,348.5 31.9,348.9 32.4,348.9 33.0,349.0 33.5,349.3 34.0,349.5 34.6,349.5 35.1,349.7 35.6,349.9 36.2,349.9 36.7,350.1 37.2,350.1 37.8,350.4 38.3,350.6 38.8,350.7 39.4,350.8 39.9,351.1 40.4,351.4 41.0,351.7 41.5,352.3 42.0,352.7 42.6,353.6 43.1,354.1 43.6,354.9 44.2,355.5 44.7,356.4 45.2,356.9 45.8,356.6 46.3,356.5 46.8,356.6 47.4,356.1 47.9,356.0 48.4,356.5 49.0,356.6 49.5,357.2 50.0,357.3 50.6,358.0 51.1,358.5 51.6,358.9 52.2,359.4 52.7,359.8 53.2,360.3 53.8,360.0 54.3,359.9 54.8,360.0 55.4,359.3 55.9,359.3 56.4,358.8 57.0,358.4 57.5,358.5 58.0,358.5 58.6,358.4 59.1,358.4 59.6,358.4 60.2,358.3 60.7,358.4 61.2,358.3 61.8,358.6 62.3,358.6 62.8,358.9 63.4,359.1 63.9,359.3 64.4,359.3 65.0,359.4 65.5,359.7 66.0,360.1 66.6,360.3 67.1,360.2 67.6,360.7 68.2,361.0 68.7,361.0 69.2,361.3 69.8,361.6 70.3,362.0 70.8,361.9 71.4,362.5 71.9,362.8 72.4,363.3 73.0,363.8 73.5,364.1 74.0,364.2 74.6,364.6 75.1,365.0 75.6,365.5 76.2,366.2 76.7,366.6 77.2,367.4 77.8,367.7 78.3,368.2 78.8,368.6 79.4,369.1 79.9,369.6 80.4,369.9 81.0,370.5 81.5,370.3 82.0,370.3 82.6,370.2 83.1,370.3 83.6,370.4 84.2,370.5 84.7,370.6 85.2,371.2 85.8,372.2 86.3,372.8 86.8,373.7 87.4,373.8 87.9,374.2 88.4,374.7 89.0,375.4 89.5,374.9 90.0,374.7 90.6,374.3 91.1,374.1 91.6,373.7 92.2,373.5 92.7,373.4 93.2,373.4 93.8,373.5 94.3,373.5 94.8,373.5 95.4,373.3 95.9,373.5 96.4,373.5 97.0,373.7 97.5,374.0 98.0,373.9 98.6,374.3 99.1,374.2 99.6,374.4 100.2,374.9 100.7,374.9 101.2,375.1 101.8,375.3 102.3,375.6 102.8,375.5 103.4,375.9 103.9,376.0 104.4,376.3 105.0,376.4 105.5,376.8 106.0,376.9 106.6,377.1 107.1,377.3 107.6,377.8 108.2,378.9 108.7,380.0 109.2,381.7 109.8,383.7 110.3,385.9 110.8,387.9 111.4,390.0 111.9,392.7 112.4,394.8 113.0,396.9 113.5,399.2 114.0,400.5 114.6,402.0 115.1,402.6 115.6,403.4 116.2,403.4 116.7,403.0 117.2,402.5 117.8,402.2 118.3,401.6 118.8,401.3 119.4,400.6 119.9,400.0 120.4,399.3 121.0,399.2 121.5,399.6 122.0,399.8 122.6,400.2 123.1,400.1 123.6,399.8 124.2,399.7 124.7,399.3 125.2,398.6 125.8,397.8 126.3,397.0 126.8,396.3 127.4,396.7 127.9,396.7 128.4,397.2 129.0,396.9 129.5,396.4 130.0,396.1 130.6,395.2 131.1,394.6 131.6,394.2 132.2,393.4 132.7,393.2 133.2,393.3 133.8,392.8 134.3,392.6 134.8,392.4 135.4,392.1 135.9,392.1 136.4,391.9 137.0,391.7 137.5,391.5 138.0,391.3 138.6,391.4 139.1,391.3 139.6,391.0 140.2,391.0 140.7,390.9 141.2,391.1 141.8,390.9 142.3,390.7 142.8,390.4 143.4,390.4 143.9,390.0 144.4,390.7 145.0,391.9 145.5,393.1 146.0,393.9 146.6,393.8 147.1,393.3 147.6,393.1 148.2,392.9 148.7,392.6 149.2,392.3 149.8,391.9 150.3,391.7 150.8,391.6 151.4,391.4 151.9,391.3 152.4,391.0 153.0,390.9 153.5,391.1 154.0,390.5 154.6,390.7 155.1,390.8 155.6,390.7 156.2,390.7 156.7,390.3 157.2,390.5 157.8,390.8 158.3,390.5 158.8,390.6 159.4,390.3 159.9,390.7 160.4,390.9 161.0,390.6 161.5,390.7 162.0,390.8 162.6,391.1 163.1,390.8 163.6,390.9 164.2,391.6 164.7,391.3 165.2,391.8 165.8,391.6 166.3,392.1 166.8,392.5 167.4,392.6 167.9,392.9 168.4,393.5 169.0,393.8 169.5,394.5 170.0,395.1 170.6,395.1 171.1,396.0 171.6,396.6 172.2,397.1 172.7,398.0 173.2,398.6 173.8,399.1 174.3,399.8 174.8,400.3 175.4,401.0 175.9,403.4 176.4,406.2 177.0,409.3 177.5,412.4 178.0,414.1 178.6,414.7 179.1,414.7 179.6,415.0 180.2,415.3 180.7,415.7 181.2,415.7 181.8,416.0 182.3,415.6 182.8,415.0 183.4,414.4 183.9,413.4 184.4,412.7 185.0,412.2 185.5,411.4 186.0,411.1 186.6,410.5 187.1,410.0 187.6,409.7 188.2,409.5 188.7,409.6 189.2,409.6 189.8,409.9 190.3,410.5 190.8,410.6 191.4,411.2 191.9,411.6 192.4,412.2 193.0,413.2 193.5,413.9 194.0,415.2 194.6,416.4 195.1,417.3 195.6,418.8 196.2,420.2 196.7,421.9 197.2,422.6 197.8,423.7 198.3,424.4 198.8,425.0 199.4,425.5 199.9,426.4 200.4,426.6 201.0,426.8 201.5,426.8 202.0,426.5 202.6,426.6 203.1,426.8 203.6,426.6 204.2,427.2 204.7,427.8 205.2,428.1 205.8,428.6 206.3,429.3 206.8,429.6 207.4,429.7 207.9,430.1 208.4,429.7 209.0,429.4 209.5,429.2 210.0,429.2 210.6,428.9 211.1,428.6 211.6,428.3 212.2,428.3 212.7,428.6 213.2,428.5 213.8,428.7 214.3,429.1 214.8,429.4 215.4,429.6 215.9,429.9 216.4,430.2 217.0,431.0 217.5,431.2 218.0,431.7 218.6,432.3 219.1,432.6 219.6,433.0 220.2,433.5 220.7,433.7 221.2,433.7 221.8,433.0 222.3,432.4 222.8,431.8 223.4,431.1 223.9,430.8 224.4,429.8 225.0,428.1 225.5,426.6" fill="none" stroke="#f0a090" stroke-width="1.3" stroke-linejoin="round"/>
<polyline points="25.5,332.3 26.0,332.6 26.6,332.9 27.1,332.8 27.6,333.1 28.2,333.3 28.7,332.8 29.2,333.2 29.8,333.3 30.3,333.4 30.8,333.3 31.4,333.6 31.9,333.6 32.4,334.0 33.0,334.2 33.5,333.9 34.0,334.0 34.6,334.3 35.1,334.5 35.6,334.6 36.2,334.9 36.7,334.7 37.2,335.0 37.8,335.1 38.3,335.3 38.8,335.3 39.4,335.5 39.9,335.6 40.4,336.4 41.0,336.9 41.5,337.5 42.0,338.6 42.6,339.3 43.1,340.2 43.6,341.3 44.2,342.5 44.7,344.0 45.2,344.5 45.8,344.4 46.3,344.0 46.8,343.5 47.4,343.2 47.9,342.7 48.4,342.7 49.0,343.6 49.5,344.1 50.0,344.8 50.6,345.4 51.1,346.2 51.6,346.8 52.2,347.5 52.7,348.2 53.2,348.8 53.8,348.4 54.3,347.9 54.8,347.4 55.4,346.6 55.9,346.1 56.4,345.4 57.0,345.0 57.5,345.0 58.0,344.6 58.6,344.7 59.1,343.9 59.6,343.9 60.2,343.9 60.7,344.0 61.2,343.9 61.8,344.4 62.3,344.4 62.8,344.3 63.4,344.6 63.9,344.8 64.4,344.8 65.0,345.2 65.5,345.2 66.0,345.6 66.6,346.0 67.1,346.1 67.6,346.6 68.2,346.5 68.7,347.2 69.2,347.1 69.8,347.9 70.3,347.9 70.8,348.5 71.4,349.0 71.9,349.3 72.4,349.7 73.0,350.4 73.5,350.5 74.0,351.3 74.6,351.6 75.1,352.1 75.6,352.6 76.2,353.9 76.7,354.3 77.2,355.4 77.8,356.4 78.3,357.4 78.8,358.4 79.4,358.7 79.9,358.7 80.4,359.2 81.0,359.6 81.5,359.8 82.0,359.5 82.6,359.7 83.1,359.8 83.6,359.5 84.2,359.6 84.7,359.9 85.2,361.0 85.8,362.2 86.3,363.2 86.8,364.2 87.4,364.9 87.9,365.4 88.4,366.0 89.0,366.6 89.5,366.0 90.0,365.6 90.6,365.1 91.1,364.3 91.6,363.8 92.2,363.1 92.7,362.9 93.2,362.9 93.8,362.8 94.3,362.5 94.8,362.4 95.4,362.3 95.9,362.1 96.4,362.2 97.0,362.5 97.5,362.5 98.0,362.4 98.6,362.9 99.1,362.8 99.6,363.0 100.2,363.1 100.7,363.6 101.2,363.4 101.8,363.9 102.3,364.2 102.8,364.4 103.4,364.6 103.9,364.9 104.4,365.2 105.0,365.3 105.5,365.8 106.0,366.1 106.6,366.1 107.1,366.3 107.6,366.9 108.2,368.6 108.7,370.2 109.2,372.7 109.8,375.3 110.3,378.7 110.8,381.7 111.4,385.1 111.9,388.6 112.4,391.6 113.0,394.4 113.5,397.4 114.0,399.8 114.6,401.5 115.1,402.8 115.6,403.6 116.2,403.8 116.7,403.2 117.2,402.6 117.8,402.3 118.3,401.7 118.8,400.8 119.4,400.1 119.9,399.8 120.4,399.4 121.0,398.9 121.5,399.5 122.0,400.1 122.6,400.6 123.1,400.9 123.6,400.6 124.2,400.1 124.7,399.9 125.2,398.8 125.8,397.9 126.3,396.3 126.8,395.5 127.4,396.3 127.9,396.8 128.4,397.2 129.0,397.5 129.5,396.8 130.0,396.1 130.6,395.2 131.1,394.8 131.6,394.2 132.2,393.6 132.7,393.4 133.2,393.0 133.8,392.8 134.3,392.4 134.8,392.4 135.4,391.9 135.9,391.8 136.4,391.7 137.0,391.7 137.5,391.4 138.0,391.0 138.6,390.9 139.1,390.9 139.6,390.8 140.2,390.8 140.7,390.7 141.2,390.7 141.8,390.3 142.3,390.1 142.8,390.0 143.4,389.7 143.9,389.3 144.4,390.2 145.0,392.1 145.5,393.5 146.0,395.0 146.6,394.6 147.1,394.0 147.6,393.6 148.2,393.4 148.7,392.9 149.2,392.7 149.8,392.3 150.3,392.2 150.8,391.5 151.4,391.7 151.9,391.1 152.4,391.1 153.0,390.9 153.5,390.6 154.0,390.5 154.6,390.4 155.1,390.3 155.6,390.5 156.2,390.4 156.7,390.6 157.2,390.4 157.8,390.5 158.3,390.6 158.8,390.5 159.4,390.5 159.9,390.5 160.4,390.5 161.0,390.6 161.5,390.6 162.0,390.4 162.6,390.8 163.1,390.7 163.6,390.7 164.2,391.5 164.7,391.4 165.2,391.4 165.8,392.0 166.3,391.6 166.8,392.5 167.4,392.2 167.9,392.4 168.4,392.9 169.0,393.6 169.5,394.1 170.0,394.8 170.6,395.1 171.1,396.0 171.6,396.5 172.2,397.0 172.7,398.1 173.2,398.8 173.8,399.4 174.3,400.4 174.8,400.8 175.4,402.4 175.9,406.3 176.4,411.0 177.0,416.4 177.5,421.1 178.0,424.2 178.6,425.2 179.1,425.2 179.6,425.8 180.2,425.8 180.7,426.2 181.2,426.4 181.8,426.9 182.3,426.6 182.8,426.0 183.4,425.1 183.9,424.3 184.4,423.4 185.0,422.9 185.5,422.6 186.0,422.1 186.6,421.6 187.1,421.2 187.6,420.5 188.2,420.4 188.7,420.9 189.2,421.1 189.8,421.1 190.3,421.5 190.8,421.8 191.4,421.9 191.9,422.4 192.4,423.0 193.0,423.8 193.5,424.8 194.0,425.2 194.6,426.4 195.1,427.3 195.6,428.5 196.2,429.5 196.7,430.8 197.2,432.0 197.8,433.1 198.3,433.4 198.8,434.1 199.4,434.3 199.9,434.8 200.4,435.0 201.0,434.6 201.5,434.7 202.0,434.5 202.6,434.4 203.1,434.3 203.6,434.1 204.2,434.6 204.7,435.4 205.2,435.5 205.8,436.1 206.3,436.5 206.8,437.0 207.4,437.7 207.9,437.6 208.4,436.9 209.0,436.9 209.5,436.9 210.0,436.4 210.6,436.2 211.1,436.2 211.6,436.0 212.2,435.6 212.7,435.6 213.2,435.8 213.8,436.1 214.3,436.2 214.8,436.4 215.4,437.0 215.9,436.9 216.4,437.3 217.0,437.9 217.5,438.2 218.0,438.6 218.6,439.1 219.1,439.7 219.6,440.0 220.2,440.1 220.7,440.9 221.2,440.7 221.8,440.0 222.3,439.4 222.8,438.9 223.4,438.6 223.9,437.8 224.4,437.0 225.0,435.5 225.5,433.9" fill="none" stroke="#b05040" stroke-width="1.3" stroke-linejoin="round"/>
<polyline points="25.5,329.3 26.0,329.1 26.6,329.1 27.1,329.2 27.6,329.0 28.2,329.1 28.7,329.0 29.2,329.3 29.8,329.3 30.3,329.0 30.8,329.3 31.4,329.1 31.9,329.1 32.4,329.1 33.0,329.1 33.5,328.8 34.0,329.4 34.6,328.9 35.1,328.8 35.6,329.1 36.2,329.1 36.7,329.0 37.2,328.9 37.8,329.4 38.3,329.2 38.8,329.3 39.4,329.2 39.9,329.3 40.4,329.5 41.0,330.2 41.5,330.8 42.0,331.5 42.6,332.1 43.1,332.8 43.6,333.8 44.2,334.9 44.7,335.4 45.2,336.3 45.8,336.0 46.3,335.3 46.8,335.1 47.4,334.5 47.9,334.2 48.4,334.3 49.0,334.7 49.5,335.1 50.0,335.4 50.6,335.6 51.1,336.7 51.6,336.9 52.2,337.4 52.7,338.1 53.2,338.7 53.8,337.6 54.3,337.4 54.8,336.4 55.4,336.1 55.9,335.5 56.4,334.9 57.0,334.4 57.5,334.0 58.0,333.8 58.6,333.5 59.1,333.2 59.6,332.7 60.2,332.5 60.7,332.6 61.2,332.6 61.8,332.5 62.3,332.7 62.8,332.7 63.4,332.8 63.9,332.8 64.4,332.7 65.0,332.7 65.5,332.9 66.0,332.7 66.6,333.2 67.1,332.9 67.6,333.4 68.2,333.7 68.7,334.0 69.2,334.5 69.8,334.3 70.3,334.4 70.8,334.3 71.4,335.1 71.9,335.0 72.4,335.6 73.0,335.8 73.5,336.6 74.0,336.6 74.6,337.0 75.1,337.1 75.6,337.6 76.2,338.5 76.7,339.0 77.2,339.7 77.8,340.5 78.3,341.2 78.8,341.9 79.4,342.2 79.9,342.6 80.4,342.7 81.0,342.5 81.5,342.8 82.0,342.8 82.6,342.7 83.1,342.5 83.6,342.4 84.2,342.3 84.7,342.5 85.2,342.9 85.8,344.1 86.3,345.0 86.8,346.0 87.4,346.6 87.9,346.8 88.4,347.2 89.0,347.7 89.5,347.0 90.0,346.4 90.6,345.9 91.1,344.9 91.6,344.4 92.2,343.4 92.7,343.7 93.2,343.3 93.8,343.0 94.3,342.9 94.8,342.9 95.4,342.6 95.9,342.2 96.4,342.1 97.0,342.2 97.5,342.1 98.0,342.1 98.6,342.3 99.1,342.4 99.6,342.5 100.2,342.4 100.7,342.4 101.2,342.6 101.8,342.6 102.3,342.8 102.8,343.1 103.4,343.2 103.9,343.1 104.4,343.3 105.0,343.2 105.5,343.6 106.0,343.6 106.6,343.7 107.1,343.8 107.6,345.0 108.2,346.8 108.7,349.2 109.2,352.6 109.8,356.0 110.3,359.9 110.8,364.3 111.4,368.4 111.9,373.0 112.4,377.3 113.0,381.3 113.5,385.0 114.0,388.0 114.6,390.6 115.1,392.1 115.6,393.3 116.2,393.3 116.7,392.9 117.2,392.5 117.8,391.7 118.3,391.1 118.8,390.2 119.4,389.6 119.9,388.7 120.4,388.1 121.0,387.7 121.5,388.5 122.0,389.1 122.6,389.7 123.1,389.8 123.6,389.6 124.2,389.0 124.7,388.3 125.2,387.7 125.8,386.6 126.3,385.5 126.8,384.5 127.4,384.6 127.9,385.2 128.4,385.6 129.0,385.6 129.5,384.8 130.0,384.5 130.6,383.5 131.1,382.9 131.6,382.2 132.2,381.4 132.7,381.2 133.2,380.7 133.8,380.6 134.3,380.4 134.8,380.0 135.4,379.8 135.9,379.6 136.4,379.4 137.0,378.9 137.5,378.9 138.0,378.8 138.6,378.8 139.1,378.6 139.6,378.6 140.2,378.4 140.7,378.3 141.2,378.5 141.8,378.0 142.3,377.7 142.8,377.5 143.4,377.4 143.9,376.8 144.4,377.9 145.0,379.9 145.5,381.7 146.0,382.9 146.6,382.3 147.1,381.8 147.6,381.5 148.2,381.3 148.7,380.8 149.2,380.5 149.8,379.9 150.3,379.8 150.8,379.3 151.4,379.0 151.9,378.9 152.4,378.5 153.0,378.5 153.5,378.3 154.0,378.2 154.6,377.9 155.1,377.9 155.6,378.1 156.2,377.9 156.7,378.1 157.2,377.8 157.8,377.9 158.3,378.1 158.8,377.9 159.4,378.1 159.9,378.2 160.4,378.2 161.0,378.0 161.5,378.1 162.0,378.1 162.6,378.2 163.1,378.1 163.6,378.6 164.2,378.8 164.7,378.8 165.2,379.1 165.8,379.5 166.3,380.0 166.8,380.1 167.4,380.3 167.9,380.6 168.4,380.9 169.0,381.9 169.5,382.3 170.0,383.1 170.6,383.4 171.1,384.3 171.6,384.8 172.2,385.9 172.7,386.9 173.2,387.7 173.8,388.4 174.3,389.3 174.8,389.9 175.4,391.1 175.9,394.5 176.4,399.1 177.0,403.8 177.5,408.1 178.0,410.6 178.6,411.5 179.1,411.9 179.6,412.3 180.2,412.9 180.7,413.1 181.2,413.4 181.8,413.5 182.3,413.3 182.8,412.5 183.4,411.6 183.9,410.4 184.4,409.8 185.0,409.0 185.5,408.3 186.0,407.7 186.6,407.0 187.1,406.3 187.6,405.5 188.2,405.9 188.7,405.9 189.2,406.2 189.8,406.6 190.3,406.9 190.8,407.3 191.4,407.5 191.9,408.1 192.4,408.8 193.0,409.9 193.5,410.9 194.0,412.1 194.6,413.0 195.1,414.5 195.6,416.1 196.2,417.7 196.7,419.4 197.2,420.9 197.8,422.1 198.3,422.6 198.8,423.4 199.4,424.1 199.9,424.6 200.4,424.9 201.0,425.0 201.5,424.4 202.0,424.5 202.6,424.4 203.1,424.0 203.6,424.2 204.2,424.9 204.7,425.1 205.2,426.2 205.8,426.6 206.3,427.1 206.8,427.9 207.4,428.3 207.9,428.2 208.4,427.6 209.0,427.8 209.5,427.3 210.0,426.9 210.6,426.7 211.1,426.6 211.6,426.0 212.2,425.8 212.7,426.0 213.2,426.2 213.8,426.5 214.3,426.8 214.8,427.1 215.4,427.6 215.9,427.8 216.4,428.2 217.0,428.8 217.5,429.4 218.0,430.1 218.6,430.3 219.1,430.8 219.6,431.7 220.2,432.1 220.7,432.7 221.2,432.1 221.8,431.6 222.3,431.0 222.8,430.4 223.4,429.7 223.9,429.1 224.4,427.6 225.0,425.8 225.5,423.7" fill="none" stroke="#90e090" stroke-width="1.3" stroke-linejoin="round"/>
<polyline points="25.5,338.7 26.0,338.7 26.6,339.0 27.1,339.1 27.6,339.5 28.2,339.4 28.7,339.7 29.2,339.8 29.8,340.0 30.3,340.1 30.8,340.6 31.4,340.5 31.9,340.9 32.4,340.7 33.0,341.3 33.5,341.3 34.0,341.6 34.6,341.3 35.1,341.9 35.6,341.9 36.2,342.2 36.7,342.6 37.2,342.6 37.8,342.6 38.3,342.9 38.8,343.0 39.4,343.3 39.9,343.5 40.4,343.9 41.0,344.4 41.5,344.8 42.0,345.6 42.6,346.2 43.1,347.1 43.6,347.9 44.2,348.5 44.7,349.7 45.2,350.3 45.8,350.0 46.3,350.0 46.8,349.5 47.4,350.0 47.9,349.5 48.4,349.7 49.0,350.4 49.5,350.8 50.0,351.1 50.6,351.4 51.1,352.3 51.6,352.9 52.2,353.1 52.7,353.6 53.2,354.4 53.8,354.4 54.3,353.6 54.8,353.6 55.4,353.2 55.9,353.2 56.4,353.0 57.0,352.8 57.5,352.5 58.0,352.5 58.6,352.9 59.1,352.7 59.6,352.3 60.2,352.6 60.7,352.8 61.2,352.8 61.8,353.0 62.3,353.2 62.8,353.5 63.4,353.7 63.9,353.9 64.4,354.0 65.0,354.4 65.5,354.5 66.0,354.8 66.6,354.9 67.1,355.3 67.6,355.7 68.2,355.9 68.7,356.2 69.2,356.4 69.8,356.8 70.3,356.9 70.8,357.3 71.4,357.9 71.9,358.3 72.4,358.5 73.0,359.0 73.5,359.5 74.0,360.1 74.6,360.5 75.1,360.6 75.6,361.0 76.2,361.7 76.7,362.7 77.2,363.1 77.8,364.0 78.3,364.5 78.8,365.2 79.4,365.7 79.9,365.9 80.4,366.4 81.0,366.6 81.5,367.0 82.0,366.8 82.6,366.9 83.1,366.9 83.6,367.0 84.2,367.3 84.7,367.4 85.2,368.3 85.8,368.9 86.3,369.7 86.8,370.7 87.4,371.2 87.9,371.6 88.4,372.1 89.0,372.4 89.5,372.0 90.0,372.0 90.6,371.8 91.1,371.7 91.6,371.2 92.2,370.9 92.7,371.2 93.2,370.9 93.8,370.9 94.3,371.1 94.8,371.0 95.4,371.1 95.9,370.9 96.4,371.4 97.0,371.4 97.5,371.3 98.0,371.8 98.6,371.9 99.1,372.2 99.6,372.6 100.2,372.6 100.7,372.8 101.2,373.2 101.8,373.2 102.3,373.4 102.8,373.7 103.4,374.3 103.9,374.5 104.4,374.8 105.0,374.7 105.5,375.1 106.0,375.3 106.6,375.8 107.1,376.0 107.6,376.5 108.2,377.6 108.7,379.4 109.2,381.3 109.8,383.6 110.3,386.3 110.8,389.2 111.4,392.2 111.9,394.7 112.4,397.4 113.0,400.1 113.5,402.5 114.0,404.5 114.6,406.0 115.1,407.3 115.6,407.9 116.2,408.0 116.7,407.6 117.2,407.2 117.8,406.9 118.3,406.5 118.8,405.9 119.4,405.2 119.9,404.9 120.4,404.2 121.0,404.2 121.5,404.5 122.0,405.0 122.6,405.2 123.1,404.9 123.6,404.8 124.2,404.4 124.7,404.1 125.2,403.6 125.8,402.9 126.3,402.1 126.8,401.2 127.4,401.5 127.9,401.7 128.4,401.9 129.0,402.1 129.5,401.5 130.0,401.1 130.6,400.3 131.1,400.3 131.6,399.5 132.2,398.7 132.7,398.8 133.2,398.7 133.8,398.3 134.3,397.9 134.8,397.9 135.4,397.6 135.9,397.5 136.4,397.3 137.0,396.7 137.5,396.9 138.0,396.9 138.6,396.8 139.1,396.6 139.6,396.5 140.2,396.4 140.7,396.4 141.2,396.6 141.8,396.2 142.3,396.2 142.8,396.1 143.4,396.1 143.9,395.8 144.4,396.4 145.0,397.4 145.5,398.7 146.0,399.3 146.6,399.0 147.1,398.9 147.6,398.6 148.2,398.4 148.7,397.9 149.2,398.1 149.8,397.6 150.3,397.5 150.8,397.2 151.4,396.9 151.9,396.9 152.4,396.6 153.0,396.6 153.5,396.0 154.0,396.1 154.6,396.1 155.1,396.4 155.6,396.3 156.2,396.0 156.7,396.2 157.2,396.2 157.8,396.1 158.3,396.3 158.8,396.0 159.4,396.1 159.9,396.1 160.4,396.3 161.0,396.1 161.5,396.3 162.0,396.1 162.6,396.2 163.1,396.3 163.6,396.5 164.2,396.7 164.7,397.4 165.2,397.1 165.8,397.5 166.3,397.6 166.8,397.9 167.4,398.3 167.9,398.4 168.4,398.6 169.0,399.0 169.5,399.7 170.0,400.2 170.6,400.4 171.1,401.2 171.6,401.3 172.2,402.2 172.7,402.9 173.2,403.2 173.8,403.7 174.3,404.7 174.8,404.9 175.4,406.3 175.9,409.1 176.4,413.5 177.0,418.1 177.5,421.7 178.0,424.3 178.6,424.9 179.1,425.1 179.6,425.5 180.2,425.8 180.7,426.0 181.2,426.1 181.8,426.3 182.3,426.0 182.8,425.8 183.4,424.9 183.9,424.3 184.4,423.4 185.0,423.1 185.5,422.9 186.0,422.3 186.6,422.1 187.1,421.7 187.6,421.5 188.2,420.9 188.7,421.2 189.2,421.6 189.8,421.7 190.3,421.8 190.8,422.1 191.4,422.5 191.9,423.0 192.4,423.5 193.0,424.1 193.5,424.8 194.0,425.8 194.6,426.6 195.1,427.2 195.6,428.5 196.2,429.3 196.7,430.5 197.2,431.4 197.8,432.1 198.3,432.7 198.8,433.2 199.4,434.0 199.9,434.4 200.4,434.5 201.0,434.4 201.5,434.4 202.0,434.2 202.6,434.5 203.1,434.5 203.6,434.4 204.2,434.9 204.7,435.3 205.2,435.8 205.8,435.9 206.3,436.5 206.8,436.7 207.4,437.3 207.9,436.9 208.4,437.0 209.0,436.6 209.5,436.8 210.0,436.5 210.6,436.1 211.1,436.2 211.6,435.9 212.2,435.8 212.7,436.2 213.2,436.0 213.8,436.2 214.3,436.6 214.8,436.6 215.4,437.0 215.9,437.2 216.4,437.4 217.0,437.8 217.5,437.8 218.0,438.7 218.6,438.7 219.1,439.0 219.6,439.8 220.2,440.0 220.7,440.0 221.2,439.9 221.8,439.4 222.3,438.9 222.8,438.6 223.4,438.3 223.9,438.0 224.4,436.8 225.0,435.8 225.5,434.5" fill="none" stroke="#1f5a6e" stroke-width="1.3" stroke-linejoin="round"/>
<polyline points="25.5,349.8 26.0,350.2 26.6,349.9 27.1,350.2 27.6,350.3 28.2,350.8 28.7,350.8 29.2,351.0 29.8,351.2 30.3,351.4 30.8,351.4 31.4,351.5 31.9,351.7 32.4,352.0 33.0,351.9 33.5,352.2 34.0,352.8 34.6,352.7 35.1,352.8 35.6,352.8 36.2,353.2 36.7,353.3 37.2,353.6 37.8,353.6 38.3,353.9 38.8,354.1 39.4,354.3 39.9,354.3 40.4,354.8 41.0,355.5 41.5,355.8 42.0,356.5 42.6,356.9 43.1,357.6 43.6,358.2 44.2,359.0 44.7,360.0 45.2,360.5 45.8,360.6 46.3,360.1 46.8,360.1 47.4,359.9 47.9,360.1 48.4,360.6 49.0,360.5 49.5,361.1 50.0,361.5 50.6,361.9 51.1,362.3 51.6,362.9 52.2,363.6 52.7,363.8 53.2,364.5 53.8,364.3 54.3,363.8 54.8,363.7 55.4,363.6 55.9,363.7 56.4,363.2 57.0,363.0 57.5,363.0 58.0,363.2 58.6,363.1 59.1,363.1 59.6,362.9 60.2,362.8 60.7,362.8 61.2,363.3 61.8,363.3 62.3,363.5 62.8,363.8 63.4,364.0 63.9,363.8 64.4,364.3 65.0,364.4 65.5,364.8 66.0,365.0 66.6,365.5 67.1,365.6 67.6,365.7 68.2,365.8 68.7,366.2 69.2,366.6 69.8,366.9 70.3,367.3 70.8,367.5 71.4,367.8 71.9,368.4 72.4,368.5 73.0,369.1 73.5,369.6 74.0,369.9 74.6,370.4 75.1,370.7 75.6,370.8 76.2,371.6 76.7,372.2 77.2,372.7 77.8,373.3 78.3,374.2 78.8,374.5 79.4,375.0 79.9,375.3 80.4,375.5 81.0,376.0 81.5,376.2 82.0,376.2 82.6,376.2 83.1,376.4 83.6,376.5 84.2,376.4 84.7,376.6 85.2,377.4 85.8,378.0 86.3,379.0 86.8,379.7 87.4,380.2 87.9,380.7 88.4,381.2 89.0,381.3 89.5,381.3 90.0,381.2 90.6,380.7 91.1,380.3 91.6,380.3 92.2,379.9 92.7,380.1 93.2,380.1 93.8,380.2 94.3,380.2 94.8,379.9 95.4,380.4 95.9,380.0 96.4,380.5 97.0,380.6 97.5,380.6 98.0,380.8 98.6,381.1 99.1,381.6 99.6,381.5 100.2,381.9 100.7,381.6 101.2,382.2 101.8,382.3 102.3,382.8 102.8,382.9 103.4,383.3 103.9,383.2 104.4,383.6 105.0,383.8 105.5,384.2 106.0,384.4 106.6,384.4 107.1,384.9 107.6,385.6 108.2,386.3 108.7,388.0 109.2,389.7 109.8,391.6 110.3,394.2 110.8,396.4 111.4,399.2 111.9,401.4 112.4,403.9 113.0,406.4 113.5,408.5 114.0,410.4 114.6,411.7 115.1,412.7 115.6,413.6 116.2,413.2 116.7,413.2 117.2,412.9 117.8,412.6 118.3,411.7 118.8,411.5 119.4,411.1 119.9,410.8 120.4,410.1 121.0,410.3 121.5,410.3 122.0,410.3 122.6,410.9 123.1,410.9 123.6,410.5 124.2,410.4 124.7,410.0 125.2,409.3 125.8,408.8 126.3,408.1 126.8,407.5 127.4,407.6 127.9,407.8 128.4,407.8 129.0,407.9 129.5,407.6 130.0,407.5 130.6,406.6 131.1,406.1 131.6,405.9 132.2,405.6 132.7,405.3 133.2,404.8 133.8,404.9 134.3,404.6 134.8,404.4 135.4,404.0 135.9,404.0 136.4,403.9 137.0,403.8 137.5,403.3 138.0,403.3 138.6,403.4 139.1,403.5 139.6,403.3 140.2,403.1 140.7,403.2 141.2,402.9 141.8,402.9 142.3,402.8 142.8,402.6 143.4,402.5 143.9,402.6 144.4,403.0 145.0,403.6 145.5,405.1 146.0,405.7 146.6,405.3 147.1,405.2 147.6,405.1 148.2,404.9 148.7,404.4 149.2,404.1 149.8,403.9 150.3,403.8 150.8,403.6 151.4,403.7 151.9,403.4 152.4,403.4 153.0,403.1 153.5,402.9 154.0,402.8 154.6,403.0 155.1,402.7 155.6,402.9 156.2,403.0 156.7,402.8 157.2,403.0 157.8,402.8 158.3,402.8 158.8,402.8 159.4,402.7 159.9,402.9 160.4,402.8 161.0,403.1 161.5,402.9 162.0,403.0 162.6,403.0 163.1,403.1 163.6,403.2 164.2,403.6 164.7,403.8 165.2,403.8 165.8,403.9 166.3,404.1 166.8,404.2 167.4,404.4 167.9,404.7 168.4,405.1 169.0,405.7 169.5,406.1 170.0,406.4 170.6,406.8 171.1,407.2 171.6,407.7 172.2,408.3 172.7,408.7 173.2,409.3 173.8,409.8 174.3,410.3 174.8,410.9 175.4,412.0 175.9,414.3 176.4,417.8 177.0,421.6 177.5,424.9 178.0,426.7 178.6,427.7 179.1,427.8 179.6,427.9 180.2,428.3 180.7,428.3 181.2,428.2 181.8,428.4 182.3,428.3 182.8,427.8 183.4,427.3 183.9,426.7 184.4,426.3 185.0,425.9 185.5,425.4 186.0,424.9 186.6,424.6 187.1,424.2 187.6,424.2 188.2,423.7 188.7,423.7 189.2,424.0 189.8,424.4 190.3,424.7 190.8,424.8 191.4,425.3 191.9,425.4 192.4,426.0 193.0,426.5 193.5,427.2 194.0,428.4 194.6,428.8 195.1,429.8 195.6,430.8 196.2,431.7 196.7,432.6 197.2,433.4 197.8,434.5 198.3,434.6 198.8,435.0 199.4,435.6 199.9,436.1 200.4,436.4 201.0,436.6 201.5,436.3 202.0,436.3 202.6,436.3 203.1,436.0 203.6,436.3 204.2,436.7 204.7,436.9 205.2,437.6 205.8,437.9 206.3,438.1 206.8,438.5 207.4,438.6 207.9,438.7 208.4,438.3 209.0,438.2 209.5,438.2 210.0,438.2 210.6,437.9 211.1,437.7 211.6,437.8 212.2,437.4 212.7,437.5 213.2,437.8 213.8,437.7 214.3,438.0 214.8,438.4 215.4,438.5 215.9,438.8 216.4,438.9 217.0,439.5 217.5,439.6 218.0,440.0 218.6,440.2 219.1,440.7 219.6,441.2 220.2,441.0 220.7,441.5 221.2,441.1 221.8,440.9 222.3,440.4 222.8,439.9 223.4,439.7 223.9,439.1 224.4,438.7 225.0,437.3 225.5,436.4" fill="none" stroke="#c020a0" stroke-width="1.3" stroke-linejoin="round"/>
<polyline points="25.5,355.7 26.0,355.8 26.6,355.9 27.1,355.8 27.6,356.5 28.2,356.3 28.7,356.5 29.2,356.4 29.8,356.8 30.3,356.8 30.8,357.0 31.4,357.0 31.9,357.1 32.4,357.4 33.0,357.5 33.5,357.8 34.0,357.7 34.6,357.8 35.1,358.1 35.6,358.1 36.2,358.7 36.7,358.8 37.2,358.9 37.8,358.9 38.3,359.0 38.8,359.1 39.4,359.3 39.9,359.3 40.4,359.8 41.0,360.4 41.5,360.9 42.0,361.0 42.6,362.1 43.1,362.4 43.6,362.9 44.2,363.7 44.7,364.6 45.2,365.0 45.8,364.8 46.3,364.6 46.8,364.8 47.4,364.4 47.9,364.4 48.4,364.5 49.0,364.8 49.5,365.4 50.0,365.9 50.6,366.1 51.1,366.4 51.6,367.0 52.2,367.5 52.7,367.6 53.2,368.6 53.8,368.1 54.3,368.1 54.8,367.8 55.4,367.5 55.9,367.1 56.4,367.3 57.0,367.0 57.5,367.1 58.0,366.8 58.6,366.9 59.1,366.7 59.6,366.9 60.2,366.7 60.7,366.6 61.2,366.9 61.8,367.0 62.3,367.2 62.8,367.4 63.4,367.8 63.9,367.6 64.4,367.9 65.0,367.9 65.5,368.5 66.0,368.7 66.6,369.0 67.1,369.1 67.6,369.0 68.2,369.4 68.7,369.7 69.2,369.9 69.8,370.1 70.3,370.4 70.8,370.6 71.4,371.0 71.9,371.6 72.4,371.7 73.0,371.8 73.5,372.4 74.0,372.7 74.6,373.1 75.1,373.4 75.6,373.6 76.2,374.3 76.7,375.0 77.2,375.9 77.8,376.1 78.3,376.9 78.8,377.4 79.4,377.3 79.9,377.6 80.4,378.2 81.0,378.0 81.5,378.3 82.0,378.6 82.6,378.4 83.1,378.8 83.6,378.8 84.2,378.9 84.7,379.1 85.2,379.4 85.8,380.4 86.3,381.0 86.8,381.7 87.4,382.0 87.9,382.5 88.4,382.7 89.0,383.3 89.5,383.1 90.0,382.8 90.6,382.4 91.1,382.3 91.6,381.9 92.2,381.4 92.7,381.8 93.2,381.7 93.8,381.5 94.3,381.8 94.8,381.8 95.4,381.9 95.9,381.7 96.4,381.7 97.0,382.0 97.5,382.1 98.0,382.1 98.6,382.3 99.1,382.8 99.6,382.8 100.2,383.0 100.7,383.0 101.2,383.3 101.8,383.6 102.3,383.8 102.8,384.2 103.4,384.2 103.9,384.4 104.4,384.5 105.0,384.9 105.5,385.1 106.0,385.4 106.6,385.6 107.1,385.5 107.6,386.1 108.2,386.7 108.7,388.1 109.2,389.3 109.8,391.1 110.3,392.7 110.8,394.6 111.4,396.3 111.9,398.3 112.4,400.2 113.0,401.8 113.5,403.5 114.0,404.8 114.6,405.9 115.1,406.8 115.6,407.3 116.2,407.1 116.7,406.9 117.2,406.4 117.8,405.9 118.3,405.5 118.8,405.2 119.4,404.8 119.9,404.2 120.4,403.7 121.0,403.3 121.5,403.8 122.0,404.1 122.6,404.3 123.1,404.5 123.6,404.1 124.2,403.6 124.7,403.3 125.2,402.7 125.8,402.0 126.3,401.5 126.8,400.5 127.4,400.8 127.9,401.0 128.4,401.3 129.0,401.2 129.5,400.7 130.0,400.2 130.6,399.5 131.1,399.1 131.6,398.9 132.2,398.3 132.7,398.2 133.2,397.8 133.8,397.4 134.3,397.2 134.8,397.2 135.4,396.8 135.9,396.8 136.4,396.7 137.0,396.5 137.5,396.2 138.0,395.8 138.6,396.1 139.1,395.7 139.6,395.6 140.2,395.7 140.7,395.6 141.2,395.7 141.8,395.5 142.3,395.2 142.8,395.2 143.4,394.9 143.9,394.8 144.4,395.4 145.0,396.5 145.5,397.7 146.0,398.4 146.6,398.4 147.1,397.9 147.6,397.7 148.2,397.6 148.7,396.9 149.2,397.1 149.8,396.8 150.3,396.4 150.8,396.6 151.4,396.3 151.9,396.2 152.4,396.0 153.0,395.7 153.5,395.4 154.0,395.3 154.6,395.3 155.1,395.2 155.6,395.3 156.2,395.4 156.7,395.2 157.2,395.4 157.8,395.4 158.3,395.1 158.8,395.2 159.4,395.3 159.9,395.2 160.4,395.2 161.0,395.6 161.5,395.4 162.0,395.6 162.6,395.5 163.1,395.7 163.6,395.6 164.2,395.9 164.7,396.3 165.2,396.4 165.8,396.8 166.3,396.8 166.8,397.0 167.4,397.3 167.9,397.8 168.4,398.0 169.0,398.3 169.5,398.8 170.0,399.2 170.6,400.0 171.1,400.2 171.6,400.9 172.2,401.4 172.7,402.0 173.2,402.5 173.8,403.3 174.3,403.8 174.8,404.6 175.4,405.8 175.9,408.7 176.4,413.1 177.0,417.8 177.5,421.8 178.0,424.4 178.6,425.0 179.1,425.2 179.6,425.4 180.2,426.0 180.7,425.9 181.2,426.0 181.8,426.1 182.3,425.9 182.8,425.5 183.4,424.6 183.9,424.1 184.4,423.8 185.0,423.4 185.5,422.5 186.0,422.5 186.6,421.8 187.1,421.3 187.6,421.4 188.2,421.1 188.7,421.3 189.2,421.4 189.8,421.7 190.3,421.7 190.8,422.1 191.4,422.5 191.9,422.7 192.4,423.4 193.0,424.2 193.5,424.6 194.0,425.8 194.6,426.5 195.1,427.4 195.6,428.6 196.2,429.8 196.7,430.4 197.2,431.6 197.8,432.4 198.3,432.9 198.8,433.5 199.4,434.0 199.9,434.3 200.4,434.2 201.0,434.5 201.5,434.5 202.0,434.8 202.6,434.5 203.1,434.7 203.6,434.5 204.2,435.0 204.7,435.3 205.2,435.7 205.8,436.1 206.3,436.6 206.8,436.7 207.4,437.3 207.9,437.2 208.4,436.9 209.0,436.8 209.5,436.5 210.0,436.3 210.6,436.2 211.1,436.0 211.6,435.9 212.2,435.6 212.7,436.2 213.2,436.0 213.8,436.4 214.3,436.6 214.8,436.6 215.4,436.9 215.9,437.0 216.4,437.2 217.0,438.1 217.5,438.1 218.0,438.2 218.6,438.7 219.1,439.0 219.6,439.5 220.2,440.0 220.7,440.2 221.2,439.7 221.8,439.3 222.3,439.1 222.8,438.6 223.4,438.1 223.9,437.9 224.4,436.9 225.0,435.5 225.5,434.2" fill="none" stroke="#a08878" stroke-width="1.3" stroke-linejoin="round"/>
<polyline points="25.5,370.7 26.0,370.6 26.6,371.0 27.1,371.2 27.6,371.5 28.2,371.1 28.7,371.4 29.2,371.1 29.8,371.5 30.3,371.7 30.8,372.0 31.4,371.7 31.9,372.1 32.4,372.1 33.0,372.5 33.5,372.2 34.0,372.3 34.6,372.7 35.1,372.7 35.6,372.8 36.2,372.8 36.7,373.1 37.2,373.0 37.8,373.4 38.3,373.5 38.8,373.6 39.4,374.1 39.9,373.9 40.4,373.9 41.0,374.4 41.5,374.9 42.0,375.2 42.6,375.9 43.1,376.1 43.6,376.5 44.2,377.0 44.7,377.7 45.2,377.9 45.8,377.7 46.3,377.9 46.8,377.7 47.4,377.9 47.9,377.9 48.4,377.8 49.0,378.1 49.5,378.4 50.0,378.7 50.6,379.0 51.1,379.2 51.6,379.4 52.2,380.0 52.7,380.6 53.2,380.5 53.8,380.4 54.3,380.3 54.8,380.2 55.4,379.8 55.9,380.0 56.4,379.8 57.0,380.0 57.5,379.8 58.0,379.8 58.6,379.7 59.1,379.6 59.6,379.8 60.2,379.4 60.7,379.8 61.2,379.9 61.8,379.9 62.3,380.3 62.8,380.1 63.4,380.3 63.9,380.5 64.4,380.4 65.0,380.7 65.5,380.8 66.0,381.2 66.6,381.5 67.1,381.5 67.6,381.7 68.2,381.9 68.7,381.9 69.2,382.6 69.8,382.6 70.3,382.9 70.8,382.6 71.4,383.1 71.9,383.4 72.4,383.7 73.0,383.7 73.5,384.1 74.0,384.3 74.6,384.9 75.1,384.7 75.6,385.1 76.2,385.5 76.7,385.8 77.2,386.4 77.8,386.9 78.3,387.2 78.8,387.6 79.4,387.9 79.9,388.1 80.4,388.3 81.0,388.4 81.5,388.5 82.0,388.7 82.6,388.5 83.1,389.0 83.6,388.9 84.2,388.7 84.7,389.2 85.2,389.8 85.8,389.9 86.3,390.5 86.8,391.2 87.4,391.3 87.9,391.9 88.4,392.2 89.0,392.3 89.5,392.2 90.0,392.1 90.6,391.9 91.1,391.8 91.6,391.5 92.2,391.3 92.7,391.2 93.2,391.4 93.8,391.6 94.3,391.6 94.8,391.5 95.4,391.2 95.9,391.3 96.4,391.6 97.0,391.5 97.5,392.0 98.0,391.8 98.6,392.1 99.1,392.1 99.6,392.3 100.2,392.5 100.7,392.6 101.2,392.9 101.8,392.9 102.3,392.9 102.8,392.7 103.4,393.3 103.9,393.6 104.4,393.9 105.0,393.8 105.5,394.3 106.0,394.4 106.6,394.4 107.1,394.7 107.6,394.8 108.2,395.8 108.7,397.2 109.2,398.7 109.8,400.6 110.3,402.6 110.8,404.4 111.4,406.5 111.9,408.6 112.4,410.7 113.0,412.7 113.5,414.4 114.0,416.2 114.6,417.2 115.1,417.9 115.6,418.4 116.2,418.6 116.7,418.3 117.2,417.8 117.8,417.5 118.3,417.6 118.8,417.1 119.4,416.6 119.9,416.2 120.4,416.1 121.0,415.7 121.5,416.0 122.0,415.8 122.6,416.3 123.1,416.3 123.6,416.1 124.2,415.7 124.7,415.5 125.2,415.3 125.8,414.5 126.3,414.2 126.8,413.6 127.4,413.8 127.9,413.9 128.4,413.9 129.0,413.9 129.5,413.3 130.0,412.9 130.6,412.7 131.1,412.4 131.6,411.8 132.2,411.8 132.7,411.6 133.2,411.1 133.8,410.9 134.3,410.7 134.8,410.7 135.4,410.7 135.9,410.4 136.4,410.1 137.0,410.1 137.5,410.0 138.0,410.0 138.6,409.9 139.1,409.5 139.6,409.5 140.2,409.7 140.7,409.7 141.2,409.6 141.8,409.3 142.3,409.5 142.8,409.3 143.4,409.5 143.9,409.3 144.4,409.4 145.0,410.1 145.5,411.1 146.0,411.6 146.6,411.2 147.1,411.2 147.6,411.1 148.2,410.7 148.7,410.6 149.2,410.3 149.8,410.2 150.3,410.2 150.8,410.0 151.4,409.9 151.9,410.0 152.4,409.8 153.0,409.4 153.5,409.6 154.0,409.2 154.6,409.3 155.1,409.3 155.6,409.2 156.2,409.2 156.7,409.1 157.2,409.3 157.8,409.3 158.3,409.3 158.8,409.0 159.4,409.1 159.9,409.4 160.4,409.3 161.0,409.4 161.5,409.3 162.0,409.3 162.6,409.1 163.1,409.8 163.6,409.5 164.2,409.7 164.7,410.0 165.2,410.1 165.8,410.4 166.3,410.5 166.8,410.5 167.4,411.1 167.9,410.9 168.4,411.4 169.0,411.5 169.5,412.0 170.0,412.3 170.6,412.7 171.1,413.0 171.6,413.6 172.2,414.1 172.7,414.4 173.2,414.8 173.8,415.1 174.3,416.1 174.8,416.3 175.4,417.0 175.9,419.8 176.4,423.1 177.0,426.3 177.5,429.6 178.0,432.1 178.6,432.4 179.1,432.5 179.6,432.7 180.2,432.9 180.7,433.0 181.2,433.2 181.8,433.3 182.3,432.9 182.8,432.6 183.4,432.0 183.9,431.9 184.4,431.7 185.0,431.0 185.5,430.6 186.0,430.3 186.6,430.1 187.1,429.9 187.6,429.3 188.2,429.6 188.7,429.5 189.2,429.7 189.8,430.0 190.3,429.9 190.8,430.6 191.4,430.7 191.9,430.8 192.4,431.3 193.0,431.7 193.5,432.4 194.0,433.1 194.6,433.3 195.1,434.4 195.6,435.2 196.2,436.1 196.7,436.8 197.2,437.4 197.8,438.0 198.3,438.5 198.8,439.1 199.4,439.3 199.9,440.0 200.4,440.0 201.0,440.0 201.5,440.1 202.0,440.0 202.6,440.1 203.1,440.2 203.6,439.9 204.2,440.3 204.7,440.5 205.2,440.9 205.8,441.1 206.3,441.3 206.8,441.5 207.4,441.6 207.9,442.0 208.4,441.8 209.0,441.7 209.5,442.1 210.0,441.7 210.6,441.4 211.1,441.2 211.6,441.3 212.2,440.9 212.7,441.0 213.2,441.4 213.8,441.3 214.3,441.4 214.8,441.7 215.4,442.1 215.9,441.9 216.4,442.3 217.0,442.7 217.5,442.9 218.0,443.2 218.6,443.3 219.1,443.5 219.6,443.7 220.2,444.0 220.7,444.3 221.2,444.1 221.8,443.7 222.3,443.5 222.8,442.7 223.4,442.8 223.9,442.5 224.4,441.7 225.0,440.9 225.5,440.2" fill="none" stroke="#9878a8" stroke-width="1.3" stroke-linejoin="round"/>
<polyline points="25.5,379.4 26.0,379.4 26.6,379.4 27.1,379.5 27.6,379.7 28.2,379.7 28.7,379.7 29.2,379.8 29.8,380.5 30.3,380.2 30.8,380.3 31.4,380.3 31.9,380.4 32.4,380.3 33.0,380.5 33.5,380.7 34.0,380.7 34.6,380.6 35.1,381.0 35.6,381.0 36.2,380.9 36.7,381.2 37.2,381.6 37.8,381.4 38.3,381.6 38.8,381.7 39.4,381.6 39.9,381.8 40.4,382.1 41.0,382.3 41.5,382.7 42.0,383.0 42.6,383.3 43.1,383.7 43.6,384.3 44.2,384.8 44.7,385.2 45.2,385.7 45.8,385.6 46.3,385.2 46.8,385.3 47.4,385.2 47.9,385.2 48.4,385.3 49.0,385.6 49.5,385.8 50.0,386.1 50.6,386.2 51.1,386.7 51.6,386.7 52.2,387.5 52.7,387.6 53.2,387.6 53.8,387.7 54.3,387.6 54.8,387.3 55.4,387.4 55.9,387.1 56.4,387.3 57.0,386.9 57.5,386.9 58.0,386.7 58.6,386.7 59.1,386.9 59.6,386.5 60.2,386.8 60.7,387.0 61.2,387.2 61.8,386.7 62.3,387.1 62.8,387.3 63.4,387.4 63.9,387.6 64.4,387.3 65.0,387.6 65.5,387.5 66.0,387.9 66.6,388.4 67.1,388.1 67.6,388.4 68.2,388.6 68.7,388.5 69.2,388.9 69.8,388.9 70.3,389.2 70.8,389.4 71.4,389.5 71.9,389.9 72.4,389.8 73.0,390.1 73.5,390.4 74.0,390.6 74.6,390.8 75.1,391.1 75.6,391.2 76.2,391.8 76.7,392.0 77.2,392.6 77.8,392.9 78.3,393.2 78.8,393.7 79.4,393.8 79.9,394.0 80.4,394.0 81.0,394.4 81.5,394.4 82.0,394.3 82.6,394.5 83.1,394.8 83.6,394.6 84.2,394.5 84.7,394.8 85.2,395.1 85.8,395.6 86.3,396.0 86.8,396.5 87.4,396.9 87.9,397.1 88.4,397.3 89.0,397.5 89.5,397.4 90.0,397.3 90.6,397.1 91.1,396.9 91.6,397.0 92.2,396.7 92.7,396.7 93.2,396.7 93.8,396.7 94.3,396.7 94.8,396.8 95.4,396.6 95.9,396.6 96.4,397.0 97.0,396.9 97.5,397.1 98.0,396.8 98.6,397.3 99.1,397.4 99.6,397.4 100.2,397.6 100.7,397.6 101.2,397.5 101.8,397.8 102.3,397.9 102.8,398.0 103.4,398.4 103.9,398.2 104.4,398.5 105.0,398.6 105.5,399.0 106.0,398.9 106.6,399.1 107.1,399.3 107.6,399.4 108.2,400.6 108.7,401.9 109.2,403.4 109.8,405.1 110.3,407.0 110.8,409.2 111.4,411.2 111.9,413.4 112.4,415.8 113.0,417.7 113.5,419.5 114.0,420.9 114.6,422.0 115.1,423.0 115.6,423.7 116.2,423.6 116.7,423.2 117.2,423.2 117.8,422.8 118.3,422.5 118.8,422.5 119.4,421.8 119.9,421.6 120.4,421.2 121.0,421.2 121.5,421.4 122.0,421.5 122.6,421.6 123.1,421.6 123.6,421.3 124.2,420.9 124.7,420.8 125.2,420.6 125.8,420.2 126.3,419.3 126.8,419.2 127.4,419.0 127.9,419.1 128.4,419.4 129.0,419.4 129.5,419.0 130.0,418.8 130.6,418.5 131.1,418.1 131.6,417.6 132.2,417.4 132.7,417.2 133.2,417.1 133.8,417.1 134.3,416.5 134.8,416.9 135.4,416.5 135.9,416.2 136.4,416.4 137.0,416.0 137.5,415.7 138.0,416.0 138.6,415.7 139.1,415.9 139.6,415.6 140.2,415.6 140.7,415.5 141.2,415.4 141.8,415.4 142.3,415.2 142.8,415.3 143.4,415.4 143.9,415.2 144.4,415.4 145.0,416.4 145.5,416.7 146.0,417.3 146.6,417.1 147.1,417.2 147.6,416.9 148.2,416.7 148.7,416.6 149.2,416.4 149.8,416.6 150.3,415.9 150.8,416.2 151.4,416.2 151.9,415.9 152.4,415.8 153.0,415.5 153.5,415.6 154.0,415.4 154.6,415.6 155.1,415.1 155.6,415.3 156.2,415.1 156.7,415.5 157.2,415.2 157.8,415.5 158.3,415.2 158.8,415.2 159.4,415.6 159.9,415.5 160.4,415.5 161.0,415.6 161.5,415.5 162.0,415.6 162.6,415.7 163.1,415.6 163.6,415.6 164.2,416.0 164.7,416.0 165.2,416.1 165.8,416.3 166.3,416.5 166.8,416.5 167.4,416.7 167.9,416.9 168.4,417.2 169.0,417.3 169.5,417.6 170.0,418.2 170.6,418.5 171.1,418.7 171.6,419.3 172.2,419.5 172.7,420.0 173.2,420.5 173.8,420.8 174.3,421.4 174.8,421.6 175.4,422.7 175.9,424.3 176.4,427.3 177.0,430.6 177.5,433.5 178.0,435.3 178.6,435.8 179.1,436.0 179.6,436.1 180.2,436.4 180.7,436.3 181.2,436.6 181.8,436.7 182.3,436.6 182.8,436.0 183.4,435.6 183.9,435.5 184.4,434.7 185.0,434.4 185.5,434.4 186.0,434.1 186.6,433.8 187.1,433.4 187.6,433.4 188.2,433.4 188.7,433.3 189.2,433.8 189.8,433.6 190.3,433.6 190.8,433.9 191.4,434.1 191.9,434.4 192.4,434.7 193.0,435.3 193.5,436.0 194.0,436.4 194.6,436.9 195.1,437.4 195.6,438.0 196.2,438.9 196.7,439.8 197.2,440.5 197.8,440.9 198.3,441.1 198.8,441.6 199.4,442.0 199.9,442.4 200.4,442.4 201.0,442.5 201.5,442.6 202.0,442.6 202.6,442.4 203.1,442.6 203.6,442.4 204.2,442.7 204.7,443.1 205.2,443.3 205.8,443.6 206.3,444.0 206.8,444.1 207.4,444.4 207.9,444.2 208.4,444.2 209.0,444.0 209.5,443.9 210.0,444.3 210.6,443.8 211.1,444.0 211.6,443.6 212.2,443.6 212.7,443.6 213.2,443.5 213.8,444.1 214.3,444.0 214.8,444.1 215.4,444.5 215.9,444.3 216.4,444.6 217.0,444.9 217.5,445.2 218.0,444.9 218.6,445.6 219.1,446.0 219.6,446.1 220.2,446.2 220.7,446.4 221.2,446.2 221.8,446.1 222.3,445.6 222.8,445.4 223.4,445.2 223.9,444.8 224.4,444.2 225.0,443.3 225.5,442.7" fill="none" stroke="#40c0a0" stroke-width="1.3" stroke-linejoin="round"/>
<polyline points="25.5,384.9 26.0,385.0 26.6,385.1 27.1,384.9 27.6,385.4 28.2,385.3 28.7,385.4 29.2,385.7 29.8,385.7 30.3,385.8 30.8,386.0 31.4,385.9 31.9,386.0 32.4,386.1 33.0,386.4 33.5,386.4 34.0,386.2 34.6,386.8 35.1,386.7 35.6,386.8 36.2,387.0 36.7,387.0 37.2,387.2 37.8,387.2 38.3,387.3 38.8,387.6 39.4,387.7 39.9,387.8 40.4,388.1 41.0,388.4 41.5,388.8 42.0,388.9 42.6,389.1 43.1,389.5 43.6,390.0 44.2,390.8 44.7,390.9 45.2,391.5 45.8,391.4 46.3,391.1 46.8,391.4 47.4,391.1 47.9,391.2 48.4,391.4 49.0,391.7 49.5,391.8 50.0,392.1 50.6,392.2 51.1,392.5 51.6,393.1 52.2,393.3 52.7,393.6 53.2,394.0 53.8,393.9 54.3,393.6 54.8,393.5 55.4,393.6 55.9,393.4 56.4,393.1 57.0,393.3 57.5,393.2 58.0,392.9 58.6,392.9 59.1,393.3 59.6,393.3 60.2,393.0 60.7,393.3 61.2,393.3 61.8,393.5 62.3,393.4 62.8,394.0 63.4,394.1 63.9,394.1 64.4,393.9 65.0,394.2 65.5,394.5 66.0,394.4 66.6,394.5 67.1,394.8 67.6,395.0 68.2,395.0 68.7,395.1 69.2,395.4 69.8,395.5 70.3,395.8 70.8,396.0 71.4,396.3 71.9,396.4 72.4,396.7 73.0,396.9 73.5,397.0 74.0,397.2 74.6,397.4 75.1,398.0 75.6,398.0 76.2,398.5 76.7,398.9 77.2,399.3 77.8,399.3 78.3,399.8 78.8,400.4 79.4,400.6 79.9,400.6 80.4,400.8 81.0,400.7 81.5,401.3 82.0,401.4 82.6,401.3 83.1,401.3 83.6,401.3 84.2,401.3 84.7,401.3 85.2,402.0 85.8,402.5 86.3,403.1 86.8,403.2 87.4,403.5 87.9,403.9 88.4,403.9 89.0,404.4 89.5,404.0 90.0,404.0 90.6,404.1 91.1,403.9 91.6,403.9 92.2,403.8 92.7,403.6 93.2,403.5 93.8,403.4 94.3,403.7 94.8,403.7 95.4,403.9 95.9,403.6 96.4,403.8 97.0,404.0 97.5,404.0 98.0,404.1 98.6,404.6 99.1,404.4 99.6,404.6 100.2,404.8 100.7,404.9 101.2,404.7 101.8,404.9 102.3,405.0 102.8,405.6 103.4,405.7 103.9,405.6 104.4,406.0 105.0,406.1 105.5,406.4 106.0,406.1 106.6,406.3 107.1,406.5 107.6,406.8 108.2,407.5 108.7,408.3 109.2,409.1 109.8,410.4 110.3,411.4 110.8,413.0 111.4,414.4 111.9,415.5 112.4,417.0 113.0,418.1 113.5,419.4 114.0,420.6 114.6,421.0 115.1,421.9 115.6,421.8 116.2,422.2 116.7,422.0 117.2,421.4 117.8,421.1 118.3,420.9 118.8,420.7 119.4,420.1 119.9,420.1 120.4,419.7 121.0,419.5 121.5,419.6 122.0,419.6 122.6,420.0 123.1,419.8 123.6,419.6 124.2,419.7 124.7,419.4 125.2,418.9 125.8,418.4 126.3,417.8 126.8,417.6 127.4,417.3 127.9,417.4 128.4,417.6 129.0,417.8 129.5,417.2 130.0,417.0 130.6,416.5 131.1,416.2 131.6,415.8 132.2,415.6 132.7,415.2 133.2,415.5 133.8,415.2 134.3,414.8 134.8,414.9 135.4,414.4 135.9,414.6 136.4,414.2 137.0,414.3 137.5,414.1 138.0,413.9 138.6,413.9 139.1,413.8 139.6,413.4 140.2,413.7 140.7,413.8 141.2,413.5 141.8,413.4 142.3,413.3 142.8,413.1 143.4,413.5 143.9,413.1 144.4,413.4 145.0,414.3 145.5,414.9 146.0,415.9 146.6,415.4 147.1,414.9 147.6,415.3 148.2,414.9 148.7,414.7 149.2,414.5 149.8,414.1 150.3,414.5 150.8,414.1 151.4,413.9 151.9,414.1 152.4,413.8 153.0,413.4 153.5,413.4 154.0,413.4 154.6,413.8 155.1,413.5 155.6,413.4 156.2,413.5 156.7,413.4 157.2,413.0 157.8,413.4 158.3,413.5 158.8,413.3 159.4,413.4 159.9,413.4 160.4,413.4 161.0,413.3 161.5,413.4 162.0,413.7 162.6,413.6 163.1,413.6 163.6,413.8 164.2,413.7 164.7,413.9 165.2,414.3 165.8,414.3 166.3,414.3 166.8,414.5 167.4,414.9 167.9,415.0 168.4,415.4 169.0,415.9 169.5,415.9 170.0,416.3 170.6,416.6 171.1,417.0 171.6,417.4 172.2,417.9 172.7,418.2 173.2,418.5 173.8,419.1 174.3,419.3 174.8,420.1 175.4,420.8 175.9,422.8 176.4,425.9 177.0,429.5 177.5,432.5 178.0,434.7 178.6,435.0 179.1,435.0 179.6,435.5 180.2,435.3 180.7,435.4 181.2,435.5 181.8,435.7 182.3,435.4 182.8,435.3 183.4,434.5 183.9,434.3 184.4,434.1 185.0,433.4 185.5,433.1 186.0,433.1 186.6,432.4 187.1,432.6 187.6,432.2 188.2,432.0 188.7,432.6 189.2,432.2 189.8,432.5 190.3,432.7 190.8,433.1 191.4,433.1 191.9,433.6 192.4,433.9 193.0,434.4 193.5,435.0 194.0,435.2 194.6,436.2 195.1,436.7 195.6,437.4 196.2,438.1 196.7,438.7 197.2,439.4 197.8,440.1 198.3,440.5 198.8,440.9 199.4,441.1 199.9,441.5 200.4,441.8 201.0,442.1 201.5,441.5 202.0,441.7 202.6,441.8 203.1,441.8 203.6,442.0 204.2,442.3 204.7,442.5 205.2,442.7 205.8,443.0 206.3,443.4 206.8,443.4 207.4,443.5 207.9,443.7 208.4,443.5 209.0,443.7 209.5,443.4 210.0,443.2 210.6,443.3 211.1,443.3 211.6,442.9 212.2,442.9 212.7,442.9 213.2,443.1 213.8,443.1 214.3,443.3 214.8,443.7 215.4,443.6 215.9,443.8 216.4,443.9 217.0,444.3 217.5,444.5 218.0,444.6 218.6,444.8 219.1,445.1 219.6,445.2 220.2,445.5 220.7,445.6 221.2,445.4 221.8,445.2 222.3,445.0 222.8,444.7 223.4,444.1 223.9,444.1 224.4,443.6 225.0,442.8 225.5,442.0" fill="none" stroke="#c03050" stroke-width="1.3" stroke-linejoin="round"/>
<polyline points="25.5,389.6 26.0,389.9 26.6,390.1 27.1,389.8 27.6,390.2 28.2,390.0 28.7,390.1 29.2,390.0 29.8,390.0 30.3,390.3 30.8,390.5 31.4,390.7 31.9,390.7 32.4,390.7 33.0,391.0 33.5,390.8 34.0,390.9 34.6,390.9 35.1,391.2 35.6,391.2 36.2,391.4 36.7,391.5 37.2,391.8 37.8,391.6 38.3,391.5 38.8,391.8 39.4,391.9 39.9,392.2 40.4,392.1 41.0,392.7 41.5,392.9 42.0,393.4 42.6,393.9 43.1,394.1 43.6,394.8 44.2,395.3 44.7,395.8 45.2,396.2 45.8,396.2 46.3,395.9 46.8,395.9 47.4,395.8 47.9,395.8 48.4,396.0 49.0,396.2 49.5,396.4 50.0,396.6 50.6,396.8 51.1,397.5 51.6,397.6 52.2,398.2 52.7,398.4 53.2,398.7 53.8,398.7 54.3,398.5 54.8,398.0 55.4,397.8 55.9,397.6 56.4,397.5 57.0,397.0 57.5,397.2 58.0,397.3 58.6,396.9 59.1,397.0 59.6,397.0 60.2,396.8 60.7,396.9 61.2,397.0 61.8,397.1 62.3,397.4 62.8,397.2 63.4,397.5 63.9,397.7 64.4,397.8 65.0,397.7 65.5,398.0 66.0,398.1 66.6,398.2 67.1,398.4 67.6,398.8 68.2,398.7 68.7,398.8 69.2,399.0 69.8,399.1 70.3,399.4 70.8,399.5 71.4,399.7 71.9,400.2 72.4,400.1 73.0,400.4 73.5,400.7 74.0,400.8 74.6,401.2 75.1,401.7 75.6,401.7 76.2,402.3 76.7,402.7 77.2,403.2 77.8,403.4 78.3,404.0 78.8,404.6 79.4,404.6 79.9,404.7 80.4,405.1 81.0,405.2 81.5,405.4 82.0,405.5 82.6,405.3 83.1,405.3 83.6,405.2 84.2,405.3 84.7,405.5 85.2,406.0 85.8,406.4 86.3,407.2 86.8,407.5 87.4,407.9 87.9,408.3 88.4,408.6 89.0,408.9 89.5,408.7 90.0,408.6 90.6,408.1 91.1,408.0 91.6,407.7 92.2,407.5 92.7,407.4 93.2,407.5 93.8,407.5 94.3,407.7 94.8,407.7 95.4,407.7 95.9,407.2 96.4,407.7 97.0,407.5 97.5,407.4 98.0,407.8 98.6,407.6 99.1,407.7 99.6,408.0 100.2,407.9 100.7,408.2 101.2,408.5 101.8,408.5 102.3,408.8 102.8,409.0 103.4,409.2 103.9,408.8 104.4,409.4 105.0,409.4 105.5,409.7 106.0,409.7 106.6,409.9 107.1,410.0 107.6,410.4 108.2,410.9 108.7,411.5 109.2,412.2 109.8,412.9 110.3,414.2 110.8,415.2 111.4,416.6 111.9,417.8 112.4,419.1 113.0,420.0 113.5,421.3 114.0,421.9 114.6,422.3 115.1,423.0 115.6,423.1 116.2,423.3 116.7,423.2 117.2,422.8 117.8,422.5 118.3,421.9 118.8,421.4 119.4,421.4 119.9,421.0 120.4,420.6 121.0,420.4 121.5,420.9 122.0,421.0 122.6,421.2 123.1,421.3 123.6,421.3 124.2,420.9 124.7,420.9 125.2,420.0 125.8,419.7 126.3,419.0 126.8,418.4 127.4,418.6 127.9,418.9 128.4,419.2 129.0,418.8 129.5,418.6 130.0,418.2 130.6,417.6 131.1,417.5 131.6,417.0 132.2,416.7 132.7,416.4 133.2,416.4 133.8,416.2 134.3,416.2 134.8,415.9 135.4,415.7 135.9,416.0 136.4,415.6 137.0,415.5 137.5,415.3 138.0,415.5 138.6,415.0 139.1,415.2 139.6,415.1 140.2,415.0 140.7,415.2 141.2,414.9 141.8,415.1 142.3,414.8 142.8,414.6 143.4,414.4 143.9,414.3 144.4,414.7 145.0,415.4 145.5,416.5 146.0,417.4 146.6,417.1 147.1,416.9 147.6,416.6 148.2,416.5 148.7,416.3 149.2,415.8 149.8,415.8 150.3,415.6 150.8,415.5 151.4,415.4 151.9,415.0 152.4,415.0 153.0,414.8 153.5,415.3 154.0,414.8 154.6,414.6 155.1,414.5 155.6,414.8 156.2,415.0 156.7,414.7 157.2,414.8 157.8,415.0 158.3,414.8 158.8,414.6 159.4,414.6 159.9,414.6 160.4,414.9 161.0,414.4 161.5,414.9 162.0,414.8 162.6,415.0 163.1,414.7 163.6,415.0 164.2,415.1 164.7,415.3 165.2,415.5 165.8,415.6 166.3,416.0 166.8,415.8 167.4,416.0 167.9,416.3 168.4,416.5 169.0,416.8 169.5,417.0 170.0,417.5 170.6,417.9 171.1,418.3 171.6,418.8 172.2,419.2 172.7,419.5 173.2,420.0 173.8,420.4 174.3,420.8 174.8,421.3 175.4,422.2 175.9,424.6 176.4,428.0 177.0,431.6 177.5,434.7 178.0,437.1 178.6,437.2 179.1,437.7 179.6,437.6 180.2,437.9 180.7,437.8 181.2,438.1 181.8,438.4 182.3,438.0 182.8,437.7 183.4,437.3 183.9,436.9 184.4,436.3 185.0,436.0 185.5,435.8 186.0,435.7 186.6,435.3 187.1,434.9 187.6,434.4 188.2,434.6 188.7,434.8 189.2,434.7 189.8,435.0 190.3,435.2 190.8,435.4 191.4,435.8 191.9,435.7 192.4,436.1 193.0,436.7 193.5,437.3 194.0,437.7 194.6,438.0 195.1,439.0 195.6,439.7 196.2,440.3 196.7,441.3 197.2,442.1 197.8,442.4 198.3,442.8 198.8,443.0 199.4,443.4 199.9,443.6 200.4,443.8 201.0,443.9 201.5,443.8 202.0,443.6 202.6,443.5 203.1,443.5 203.6,443.5 204.2,444.4 204.7,444.3 205.2,444.5 205.8,444.7 206.3,445.2 206.8,445.0 207.4,445.4 207.9,445.5 208.4,445.3 209.0,445.2 209.5,445.2 210.0,444.9 210.6,444.9 211.1,444.9 211.6,444.6 212.2,444.4 212.7,444.7 213.2,444.5 213.8,444.9 214.3,444.7 214.8,444.9 215.4,445.3 215.9,445.3 216.4,445.4 217.0,445.8 217.5,446.2 218.0,446.3 218.6,446.3 219.1,447.0 219.6,447.0 220.2,447.3 220.7,447.5 221.2,447.4 221.8,447.1 222.3,446.6 222.8,446.4 223.4,446.3 223.9,445.6 224.4,445.4 225.0,444.3 225.5,443.5" fill="none" stroke="#309030" stroke-width="1.3" stroke-linejoin="round"/>
<polyline points="25.5,410.3 26.0,410.5 26.6,410.5 27.1,410.7 27.6,410.6 28.2,410.8 28.7,410.6 29.2,411.0 29.8,410.8 30.3,411.0 30.8,411.1 31.4,411.3 31.9,411.2 32.4,411.5 33.0,411.6 33.5,411.4 34.0,411.8 34.6,411.4 35.1,411.7 35.6,411.7 36.2,411.8 36.7,411.8 37.2,412.0 37.8,412.1 38.3,412.1 38.8,412.1 39.4,412.1 39.9,412.2 40.4,412.4 41.0,412.7 41.5,413.2 42.0,413.0 42.6,413.2 43.1,413.7 43.6,413.8 44.2,414.0 44.7,414.5 45.2,414.6 45.8,414.7 46.3,414.9 46.8,414.7 47.4,414.6 47.9,414.5 48.4,414.8 49.0,414.9 49.5,415.1 50.0,415.1 50.6,415.3 51.1,415.4 51.6,415.6 52.2,415.9 52.7,416.1 53.2,416.3 53.8,416.2 54.3,415.9 54.8,416.4 55.4,416.0 55.9,415.9 56.4,415.7 57.0,415.9 57.5,415.7 58.0,415.7 58.6,415.8 59.1,416.0 59.6,415.8 60.2,415.9 60.7,415.7 61.2,416.0 61.8,415.7 62.3,416.0 62.8,416.2 63.4,416.2 63.9,416.4 64.4,416.3 65.0,416.2 65.5,416.5 66.0,416.5 66.6,416.8 67.1,416.8 67.6,416.6 68.2,417.2 68.7,417.0 69.2,417.1 69.8,417.6 70.3,417.7 70.8,417.7 71.4,417.6 71.9,418.0 72.4,418.1 73.0,418.1 73.5,418.3 74.0,418.5 74.6,418.7 75.1,418.6 75.6,419.1 76.2,419.0 76.7,419.5 77.2,419.8 77.8,419.8 78.3,420.1 78.8,420.7 79.4,420.5 79.9,420.8 80.4,420.9 81.0,420.8 81.5,421.1 82.0,421.0 82.6,421.1 83.1,420.8 83.6,421.1 84.2,421.3 84.7,421.4 85.2,421.7 85.8,421.8 86.3,422.1 86.8,422.2 87.4,422.6 87.9,422.7 88.4,422.9 89.0,423.1 89.5,423.0 90.0,422.8 90.6,422.7 91.1,422.8 91.6,422.9 92.2,422.7 92.7,422.5 93.2,422.9 93.8,422.7 94.3,422.5 94.8,422.7 95.4,422.8 95.9,422.4 96.4,422.5 97.0,422.8 97.5,422.7 98.0,422.8 98.6,423.2 99.1,422.7 99.6,423.3 100.2,423.3 100.7,423.5 101.2,423.4 101.8,423.7 102.3,423.6 102.8,423.6 103.4,423.8 103.9,423.9 104.4,423.8 105.0,424.2 105.5,424.1 106.0,424.3 106.6,424.4 107.1,424.4 107.6,424.5 108.2,424.6 108.7,424.8 109.2,425.0 109.8,425.0 110.3,425.3 110.8,425.7 111.4,425.9 111.9,426.1 112.4,426.3 113.0,426.5 113.5,426.7 114.0,427.0 114.6,427.0 115.1,427.3 115.6,427.6 116.2,427.2 116.7,427.4 117.2,427.2 117.8,427.2 118.3,426.8 118.8,427.0 119.4,426.7 119.9,426.7 120.4,426.7 121.0,426.8 121.5,426.7 122.0,427.0 122.6,427.2 123.1,427.2 123.6,427.4 124.2,427.4 124.7,427.4 125.2,427.3 125.8,427.1 126.3,427.0 126.8,426.4 127.4,427.2 127.9,427.1 128.4,427.3 129.0,427.5 129.5,427.6 130.0,427.4 130.6,427.4 131.1,427.4 131.6,427.1 132.2,427.1 132.7,427.2 133.2,427.0 133.8,427.3 134.3,427.1 134.8,427.3 135.4,427.2 135.9,427.2 136.4,427.2 137.0,427.4 137.5,427.4 138.0,427.4 138.6,427.3 139.1,427.2 139.6,427.2 140.2,427.4 140.7,427.4 141.2,427.6 141.8,427.7 142.3,427.4 142.8,427.4 143.4,427.4 143.9,427.4 144.4,427.3 145.0,428.0 145.5,428.6 146.0,428.4 146.6,428.6 147.1,428.5 147.6,428.3 148.2,428.4 148.7,428.0 149.2,428.4 149.8,428.3 150.3,428.1 150.8,428.2 151.4,427.9 151.9,428.3 152.4,428.2 153.0,428.0 153.5,428.0 154.0,427.9 154.6,428.1 155.1,427.9 155.6,428.3 156.2,428.2 156.7,428.2 157.2,428.4 157.8,428.4 158.3,428.4 158.8,428.5 159.4,428.6 159.9,428.5 160.4,428.7 161.0,428.4 161.5,428.7 162.0,428.2 162.6,428.3 163.1,428.4 163.6,428.6 164.2,428.7 164.7,428.5 165.2,428.7 165.8,428.6 166.3,428.8 166.8,428.6 167.4,428.9 167.9,428.8 168.4,429.1 169.0,429.0 169.5,428.9 170.0,429.2 170.6,429.2 171.1,429.1 171.6,429.4 172.2,429.3 172.7,429.9 173.2,429.7 173.8,429.8 174.3,430.2 174.8,430.4 175.4,430.7 175.9,432.8 176.4,435.1 177.0,437.4 177.5,439.8 178.0,441.2 178.6,441.8 179.1,441.8 179.6,441.7 180.2,441.9 180.7,442.4 181.2,442.0 181.8,442.2 182.3,442.3 182.8,441.7 183.4,441.9 183.9,441.1 184.4,441.2 185.0,440.7 185.5,440.8 186.0,440.8 186.6,440.4 187.1,440.2 187.6,440.0 188.2,439.9 188.7,440.2 189.2,440.1 189.8,440.2 190.3,440.4 190.8,440.6 191.4,440.7 191.9,440.6 192.4,440.8 193.0,441.4 193.5,441.7 194.0,441.7 194.6,442.4 195.1,442.5 195.6,443.1 196.2,443.7 196.7,443.9 197.2,444.3 197.8,444.4 198.3,444.5 198.8,445.1 199.4,445.1 199.9,445.3 200.4,445.6 201.0,445.6 201.5,445.2 202.0,445.5 202.6,445.4 203.1,445.4 203.6,445.4 204.2,445.6 204.7,445.6 205.2,445.7 205.8,446.1 206.3,446.4 206.8,446.3 207.4,446.7 207.9,446.6 208.4,446.2 209.0,446.0 209.5,446.2 210.0,446.3 210.6,446.0 211.1,446.3 211.6,446.0 212.2,445.6 212.7,445.8 213.2,446.2 213.8,446.3 214.3,446.0 214.8,446.2 215.4,446.4 215.9,446.4 216.4,446.6 217.0,447.0 217.5,446.7 218.0,447.1 218.6,447.3 219.1,447.5 219.6,447.4 220.2,447.7 220.7,447.6 221.2,447.7 221.8,447.3 222.3,447.3 222.8,447.2 223.4,447.2 223.9,446.9 224.4,446.3 225.0,445.4 225.5,445.5" fill="none" stroke="#282888" stroke-width="1.3" stroke-linejoin="round"/>
<polyline points="25.5,413.2 26.0,413.1 26.6,413.1 27.1,413.4 27.6,413.4 28.2,413.7 28.7,413.6 29.2,413.6 29.8,413.6 30.3,413.9 30.8,414.0 31.4,414.0 31.9,414.0 32.4,414.2 33.0,414.5 33.5,414.4 34.0,414.4 34.6,414.8 35.1,415.0 35.6,414.8 36.2,414.9 36.7,415.0 37.2,415.2 37.8,415.4 38.3,415.5 38.8,415.7 39.4,415.8 39.9,415.8 40.4,416.0 41.0,416.0 41.5,416.6 42.0,416.6 42.6,416.9 43.1,416.9 43.6,417.4 44.2,417.8 44.7,418.0 45.2,418.3 45.8,418.4 46.3,418.1 46.8,418.3 47.4,418.1 47.9,418.2 48.4,418.4 49.0,418.7 49.5,419.0 50.0,419.0 50.6,419.3 51.1,419.4 51.6,419.7 52.2,420.0 52.7,420.3 53.2,420.3 53.8,420.2 54.3,420.3 54.8,420.2 55.4,420.0 55.9,420.3 56.4,420.2 57.0,420.3 57.5,420.0 58.0,420.2 58.6,420.3 59.1,420.5 59.6,420.3 60.2,420.2 60.7,420.4 61.2,420.6 61.8,420.5 62.3,420.9 62.8,420.8 63.4,420.9 63.9,421.2 64.4,421.3 65.0,421.2 65.5,421.4 66.0,421.6 66.6,421.6 67.1,421.8 67.6,422.1 68.2,422.2 68.7,422.2 69.2,422.2 69.8,422.3 70.3,422.8 70.8,422.6 71.4,422.9 71.9,423.1 72.4,423.2 73.0,423.4 73.5,423.4 74.0,424.0 74.6,423.9 75.1,424.2 75.6,424.4 76.2,424.5 76.7,424.8 77.2,425.3 77.8,425.5 78.3,425.7 78.8,426.2 79.4,426.0 79.9,426.3 80.4,426.4 81.0,426.5 81.5,426.5 82.0,426.8 82.6,426.9 83.1,426.7 83.6,427.1 84.2,427.1 84.7,427.4 85.2,427.3 85.8,427.7 86.3,428.0 86.8,428.4 87.4,428.6 87.9,428.9 88.4,429.1 89.0,429.2 89.5,429.1 90.0,428.9 90.6,429.2 91.1,429.1 91.6,429.1 92.2,428.7 92.7,429.1 93.2,428.9 93.8,428.9 94.3,429.1 94.8,429.1 95.4,429.5 95.9,429.3 96.4,429.6 97.0,429.4 97.5,429.6 98.0,429.8 98.6,429.6 99.1,429.8 99.6,430.1 100.2,430.2 100.7,430.4 101.2,430.4 101.8,430.2 102.3,430.7 102.8,430.7 103.4,430.9 103.9,430.9 104.4,431.0 105.0,431.3 105.5,431.6 106.0,431.6 106.6,431.5 107.1,431.7 107.6,431.7 108.2,431.9 108.7,432.3 109.2,432.2 109.8,432.4 110.3,432.8 110.8,433.0 111.4,433.2 111.9,433.6 112.4,433.8 113.0,434.1 113.5,434.6 114.0,434.5 114.6,434.7 115.1,434.9 115.6,434.8 116.2,434.9 116.7,434.7 117.2,434.6 117.8,434.7 118.3,434.8 118.8,434.6 119.4,434.3 119.9,434.4 120.4,434.4 121.0,434.3 121.5,434.4 122.0,434.7 122.6,434.8 123.1,435.1 123.6,435.0 124.2,435.0 124.7,434.9 125.2,435.1 125.8,434.7 126.3,434.7 126.8,434.2 127.4,434.3 127.9,434.5 128.4,434.8 129.0,435.0 129.5,434.8 130.0,434.9 130.6,434.7 131.1,434.8 131.6,434.7 132.2,434.5 132.7,434.4 133.2,434.6 133.8,434.3 134.3,434.3 134.8,434.8 135.4,434.7 135.9,434.8 136.4,434.7 137.0,434.8 137.5,434.7 138.0,434.6 138.6,434.6 139.1,434.7 139.6,434.7 140.2,434.7 140.7,434.7 141.2,434.7 141.8,434.7 142.3,434.6 142.8,434.8 143.4,434.5 143.9,434.3 144.4,434.7 145.0,435.3 145.5,435.3 146.0,435.8 146.6,436.1 147.1,435.6 147.6,435.4 148.2,435.4 148.7,435.2 149.2,435.2 149.8,435.2 150.3,435.5 150.8,435.3 151.4,435.2 151.9,435.1 152.4,435.3 153.0,435.2 153.5,435.1 154.0,435.4 154.6,435.5 155.1,435.3 155.6,435.2 156.2,435.3 156.7,435.6 157.2,435.3 157.8,435.5 158.3,435.3 158.8,435.4 159.4,435.3 159.9,435.3 160.4,435.5 161.0,435.3 161.5,435.2 162.0,435.4 162.6,435.2 163.1,435.5 163.6,435.3 164.2,435.4 164.7,435.6 165.2,435.5 165.8,435.6 166.3,435.6 166.8,435.6 167.4,435.4 167.9,435.6 168.4,435.6 169.0,435.9 169.5,435.7 170.0,435.6 170.6,435.7 171.1,435.8 171.6,436.1 172.2,436.2 172.7,436.2 173.2,436.5 173.8,436.6 174.3,436.4 174.8,436.7 175.4,436.9 175.9,438.7 176.4,440.4 177.0,442.6 177.5,444.2 178.0,445.6 178.6,445.8 179.1,445.9 179.6,446.0 180.2,445.9 180.7,445.8 181.2,446.2 181.8,446.0 182.3,446.1 182.8,445.9 183.4,445.4 183.9,445.8 184.4,445.4 185.0,445.4 185.5,445.0 186.0,444.9 186.6,444.2 187.1,444.5 187.6,444.2 188.2,444.2 188.7,444.5 189.2,444.5 189.8,444.4 190.3,444.7 190.8,444.8 191.4,444.8 191.9,445.2 192.4,445.3 193.0,445.3 193.5,445.6 194.0,446.0 194.6,446.2 195.1,446.5 195.6,446.8 196.2,447.1 196.7,447.5 197.2,447.8 197.8,448.3 198.3,448.4 198.8,448.4 199.4,448.8 199.9,448.7 200.4,448.9 201.0,448.9 201.5,448.7 202.0,448.8 202.6,448.8 203.1,448.8 203.6,448.7 204.2,448.5 204.7,449.3 205.2,449.1 205.8,449.3 206.3,449.2 206.8,449.5 207.4,449.9 207.9,449.4 208.4,449.7 209.0,449.5 209.5,449.6 210.0,449.5 210.6,449.3 211.1,449.1 211.6,449.0 212.2,449.2 212.7,449.1 213.2,449.3 213.8,449.2 214.3,449.3 214.8,449.3 215.4,449.5 215.9,449.5 216.4,449.6 217.0,449.7 217.5,450.0 218.0,449.8 218.6,450.2 219.1,450.1 219.6,450.3 220.2,450.3 220.7,450.9 221.2,450.2 221.8,450.4 222.3,450.4 222.8,450.1 223.4,449.6 223.9,449.7 224.4,449.7 225.0,449.1 225.5,448.5" fill="none" stroke="#8040d0" stroke-width="1.3" stroke-linejoin="round"/>
<polyline points="25.5,414.3 26.0,414.2 26.6,414.3 27.1,414.1 27.6,414.5 28.2,414.4 28.7,414.7 29.2,414.8 29.8,414.6 30.3,414.8 30.8,415.2 31.4,414.9 31.9,415.0 32.4,415.3 33.0,415.2 33.5,415.3 34.0,415.5 34.6,415.6 35.1,415.7 35.6,415.8 36.2,416.0 36.7,415.9 37.2,416.2 37.8,416.1 38.3,416.2 38.8,416.4 39.4,416.2 39.9,416.2 40.4,416.4 41.0,417.0 41.5,416.9 42.0,417.2 42.6,417.5 43.1,417.8 43.6,418.1 44.2,418.2 44.7,418.6 45.2,418.9 45.8,419.0 46.3,418.9 46.8,418.8 47.4,418.6 47.9,419.0 48.4,419.0 49.0,419.2 49.5,419.4 50.0,419.4 50.6,419.6 51.1,420.0 51.6,420.2 52.2,420.1 52.7,420.4 53.2,420.6 53.8,420.7 54.3,420.6 54.8,420.5 55.4,420.5 55.9,420.6 56.4,420.4 57.0,420.2 57.5,420.5 58.0,420.2 58.6,420.3 59.1,420.5 59.6,420.4 60.2,420.5 60.7,420.4 61.2,420.5 61.8,420.9 62.3,421.0 62.8,420.7 63.4,421.0 63.9,421.0 64.4,421.1 65.0,421.0 65.5,421.5 66.0,421.3 66.6,421.7 67.1,421.6 67.6,421.7 68.2,422.2 68.7,422.0 69.2,422.3 69.8,422.4 70.3,422.5 70.8,422.8 71.4,422.9 71.9,422.8 72.4,423.0 73.0,423.3 73.5,423.6 74.0,423.2 74.6,423.6 75.1,423.8 75.6,424.2 76.2,424.4 76.7,424.5 77.2,424.9 77.8,424.8 78.3,425.3 78.8,425.5 79.4,425.8 79.9,425.9 80.4,426.0 81.0,426.0 81.5,426.2 82.0,426.3 82.6,426.3 83.1,426.3 83.6,426.2 84.2,426.5 84.7,426.7 85.2,426.9 85.8,426.9 86.3,427.5 86.8,427.7 87.4,428.0 87.9,428.0 88.4,428.2 89.0,428.6 89.5,428.4 90.0,428.2 90.6,428.1 91.1,428.1 91.6,428.0 92.2,428.1 92.7,428.2 93.2,428.0 93.8,428.4 94.3,428.2 94.8,428.5 95.4,428.4 95.9,428.4 96.4,428.6 97.0,428.4 97.5,428.7 98.0,428.7 98.6,428.8 99.1,429.0 99.6,428.8 100.2,429.1 100.7,429.1 101.2,429.4 101.8,429.4 102.3,429.5 102.8,429.6 103.4,429.8 103.9,429.8 104.4,429.7 105.0,430.1 105.5,430.2 106.0,430.3 106.6,430.1 107.1,430.2 107.6,430.4 108.2,430.5 108.7,430.9 109.2,431.0 109.8,431.2 110.3,431.4 110.8,431.8 111.4,432.0 111.9,432.1 112.4,432.4 113.0,433.0 113.5,432.9 114.0,432.9 114.6,433.4 115.1,433.3 115.6,433.6 116.2,433.3 116.7,433.5 117.2,433.5 117.8,433.3 118.3,432.9 118.8,433.2 119.4,433.2 119.9,432.9 120.4,432.8 121.0,432.6 121.5,433.2 122.0,433.5 122.6,433.5 123.1,433.6 123.6,433.5 124.2,433.4 124.7,433.8 125.2,433.5 125.8,433.3 126.3,433.0 126.8,432.9 127.4,433.2 127.9,433.4 128.4,433.4 129.0,433.5 129.5,433.2 130.0,433.5 130.6,433.2 131.1,433.5 131.6,433.3 132.2,433.3 132.7,433.3 133.2,433.3 133.8,433.3 134.3,433.2 134.8,433.3 135.4,433.2 135.9,433.3 136.4,433.3 137.0,433.1 137.5,433.2 138.0,433.3 138.6,433.3 139.1,433.3 139.6,433.3 140.2,433.5 140.7,433.2 141.2,433.1 141.8,433.2 142.3,433.3 142.8,433.4 143.4,433.2 143.9,433.1 144.4,433.2 145.0,433.7 145.5,434.1 146.0,434.2 146.6,434.4 147.1,434.1 147.6,434.0 148.2,434.2 148.7,434.0 149.2,434.0 149.8,434.0 150.3,434.1 150.8,434.0 151.4,433.7 151.9,433.8 152.4,433.7 153.0,433.9 153.5,433.8 154.0,433.8 154.6,434.0 155.1,434.1 155.6,433.8 156.2,433.9 156.7,434.0 157.2,434.0 157.8,433.9 158.3,433.7 158.8,434.1 159.4,433.9 159.9,433.7 160.4,434.0 161.0,433.8 161.5,434.4 162.0,433.8 162.6,434.0 163.1,434.3 163.6,434.0 164.2,434.0 164.7,434.0 165.2,434.0 165.8,434.2 166.3,434.3 166.8,434.3 167.4,434.2 167.9,434.2 168.4,434.3 169.0,434.3 169.5,434.3 170.0,434.4 170.6,434.2 171.1,434.3 171.6,434.8 172.2,434.8 172.7,435.0 173.2,435.1 173.8,435.0 174.3,435.3 174.8,435.5 175.4,435.9 175.9,437.3 176.4,439.5 177.0,441.7 177.5,443.5 178.0,444.9 178.6,445.2 179.1,445.2 179.6,445.6 180.2,445.5 180.7,445.7 181.2,445.5 181.8,445.6 182.3,445.8 182.8,445.3 183.4,445.4 183.9,444.9 184.4,444.8 185.0,444.8 185.5,444.6 186.0,444.4 186.6,444.2 187.1,444.2 187.6,443.9 188.2,444.1 188.7,444.0 189.2,444.0 189.8,444.4 190.3,444.2 190.8,444.5 191.4,444.7 191.9,444.6 192.4,444.7 193.0,444.8 193.5,445.2 194.0,445.2 194.6,445.5 195.1,445.8 195.6,446.2 196.2,446.7 196.7,447.2 197.2,447.3 197.8,447.6 198.3,447.8 198.8,448.1 199.4,448.4 199.9,448.3 200.4,448.4 201.0,448.6 201.5,448.4 202.0,448.3 202.6,448.4 203.1,448.2 203.6,448.2 204.2,448.7 204.7,448.6 205.2,448.7 205.8,448.7 206.3,448.8 206.8,449.4 207.4,449.2 207.9,449.1 208.4,449.0 209.0,448.9 209.5,449.2 210.0,449.0 210.6,449.0 211.1,448.7 211.6,449.0 212.2,448.5 212.7,448.6 213.2,448.8 213.8,449.2 214.3,449.0 214.8,448.9 215.4,449.3 215.9,449.2 216.4,449.3 217.0,449.3 217.5,449.5 218.0,449.6 218.6,449.8 219.1,449.9 219.6,450.0 220.2,450.0 220.7,450.3 221.2,450.0 221.8,450.3 222.3,449.7 222.8,449.7 223.4,449.4 223.9,449.4 224.4,449.0 225.0,448.5 225.5,448.3" fill="none" stroke="#3030e0" stroke-width="1.3" stroke-linejoin="round"/>
<polyline points="25.5,415.2 26.0,415.4 26.6,415.4 27.1,415.8 27.6,415.7 28.2,415.8 28.7,415.9 29.2,416.0 29.8,416.2 30.3,415.9 30.8,416.2 31.4,416.1 31.9,416.5 32.4,416.7 33.0,416.6 33.5,417.0 34.0,416.8 34.6,417.0 35.1,417.1 35.6,417.1 36.2,417.3 36.7,417.1 37.2,417.4 37.8,417.8 38.3,417.5 38.8,418.0 39.4,417.9 39.9,418.2 40.4,418.3 41.0,418.2 41.5,418.7 42.0,419.0 42.6,419.2 43.1,419.4 43.6,419.5 44.2,420.2 44.7,420.5 45.2,420.5 45.8,420.8 46.3,420.6 46.8,420.4 47.4,420.6 47.9,420.7 48.4,420.8 49.0,421.1 49.5,421.2 50.0,421.3 50.6,421.3 51.1,421.6 51.6,422.0 52.2,422.2 52.7,422.3 53.2,422.8 53.8,422.6 54.3,422.6 54.8,422.7 55.4,422.6 55.9,422.4 56.4,422.6 57.0,422.5 57.5,422.5 58.0,422.5 58.6,422.7 59.1,422.4 59.6,422.6 60.2,422.7 60.7,422.7 61.2,422.9 61.8,423.0 62.3,422.9 62.8,423.1 63.4,423.3 63.9,423.2 64.4,423.6 65.0,423.5 65.5,423.7 66.0,424.0 66.6,423.9 67.1,424.3 67.6,424.2 68.2,424.5 68.7,424.5 69.2,424.5 69.8,424.7 70.3,425.0 70.8,425.1 71.4,425.3 71.9,425.6 72.4,425.8 73.0,425.8 73.5,425.9 74.0,426.4 74.6,426.3 75.1,426.4 75.6,426.7 76.2,427.1 76.7,427.1 77.2,427.6 77.8,427.6 78.3,427.8 78.8,428.5 79.4,428.4 79.9,428.5 80.4,428.6 81.0,428.9 81.5,429.0 82.0,429.2 82.6,429.1 83.1,429.1 83.6,429.3 84.2,429.5 84.7,429.5 85.2,429.7 85.8,430.0 86.3,430.3 86.8,430.6 87.4,431.0 87.9,431.4 88.4,431.2 89.0,431.3 89.5,431.6 90.0,431.5 90.6,431.3 91.1,431.1 91.6,431.1 92.2,431.0 92.7,431.3 93.2,431.2 93.8,431.3 94.3,431.5 94.8,431.3 95.4,431.4 95.9,431.4 96.4,431.7 97.0,431.6 97.5,432.0 98.0,431.9 98.6,432.5 99.1,432.3 99.6,432.2 100.2,432.5 100.7,432.5 101.2,432.9 101.8,432.6 102.3,432.8 102.8,433.0 103.4,433.1 103.9,433.3 104.4,433.2 105.0,433.5 105.5,433.9 106.0,433.9 106.6,433.8 107.1,433.9 107.6,434.1 108.2,434.1 108.7,434.2 109.2,434.3 109.8,434.8 110.3,434.9 110.8,434.8 111.4,435.2 111.9,435.3 112.4,435.2 113.0,435.7 113.5,435.8 114.0,436.1 114.6,436.2 115.1,436.2 115.6,436.4 116.2,436.5 116.7,436.0 117.2,436.2 117.8,436.0 118.3,436.0 118.8,435.9 119.4,435.8 119.9,435.7 120.4,435.9 121.0,435.6 121.5,436.1 122.0,436.1 122.6,436.0 123.1,436.4 123.6,436.2 124.2,436.4 124.7,436.3 125.2,436.2 125.8,436.0 126.3,436.0 126.8,435.9 127.4,435.9 127.9,436.3 128.4,436.4 129.0,436.3 129.5,436.4 130.0,436.4 130.6,436.3 131.1,436.1 131.6,436.1 132.2,436.0 132.7,436.0 133.2,435.8 133.8,436.1 134.3,436.3 134.8,436.1 135.4,436.1 135.9,436.1 136.4,436.3 137.0,436.0 137.5,436.1 138.0,436.1 138.6,436.4 139.1,436.1 139.6,436.2 140.2,436.0 140.7,436.2 141.2,436.3 141.8,436.1 142.3,436.2 142.8,436.0 143.4,436.2 143.9,436.0 144.4,436.1 145.0,436.5 145.5,436.9 146.0,437.2 146.6,437.0 147.1,437.0 147.6,436.8 148.2,436.8 148.7,437.1 149.2,436.7 149.8,436.5 150.3,436.6 150.8,436.5 151.4,436.5 151.9,436.6 152.4,436.7 153.0,436.4 153.5,436.4 154.0,436.5 154.6,436.5 155.1,436.6 155.6,436.6 156.2,436.6 156.7,436.7 157.2,436.7 157.8,436.8 158.3,436.8 158.8,436.7 159.4,436.8 159.9,437.1 160.4,436.8 161.0,437.1 161.5,436.5 162.0,436.7 162.6,436.7 163.1,436.9 163.6,437.0 164.2,436.9 164.7,436.9 165.2,437.0 165.8,436.9 166.3,436.8 166.8,436.9 167.4,437.1 167.9,437.2 168.4,437.0 169.0,437.1 169.5,437.0 170.0,436.9 170.6,437.0 171.1,437.2 171.6,437.2 172.2,437.2 172.7,437.5 173.2,437.6 173.8,437.6 174.3,437.8 174.8,438.0 175.4,438.5 175.9,439.7 176.4,441.5 177.0,443.1 177.5,444.9 178.0,445.8 178.6,446.1 179.1,446.5 179.6,446.2 180.2,446.5 180.7,446.3 181.2,446.5 181.8,446.6 182.3,446.5 182.8,446.5 183.4,446.2 183.9,446.0 184.4,445.8 185.0,445.6 185.5,445.6 186.0,445.3 186.6,445.4 187.1,445.0 187.6,444.9 188.2,444.9 188.7,445.1 189.2,444.7 189.8,445.2 190.3,445.2 190.8,445.4 191.4,445.2 191.9,445.6 192.4,445.5 193.0,446.0 193.5,446.1 194.0,446.4 194.6,446.5 195.1,447.0 195.6,447.4 196.2,447.5 196.7,448.1 197.2,448.4 197.8,448.4 198.3,448.9 198.8,448.7 199.4,449.0 199.9,449.3 200.4,449.2 201.0,449.1 201.5,449.2 202.0,449.2 202.6,449.0 203.1,449.0 203.6,449.1 204.2,449.3 204.7,449.5 205.2,449.6 205.8,449.5 206.3,449.7 206.8,449.8 207.4,449.8 207.9,450.0 208.4,449.9 209.0,449.9 209.5,449.5 210.0,450.0 210.6,449.6 211.1,449.5 211.6,449.5 212.2,449.2 212.7,449.4 213.2,449.5 213.8,449.8 214.3,449.6 214.8,449.8 215.4,449.8 215.9,449.9 216.4,450.1 217.0,450.0 217.5,450.0 218.0,450.2 218.6,450.5 219.1,450.8 219.6,450.6 220.2,450.7 220.7,450.9 221.2,450.9 221.8,450.6 222.3,450.7 222.8,450.3 223.4,450.4 223.9,450.2 224.4,449.8 225.0,449.6 225.5,449.0" fill="none" stroke="#e040d0" stroke-width="1.3" stroke-linejoin="round"/>
<polyline points="25.5,417.4 26.0,417.7 26.6,417.5 27.1,417.8 27.6,417.8 28.2,417.9 28.7,418.1 29.2,418.2 29.8,418.5 30.3,418.5 30.8,418.6 31.4,418.3 31.9,418.5 32.4,418.9 33.0,418.8 33.5,418.9 34.0,419.1 34.6,419.1 35.1,419.2 35.6,419.5 36.2,419.5 36.7,419.6 37.2,419.8 37.8,419.8 38.3,419.9 38.8,420.1 39.4,420.3 39.9,420.2 40.4,420.3 41.0,420.6 41.5,421.0 42.0,421.0 42.6,421.3 43.1,421.5 43.6,421.8 44.2,422.3 44.7,422.5 45.2,422.8 45.8,422.9 46.3,422.5 46.8,422.7 47.4,423.0 47.9,422.8 48.4,423.0 49.0,423.0 49.5,423.3 50.0,423.5 50.6,423.7 51.1,423.9 51.6,424.1 52.2,424.4 52.7,424.6 53.2,424.7 53.8,424.9 54.3,424.7 54.8,424.7 55.4,424.7 55.9,424.6 56.4,424.8 57.0,424.7 57.5,424.8 58.0,424.6 58.6,424.8 59.1,424.8 59.6,424.8 60.2,425.1 60.7,424.9 61.2,425.1 61.8,425.2 62.3,425.3 62.8,425.3 63.4,425.4 63.9,425.4 64.4,425.7 65.0,425.9 65.5,426.0 66.0,426.0 66.6,426.0 67.1,426.3 67.6,426.6 68.2,426.6 68.7,426.7 69.2,426.9 69.8,427.2 70.3,427.5 70.8,427.4 71.4,427.4 71.9,427.7 72.4,428.1 73.0,428.0 73.5,428.4 74.0,428.1 74.6,428.5 75.1,428.9 75.6,428.8 76.2,429.3 76.7,429.3 77.2,429.7 77.8,430.1 78.3,430.1 78.8,430.6 79.4,430.4 79.9,430.7 80.4,431.0 81.0,431.2 81.5,430.9 82.0,431.0 82.6,431.5 83.1,431.2 83.6,431.4 84.2,431.5 84.7,431.7 85.2,432.0 85.8,432.0 86.3,432.5 86.8,433.0 87.4,432.7 87.9,433.1 88.4,433.5 89.0,433.6 89.5,433.7 90.0,433.5 90.6,433.4 91.1,433.4 91.6,433.5 92.2,433.5 92.7,433.3 93.2,433.5 93.8,433.3 94.3,433.7 94.8,433.6 95.4,433.7 95.9,433.9 96.4,433.7 97.0,434.0 97.5,434.2 98.0,434.2 98.6,434.2 99.1,434.6 99.6,434.4 100.2,434.6 100.7,434.8 101.2,434.7 101.8,434.8 102.3,435.0 102.8,435.2 103.4,435.1 103.9,435.3 104.4,435.8 105.0,435.8 105.5,435.9 106.0,436.1 106.6,436.4 107.1,436.1 107.6,436.2 108.2,436.3 108.7,436.2 109.2,436.6 109.8,436.6 110.3,436.7 110.8,437.0 111.4,437.1 111.9,437.1 112.4,437.4 113.0,437.3 113.5,437.7 114.0,437.7 114.6,438.0 115.1,437.9 115.6,438.0 116.2,437.7 116.7,437.8 117.2,437.8 117.8,437.5 118.3,437.5 118.8,437.5 119.4,437.7 119.9,437.7 120.4,437.4 121.0,437.5 121.5,437.7 122.0,437.8 122.6,438.2 123.1,437.9 123.6,438.2 124.2,438.1 124.7,437.9 125.2,438.1 125.8,437.6 126.3,437.5 126.8,437.5 127.4,437.8 127.9,437.8 128.4,438.2 129.0,437.9 129.5,438.0 130.0,438.0 130.6,438.0 131.1,437.7 131.6,437.5 132.2,437.9 132.7,437.8 133.2,438.0 133.8,437.6 134.3,437.7 134.8,437.5 135.4,437.8 135.9,437.8 136.4,437.9 137.0,437.7 137.5,438.0 138.0,437.7 138.6,437.8 139.1,437.9 139.6,438.0 140.2,437.7 140.7,437.6 141.2,437.9 141.8,437.7 142.3,437.5 142.8,437.8 143.4,437.7 143.9,437.8 144.4,437.8 145.0,438.1 145.5,438.5 146.0,438.8 146.6,438.8 147.1,438.7 147.6,438.6 148.2,438.4 148.7,438.4 149.2,438.4 149.8,438.2 150.3,438.2 150.8,438.3 151.4,438.3 151.9,438.1 152.4,438.2 153.0,438.3 153.5,438.1 154.0,438.2 154.6,438.1 155.1,438.4 155.6,438.2 156.2,438.2 156.7,438.5 157.2,438.2 157.8,438.2 158.3,438.5 158.8,438.1 159.4,438.6 159.9,438.5 160.4,438.5 161.0,438.3 161.5,438.3 162.0,438.4 162.6,438.2 163.1,438.4 163.6,438.3 164.2,438.1 164.7,438.5 165.2,438.9 165.8,438.6 166.3,438.7 166.8,438.6 167.4,438.6 167.9,438.7 168.4,438.8 169.0,438.7 169.5,438.7 170.0,439.1 170.6,438.7 171.1,438.9 171.6,438.9 172.2,439.0 172.7,439.2 173.2,439.2 173.8,439.2 174.3,439.2 174.8,439.4 175.4,440.0 175.9,441.1 176.4,442.3 177.0,444.0 177.5,445.6 178.0,446.8 178.6,446.8 179.1,447.0 179.6,446.7 180.2,446.9 180.7,447.1 181.2,447.1 181.8,446.7 182.3,446.9 182.8,447.0 183.4,446.7 183.9,446.7 184.4,446.5 185.0,446.1 185.5,445.7 186.0,445.6 186.6,445.7 187.1,445.7 187.6,445.5 188.2,445.3 188.7,445.7 189.2,445.8 189.8,445.4 190.3,445.7 190.8,445.6 191.4,445.9 191.9,445.8 192.4,446.2 193.0,446.3 193.5,446.4 194.0,446.7 194.6,447.1 195.1,447.2 195.6,447.8 196.2,448.2 196.7,448.3 197.2,448.5 197.8,448.8 198.3,449.2 198.8,449.1 199.4,449.3 199.9,449.6 200.4,449.9 201.0,449.4 201.5,449.4 202.0,449.5 202.6,449.7 203.1,449.7 203.6,449.4 204.2,449.5 204.7,449.7 205.2,449.9 205.8,449.9 206.3,450.2 206.8,450.3 207.4,450.4 207.9,450.3 208.4,450.3 209.0,450.1 209.5,450.0 210.0,450.2 210.6,449.8 211.1,450.1 211.6,449.8 212.2,449.7 212.7,449.7 213.2,450.3 213.8,449.9 214.3,449.9 214.8,449.9 215.4,450.5 215.9,450.4 216.4,450.4 217.0,450.5 217.5,450.4 218.0,450.8 218.6,450.7 219.1,450.9 219.6,451.2 220.2,451.3 220.7,451.3 221.2,451.2 221.8,450.9 222.3,450.9 222.8,450.6 223.4,450.9 223.9,450.9 224.4,450.3 225.0,449.8 225.5,449.5" fill="none" stroke="#e03060" stroke-width="1.3" stroke-linejoin="round"/>
<polyline points="25.5,435.1 26.0,435.0 26.6,434.8 27.1,435.1 27.6,435.2 28.2,435.3 28.7,434.9 29.2,435.2 29.8,435.2 30.3,435.1 30.8,435.2 31.4,435.5 31.9,435.2 32.4,435.3 33.0,435.4 33.5,435.3 34.0,435.6 34.6,435.5 35.1,435.6 35.6,435.5 36.2,435.7 36.7,435.6 37.2,435.8 37.8,435.7 38.3,435.8 38.8,435.8 39.4,435.8 39.9,435.9 40.4,435.9 41.0,436.2 41.5,435.8 42.0,436.1 42.6,436.2 43.1,436.3 43.6,436.1 44.2,436.5 44.7,436.4 45.2,436.3 45.8,436.3 46.3,436.3 46.8,436.4 47.4,436.7 47.9,436.4 48.4,436.4 49.0,436.5 49.5,436.6 50.0,436.7 50.6,436.9 51.1,436.7 51.6,436.7 52.2,437.1 52.7,436.9 53.2,437.0 53.8,436.9 54.3,437.0 54.8,436.9 55.4,436.9 55.9,436.9 56.4,437.3 57.0,437.0 57.5,437.1 58.0,437.3 58.6,437.0 59.1,437.3 59.6,437.0 60.2,436.9 60.7,437.3 61.2,437.1 61.8,437.2 62.3,437.2 62.8,437.5 63.4,437.3 63.9,437.4 64.4,437.3 65.0,437.4 65.5,437.3 66.0,437.5 66.6,437.5 67.1,437.4 67.6,437.6 68.2,437.5 68.7,437.7 69.2,437.7 69.8,437.9 70.3,437.7 70.8,437.7 71.4,437.9 71.9,437.9 72.4,438.0 73.0,438.2 73.5,438.1 74.0,438.0 74.6,438.3 75.1,438.5 75.6,438.3 76.2,438.5 76.7,438.2 77.2,438.5 77.8,438.6 78.3,438.7 78.8,438.7 79.4,438.8 79.9,438.9 80.4,438.8 81.0,439.0 81.5,438.7 82.0,439.1 82.6,439.0 83.1,439.1 83.6,439.2 84.2,438.8 84.7,439.4 85.2,438.9 85.8,439.4 86.3,439.3 86.8,439.1 87.4,439.7 87.9,439.7 88.4,439.4 89.0,439.6 89.5,439.7 90.0,439.6 90.6,439.7 91.1,439.6 91.6,439.4 92.2,439.6 92.7,439.6 93.2,439.4 93.8,439.4 94.3,439.7 94.8,439.6 95.4,439.8 95.9,439.8 96.4,439.8 97.0,439.8 97.5,440.0 98.0,440.1 98.6,440.0 99.1,439.9 99.6,439.8 100.2,440.0 100.7,440.0 101.2,439.9 101.8,440.0 102.3,440.1 102.8,440.1 103.4,439.9 103.9,440.3 104.4,440.3 105.0,440.5 105.5,440.3 106.0,440.4 106.6,440.1 107.1,440.5 107.6,440.3 108.2,440.4 108.7,440.4 109.2,441.0 109.8,440.7 110.3,441.1 110.8,441.3 111.4,441.6 111.9,441.8 112.4,441.9 113.0,442.4 113.5,442.2 114.0,442.4 114.6,442.6 115.1,442.6 115.6,442.3 116.2,442.6 116.7,442.7 117.2,442.4 117.8,442.7 118.3,442.6 118.8,442.6 119.4,442.6 119.9,442.4 120.4,442.4 121.0,442.6 121.5,442.6 122.0,442.7 122.6,442.8 123.1,442.8 123.6,442.9 124.2,442.9 124.7,442.8 125.2,442.9 125.8,442.7 126.3,442.7 126.8,442.8 127.4,442.8 127.9,442.8 128.4,442.8 129.0,442.8 129.5,442.9 130.0,442.9 130.6,442.6 131.1,442.7 131.6,442.8 132.2,442.7 132.7,442.8 133.2,442.8 133.8,442.8 134.3,442.5 134.8,442.7 135.4,442.7 135.9,442.9 136.4,442.8 137.0,442.6 137.5,442.8 138.0,442.8 138.6,442.7 139.1,442.8 139.6,442.7 140.2,442.9 140.7,442.9 141.2,443.0 141.8,442.6 142.3,442.9 142.8,442.9 143.4,442.7 143.9,443.0 144.4,443.0 145.0,443.2 145.5,443.2 146.0,443.3 146.6,443.2 147.1,443.2 147.6,443.3 148.2,443.2 148.7,443.2 149.2,443.2 149.8,443.0 150.3,443.1 150.8,443.1 151.4,443.3 151.9,443.1 152.4,443.3 153.0,443.1 153.5,443.2 154.0,443.3 154.6,443.3 155.1,443.3 155.6,443.0 156.2,443.3 156.7,443.3 157.2,443.1 157.8,443.2 158.3,443.1 158.8,443.5 159.4,443.4 159.9,442.9 160.4,443.3 161.0,443.4 161.5,443.3 162.0,443.2 162.6,443.5 163.1,443.3 163.6,443.4 164.2,443.3 164.7,443.3 165.2,443.5 165.8,443.5 166.3,443.7 166.8,443.3 167.4,443.6 167.9,443.5 168.4,443.2 169.0,443.5 169.5,443.4 170.0,443.5 170.6,443.4 171.1,443.5 171.6,443.6 172.2,443.4 172.7,443.6 173.2,443.8 173.8,443.7 174.3,443.6 174.8,443.9 175.4,443.8 175.9,444.4 176.4,445.1 177.0,446.3 177.5,446.9 178.0,447.7 178.6,447.7 179.1,447.6 179.6,447.6 180.2,447.7 180.7,447.7 181.2,447.8 181.8,447.8 182.3,447.7 182.8,447.6 183.4,447.5 183.9,447.3 184.4,447.2 185.0,447.5 185.5,447.3 186.0,447.2 186.6,447.2 187.1,446.9 187.6,446.9 188.2,447.0 188.7,447.0 189.2,446.9 189.8,447.1 190.3,447.2 190.8,447.0 191.4,447.1 191.9,447.1 192.4,447.3 193.0,447.4 193.5,447.7 194.0,447.8 194.6,447.9 195.1,448.4 195.6,448.1 196.2,448.2 196.7,448.5 197.2,448.7 197.8,448.6 198.3,448.9 198.8,448.8 199.4,448.7 199.9,449.0 200.4,449.0 201.0,449.1 201.5,449.1 202.0,449.1 202.6,449.2 203.1,449.0 203.6,449.4 204.2,449.3 204.7,449.2 205.2,449.5 205.8,449.4 206.3,449.6 206.8,449.5 207.4,449.5 207.9,449.4 208.4,449.5 209.0,449.6 209.5,449.5 210.0,449.4 210.6,449.3 211.1,449.7 211.6,449.4 212.2,449.6 212.7,449.3 213.2,449.4 213.8,449.4 214.3,449.4 214.8,449.5 215.4,449.6 215.9,449.6 216.4,449.5 217.0,449.7 217.5,449.8 218.0,450.0 218.6,449.7 219.1,450.0 219.6,450.1 220.2,450.1 220.7,450.2 221.2,450.0 221.8,449.8 222.3,449.8 222.8,449.6 223.4,449.5 223.9,449.8 224.4,449.5 225.0,449.2 225.5,448.9" fill="none" stroke="#909090" stroke-width="1.3" stroke-linejoin="round"/>
<polyline points="25.5,441.9 26.0,441.9 26.6,441.7 27.1,441.8 27.6,442.0 28.2,441.8 28.7,442.0 29.2,442.3 29.8,442.0 30.3,442.0 30.8,442.0 31.4,442.0 31.9,442.1 32.4,442.2 33.0,442.3 33.5,442.5 34.0,442.4 34.6,442.2 35.1,442.3 35.6,442.1 36.2,442.5 36.7,442.7 37.2,442.4 37.8,442.4 38.3,442.8 38.8,442.9 39.4,442.7 39.9,442.6 40.4,442.9 41.0,442.9 41.5,443.0 42.0,443.1 42.6,443.1 43.1,443.0 43.6,443.1 44.2,443.2 44.7,443.5 45.2,443.0 45.8,443.4 46.3,443.3 46.8,443.5 47.4,443.3 47.9,443.6 48.4,443.4 49.0,443.5 49.5,443.4 50.0,443.7 50.6,443.7 51.1,443.7 51.6,443.4 52.2,443.9 52.7,443.7 53.2,443.9 53.8,443.8 54.3,443.8 54.8,443.9 55.4,443.9 55.9,443.9 56.4,444.1 57.0,444.1 57.5,444.3 58.0,444.2 58.6,444.3 59.1,444.2 59.6,444.1 60.2,444.2 60.7,444.2 61.2,444.2 61.8,444.7 62.3,444.4 62.8,444.5 63.4,444.5 63.9,444.7 64.4,444.5 65.0,444.5 65.5,444.5 66.0,444.7 66.6,444.7 67.1,444.7 67.6,444.6 68.2,444.7 68.7,444.9 69.2,444.9 69.8,445.0 70.3,445.0 70.8,445.1 71.4,445.0 71.9,445.2 72.4,445.3 73.0,445.2 73.5,445.4 74.0,445.3 74.6,445.6 75.1,445.3 75.6,445.4 76.2,445.5 76.7,445.5 77.2,445.6 77.8,445.7 78.3,445.4 78.8,445.8 79.4,445.6 79.9,445.6 80.4,445.9 81.0,445.9 81.5,446.0 82.0,445.8 82.6,446.0 83.1,446.2 83.6,445.9 84.2,446.0 84.7,446.3 85.2,446.0 85.8,446.2 86.3,445.9 86.8,446.1 87.4,446.5 87.9,446.5 88.4,446.6 89.0,446.5 89.5,446.5 90.0,446.5 90.6,446.6 91.1,446.8 91.6,446.8 92.2,446.5 92.7,446.6 93.2,446.8 93.8,446.8 94.3,446.9 94.8,446.9 95.4,447.2 95.9,446.9 96.4,447.1 97.0,447.0 97.5,447.4 98.0,447.1 98.6,447.0 99.1,447.5 99.6,447.1 100.2,447.2 100.7,447.4 101.2,447.6 101.8,447.3 102.3,447.4 102.8,447.4 103.4,447.6 103.9,447.7 104.4,447.5 105.0,447.8 105.5,447.6 106.0,448.0 106.6,447.9 107.1,448.0 107.6,447.6 108.2,448.0 108.7,448.0 109.2,447.8 109.8,447.9 110.3,447.6 110.8,447.7 111.4,447.9 111.9,447.9 112.4,448.3 113.0,448.2 113.5,448.1 114.0,448.1 114.6,448.3 115.1,448.3 115.6,448.3 116.2,448.0 116.7,448.1 117.2,448.2 117.8,448.2 118.3,448.1 118.8,448.2 119.4,448.2 119.9,448.4 120.4,448.1 121.0,448.0 121.5,448.1 122.0,448.1 122.6,448.1 123.1,447.9 123.6,448.2 124.2,448.4 124.7,448.4 125.2,448.1 125.8,448.1 126.3,448.1 126.8,448.1 127.4,448.2 127.9,448.4 128.4,448.3 129.0,448.5 129.5,448.3 130.0,448.4 130.6,448.2 131.1,448.3 131.6,448.5 132.2,448.2 132.7,448.2 133.2,448.4 133.8,448.2 134.3,448.2 134.8,448.3 135.4,448.2 135.9,448.3 136.4,448.1 137.0,448.3 137.5,448.3 138.0,448.2 138.6,448.2 139.1,448.3 139.6,448.4 140.2,448.4 140.7,448.4 141.2,448.4 141.8,448.3 142.3,448.3 142.8,448.3 143.4,448.3 143.9,448.3 144.4,448.1 145.0,448.2 145.5,448.5 146.0,448.3 146.6,448.4 147.1,448.4 147.6,448.4 148.2,448.5 148.7,448.6 149.2,448.7 149.8,448.4 150.3,448.2 150.8,448.5 151.4,448.3 151.9,448.5 152.4,448.4 153.0,448.5 153.5,448.4 154.0,448.4 154.6,448.7 155.1,448.4 155.6,448.5 156.2,448.8 156.7,448.4 157.2,448.5 157.8,448.4 158.3,448.4 158.8,448.5 159.4,448.6 159.9,448.5 160.4,448.5 161.0,448.2 161.5,448.2 162.0,448.6 162.6,448.5 163.1,448.4 163.6,448.4 164.2,448.6 164.7,448.6 165.2,448.2 165.8,448.4 166.3,448.7 166.8,448.8 167.4,448.6 167.9,448.5 168.4,448.5 169.0,448.6 169.5,448.8 170.0,448.5 170.6,448.5 171.1,448.6 171.6,448.6 172.2,448.5 172.7,448.6 173.2,448.7 173.8,448.6 174.3,448.8 174.8,448.5 175.4,448.6 175.9,449.1 176.4,449.2 177.0,449.5 177.5,450.2 178.0,450.2 178.6,450.0 179.1,450.4 179.6,450.2 180.2,450.4 180.7,450.2 181.2,450.6 181.8,450.5 182.3,450.3 182.8,450.2 183.4,450.2 183.9,450.2 184.4,450.0 185.0,450.1 185.5,450.1 186.0,450.3 186.6,450.2 187.1,449.7 187.6,449.9 188.2,450.1 188.7,450.1 189.2,450.0 189.8,450.2 190.3,449.9 190.8,450.2 191.4,450.2 191.9,449.9 192.4,450.5 193.0,450.1 193.5,450.4 194.0,450.3 194.6,450.2 195.1,450.2 195.6,450.2 196.2,450.3 196.7,450.2 197.2,450.4 197.8,450.3 198.3,450.4 198.8,450.1 199.4,450.4 199.9,450.1 200.4,450.3 201.0,450.3 201.5,450.1 202.0,450.2 202.6,450.5 203.1,450.1 203.6,450.6 204.2,450.2 204.7,450.3 205.2,450.4 205.8,450.2 206.3,450.3 206.8,449.9 207.4,450.3 207.9,450.0 208.4,450.0 209.0,450.3 209.5,450.3 210.0,450.0 210.6,450.2 211.1,450.2 211.6,450.2 212.2,450.3 212.7,450.2 213.2,450.3 213.8,450.4 214.3,450.2 214.8,449.9 215.4,450.0 215.9,450.2 216.4,450.2 217.0,450.1 217.5,450.0 218.0,450.2 218.6,450.3 219.1,450.3 219.6,450.1 220.2,449.9 220.7,450.3 221.2,450.5 221.8,450.1 222.3,450.2 222.8,450.2 223.4,450.1 223.9,450.2 224.4,450.4 225.0,450.5 225.5,450.2" fill="none" stroke="#f0a030" stroke-width="1.3" stroke-linejoin="round"/>
<polyline points="25.5,320.8 26.0,320.6 26.6,320.9 27.1,320.8 27.6,321.0 28.2,320.9 28.7,321.0 29.2,320.9 29.8,320.8 30.3,321.1 30.8,321.2 31.4,320.9 31.9,321.1 32.4,321.1 33.0,321.2 33.5,321.1 34.0,321.3 34.6,321.4 35.1,321.5 35.6,321.8 36.2,321.9 36.7,321.9 37.2,322.0 37.8,322.1 38.3,322.2 38.8,322.3 39.4,322.4 39.9,322.7 40.4,322.9 41.0,323.8 41.5,324.8 42.0,325.5 42.6,326.4 43.1,327.5 43.6,329.2 44.2,330.4 44.7,331.7 45.2,332.3 45.8,332.1 46.3,331.5 46.8,331.1 47.4,330.6 47.9,330.0 48.4,330.6 49.0,331.2 49.5,331.3 50.0,331.9 50.6,332.7 51.1,333.3 51.6,334.0 52.2,335.2 52.7,335.7 53.2,336.3 53.8,335.8 54.3,335.0 54.8,334.1 55.4,333.6 55.9,333.0 56.4,332.2 57.0,331.7 57.5,331.1 58.0,331.1 58.6,330.4 59.1,330.4 59.6,329.8 60.2,329.7 60.7,329.4 61.2,329.4 61.8,329.5 62.3,329.6 62.8,329.9 63.4,330.0 63.9,330.1 64.4,330.2 65.0,330.4 65.5,330.3 66.0,330.7 66.6,330.9 67.1,331.3 67.6,331.6 68.2,332.1 68.7,332.4 69.2,332.8 69.8,332.9 70.3,333.2 70.8,333.4 71.4,334.2 71.9,334.1 72.4,335.0 73.0,335.3 73.5,335.9 74.0,336.9 74.6,337.1 75.1,337.3 75.6,338.5 76.2,339.1 76.7,340.4 77.2,341.3 77.8,342.3 78.3,343.6 78.8,344.4 79.4,344.8 79.9,345.1 80.4,345.2 81.0,345.1 81.5,345.8 82.0,345.7 82.6,345.7 83.1,345.7 83.6,345.4 84.2,345.2 84.7,345.6 85.2,346.7 85.8,348.0 86.3,348.9 86.8,350.7 87.4,351.3 87.9,351.9 88.4,352.6 89.0,353.4 89.5,352.6 90.0,351.6 90.6,350.8 91.1,350.2 91.6,349.3 92.2,348.3 92.7,348.0 93.2,348.0 93.8,347.8 94.3,347.6 94.8,346.9 95.4,347.0 95.9,346.8 96.4,346.6 97.0,346.6 97.5,346.9 98.0,347.3 98.6,347.3 99.1,347.5 99.6,347.6 100.2,347.8 100.7,347.9 101.2,348.1 101.8,348.1 102.3,348.4 102.8,348.8 103.4,349.1 103.9,349.2 104.4,349.2 105.0,349.5 105.5,349.8 106.0,350.5 106.6,350.4 107.1,350.5 107.6,351.4 108.2,353.3 108.7,355.7 109.2,358.8 109.8,361.9 110.3,366.0 110.8,370.3 111.4,374.5 111.9,378.8 112.4,382.9 113.0,386.9 113.5,390.4 114.0,393.3 114.6,395.8 115.1,397.6 115.6,398.4 116.2,398.6 116.7,398.2 117.2,397.8 117.8,397.0 118.3,396.2 118.8,395.4 119.4,394.6 119.9,394.0 120.4,393.3 121.0,392.7 121.5,393.5 122.0,394.6 122.6,395.3 123.1,395.4 123.6,395.1 124.2,394.7 124.7,394.6 125.2,393.1 125.8,391.9 126.3,390.8 126.8,389.6 127.4,390.3 127.9,390.8 128.4,391.4 129.0,391.5 129.5,391.1 130.0,390.0 130.6,389.4 131.1,388.5 131.6,388.1 132.2,387.1 132.7,386.8 133.2,386.7 133.8,386.7 134.3,386.3 134.8,385.9 135.4,386.0 135.9,385.8 136.4,385.3 137.0,385.2 137.5,384.8 138.0,384.9 138.6,384.9 139.1,384.6 139.6,384.2 140.2,384.5 140.7,384.2 141.2,384.1 141.8,384.0 142.3,383.5 142.8,383.3 143.4,382.9 143.9,382.9 144.4,383.8 145.0,386.1 145.5,387.9 146.0,389.4 146.6,388.8 147.1,388.2 147.6,387.9 148.2,387.4 148.7,386.9 149.2,386.2 149.8,386.1 150.3,385.5 150.8,385.4 151.4,385.1 151.9,384.7 152.4,384.7 153.0,384.5 153.5,384.0 154.0,384.1 154.6,384.1 155.1,384.1 155.6,384.0 156.2,384.1 156.7,384.0 157.2,384.0 157.8,383.9 158.3,383.9 158.8,384.0 159.4,384.1 159.9,384.1 160.4,384.2 161.0,383.7 161.5,384.1 162.0,384.0 162.6,383.9 163.1,384.4 163.6,384.5 164.2,384.7 164.7,385.0 165.2,385.3 165.8,385.4 166.3,385.4 166.8,385.7 167.4,386.1 167.9,386.3 168.4,387.0 169.0,387.2 169.5,387.9 170.0,388.7 170.6,389.2 171.1,389.9 171.6,390.6 172.2,391.5 172.7,392.4 173.2,393.3 173.8,394.0 174.3,394.8 174.8,395.7 175.4,397.2 175.9,401.0 176.4,405.6 177.0,411.5 177.5,415.9 178.0,419.2 178.6,420.1 179.1,420.6 179.6,420.9 180.2,421.4 180.7,421.8 181.2,422.0 181.8,422.5 182.3,421.9 182.8,421.1 183.4,420.8 183.9,419.7 184.4,418.6 185.0,417.8 185.5,417.3 186.0,416.6 186.6,416.0 187.1,415.4 187.6,414.7 188.2,414.8 188.7,415.0 189.2,415.7 189.8,415.7 190.3,416.2 190.8,416.1 191.4,416.3 191.9,416.8 192.4,417.7 193.0,418.5 193.5,419.4 194.0,420.3 194.6,421.2 195.1,422.4 195.6,424.3 196.2,425.1 196.7,426.8 197.2,428.2 197.8,429.0 198.3,429.8 198.8,430.5 199.4,431.1 199.9,431.4 200.4,431.5 201.0,431.2 201.5,431.2 202.0,431.0 202.6,430.5 203.1,430.5 203.6,430.2 204.2,431.0 204.7,431.5 205.2,432.2 205.8,432.7 206.3,433.3 206.8,433.9 207.4,434.4 207.9,434.4 208.4,433.9 209.0,433.7 209.5,433.4 210.0,433.0 210.6,432.7 211.1,432.1 211.6,432.0 212.2,431.8 212.7,432.0 213.2,432.1 213.8,432.5 214.3,432.8 214.8,433.0 215.4,433.2 215.9,433.4 216.4,433.8 217.0,434.7 217.5,435.1 218.0,435.9 218.6,435.9 219.1,436.4 219.6,436.9 220.2,437.6 220.7,438.0 221.2,437.9 221.8,437.3 222.3,436.9 222.8,436.2 223.4,435.6 223.9,434.7 224.4,433.4 225.0,431.8 225.5,429.8" fill="none" stroke="#a0b030" stroke-width="1.3" stroke-linejoin="round"/>
<polyline points="25.5,318.6 26.0,318.8 26.6,319.0 27.1,318.9 27.6,319.1 28.2,319.0 28.7,319.0 29.2,319.1 29.8,319.1 30.3,319.1 30.8,319.3 31.4,319.1 31.9,319.5 32.4,319.3 33.0,319.4 33.5,319.6 34.0,319.8 34.6,319.6 35.1,319.9 35.6,319.7 36.2,319.9 36.7,320.1 37.2,320.2 37.8,320.1 38.3,320.3 38.8,320.6 39.4,320.5 39.9,320.6 40.4,321.1 41.0,321.9 41.5,322.7 42.0,323.5 42.6,324.4 43.1,325.5 43.6,326.4 44.2,327.9 44.7,329.0 45.2,330.1 45.8,329.4 46.3,329.1 46.8,328.1 47.4,328.3 47.9,327.8 48.4,327.8 49.0,328.3 49.5,329.3 50.0,329.4 50.6,330.0 51.1,331.0 51.6,331.4 52.2,332.3 52.7,333.1 53.2,333.7 53.8,333.1 54.3,332.5 54.8,331.4 55.4,331.1 55.9,330.5 56.4,329.7 57.0,329.2 57.5,328.7 58.0,328.7 58.6,328.3 59.1,328.0 59.6,327.7 60.2,327.5 60.7,327.4 61.2,327.2 61.8,327.7 62.3,327.8 62.8,327.9 63.4,327.9 63.9,328.0 64.4,328.1 65.0,328.5 65.5,328.4 66.0,328.8 66.6,329.1 67.1,329.3 67.6,329.9 68.2,329.8 68.7,330.1 69.2,330.6 69.8,330.7 70.3,330.8 70.8,331.4 71.4,331.7 71.9,332.3 72.4,332.8 73.0,333.3 73.5,333.7 74.0,333.9 74.6,334.5 75.1,335.2 75.6,335.5 76.2,336.6 76.7,337.7 77.2,338.5 77.8,339.6 78.3,340.7 78.8,341.2 79.4,341.9 79.9,341.9 80.4,342.5 81.0,342.5 81.5,342.8 82.0,342.8 82.6,343.0 83.1,342.6 83.6,342.5 84.2,342.5 84.7,342.6 85.2,343.6 85.8,344.9 86.3,345.9 86.8,347.2 87.4,347.9 87.9,348.4 88.4,348.7 89.0,349.5 89.5,348.9 90.0,348.0 90.6,347.6 91.1,346.6 91.6,346.1 92.2,345.4 92.7,345.0 93.2,344.9 93.8,344.5 94.3,344.7 94.8,344.3 95.4,344.2 95.9,344.0 96.4,344.2 97.0,343.9 97.5,344.1 98.0,344.4 98.6,344.6 99.1,344.7 99.6,344.5 100.2,344.8 100.7,345.0 101.2,345.0 101.8,345.2 102.3,345.4 102.8,345.6 103.4,345.9 103.9,346.1 104.4,346.6 105.0,346.6 105.5,346.9 106.0,347.1 106.6,347.3 107.1,347.5 107.6,348.4 108.2,349.8 108.7,352.3 109.2,355.2 109.8,358.2 110.3,361.7 110.8,365.6 111.4,369.4 111.9,373.5 112.4,377.2 113.0,380.5 113.5,383.8 114.0,386.7 114.6,389.0 115.1,390.8 115.6,391.4 116.2,391.4 116.7,390.8 117.2,390.1 117.8,389.6 118.3,388.8 118.8,388.3 119.4,387.2 119.9,386.5 120.4,385.6 121.0,385.3 121.5,386.2 122.0,386.8 122.6,387.9 123.1,387.9 123.6,387.4 124.2,387.2 124.7,386.8 125.2,385.5 125.8,384.3 126.3,382.9 126.8,381.6 127.4,382.4 127.9,382.8 128.4,383.3 129.0,383.8 129.5,383.0 130.0,382.3 130.6,381.2 131.1,380.3 131.6,380.0 132.2,378.9 132.7,378.6 133.2,378.5 133.8,378.2 134.3,378.1 134.8,377.8 135.4,377.4 135.9,377.1 136.4,376.9 137.0,376.5 137.5,376.4 138.0,376.4 138.6,375.9 139.1,375.9 139.6,376.0 140.2,375.6 140.7,375.6 141.2,375.6 141.8,375.1 142.3,375.4 142.8,375.0 143.4,374.4 143.9,374.2 144.4,375.2 145.0,377.1 145.5,379.4 146.0,381.1 146.6,380.5 147.1,379.8 147.6,379.2 148.2,379.2 148.7,378.4 149.2,378.0 149.8,377.8 150.3,377.1 150.8,377.1 151.4,376.6 151.9,376.1 152.4,376.0 153.0,375.7 153.5,375.4 154.0,375.5 154.6,375.4 155.1,375.7 155.6,375.5 156.2,375.4 156.7,375.6 157.2,375.5 157.8,375.3 158.3,375.3 158.8,375.5 159.4,375.6 159.9,375.4 160.4,375.4 161.0,375.6 161.5,375.4 162.0,375.4 162.6,375.5 163.1,375.3 163.6,375.7 164.2,376.1 164.7,376.3 165.2,376.3 165.8,376.8 166.3,377.3 166.8,377.5 167.4,377.8 167.9,378.1 168.4,378.5 169.0,379.2 169.5,379.9 170.0,380.6 170.6,381.1 171.1,382.1 171.6,382.5 172.2,383.5 172.7,384.4 173.2,385.7 173.8,386.1 174.3,387.5 174.8,388.3 175.4,389.3 175.9,392.5 176.4,396.6 177.0,401.3 177.5,405.0 178.0,407.6 178.6,408.2 179.1,408.8 179.6,409.1 180.2,409.5 180.7,410.1 181.2,410.5 181.8,410.5 182.3,410.6 182.8,409.3 183.4,408.4 183.9,407.2 184.4,406.5 185.0,405.4 185.5,404.7 186.0,404.1 186.6,403.3 187.1,402.7 187.6,402.0 188.2,401.8 188.7,402.0 189.2,402.5 189.8,403.0 190.3,403.3 190.8,403.6 191.4,404.1 191.9,404.2 192.4,405.1 193.0,406.3 193.5,407.7 194.0,408.8 194.6,409.8 195.1,411.6 195.6,413.1 196.2,414.9 196.7,416.7 197.2,418.4 197.8,419.8 198.3,420.3 198.8,421.3 199.4,422.0 199.9,422.3 200.4,422.9 201.0,422.9 201.5,422.2 202.0,422.2 202.6,422.4 203.1,421.7 203.6,421.5 204.2,422.3 204.7,422.8 205.2,423.7 205.8,424.3 206.3,425.2 206.8,425.7 207.4,426.2 207.9,426.2 208.4,425.9 209.0,425.8 209.5,425.2 210.0,425.0 210.6,424.3 211.1,424.2 211.6,423.6 212.2,423.5 212.7,423.4 213.2,424.1 213.8,424.2 214.3,424.2 214.8,424.8 215.4,425.3 215.9,425.4 216.4,425.9 217.0,426.5 217.5,427.6 218.0,427.9 218.6,428.9 219.1,429.0 219.6,429.9 220.2,430.6 220.7,431.0 221.2,430.7 221.8,430.2 222.3,429.1 222.8,428.6 223.4,428.0 223.9,426.8 224.4,425.3 225.0,423.1 225.5,421.0" fill="none" stroke="#8c9a20" stroke-width="1.3" stroke-linejoin="round"/>
<polyline points="25.5,318.2 26.0,318.0 26.6,317.9 27.1,318.0 27.6,317.9 28.2,318.2 28.7,318.0 29.2,318.0 29.8,318.4 30.3,318.4 30.8,318.3 31.4,318.2 31.9,318.1 32.4,318.2 33.0,318.2 33.5,318.2 34.0,318.3 34.6,318.3 35.1,318.4 35.6,318.5 36.2,318.5 36.7,318.7 37.2,318.6 37.8,318.8 38.3,318.6 38.8,318.9 39.4,318.9 39.9,319.2 40.4,319.6 41.0,320.6 41.5,321.6 42.0,322.7 42.6,323.8 43.1,324.9 43.6,326.5 44.2,328.1 44.7,329.6 45.2,330.8 45.8,330.4 46.3,329.5 46.8,329.1 47.4,328.3 47.9,327.4 48.4,327.7 49.0,328.5 49.5,329.1 50.0,329.7 50.6,330.7 51.1,331.3 51.6,332.3 52.2,332.8 52.7,334.1 53.2,334.7 53.8,334.0 54.3,332.9 54.8,332.2 55.4,331.1 55.9,330.3 56.4,329.4 57.0,328.5 57.5,328.0 58.0,327.5 58.6,326.9 59.1,326.5 59.6,326.6 60.2,325.8 60.7,325.8 61.2,325.7 61.8,325.7 62.3,326.0 62.8,326.1 63.4,326.0 63.9,326.2 64.4,326.0 65.0,326.3 65.5,326.4 66.0,326.5 66.6,327.2 67.1,327.4 67.6,327.9 68.2,328.0 68.7,328.2 69.2,328.5 69.8,329.0 70.3,329.4 70.8,329.8 71.4,330.4 71.9,330.8 72.4,331.2 73.0,332.2 73.5,332.8 74.0,332.9 74.6,333.8 75.1,334.1 75.6,335.1 76.2,336.0 76.7,337.2 77.2,338.5 77.8,339.7 78.3,341.0 78.8,342.1 79.4,342.3 79.9,342.7 80.4,343.3 81.0,343.6 81.5,343.8 82.0,343.7 82.6,343.4 83.1,343.4 83.6,343.0 84.2,342.9 84.7,343.1 85.2,344.6 85.8,345.9 86.3,347.6 86.8,348.6 87.4,349.9 87.9,350.6 88.4,351.3 89.0,351.9 89.5,350.9 90.0,350.0 90.6,349.0 91.1,348.2 91.6,346.9 92.2,345.9 92.7,345.6 93.2,344.9 93.8,345.1 94.3,344.5 94.8,344.1 95.4,343.8 95.9,343.4 96.4,343.6 97.0,343.7 97.5,343.6 98.0,343.8 98.6,343.7 99.1,344.0 99.6,344.1 100.2,344.2 100.7,344.4 101.2,344.5 101.8,344.7 102.3,344.9 102.8,345.2 103.4,345.4 103.9,345.8 104.4,346.1 105.0,346.1 105.5,346.3 106.0,346.8 106.6,346.9 107.1,347.1 107.6,347.7 108.2,350.1 108.7,352.3 109.2,356.0 109.8,359.6 110.3,363.9 110.8,368.4 111.4,372.8 111.9,377.4 112.4,382.0 113.0,386.3 113.5,389.7 114.0,393.1 114.6,395.9 115.1,397.9 115.6,398.8 116.2,398.9 116.7,398.1 117.2,397.9 117.8,397.0 118.3,396.3 118.8,395.1 119.4,394.2 119.9,393.7 120.4,392.7 121.0,392.2 121.5,393.5 122.0,394.7 122.6,395.5 123.1,395.8 123.6,395.5 124.2,394.8 124.7,394.6 125.2,393.6 125.8,391.9 126.3,390.5 126.8,388.8 127.4,389.9 127.9,390.8 128.4,391.5 129.0,391.9 129.5,391.3 130.0,390.3 130.6,389.5 131.1,388.5 131.6,387.5 132.2,387.1 132.7,386.9 133.2,386.7 133.8,386.4 134.3,386.2 134.8,385.9 135.4,385.5 135.9,385.6 136.4,385.4 137.0,385.2 137.5,384.5 138.0,384.4 138.6,384.7 139.1,384.6 139.6,384.3 140.2,384.0 140.7,383.9 141.2,383.9 141.8,383.6 142.3,383.2 142.8,383.0 143.4,382.2 143.9,382.1 144.4,383.4 145.0,385.8 145.5,388.6 146.0,390.1 146.6,389.3 147.1,389.0 147.6,388.1 148.2,387.4 148.7,387.1 149.2,386.7 149.8,386.2 150.3,385.6 150.8,385.5 151.4,385.2 151.9,384.8 152.4,384.5 153.0,384.1 153.5,384.1 154.0,383.7 154.6,383.8 155.1,383.8 155.6,384.1 156.2,383.7 156.7,384.0 157.2,383.7 157.8,383.8 158.3,384.1 158.8,384.1 159.4,383.7 159.9,383.8 160.4,384.0 161.0,383.9 161.5,383.9 162.0,384.0 162.6,383.9 163.1,384.1 163.6,384.3 164.2,384.4 164.7,384.8 165.2,384.8 165.8,385.2 166.3,385.3 166.8,385.5 167.4,385.6 167.9,385.9 168.4,386.3 169.0,387.1 169.5,387.7 170.0,388.5 170.6,389.1 171.1,389.6 171.6,390.5 172.2,391.4 172.7,392.5 173.2,393.1 173.8,394.4 174.3,395.2 174.8,396.2 175.4,397.7 175.9,401.8 176.4,407.3 177.0,413.2 177.5,418.1 178.0,421.8 178.6,422.4 179.1,422.7 179.6,423.6 180.2,423.9 180.7,424.1 181.2,424.4 181.8,425.0 182.3,424.8 182.8,423.8 183.4,422.9 183.9,421.8 184.4,421.1 185.0,420.5 185.5,419.8 186.0,419.1 186.6,418.7 187.1,418.0 187.6,417.4 188.2,417.3 188.7,417.4 189.2,417.9 189.8,418.3 190.3,418.5 190.8,418.7 191.4,418.7 191.9,419.2 192.4,419.6 193.0,420.7 193.5,422.0 194.0,422.5 194.6,423.6 195.1,424.9 195.6,426.3 196.2,427.3 196.7,429.2 197.2,430.6 197.8,431.3 198.3,431.9 198.8,432.7 199.4,433.1 199.9,433.7 200.4,433.7 201.0,433.3 201.5,433.1 202.0,432.8 202.6,432.2 203.1,432.4 203.6,432.1 204.2,432.6 204.7,433.5 205.2,434.0 205.8,434.7 206.3,435.1 206.8,435.8 207.4,436.2 207.9,436.1 208.4,435.8 209.0,435.5 209.5,435.1 210.0,434.7 210.6,434.5 211.1,433.8 211.6,433.6 212.2,433.1 212.7,433.7 213.2,433.7 213.8,433.7 214.3,434.2 214.8,434.7 215.4,434.8 215.9,435.0 216.4,435.4 217.0,436.0 217.5,436.5 218.0,437.2 218.6,437.7 219.1,438.4 219.6,438.9 220.2,439.4 220.7,440.2 221.2,439.7 221.8,439.3 222.3,438.6 222.8,437.9 223.4,437.1 223.9,436.8 224.4,435.2 225.0,433.5 225.5,431.2" fill="none" stroke="#3a5aa8" stroke-width="1.3" stroke-linejoin="round"/>
<polyline points="25.5,323.4 26.0,323.5 26.6,323.6 27.1,323.7 27.6,323.7 28.2,323.8 28.7,323.9 29.2,324.0 29.8,324.1 30.3,324.2 30.8,324.3 31.4,324.4 31.9,324.5 32.4,324.5 33.0,324.6 33.5,324.7 34.0,324.8 34.6,324.9 35.1,325.0 35.6,325.1 36.2,325.2 36.7,325.3 37.2,325.4 37.8,325.4 38.3,325.5 38.8,325.7 39.4,325.8 39.9,326.0 40.4,326.2 41.0,326.3 41.5,326.5 42.0,326.7 42.6,326.9 43.1,327.0 43.6,327.2 44.2,327.4 44.7,327.6 45.2,327.8 45.8,328.0 46.3,328.2 46.8,328.4 47.4,328.6 47.9,328.8 48.4,329.1 49.0,329.3 49.5,329.5 50.0,329.7 50.6,330.0 51.1,330.2 51.6,330.4 52.2,330.6 52.7,330.8 53.2,331.0 53.8,331.2 54.3,331.4 54.8,331.6 55.4,331.8 55.9,332.0 56.4,332.1 57.0,332.3 57.5,332.5 58.0,332.7 58.6,332.9 59.1,333.1 59.6,333.3 60.2,333.5 60.7,333.7 61.2,333.8 61.8,334.0 62.3,334.2 62.8,334.4 63.4,334.6 63.9,334.8 64.4,335.0 65.0,335.2 65.5,335.4 66.0,335.7 66.6,335.9 67.1,336.2 67.6,336.5 68.2,336.8 68.7,337.0 69.2,337.3 69.8,337.6 70.3,337.9 70.8,338.1 71.4,338.4 71.9,338.7 72.4,339.0 73.0,339.3 73.5,339.5 74.0,339.8 74.6,340.1 75.1,340.4 75.6,340.6 76.2,340.9 76.7,341.2 77.2,341.5 77.8,341.8 78.3,342.0 78.8,342.3 79.4,342.5 79.9,342.7 80.4,342.9 81.0,343.1 81.5,343.3 82.0,343.5 82.6,343.7 83.1,343.9 83.6,344.1 84.2,344.3 84.7,344.5 85.2,344.7 85.8,344.9 86.3,345.1 86.8,345.3 87.4,345.5 87.9,345.7 88.4,345.9 89.0,346.1 89.5,346.3 90.0,346.5 90.6,346.7 91.1,346.9 91.6,347.1 92.2,347.3 92.7,347.5 93.2,347.7 93.8,347.8 94.3,348.0 94.8,348.2 95.4,348.3 95.9,348.5 96.4,348.7 97.0,348.8 97.5,349.0 98.0,349.2 98.6,349.3 99.1,349.5 99.6,349.7 100.2,349.8 100.7,350.0 101.2,350.2 101.8,350.3 102.3,350.5 102.8,350.7 103.4,350.8 103.9,351.0 104.4,351.2 105.0,351.4 105.5,351.5 106.0,351.8 106.6,352.0 107.1,352.2 107.6,352.5 108.2,352.7 108.7,353.0 109.2,353.2 109.8,353.4 110.3,353.7 110.8,353.9 111.4,354.1 111.9,354.4 112.4,354.6 113.0,354.9 113.5,355.2 114.0,355.8 114.6,356.7 115.1,357.9 115.6,359.6 116.2,361.7 116.7,364.3 117.2,367.2 117.8,369.9 118.3,372.1 118.8,373.6 119.4,374.5 119.9,374.8 120.4,374.8 121.0,374.6 121.5,374.5 122.0,374.3 122.6,374.3 123.1,374.2 123.6,374.2 124.2,374.1 124.7,374.1 125.2,374.0 125.8,374.0 126.3,373.9 126.8,373.9 127.4,373.9 127.9,373.8 128.4,373.8 129.0,373.7 129.5,373.7 130.0,373.7 130.6,373.6 131.1,373.6 131.6,373.5 132.2,373.5 132.7,373.5 133.2,373.5 133.8,373.5 134.3,373.5 134.8,373.5 135.4,373.6 135.9,373.6 136.4,373.6 137.0,373.6 137.5,373.6 138.0,373.6 138.6,373.6 139.1,373.6 139.6,373.6 140.2,373.7 140.7,373.7 141.2,373.7 141.8,373.7 142.3,373.7 142.8,373.7 143.4,373.7 143.9,373.7 144.4,373.7 145.0,373.8 145.5,373.8 146.0,373.8 146.6,373.7 147.1,373.7 147.6,373.7 148.2,373.7 148.7,373.7 149.2,373.7 149.8,373.7 150.3,373.7 150.8,373.7 151.4,373.6 151.9,373.6 152.4,373.6 153.0,373.6 153.5,373.6 154.0,373.6 154.6,373.6 155.1,373.6 155.6,373.6 156.2,373.5 156.7,373.5 157.2,373.5 157.8,373.5 158.3,373.5 158.8,373.5 159.4,373.5 159.9,373.5 160.4,373.5 161.0,373.5 161.5,373.5 162.0,373.5 162.6,373.5 163.1,373.5 163.6,373.5 164.2,373.5 164.7,373.5 165.2,373.5 165.8,373.5 166.3,373.5 166.8,373.5 167.4,373.5 167.9,373.5 168.4,373.5 169.0,373.5 169.5,373.5 170.0,373.5 170.6,373.5 171.1,373.5 171.6,373.5 172.2,373.5 172.7,373.6 173.2,373.7 173.8,373.7 174.3,373.8 174.8,373.9 175.4,374.0 175.9,374.1 176.4,374.2 177.0,374.3 177.5,374.5 178.0,374.8 178.6,375.2 179.1,375.7 179.6,376.1 180.2,376.6 180.7,377.0 181.2,377.6 181.8,378.2 182.3,378.9 182.8,379.7 183.4,380.5 183.9,381.4 184.4,382.5 185.0,383.8 185.5,385.5 186.0,387.4 186.6,389.3 187.1,391.3 187.6,393.3 188.2,395.4 188.7,397.7 189.2,400.0 189.8,402.3 190.3,404.7 190.8,407.0 191.4,409.3 191.9,411.2 192.4,412.9 193.0,414.2 193.5,415.4 194.0,416.5 194.6,417.6 195.1,418.7 195.6,419.7 196.2,420.7 196.7,421.4 197.2,421.9 197.8,422.2 198.3,422.3 198.8,422.4 199.4,422.4 199.9,422.5 200.4,422.5 201.0,422.6 201.5,422.6 202.0,422.7 202.6,422.8 203.1,422.8 203.6,422.9 204.2,422.9 204.7,423.0 205.2,423.0 205.8,423.0 206.3,423.1 206.8,423.1 207.4,423.1 207.9,423.2 208.4,423.2 209.0,423.2 209.5,423.2 210.0,423.3 210.6,423.3 211.1,423.3 211.6,423.4 212.2,423.4 212.7,423.4 213.2,423.4 213.8,423.5 214.3,423.5 214.8,423.5 215.4,423.5 215.9,423.5 216.4,423.4 217.0,423.3 217.5,423.1 218.0,422.9 218.6,422.7 219.1,422.5 219.6,422.3 220.2,422.1 220.7,421.9 221.2,421.6 221.8,421.2 222.3,420.7 222.8,420.2 223.4,419.6 223.9,419.0 224.4,418.5 225.0,418.1 225.5,417.8" fill="none" stroke="#c8a0b8" stroke-width="1.3" stroke-linejoin="round"/>
<rect x="25.5" y="295" width="200.0" height="167" fill="none" stroke="#9a9a9a" stroke-width="1"/>
<line x1="25.5" y1="462.0" x2="27.0" y2="462.0" stroke="#9a9a9a" stroke-width="0.8"/>
<line x1="225.5" y1="462.0" x2="224.0" y2="462.0" stroke="#9a9a9a" stroke-width="0.8"/>
<text x="23.3" y="464.8" text-anchor="end" class="tk" textLength="4.3" lengthAdjust="spacingAndGlyphs">0</text>
<line x1="25.5" y1="434.2" x2="27.0" y2="434.2" stroke="#9a9a9a" stroke-width="0.8"/>
<line x1="225.5" y1="434.2" x2="224.0" y2="434.2" stroke="#9a9a9a" stroke-width="0.8"/>
<text x="23.3" y="437.0" text-anchor="end" class="tk" textLength="9.3" lengthAdjust="spacingAndGlyphs">0.1</text>
<line x1="25.5" y1="406.3" x2="27.0" y2="406.3" stroke="#9a9a9a" stroke-width="0.8"/>
<line x1="225.5" y1="406.3" x2="224.0" y2="406.3" stroke="#9a9a9a" stroke-width="0.8"/>
<text x="23.3" y="409.1" text-anchor="end" class="tk" textLength="9.3" lengthAdjust="spacingAndGlyphs">0.2</text>
<line x1="25.5" y1="378.5" x2="27.0" y2="378.5" stroke="#9a9a9a" stroke-width="0.8"/>
<line x1="225.5" y1="378.5" x2="224.0" y2="378.5" stroke="#9a9a9a" stroke-width="0.8"/>
<text x="23.3" y="381.3" text-anchor="end" class="tk" textLength="9.3" lengthAdjust="spacingAndGlyphs">0.3</text>
<line x1="25.5" y1="350.7" x2="27.0" y2="350.7" stroke="#9a9a9a" stroke-width="0.8"/>
<line x1="225.5" y1="350.7" x2="224.0" y2="350.7" stroke="#9a9a9a" stroke-width="0.8"/>
<text x="23.3" y="353.5" text-anchor="end" class="tk" textLength="9.3" lengthAdjust="spacingAndGlyphs">0.4</text>
<line x1="25.5" y1="322.8" x2="27.0" y2="322.8" stroke="#9a9a9a" stroke-width="0.8"/>
<line x1="225.5" y1="322.8" x2="224.0" y2="322.8" stroke="#9a9a9a" stroke-width="0.8"/>
<text x="23.3" y="325.6" text-anchor="end" class="tk" textLength="9.3" lengthAdjust="spacingAndGlyphs">0.5</text>
<line x1="25.5" y1="295.0" x2="27.0" y2="295.0" stroke="#9a9a9a" stroke-width="0.8"/>
<line x1="225.5" y1="295.0" x2="224.0" y2="295.0" stroke="#9a9a9a" stroke-width="0.8"/>
<text x="23.3" y="297.8" text-anchor="end" class="tk" textLength="9.3" lengthAdjust="spacingAndGlyphs">0.6</text>
<line x1="25.5" y1="462" x2="25.5" y2="460.5" stroke="#9a9a9a" stroke-width="0.8"/>
<line x1="25.5" y1="295" x2="25.5" y2="296.5" stroke="#9a9a9a" stroke-width="0.8"/>
<text x="25.5" y="471.6" text-anchor="middle" class="tk" textLength="13.6" lengthAdjust="spacingAndGlyphs">1000</text>
<line x1="92.2" y1="462" x2="92.2" y2="460.5" stroke="#9a9a9a" stroke-width="0.8"/>
<line x1="92.2" y1="295" x2="92.2" y2="296.5" stroke="#9a9a9a" stroke-width="0.8"/>
<text x="92.2" y="471.6" text-anchor="middle" class="tk" textLength="13.6" lengthAdjust="spacingAndGlyphs">1500</text>
<line x1="158.8" y1="462" x2="158.8" y2="460.5" stroke="#9a9a9a" stroke-width="0.8"/>
<line x1="158.8" y1="295" x2="158.8" y2="296.5" stroke="#9a9a9a" stroke-width="0.8"/>
<text x="158.8" y="471.6" text-anchor="middle" class="tk" textLength="13.6" lengthAdjust="spacingAndGlyphs">2000</text>
<line x1="225.5" y1="462" x2="225.5" y2="460.5" stroke="#9a9a9a" stroke-width="0.8"/>
<line x1="225.5" y1="295" x2="225.5" y2="296.5" stroke="#9a9a9a" stroke-width="0.8"/>
<text x="225.5" y="471.6" text-anchor="middle" class="tk" textLength="13.6" lengthAdjust="spacingAndGlyphs">2500</text>
<text x="125.5" y="480.4" text-anchor="middle" class="al" textLength="54" lengthAdjust="spacingAndGlyphs">Wavelength [nm]</text>
<text transform="translate(10.8,378.5) rotate(-90)" text-anchor="middle" class="al" textLength="38.5" lengthAdjust="spacingAndGlyphs">Reflectance</text>
<rect x="236.5" y="295" width="28.30000000000001" height="186.5" fill="#fff" stroke="#9a9a9a" stroke-width="1"/>
<line x1="238.6" y1="299.0" x2="251.9" y2="299.0" stroke="#3030c0" stroke-width="1.0"/>
<circle cx="245.2" cy="299.0" r="0.9" fill="#3030c0" stroke="#333" stroke-opacity="0.4" stroke-width="0.3"/>
<text x="253.2" y="301.6" class="lg" textLength="10.2" lengthAdjust="spacingAndGlyphs">E42</text>
<line x1="238.6" y1="306.2" x2="251.9" y2="306.2" stroke="#f8c8e0" stroke-width="1.0"/>
<circle cx="245.2" cy="306.2" r="0.9" fill="#f8c8e0" stroke="#333" stroke-opacity="0.4" stroke-width="0.3"/>
<text x="253.2" y="308.8" class="lg" textLength="6.7" lengthAdjust="spacingAndGlyphs">E4</text>
<line x1="238.6" y1="313.3" x2="251.9" y2="313.3" stroke="#40a040" stroke-width="1.0"/>
<circle cx="245.2" cy="313.3" r="0.9" fill="#40a040" stroke="#333" stroke-opacity="0.4" stroke-width="0.3"/>
<text x="253.2" y="315.9" class="lg" textLength="10.2" lengthAdjust="spacingAndGlyphs">E29</text>
<line x1="238.6" y1="320.5" x2="251.9" y2="320.5" stroke="#202090" stroke-width="1.0"/>
<circle cx="245.2" cy="320.5" r="0.9" fill="#202090" stroke="#333" stroke-opacity="0.4" stroke-width="0.3"/>
<text x="253.2" y="323.1" class="lg" textLength="10.2" lengthAdjust="spacingAndGlyphs">E60</text>
<line x1="238.6" y1="327.6" x2="251.9" y2="327.6" stroke="#c03050" stroke-width="1.0"/>
<circle cx="245.2" cy="327.6" r="0.9" fill="#c03050" stroke="#333" stroke-opacity="0.4" stroke-width="0.3"/>
<text x="253.2" y="330.2" class="lg" textLength="6.7" lengthAdjust="spacingAndGlyphs">E7</text>
<line x1="238.6" y1="334.8" x2="251.9" y2="334.8" stroke="#e040d0" stroke-width="1.0"/>
<circle cx="245.2" cy="334.8" r="0.9" fill="#e040d0" stroke="#333" stroke-opacity="0.4" stroke-width="0.3"/>
<text x="253.2" y="337.4" class="lg" textLength="6.7" lengthAdjust="spacingAndGlyphs">E8</text>
<line x1="238.6" y1="342.0" x2="251.9" y2="342.0" stroke="#f8f0f0" stroke-width="1.0"/>
<circle cx="245.2" cy="342.0" r="0.9" fill="#f8f0f0" stroke="#333" stroke-opacity="0.4" stroke-width="0.3"/>
<text x="253.2" y="344.6" class="lg" textLength="10.2" lengthAdjust="spacingAndGlyphs">E11</text>
<line x1="238.6" y1="349.1" x2="251.9" y2="349.1" stroke="#909020" stroke-width="1.0"/>
<circle cx="245.2" cy="349.1" r="0.9" fill="#909020" stroke="#333" stroke-opacity="0.4" stroke-width="0.3"/>
<text x="253.2" y="351.7" class="lg" textLength="10.2" lengthAdjust="spacingAndGlyphs">E12</text>
<line x1="238.6" y1="356.3" x2="251.9" y2="356.3" stroke="#90e0a0" stroke-width="1.0"/>
<circle cx="245.2" cy="356.3" r="0.9" fill="#90e0a0" stroke="#333" stroke-opacity="0.4" stroke-width="0.3"/>
<text x="253.2" y="358.9" class="lg" textLength="10.2" lengthAdjust="spacingAndGlyphs">E38</text>
<line x1="238.6" y1="363.4" x2="251.9" y2="363.4" stroke="#f0a090" stroke-width="1.0"/>
<circle cx="245.2" cy="363.4" r="0.9" fill="#f0a090" stroke="#333" stroke-opacity="0.4" stroke-width="0.3"/>
<text x="253.2" y="366.0" class="lg" textLength="10.2" lengthAdjust="spacingAndGlyphs">E49</text>
<line x1="238.6" y1="370.6" x2="251.9" y2="370.6" stroke="#909090" stroke-width="1.0"/>
<circle cx="245.2" cy="370.6" r="0.9" fill="#909090" stroke="#333" stroke-opacity="0.4" stroke-width="0.3"/>
<text x="253.2" y="373.2" class="lg" textLength="10.2" lengthAdjust="spacingAndGlyphs">E39</text>
<line x1="238.6" y1="377.8" x2="251.9" y2="377.8" stroke="#f0a030" stroke-width="1.0"/>
<circle cx="245.2" cy="377.8" r="0.9" fill="#f0a030" stroke="#333" stroke-opacity="0.4" stroke-width="0.3"/>
<text x="253.2" y="380.4" class="lg" textLength="10.2" lengthAdjust="spacingAndGlyphs">E55</text>
<line x1="238.6" y1="384.9" x2="251.9" y2="384.9" stroke="#a0a0c0" stroke-width="1.0"/>
<circle cx="245.2" cy="384.9" r="0.9" fill="#a0a0c0" stroke="#333" stroke-opacity="0.4" stroke-width="0.3"/>
<text x="253.2" y="387.5" class="lg" textLength="10.2" lengthAdjust="spacingAndGlyphs">E57</text>
<line x1="238.6" y1="392.1" x2="251.9" y2="392.1" stroke="#8060d0" stroke-width="1.0"/>
<circle cx="245.2" cy="392.1" r="0.9" fill="#8060d0" stroke="#333" stroke-opacity="0.4" stroke-width="0.3"/>
<text x="253.2" y="394.7" class="lg" textLength="10.2" lengthAdjust="spacingAndGlyphs">E20</text>
<line x1="238.6" y1="399.2" x2="251.9" y2="399.2" stroke="#c0c040" stroke-width="1.0"/>
<circle cx="245.2" cy="399.2" r="0.9" fill="#c0c040" stroke="#333" stroke-opacity="0.4" stroke-width="0.3"/>
<text x="253.2" y="401.8" class="lg" textLength="10.2" lengthAdjust="spacingAndGlyphs">E40</text>
<line x1="238.6" y1="406.4" x2="251.9" y2="406.4" stroke="#e03060" stroke-width="1.0"/>
<circle cx="245.2" cy="406.4" r="0.9" fill="#e03060" stroke="#333" stroke-opacity="0.4" stroke-width="0.3"/>
<text x="253.2" y="409.0" class="lg" textLength="10.2" lengthAdjust="spacingAndGlyphs">E47</text>
<line x1="238.6" y1="413.6" x2="251.9" y2="413.6" stroke="#b05040" stroke-width="1.0"/>
<circle cx="245.2" cy="413.6" r="0.9" fill="#b05040" stroke="#333" stroke-opacity="0.4" stroke-width="0.3"/>
<text x="253.2" y="416.2" class="lg" textLength="10.2" lengthAdjust="spacingAndGlyphs">E17</text>
<line x1="238.6" y1="420.7" x2="251.9" y2="420.7" stroke="#60d0b0" stroke-width="1.0"/>
<circle cx="245.2" cy="420.7" r="0.9" fill="#60d0b0" stroke="#333" stroke-opacity="0.4" stroke-width="0.3"/>
<text x="253.2" y="423.3" class="lg" textLength="10.2" lengthAdjust="spacingAndGlyphs">E18</text>
<line x1="238.6" y1="427.9" x2="251.9" y2="427.9" stroke="#a09080" stroke-width="1.0"/>
<circle cx="245.2" cy="427.9" r="0.9" fill="#a09080" stroke="#333" stroke-opacity="0.4" stroke-width="0.3"/>
<text x="253.2" y="430.5" class="lg" textLength="10.2" lengthAdjust="spacingAndGlyphs">E24</text>
<line x1="238.6" y1="435.0" x2="251.9" y2="435.0" stroke="#e0e0f8" stroke-width="1.0"/>
<circle cx="245.2" cy="435.0" r="0.9" fill="#e0e0f8" stroke="#333" stroke-opacity="0.4" stroke-width="0.3"/>
<text x="253.2" y="437.6" class="lg" textLength="10.2" lengthAdjust="spacingAndGlyphs">E26</text>
<line x1="238.6" y1="442.2" x2="251.9" y2="442.2" stroke="#c020a0" stroke-width="1.0"/>
<circle cx="245.2" cy="442.2" r="0.9" fill="#c020a0" stroke="#333" stroke-opacity="0.4" stroke-width="0.3"/>
<text x="253.2" y="444.8" class="lg" textLength="10.2" lengthAdjust="spacingAndGlyphs">E59</text>
<line x1="238.6" y1="449.4" x2="251.9" y2="449.4" stroke="#f0b0c0" stroke-width="1.0"/>
<circle cx="245.2" cy="449.4" r="0.9" fill="#f0b0c0" stroke="#333" stroke-opacity="0.4" stroke-width="0.3"/>
<text x="253.2" y="452.0" class="lg" textLength="10.2" lengthAdjust="spacingAndGlyphs">E31</text>
<line x1="238.6" y1="456.5" x2="251.9" y2="456.5" stroke="#205a70" stroke-width="1.0"/>
<circle cx="245.2" cy="456.5" r="0.9" fill="#205a70" stroke="#333" stroke-opacity="0.4" stroke-width="0.3"/>
<text x="253.2" y="459.1" class="lg" textLength="6.7" lengthAdjust="spacingAndGlyphs">E2</text>
<line x1="238.6" y1="463.7" x2="251.9" y2="463.7" stroke="#6090c0" stroke-width="1.0"/>
<circle cx="245.2" cy="463.7" r="0.9" fill="#6090c0" stroke="#333" stroke-opacity="0.4" stroke-width="0.3"/>
<text x="253.2" y="466.3" class="lg" textLength="10.2" lengthAdjust="spacingAndGlyphs">E25</text>
<line x1="238.6" y1="470.8" x2="251.9" y2="470.8" stroke="#c0e8f0" stroke-width="1.0"/>
<circle cx="245.2" cy="470.8" r="0.9" fill="#c0e8f0" stroke="#333" stroke-opacity="0.4" stroke-width="0.3"/>
<text x="253.2" y="473.4" class="lg" textLength="10.2" lengthAdjust="spacingAndGlyphs">E36</text>
<line x1="238.6" y1="478.0" x2="251.9" y2="478.0" stroke="#c0b080" stroke-width="1.0"/>
<circle cx="245.2" cy="478.0" r="0.9" fill="#c0b080" stroke="#333" stroke-opacity="0.4" stroke-width="0.3"/>
<text x="253.2" y="480.6" class="lg" textLength="10.2" lengthAdjust="spacingAndGlyphs">E58</text>
<text x="137.7" y="266.2" text-anchor="middle" class="tt" textLength="99" lengthAdjust="spacingAndGlyphs">SisuCHEMA XL™</text>
<text x="137.7" y="282.4" text-anchor="middle" class="tt" textLength="63.5" lengthAdjust="spacingAndGlyphs">Training set</text>
<polyline points="304.0,434.3 304.5,434.4 305.1,434.7 305.6,434.8 306.1,434.6 306.7,434.9 307.2,434.7 307.7,434.9 308.3,434.9 308.8,434.7 309.3,434.8 309.9,435.0 310.4,435.4 310.9,435.2 311.5,435.3 312.0,435.4 312.5,435.2 313.1,435.7 313.6,435.5 314.1,435.6 314.7,435.8 315.2,435.5 315.7,436.0 316.3,435.8 316.8,435.9 317.3,436.3 317.9,436.2 318.4,436.2 318.9,436.0 319.5,436.1 320.0,436.2 320.5,436.3 321.1,436.7 321.6,436.4 322.1,436.6 322.7,436.4 323.2,436.4 323.7,436.4 324.3,436.7 324.8,436.7 325.3,437.0 325.9,436.9 326.4,437.2 326.9,436.9 327.5,437.3 328.0,437.2 328.5,437.4 329.1,437.4 329.6,437.3 330.1,437.5 330.7,437.5 331.2,437.7 331.7,437.4 332.3,437.8 332.8,437.6 333.3,437.5 333.9,438.2 334.4,438.1 334.9,438.1 335.5,437.9 336.0,438.2 336.5,438.2 337.1,438.4 337.6,438.3 338.1,438.6 338.7,438.4 339.2,439.0 339.7,438.9 340.3,438.4 340.8,438.7 341.3,439.0 341.9,438.6 342.4,438.8 342.9,438.9 343.5,439.2 344.0,439.1 344.5,439.2 345.1,439.5 345.6,439.3 346.1,439.5 346.7,439.3 347.2,439.4 347.7,439.7 348.3,439.8 348.8,439.7 349.3,439.7 349.9,440.0 350.4,440.0 350.9,439.9 351.5,440.0 352.0,440.0 352.5,440.2 353.1,440.4 353.6,440.6 354.1,440.3 354.7,440.6 355.2,440.6 355.7,440.7 356.3,440.9 356.8,440.8 357.3,441.2 357.9,441.0 358.4,441.1 358.9,440.8 359.5,441.1 360.0,441.2 360.5,441.2 361.1,441.2 361.6,441.5 362.1,441.5 362.7,441.6 363.2,441.3 363.7,441.7 364.3,442.1 364.8,441.7 365.3,441.6 365.9,442.1 366.4,441.6 366.9,442.1 367.5,442.1 368.0,442.4 368.5,442.4 369.1,442.6 369.6,442.7 370.1,442.9 370.7,442.5 371.2,442.9 371.7,442.7 372.3,442.8 372.8,443.0 373.3,443.0 373.9,443.1 374.4,443.2 374.9,443.2 375.5,443.3 376.0,443.5 376.5,443.6 377.1,443.6 377.6,443.6 378.1,443.5 378.7,443.5 379.2,443.8 379.7,443.7 380.3,443.9 380.8,443.9 381.3,444.1 381.9,444.1 382.4,444.3 382.9,444.3 383.5,444.1 384.0,444.6 384.5,444.6 385.1,444.8 385.6,444.7 386.1,444.6 386.7,445.1 387.2,445.5 387.7,445.1 388.3,445.3 388.8,445.7 389.3,445.6 389.9,445.7 390.4,446.1 390.9,445.8 391.5,446.0 392.0,446.1 392.5,446.4 393.1,446.4 393.6,446.5 394.1,446.4 394.7,446.7 395.2,446.4 395.7,446.6 396.3,447.0 396.8,446.5 397.3,446.7 397.9,446.8 398.4,446.7 398.9,447.0 399.5,446.7 400.0,447.1 400.5,446.9 401.1,446.6 401.6,446.6 402.1,446.9 402.7,447.0 403.2,446.7 403.7,446.8 404.3,446.8 404.8,446.8 405.3,447.0 405.9,446.8 406.4,447.2 406.9,446.7 407.5,447.1 408.0,447.0 408.5,447.0 409.1,446.8 409.6,446.8 410.1,446.9 410.7,446.9 411.2,446.9 411.7,447.0 412.3,447.3 412.8,447.3 413.3,447.3 413.9,447.0 414.4,447.0 414.9,447.0 415.5,447.0 416.0,447.1 416.5,447.2 417.1,447.2 417.6,447.3 418.1,446.9 418.7,446.9 419.2,447.3 419.7,447.1 420.3,447.0 420.8,446.8 421.3,447.2 421.9,447.1 422.4,446.9 422.9,447.3 423.5,447.2 424.0,447.1 424.5,447.2 425.1,446.8 425.6,447.0 426.1,447.1 426.7,447.3 427.2,447.0 427.7,447.1 428.3,447.2 428.8,447.2 429.3,447.4 429.9,447.2 430.4,447.0 430.9,447.0 431.5,447.1 432.0,447.1 432.5,447.3 433.1,447.3 433.6,447.0 434.1,447.1 434.7,447.3 435.2,447.1 435.7,447.1 436.3,447.1 436.8,447.2 437.3,447.3 437.9,447.2 438.4,447.0 438.9,447.3 439.5,447.4 440.0,447.3 440.5,447.5 441.1,447.3 441.6,447.4 442.1,447.2 442.7,447.3 443.2,447.2 443.7,447.0 444.3,447.4 444.8,447.5 445.3,447.3 445.9,447.4 446.4,447.4 446.9,447.5 447.5,447.4 448.0,447.5 448.5,447.8 449.1,447.5 449.6,447.5 450.1,447.4 450.7,447.7 451.2,447.8 451.7,447.6 452.3,448.0 452.8,448.1 453.3,448.2 453.9,448.3 454.4,448.5 454.9,448.8 455.5,448.6 456.0,448.9 456.5,449.0 457.1,448.7 457.6,448.8 458.1,449.1 458.7,449.1 459.2,449.1 459.7,449.2 460.3,449.3 460.8,449.0 461.3,449.0 461.9,449.1 462.4,449.2 462.9,449.1 463.5,449.1 464.0,449.4 464.5,449.3 465.1,449.4 465.6,449.2 466.1,449.3 466.7,449.6 467.2,449.6 467.7,449.3 468.3,449.7 468.8,449.6 469.3,449.7 469.9,449.5 470.4,449.7 470.9,449.8 471.5,450.0 472.0,449.9 472.5,449.8 473.1,449.9 473.6,450.2 474.1,449.8 474.7,450.1 475.2,450.3 475.7,450.2 476.3,450.3 476.8,450.3 477.3,450.4 477.9,450.4 478.4,450.4 478.9,450.7 479.5,450.4 480.0,450.6 480.5,450.3 481.1,450.5 481.6,450.5 482.1,450.6 482.7,450.5 483.2,450.7 483.7,450.9 484.3,450.7 484.8,451.2 485.3,450.9 485.9,450.8 486.4,450.9 486.9,450.7 487.5,450.8 488.0,451.0 488.5,451.1 489.1,450.9 489.6,451.2 490.1,451.2 490.7,451.0 491.2,451.1 491.7,450.9 492.3,451.3 492.8,451.6 493.3,451.3 493.9,451.2 494.4,451.5 494.9,451.3 495.5,451.3 496.0,451.7 496.5,451.7 497.1,451.9 497.6,451.6 498.1,451.7 498.7,451.7 499.2,452.0 499.7,452.0 500.3,452.2 500.8,452.2 501.3,452.2 501.9,452.3 502.4,452.2 502.9,452.1 503.5,452.1 504.0,452.2" fill="none" stroke="#40e0e8" stroke-width="1.35" stroke-linejoin="round"/>
<polyline points="304.0,415.4 304.5,415.4 305.1,415.4 305.6,415.6 306.1,415.6 306.7,415.8 307.2,415.9 307.7,415.9 308.3,416.2 308.8,416.0 309.3,416.5 309.9,416.3 310.4,416.6 310.9,416.3 311.5,416.5 312.0,416.9 312.5,416.9 313.1,417.1 313.6,417.1 314.1,417.1 314.7,416.9 315.2,417.5 315.7,417.3 316.3,417.6 316.8,417.6 317.3,417.6 317.9,417.8 318.4,417.9 318.9,418.1 319.5,418.1 320.0,418.2 320.5,418.2 321.1,418.7 321.6,418.6 322.1,418.8 322.7,418.9 323.2,419.0 323.7,418.8 324.3,418.7 324.8,419.0 325.3,419.4 325.9,419.3 326.4,419.6 326.9,419.5 327.5,419.5 328.0,419.7 328.5,419.7 329.1,420.0 329.6,420.3 330.1,420.4 330.7,420.3 331.2,420.3 331.7,420.2 332.3,420.6 332.8,420.6 333.3,420.7 333.9,420.6 334.4,420.9 334.9,421.1 335.5,420.9 336.0,421.1 336.5,421.2 337.1,421.5 337.6,421.4 338.1,421.7 338.7,421.9 339.2,421.7 339.7,421.8 340.3,421.8 340.8,421.7 341.3,422.0 341.9,421.9 342.4,422.3 342.9,422.2 343.5,422.6 344.0,422.5 344.5,422.6 345.1,422.7 345.6,422.7 346.1,423.1 346.7,422.9 347.2,423.1 347.7,423.1 348.3,423.1 348.8,423.3 349.3,423.4 349.9,423.6 350.4,423.5 350.9,423.7 351.5,423.7 352.0,424.0 352.5,423.7 353.1,424.1 353.6,423.9 354.1,424.2 354.7,424.2 355.2,424.4 355.7,424.3 356.3,424.5 356.8,424.4 357.3,424.6 357.9,424.7 358.4,424.6 358.9,425.1 359.5,424.9 360.0,425.1 360.5,425.4 361.1,425.3 361.6,425.4 362.1,425.3 362.7,425.7 363.2,425.7 363.7,425.7 364.3,426.1 364.8,425.9 365.3,426.2 365.9,425.9 366.4,426.0 366.9,426.3 367.5,426.6 368.0,426.5 368.5,426.5 369.1,426.6 369.6,426.8 370.1,427.0 370.7,427.0 371.2,427.2 371.7,426.9 372.3,427.3 372.8,427.4 373.3,427.4 373.9,427.6 374.4,427.6 374.9,427.7 375.5,427.8 376.0,427.9 376.5,427.7 377.1,427.9 377.6,428.3 378.1,428.2 378.7,428.2 379.2,428.4 379.7,428.4 380.3,428.5 380.8,428.5 381.3,428.7 381.9,428.8 382.4,429.0 382.9,428.9 383.5,429.2 384.0,429.0 384.5,429.4 385.1,429.6 385.6,429.6 386.1,430.0 386.7,430.1 387.2,430.4 387.7,430.8 388.3,431.2 388.8,431.6 389.3,431.7 389.9,432.4 390.4,432.9 390.9,433.3 391.5,433.6 392.0,433.8 392.5,434.5 393.1,434.5 393.6,434.7 394.1,435.0 394.7,435.0 395.2,435.2 395.7,434.8 396.3,434.7 396.8,434.6 397.3,434.0 397.9,434.1 398.4,434.0 398.9,434.3 399.5,434.1 400.0,434.1 400.5,433.9 401.1,433.8 401.6,434.3 402.1,434.0 402.7,434.0 403.2,433.8 403.7,433.9 404.3,434.1 404.8,433.9 405.3,434.1 405.9,434.1 406.4,433.9 406.9,434.0 407.5,433.9 408.0,434.2 408.5,433.7 409.1,433.8 409.6,433.9 410.1,434.2 410.7,434.4 411.2,434.2 411.7,434.1 412.3,433.8 412.8,433.9 413.3,434.2 413.9,434.0 414.4,434.0 414.9,434.2 415.5,434.0 416.0,434.2 416.5,434.3 417.1,434.4 417.6,434.3 418.1,434.1 418.7,434.5 419.2,434.5 419.7,434.2 420.3,434.7 420.8,434.1 421.3,434.4 421.9,434.3 422.4,434.1 422.9,434.6 423.5,434.6 424.0,434.1 424.5,434.5 425.1,434.5 425.6,434.5 426.1,434.4 426.7,434.4 427.2,434.6 427.7,434.6 428.3,434.6 428.8,434.6 429.3,434.5 429.9,434.7 430.4,434.5 430.9,434.9 431.5,434.7 432.0,434.5 432.5,434.6 433.1,434.8 433.6,435.0 434.1,435.0 434.7,434.9 435.2,434.9 435.7,435.0 436.3,435.2 436.8,435.1 437.3,434.9 437.9,434.9 438.4,435.2 438.9,435.1 439.5,435.3 440.0,435.2 440.5,434.6 441.1,435.1 441.6,435.2 442.1,435.3 442.7,435.4 443.2,435.5 443.7,435.3 444.3,435.3 444.8,435.1 445.3,435.6 445.9,435.3 446.4,435.2 446.9,435.7 447.5,435.3 448.0,435.7 448.5,435.4 449.1,435.3 449.6,435.5 450.1,435.5 450.7,435.7 451.2,435.6 451.7,435.5 452.3,435.8 452.8,435.9 453.3,435.9 453.9,435.9 454.4,436.5 454.9,436.6 455.5,437.3 456.0,437.7 456.5,438.3 457.1,439.1 457.6,439.6 458.1,440.6 458.7,441.0 459.2,441.5 459.7,441.7 460.3,441.9 460.8,442.2 461.3,442.3 461.9,441.7 462.4,441.2 462.9,440.4 463.5,440.0 464.0,439.3 464.5,439.3 465.1,439.6 465.6,439.4 466.1,439.6 466.7,439.3 467.2,439.3 467.7,439.6 468.3,439.6 468.8,439.9 469.3,440.1 469.9,439.9 470.4,440.0 470.9,440.3 471.5,440.2 472.0,440.2 472.5,440.3 473.1,440.3 473.6,440.5 474.1,440.8 474.7,440.8 475.2,440.9 475.7,441.2 476.3,441.0 476.8,441.2 477.3,441.4 477.9,441.6 478.4,441.1 478.9,441.6 479.5,441.7 480.0,441.6 480.5,441.9 481.1,442.1 481.6,442.1 482.1,442.4 482.7,442.3 483.2,442.7 483.7,442.5 484.3,442.6 484.8,443.0 485.3,442.6 485.9,443.2 486.4,443.0 486.9,443.3 487.5,443.3 488.0,443.5 488.5,443.2 489.1,443.5 489.6,443.4 490.1,443.7 490.7,443.8 491.2,444.0 491.7,444.2 492.3,444.2 492.8,444.3 493.3,444.5 493.9,444.8 494.4,444.7 494.9,444.7 495.5,445.0 496.0,445.0 496.5,445.2 497.1,445.4 497.6,445.5 498.1,445.6 498.7,445.6 499.2,445.7 499.7,445.6 500.3,446.0 500.8,446.2 501.3,445.7 501.9,445.4 502.4,444.7 502.9,443.6 503.5,443.1 504.0,442.8" fill="none" stroke="#f0d070" stroke-width="1.35" stroke-linejoin="round"/>
<polyline points="304.0,398.7 304.5,398.9 305.1,398.9 305.6,399.3 306.1,399.4 306.7,399.5 307.2,399.3 307.7,399.4 308.3,399.9 308.8,399.8 309.3,400.1 309.9,400.0 310.4,400.3 310.9,400.3 311.5,400.5 312.0,400.7 312.5,400.8 313.1,400.9 313.6,401.1 314.1,401.3 314.7,401.0 315.2,401.4 315.7,401.8 316.3,402.0 316.8,402.2 317.3,402.0 317.9,401.8 318.4,402.4 318.9,402.3 319.5,402.6 320.0,402.3 320.5,402.6 321.1,402.7 321.6,402.7 322.1,402.7 322.7,403.0 323.2,403.3 323.7,403.5 324.3,403.6 324.8,403.8 325.3,403.5 325.9,403.9 326.4,403.9 326.9,404.1 327.5,403.9 328.0,404.4 328.5,404.3 329.1,404.5 329.6,404.7 330.1,405.1 330.7,404.8 331.2,405.2 331.7,405.3 332.3,405.3 332.8,405.5 333.3,405.5 333.9,405.9 334.4,405.9 334.9,406.0 335.5,406.2 336.0,406.2 336.5,406.5 337.1,406.4 337.6,406.8 338.1,407.1 338.7,407.0 339.2,407.0 339.7,407.4 340.3,407.5 340.8,407.6 341.3,407.7 341.9,407.9 342.4,408.0 342.9,408.4 343.5,408.1 344.0,408.3 344.5,408.7 345.1,408.5 345.6,408.8 346.1,408.8 346.7,409.3 347.2,409.0 347.7,409.4 348.3,409.8 348.8,409.6 349.3,409.8 349.9,410.1 350.4,410.1 350.9,410.5 351.5,410.3 352.0,410.5 352.5,410.7 353.1,410.6 353.6,410.9 354.1,411.2 354.7,411.3 355.2,411.3 355.7,411.3 356.3,411.7 356.8,411.9 357.3,411.8 357.9,412.0 358.4,412.2 358.9,412.0 359.5,412.6 360.0,412.5 360.5,412.9 361.1,412.8 361.6,412.8 362.1,412.9 362.7,413.4 363.2,413.2 363.7,413.3 364.3,413.6 364.8,413.3 365.3,413.8 365.9,414.1 366.4,414.0 366.9,414.5 367.5,414.1 368.0,414.3 368.5,414.6 369.1,414.6 369.6,414.8 370.1,414.7 370.7,415.2 371.2,415.4 371.7,415.6 372.3,415.5 372.8,415.8 373.3,415.8 373.9,415.8 374.4,416.1 374.9,416.3 375.5,416.1 376.0,416.4 376.5,416.5 377.1,416.5 377.6,416.9 378.1,417.0 378.7,416.7 379.2,417.2 379.7,417.4 380.3,417.4 380.8,417.6 381.3,417.8 381.9,417.8 382.4,417.9 382.9,418.0 383.5,418.1 384.0,418.6 384.5,418.7 385.1,418.5 385.6,418.8 386.1,418.8 386.7,419.1 387.2,419.5 387.7,419.5 388.3,420.2 388.8,420.6 389.3,421.1 389.9,421.6 390.4,422.6 390.9,423.1 391.5,423.7 392.0,424.2 392.5,425.0 393.1,425.0 393.6,425.2 394.1,425.5 394.7,425.8 395.2,425.5 395.7,425.2 396.3,424.9 396.8,424.5 397.3,424.2 397.9,424.0 398.4,423.9 398.9,423.9 399.5,424.2 400.0,424.4 400.5,424.4 401.1,424.3 401.6,424.5 402.1,424.5 402.7,424.6 403.2,424.7 403.7,424.8 404.3,425.0 404.8,425.0 405.3,425.0 405.9,425.1 406.4,425.2 406.9,425.3 407.5,425.1 408.0,425.5 408.5,425.5 409.1,425.6 409.6,425.8 410.1,425.9 410.7,425.9 411.2,426.0 411.7,425.8 412.3,426.1 412.8,426.1 413.3,426.0 413.9,426.2 414.4,426.1 414.9,426.1 415.5,426.5 416.0,426.4 416.5,426.6 417.1,426.3 417.6,426.6 418.1,426.5 418.7,426.4 419.2,426.8 419.7,426.7 420.3,426.8 420.8,426.9 421.3,426.7 421.9,426.9 422.4,426.9 422.9,427.1 423.5,427.2 424.0,427.3 424.5,427.3 425.1,427.6 425.6,427.4 426.1,427.4 426.7,427.5 427.2,427.7 427.7,427.7 428.3,427.7 428.8,427.8 429.3,427.6 429.9,428.1 430.4,428.0 430.9,428.0 431.5,428.1 432.0,428.2 432.5,428.4 433.1,428.4 433.6,428.3 434.1,428.3 434.7,428.6 435.2,428.5 435.7,428.6 436.3,428.6 436.8,428.8 437.3,428.8 437.9,428.8 438.4,429.2 438.9,429.1 439.5,429.4 440.0,429.5 440.5,429.4 441.1,429.6 441.6,429.3 442.1,429.3 442.7,429.6 443.2,429.6 443.7,429.7 444.3,429.8 444.8,429.8 445.3,429.8 445.9,430.0 446.4,430.1 446.9,430.1 447.5,430.0 448.0,430.3 448.5,430.1 449.1,430.4 449.6,430.2 450.1,430.7 450.7,430.7 451.2,430.8 451.7,431.0 452.3,431.3 452.8,431.3 453.3,431.8 453.9,432.1 454.4,432.7 454.9,433.1 455.5,434.2 456.0,435.4 456.5,436.7 457.1,437.4 457.6,438.1 458.1,438.3 458.7,438.4 459.2,438.8 459.7,438.7 460.3,438.7 460.8,438.8 461.3,438.8 461.9,438.8 462.4,438.6 462.9,438.5 463.5,438.1 464.0,438.1 464.5,438.2 465.1,437.9 465.6,438.0 466.1,438.3 466.7,437.8 467.2,437.8 467.7,438.2 468.3,438.2 468.8,438.1 469.3,438.3 469.9,438.4 470.4,438.5 470.9,438.6 471.5,438.9 472.0,439.1 472.5,439.5 473.1,439.9 473.6,440.2 474.1,440.7 474.7,440.6 475.2,441.4 475.7,441.5 476.3,441.8 476.8,442.1 477.3,442.4 477.9,442.4 478.4,442.8 478.9,442.8 479.5,442.8 480.0,443.0 480.5,443.1 481.1,443.0 481.6,443.3 482.1,443.4 482.7,443.4 483.2,443.5 483.7,443.6 484.3,443.7 484.8,443.7 485.3,443.8 485.9,443.9 486.4,443.8 486.9,444.2 487.5,444.0 488.0,444.4 488.5,444.3 489.1,444.5 489.6,444.6 490.1,444.9 490.7,444.5 491.2,445.0 491.7,445.2 492.3,445.1 492.8,445.3 493.3,445.2 493.9,445.4 494.4,445.7 494.9,445.9 495.5,446.0 496.0,446.5 496.5,446.4 497.1,446.6 497.6,446.8 498.1,446.8 498.7,447.2 499.2,447.1 499.7,447.2 500.3,447.7 500.8,447.5 501.3,447.1 501.9,446.7 502.4,446.1 502.9,445.3 503.5,444.2 504.0,443.5" fill="none" stroke="#30c8e0" stroke-width="1.35" stroke-linejoin="round"/>
<polyline points="304.0,394.5 304.5,394.4 305.1,394.6 305.6,394.6 306.1,394.5 306.7,394.6 307.2,394.8 307.7,394.5 308.3,394.8 308.8,394.9 309.3,394.8 309.9,395.0 310.4,395.1 310.9,395.0 311.5,395.3 312.0,395.1 312.5,395.1 313.1,395.2 313.6,395.4 314.1,395.4 314.7,395.7 315.2,395.5 315.7,395.5 316.3,395.5 316.8,395.7 317.3,395.9 317.9,396.1 318.4,396.2 318.9,396.4 319.5,396.5 320.0,396.9 320.5,397.3 321.1,397.8 321.6,398.9 322.1,400.3 322.7,402.1 323.2,403.1 323.7,403.1 324.3,402.3 324.8,401.4 325.3,400.5 325.9,399.8 326.4,399.7 326.9,399.1 327.5,399.2 328.0,399.6 328.5,399.7 329.1,400.6 329.6,401.0 330.1,401.2 330.7,401.3 331.2,401.5 331.7,401.8 332.3,401.5 332.8,401.4 333.3,400.8 333.9,400.6 334.4,400.4 334.9,400.3 335.5,399.7 336.0,399.6 336.5,399.1 337.1,398.7 337.6,398.6 338.1,398.4 338.7,398.4 339.2,398.3 339.7,398.0 340.3,398.0 340.8,398.1 341.3,398.2 341.9,398.2 342.4,398.3 342.9,398.4 343.5,398.4 344.0,398.7 344.5,399.1 345.1,398.8 345.6,399.0 346.1,399.2 346.7,399.3 347.2,399.8 347.7,399.8 348.3,400.0 348.8,399.9 349.3,400.4 349.9,400.5 350.4,400.5 350.9,400.9 351.5,401.3 352.0,401.3 352.5,402.0 353.1,402.0 353.6,402.4 354.1,402.5 354.7,402.9 355.2,403.3 355.7,403.4 356.3,404.0 356.8,404.1 357.3,404.6 357.9,404.8 358.4,405.2 358.9,405.4 359.5,405.3 360.0,405.1 360.5,405.5 361.1,405.1 361.6,405.0 362.1,405.2 362.7,405.1 363.2,404.9 363.7,405.1 364.3,405.0 364.8,404.7 365.3,405.1 365.9,405.1 366.4,405.3 366.9,405.1 367.5,405.1 368.0,404.7 368.5,404.7 369.1,405.1 369.6,404.6 370.1,404.7 370.7,404.8 371.2,404.7 371.7,404.7 372.3,404.8 372.8,404.9 373.3,404.8 373.9,404.6 374.4,404.6 374.9,404.7 375.5,404.4 376.0,404.7 376.5,404.4 377.1,404.5 377.6,404.4 378.1,404.6 378.7,404.6 379.2,404.9 379.7,405.3 380.3,405.4 380.8,405.6 381.3,405.8 381.9,406.2 382.4,406.6 382.9,406.8 383.5,407.4 384.0,407.5 384.5,407.4 385.1,407.8 385.6,408.8 386.1,410.5 386.7,412.9 387.2,415.8 387.7,419.0 388.3,421.6 388.8,423.6 389.3,425.4 389.9,426.9 390.4,428.2 390.9,429.5 391.5,430.7 392.0,431.7 392.5,432.5 393.1,432.8 393.6,433.3 394.1,433.7 394.7,433.7 395.2,433.8 395.7,433.5 396.3,432.7 396.8,432.3 397.3,431.4 397.9,431.0 398.4,430.7 398.9,430.2 399.5,429.7 400.0,429.6 400.5,429.3 401.1,428.6 401.6,428.8 402.1,428.5 402.7,428.9 403.2,428.8 403.7,429.0 404.3,428.9 404.8,429.1 405.3,429.1 405.9,428.7 406.4,428.6 406.9,428.7 407.5,428.2 408.0,428.0 408.5,427.8 409.1,427.5 409.6,427.2 410.1,426.9 410.7,426.8 411.2,426.8 411.7,426.5 412.3,426.1 412.8,426.3 413.3,425.9 413.9,425.8 414.4,425.8 414.9,425.5 415.5,425.6 416.0,425.4 416.5,425.3 417.1,425.0 417.6,424.8 418.1,424.9 418.7,424.6 419.2,425.0 419.7,424.7 420.3,424.6 420.8,424.2 421.3,424.4 421.9,424.1 422.4,424.4 422.9,424.0 423.5,423.9 424.0,423.9 424.5,424.2 425.1,423.8 425.6,423.7 426.1,423.6 426.7,423.7 427.2,424.0 427.7,423.7 428.3,423.6 428.8,423.8 429.3,423.6 429.9,423.7 430.4,423.6 430.9,423.5 431.5,423.7 432.0,423.2 432.5,423.6 433.1,423.6 433.6,423.8 434.1,423.7 434.7,423.8 435.2,424.0 435.7,424.0 436.3,423.8 436.8,423.9 437.3,424.2 437.9,424.2 438.4,424.0 438.9,423.9 439.5,423.9 440.0,424.2 440.5,423.9 441.1,424.1 441.6,424.1 442.1,424.1 442.7,424.0 443.2,424.0 443.7,424.0 444.3,424.3 444.8,424.4 445.3,424.6 445.9,424.6 446.4,424.7 446.9,424.8 447.5,424.8 448.0,424.9 448.5,425.0 449.1,425.2 449.6,425.2 450.1,425.4 450.7,425.4 451.2,425.6 451.7,425.7 452.3,426.0 452.8,426.6 453.3,427.4 453.9,428.1 454.4,429.7 454.9,431.2 455.5,432.6 456.0,433.8 456.5,434.2 457.1,435.4 457.6,435.8 458.1,436.3 458.7,436.8 459.2,437.0 459.7,436.9 460.3,436.8 460.8,436.8 461.3,436.5 461.9,436.7 462.4,436.5 462.9,436.2 463.5,436.3 464.0,436.5 464.5,436.7 465.1,436.1 465.6,436.1 466.1,436.3 466.7,436.1 467.2,436.4 467.7,436.4 468.3,436.7 468.8,436.6 469.3,436.8 469.9,436.9 470.4,436.8 470.9,437.2 471.5,437.7 472.0,437.7 472.5,438.1 473.1,438.7 473.6,439.0 474.1,439.3 474.7,439.7 475.2,440.0 475.7,440.2 476.3,440.8 476.8,440.7 477.3,441.4 477.9,441.5 478.4,441.3 478.9,441.4 479.5,441.8 480.0,441.9 480.5,442.2 481.1,441.9 481.6,442.2 482.1,442.4 482.7,442.3 483.2,442.3 483.7,442.5 484.3,442.4 484.8,442.6 485.3,442.8 485.9,443.0 486.4,443.0 486.9,443.0 487.5,443.2 488.0,443.3 488.5,443.5 489.1,443.5 489.6,443.5 490.1,443.8 490.7,444.1 491.2,443.8 491.7,444.1 492.3,444.4 492.8,444.5 493.3,444.7 493.9,445.1 494.4,445.0 494.9,445.4 495.5,445.3 496.0,445.5 496.5,445.5 497.1,445.8 497.6,445.9 498.1,446.1 498.7,446.3 499.2,446.6 499.7,446.4 500.3,446.6 500.8,446.7 501.3,446.3 501.9,445.7 502.4,445.0 502.9,444.1 503.5,443.3 504.0,442.9" fill="none" stroke="#30a030" stroke-width="1.35" stroke-linejoin="round"/>
<polyline points="304.0,387.9 304.5,387.9 305.1,387.6 305.6,388.0 306.1,387.8 306.7,388.1 307.2,388.0 307.7,388.2 308.3,388.5 308.8,388.4 309.3,388.2 309.9,388.6 310.4,388.5 310.9,388.7 311.5,388.8 312.0,388.8 312.5,388.9 313.1,388.7 313.6,389.1 314.1,389.2 314.7,389.3 315.2,389.5 315.7,389.6 316.3,389.4 316.8,389.8 317.3,389.5 317.9,389.7 318.4,390.1 318.9,390.4 319.5,390.4 320.0,390.6 320.5,390.6 321.1,391.1 321.6,391.2 322.1,391.4 322.7,391.6 323.2,391.7 323.7,391.9 324.3,392.0 324.8,391.9 325.3,391.9 325.9,391.8 326.4,391.7 326.9,391.8 327.5,392.1 328.0,391.9 328.5,392.3 329.1,392.4 329.6,392.0 330.1,392.6 330.7,392.5 331.2,392.6 331.7,392.4 332.3,392.8 332.8,392.6 333.3,392.9 333.9,393.0 334.4,392.9 334.9,393.0 335.5,393.2 336.0,393.2 336.5,393.3 337.1,393.1 337.6,393.3 338.1,393.4 338.7,393.5 339.2,393.8 339.7,393.8 340.3,394.1 340.8,394.3 341.3,394.4 341.9,394.4 342.4,394.5 342.9,394.5 343.5,395.0 344.0,395.0 344.5,395.0 345.1,395.3 345.6,395.3 346.1,395.5 346.7,395.8 347.2,395.6 347.7,396.1 348.3,395.9 348.8,396.2 349.3,396.4 349.9,396.6 350.4,396.7 350.9,396.8 351.5,396.8 352.0,397.2 352.5,396.9 353.1,397.1 353.6,397.2 354.1,397.6 354.7,398.0 355.2,397.9 355.7,397.9 356.3,398.0 356.8,398.2 357.3,398.3 357.9,398.4 358.4,398.7 358.9,398.4 359.5,398.9 360.0,398.9 360.5,398.9 361.1,399.2 361.6,399.3 362.1,399.2 362.7,399.5 363.2,399.5 363.7,399.7 364.3,399.8 364.8,399.9 365.3,400.1 365.9,400.3 366.4,400.2 366.9,400.4 367.5,400.5 368.0,400.9 368.5,400.8 369.1,400.8 369.6,401.0 370.1,401.2 370.7,401.4 371.2,401.6 371.7,401.6 372.3,401.7 372.8,402.0 373.3,402.0 373.9,402.4 374.4,402.4 374.9,402.9 375.5,402.9 376.0,403.2 376.5,403.2 377.1,403.4 377.6,403.7 378.1,403.9 378.7,404.0 379.2,404.3 379.7,404.4 380.3,404.6 380.8,404.6 381.3,404.6 381.9,405.1 382.4,405.2 382.9,405.3 383.5,405.6 384.0,405.8 384.5,405.8 385.1,406.0 385.6,406.3 386.1,406.6 386.7,406.5 387.2,407.1 387.7,407.2 388.3,407.7 388.8,407.9 389.3,408.0 389.9,408.4 390.4,408.5 390.9,408.9 391.5,409.6 392.0,410.4 392.5,410.8 393.1,411.9 393.6,412.4 394.1,413.3 394.7,413.7 395.2,413.6 395.7,413.6 396.3,413.5 396.8,413.5 397.3,413.2 397.9,413.1 398.4,413.3 398.9,413.0 399.5,413.3 400.0,413.2 400.5,413.5 401.1,413.5 401.6,412.9 402.1,413.0 402.7,413.0 403.2,413.4 403.7,413.1 404.3,413.1 404.8,413.1 405.3,413.1 405.9,413.2 406.4,413.1 406.9,413.2 407.5,413.1 408.0,413.0 408.5,413.2 409.1,413.1 409.6,413.1 410.1,413.0 410.7,412.9 411.2,413.0 411.7,413.0 412.3,413.2 412.8,413.1 413.3,412.9 413.9,413.1 414.4,413.1 414.9,413.1 415.5,412.8 416.0,413.1 416.5,413.1 417.1,412.9 417.6,412.9 418.1,412.9 418.7,412.9 419.2,413.0 419.7,413.0 420.3,413.1 420.8,413.1 421.3,413.1 421.9,413.0 422.4,413.0 422.9,413.0 423.5,412.9 424.0,413.0 424.5,413.2 425.1,413.2 425.6,413.2 426.1,413.4 426.7,413.1 427.2,413.3 427.7,413.3 428.3,413.3 428.8,413.1 429.3,413.3 429.9,413.1 430.4,413.3 430.9,413.4 431.5,413.2 432.0,413.3 432.5,413.4 433.1,413.5 433.6,413.5 434.1,413.6 434.7,413.5 435.2,413.5 435.7,413.3 436.3,413.3 436.8,413.4 437.3,413.4 437.9,413.5 438.4,413.1 438.9,413.3 439.5,413.1 440.0,413.4 440.5,413.4 441.1,413.3 441.6,413.4 442.1,413.4 442.7,413.5 443.2,413.2 443.7,413.3 444.3,413.2 444.8,413.4 445.3,413.7 445.9,413.5 446.4,413.5 446.9,413.9 447.5,414.0 448.0,414.1 448.5,414.2 449.1,414.5 449.6,414.2 450.1,414.4 450.7,414.8 451.2,415.0 451.7,414.9 452.3,414.8 452.8,415.3 453.3,415.9 453.9,417.0 454.4,417.8 454.9,419.1 455.5,419.6 456.0,420.8 456.5,422.1 457.1,422.7 457.6,423.0 458.1,423.4 458.7,423.8 459.2,424.0 459.7,423.9 460.3,424.0 460.8,424.1 461.3,423.6 461.9,423.5 462.4,423.2 462.9,422.8 463.5,422.7 464.0,422.6 464.5,422.2 465.1,422.1 465.6,421.8 466.1,421.9 466.7,421.8 467.2,422.1 467.7,422.0 468.3,422.3 468.8,422.4 469.3,422.6 469.9,422.7 470.4,423.1 470.9,422.7 471.5,423.6 472.0,424.0 472.5,424.6 473.1,425.2 473.6,425.7 474.1,426.4 474.7,427.0 475.2,427.8 475.7,428.3 476.3,429.0 476.8,429.2 477.3,430.2 477.9,430.7 478.4,431.0 478.9,431.2 479.5,431.8 480.0,431.9 480.5,431.8 481.1,431.8 481.6,432.2 482.1,432.3 482.7,432.3 483.2,432.2 483.7,432.4 484.3,432.4 484.8,432.6 485.3,432.7 485.9,432.7 486.4,432.8 486.9,432.8 487.5,433.0 488.0,433.0 488.5,432.9 489.1,433.1 489.6,433.2 490.1,433.0 490.7,433.1 491.2,433.2 491.7,433.3 492.3,433.2 492.8,433.0 493.3,433.6 493.9,433.9 494.4,434.0 494.9,434.3 495.5,434.6 496.0,434.8 496.5,434.8 497.1,435.0 497.6,435.2 498.1,435.5 498.7,435.9 499.2,436.0 499.7,436.4 500.3,436.6 500.8,436.7 501.3,436.2 501.9,435.8 502.4,435.4 502.9,434.7 503.5,434.1 504.0,433.6" fill="none" stroke="#40b040" stroke-width="1.35" stroke-linejoin="round"/>
<polyline points="304.0,352.3 304.5,352.4 305.1,352.5 305.6,352.9 306.1,352.8 306.7,353.1 307.2,352.7 307.7,352.9 308.3,353.1 308.8,353.1 309.3,353.1 309.9,353.3 310.4,353.8 310.9,353.7 311.5,354.1 312.0,354.0 312.5,354.1 313.1,354.1 313.6,354.1 314.1,354.4 314.7,354.4 315.2,354.4 315.7,354.6 316.3,354.7 316.8,355.1 317.3,355.0 317.9,354.9 318.4,355.1 318.9,355.4 319.5,355.3 320.0,355.4 320.5,355.7 321.1,355.6 321.6,356.2 322.1,356.7 322.7,357.3 323.2,357.7 323.7,358.6 324.3,359.0 324.8,358.9 325.3,359.0 325.9,358.7 326.4,359.0 326.9,358.7 327.5,358.9 328.0,359.3 328.5,359.2 329.1,359.7 329.6,359.9 330.1,360.3 330.7,360.6 331.2,360.7 331.7,361.0 332.3,360.9 332.8,360.9 333.3,361.1 333.9,361.3 334.4,361.1 334.9,361.2 335.5,361.1 336.0,361.1 336.5,361.2 337.1,361.2 337.6,361.1 338.1,361.0 338.7,361.4 339.2,361.3 339.7,361.6 340.3,361.8 340.8,361.7 341.3,362.0 341.9,362.2 342.4,362.4 342.9,362.6 343.5,362.9 344.0,362.7 344.5,363.0 345.1,363.3 345.6,363.3 346.1,363.5 346.7,363.9 347.2,363.9 347.7,364.2 348.3,364.3 348.8,364.6 349.3,364.4 349.9,365.0 350.4,365.0 350.9,365.2 351.5,365.5 352.0,365.5 352.5,365.8 353.1,366.0 353.6,366.2 354.1,366.4 354.7,366.3 355.2,366.6 355.7,366.7 356.3,367.2 356.8,367.2 357.3,367.5 357.9,367.6 358.4,367.7 358.9,368.0 359.5,368.2 360.0,368.3 360.5,368.5 361.1,368.6 361.6,369.3 362.1,369.2 362.7,369.5 363.2,369.9 363.7,370.3 364.3,371.1 364.8,372.0 365.3,372.5 365.9,373.0 366.4,373.2 366.9,373.9 367.5,374.0 368.0,374.0 368.5,373.7 369.1,373.7 369.6,373.7 370.1,374.0 370.7,374.1 371.2,374.5 371.7,374.4 372.3,374.8 372.8,375.2 373.3,374.9 373.9,375.1 374.4,375.4 374.9,375.6 375.5,376.0 376.0,375.9 376.5,376.4 377.1,376.2 377.6,376.6 378.1,377.1 378.7,376.9 379.2,377.0 379.7,377.5 380.3,377.5 380.8,377.9 381.3,378.1 381.9,378.6 382.4,378.3 382.9,378.7 383.5,378.8 384.0,379.2 384.5,379.4 385.1,379.3 385.6,379.7 386.1,379.9 386.7,380.2 387.2,380.2 387.7,380.3 388.3,380.7 388.8,380.9 389.3,381.5 389.9,381.9 390.4,383.3 390.9,384.5 391.5,385.6 392.0,387.7 392.5,390.2 393.1,392.9 393.6,395.5 394.1,397.5 394.7,399.2 395.2,400.0 395.7,400.2 396.3,400.1 396.8,400.2 397.3,399.4 397.9,399.1 398.4,398.7 398.9,398.7 399.5,397.9 400.0,397.3 400.5,397.3 401.1,396.7 401.6,396.8 402.1,396.7 402.7,396.2 403.2,396.1 403.7,395.8 404.3,395.8 404.8,395.5 405.3,395.7 405.9,395.5 406.4,395.6 406.9,395.5 407.5,395.2 408.0,395.3 408.5,395.2 409.1,395.1 409.6,394.9 410.1,394.8 410.7,394.7 411.2,394.6 411.7,394.6 412.3,394.6 412.8,394.7 413.3,394.5 413.9,394.4 414.4,394.5 414.9,393.9 415.5,394.3 416.0,394.0 416.5,393.9 417.1,393.9 417.6,393.4 418.1,393.7 418.7,393.7 419.2,393.3 419.7,393.5 420.3,393.6 420.8,393.4 421.3,393.3 421.9,393.2 422.4,393.3 422.9,394.0 423.5,394.4 424.0,395.0 424.5,396.0 425.1,396.3 425.6,396.2 426.1,396.0 426.7,396.1 427.2,396.0 427.7,395.8 428.3,395.4 428.8,395.2 429.3,395.5 429.9,395.3 430.4,395.0 430.9,394.9 431.5,394.5 432.0,394.4 432.5,394.1 433.1,394.3 433.6,394.4 434.1,394.2 434.7,394.5 435.2,394.6 435.7,394.4 436.3,394.2 436.8,394.6 437.3,394.2 437.9,394.2 438.4,394.4 438.9,394.3 439.5,394.4 440.0,394.4 440.5,394.3 441.1,394.5 441.6,394.3 442.1,394.4 442.7,394.5 443.2,395.0 443.7,395.1 444.3,394.9 444.8,395.2 445.3,395.3 445.9,395.4 446.4,395.6 446.9,395.6 447.5,395.8 448.0,395.9 448.5,396.0 449.1,396.5 449.6,396.5 450.1,397.2 450.7,396.9 451.2,397.7 451.7,397.7 452.3,398.1 452.8,398.9 453.3,399.9 453.9,401.6 454.4,403.6 454.9,405.2 455.5,406.9 456.0,408.8 456.5,410.2 457.1,411.1 457.6,411.9 458.1,412.8 458.7,413.6 459.2,414.4 459.7,414.8 460.3,415.2 460.8,414.5 461.3,414.7 461.9,414.4 462.4,414.4 462.9,414.2 463.5,414.0 464.0,413.6 464.5,413.5 465.1,413.4 465.6,413.2 466.1,413.5 466.7,413.5 467.2,413.7 467.7,413.6 468.3,413.9 468.8,413.9 469.3,414.0 469.9,414.6 470.4,414.2 470.9,414.7 471.5,415.2 472.0,416.1 472.5,416.5 473.1,417.5 473.6,417.9 474.1,418.6 474.7,419.0 475.2,420.0 475.7,420.6 476.3,421.3 476.8,421.8 477.3,422.9 477.9,423.4 478.4,424.2 478.9,424.5 479.5,424.6 480.0,424.7 480.5,425.0 481.1,425.0 481.6,424.9 482.1,425.2 482.7,425.2 483.2,425.5 483.7,425.2 484.3,425.3 484.8,425.6 485.3,425.8 485.9,425.6 486.4,425.8 486.9,426.1 487.5,426.3 488.0,426.2 488.5,425.9 489.1,426.4 489.6,426.0 490.1,426.5 490.7,426.6 491.2,426.5 491.7,426.8 492.3,426.8 492.8,427.1 493.3,427.3 493.9,427.5 494.4,427.6 494.9,428.1 495.5,428.5 496.0,428.5 496.5,428.9 497.1,429.2 497.6,429.5 498.1,430.1 498.7,429.8 499.2,430.4 499.7,430.6 500.3,430.7 500.8,430.8 501.3,430.8 501.9,430.3 502.4,429.7 502.9,429.0 503.5,428.4 504.0,428.1" fill="none" stroke="#c3c892" stroke-width="1.35" stroke-linejoin="round"/>
<polyline points="304.0,345.4 304.5,345.5 305.1,345.5 305.6,345.7 306.1,345.7 306.7,346.0 307.2,346.0 307.7,346.3 308.3,346.5 308.8,346.7 309.3,346.7 309.9,346.7 310.4,346.7 310.9,347.0 311.5,347.2 312.0,347.4 312.5,347.2 313.1,347.5 313.6,347.7 314.1,347.7 314.7,348.1 315.2,348.0 315.7,348.2 316.3,348.3 316.8,348.6 317.3,348.4 317.9,348.5 318.4,349.0 318.9,348.9 319.5,349.0 320.0,348.9 320.5,349.4 321.1,349.7 321.6,350.1 322.1,350.4 322.7,351.6 323.2,352.4 323.7,352.9 324.3,353.9 324.8,354.1 325.3,353.6 325.9,353.5 326.4,353.8 326.9,353.7 327.5,354.0 328.0,354.3 328.5,354.8 329.1,355.1 329.6,355.5 330.1,355.7 330.7,356.0 331.2,356.1 331.7,356.5 332.3,357.0 332.8,356.9 333.3,356.8 333.9,357.1 334.4,357.0 334.9,357.3 335.5,357.3 336.0,357.6 336.5,357.4 337.1,357.8 337.6,357.5 338.1,358.0 338.7,358.2 339.2,357.9 339.7,358.2 340.3,358.3 340.8,358.4 341.3,358.7 341.9,359.0 342.4,359.0 342.9,359.1 343.5,359.3 344.0,359.2 344.5,359.8 345.1,359.8 345.6,359.9 346.1,360.3 346.7,360.5 347.2,360.6 347.7,360.6 348.3,360.9 348.8,361.0 349.3,361.3 349.9,361.3 350.4,361.7 350.9,361.8 351.5,361.9 352.0,362.1 352.5,362.0 353.1,362.6 353.6,362.5 354.1,362.5 354.7,362.7 355.2,363.1 355.7,363.4 356.3,363.5 356.8,363.7 357.3,364.0 357.9,364.3 358.4,364.5 358.9,365.1 359.5,365.4 360.0,365.7 360.5,366.0 361.1,366.2 361.6,366.4 362.1,366.4 362.7,367.1 363.2,367.6 363.7,368.1 364.3,369.3 364.8,370.0 365.3,370.8 365.9,371.7 366.4,372.4 366.9,372.9 367.5,373.1 368.0,372.8 368.5,372.7 369.1,372.5 369.6,372.6 370.1,372.6 370.7,373.1 371.2,373.0 371.7,373.5 372.3,373.8 372.8,374.0 373.3,374.1 373.9,374.0 374.4,374.3 374.9,374.8 375.5,374.8 376.0,375.1 376.5,375.5 377.1,375.6 377.6,376.0 378.1,376.0 378.7,376.5 379.2,376.4 379.7,376.7 380.3,376.9 380.8,377.1 381.3,377.0 381.9,377.5 382.4,377.6 382.9,377.9 383.5,378.2 384.0,378.6 384.5,379.2 385.1,379.7 385.6,380.0 386.1,380.3 386.7,380.7 387.2,381.0 387.7,381.3 388.3,381.8 388.8,382.0 389.3,382.8 389.9,384.1 390.4,385.2 390.9,387.1 391.5,388.1 392.0,390.2 392.5,392.7 393.1,395.8 393.6,397.9 394.1,400.5 394.7,401.8 395.2,402.3 395.7,402.7 396.3,402.7 396.8,402.1 397.3,401.9 397.9,401.2 398.4,400.8 398.9,400.2 399.5,400.1 400.0,399.3 400.5,399.1 401.1,398.6 401.6,398.7 402.1,398.1 402.7,398.0 403.2,397.7 403.7,397.7 404.3,397.3 404.8,397.2 405.3,397.3 405.9,397.2 406.4,397.0 406.9,396.6 407.5,396.7 408.0,396.5 408.5,396.5 409.1,396.4 409.6,396.3 410.1,396.3 410.7,396.0 411.2,396.1 411.7,396.0 412.3,396.2 412.8,395.8 413.3,395.9 413.9,395.8 414.4,395.5 414.9,395.7 415.5,395.5 416.0,395.3 416.5,395.2 417.1,395.3 417.6,395.1 418.1,395.0 418.7,395.2 419.2,395.2 419.7,395.1 420.3,394.7 420.8,394.6 421.3,394.8 421.9,394.7 422.4,394.8 422.9,395.2 423.5,395.9 424.0,396.4 424.5,397.4 425.1,397.6 425.6,397.8 426.1,397.7 426.7,397.5 427.2,397.3 427.7,397.2 428.3,396.9 428.8,396.7 429.3,396.7 429.9,396.2 430.4,396.4 430.9,396.0 431.5,395.6 432.0,395.9 432.5,395.6 433.1,395.6 433.6,395.7 434.1,396.0 434.7,395.6 435.2,395.7 435.7,395.8 436.3,395.6 436.8,395.9 437.3,395.6 437.9,395.8 438.4,395.7 438.9,395.9 439.5,395.8 440.0,395.9 440.5,395.9 441.1,395.8 441.6,395.9 442.1,395.9 442.7,395.9 443.2,396.2 443.7,396.6 444.3,396.5 444.8,396.6 445.3,396.6 445.9,396.7 446.4,396.9 446.9,397.2 447.5,397.2 448.0,397.7 448.5,397.6 449.1,398.0 449.6,398.2 450.1,398.7 450.7,398.9 451.2,399.3 451.7,399.4 452.3,400.1 452.8,400.4 453.3,401.7 453.9,403.2 454.4,405.5 454.9,407.7 455.5,409.7 456.0,411.6 456.5,413.2 457.1,414.8 457.6,416.2 458.1,417.4 458.7,418.7 459.2,419.8 459.7,420.4 460.3,420.4 460.8,420.1 461.3,420.0 461.9,419.6 462.4,419.4 462.9,419.2 463.5,419.1 464.0,418.9 464.5,418.8 465.1,418.5 465.6,418.2 466.1,418.4 466.7,418.1 467.2,418.3 467.7,418.7 468.3,418.7 468.8,419.2 469.3,419.3 469.9,419.3 470.4,419.5 470.9,419.8 471.5,420.3 472.0,420.5 472.5,421.5 473.1,422.2 473.6,422.9 474.1,423.7 474.7,424.5 475.2,425.2 475.7,426.1 476.3,426.4 476.8,427.5 477.3,428.3 477.9,428.9 478.4,429.5 478.9,429.4 479.5,429.9 480.0,429.9 480.5,430.0 481.1,430.2 481.6,430.3 482.1,430.7 482.7,430.7 483.2,430.9 483.7,430.9 484.3,431.1 484.8,431.0 485.3,431.2 485.9,431.4 486.4,431.7 486.9,431.5 487.5,431.5 488.0,431.7 488.5,432.0 489.1,431.8 489.6,431.8 490.1,432.3 490.7,432.1 491.2,432.5 491.7,432.3 492.3,432.1 492.8,432.5 493.3,432.6 493.9,432.9 494.4,433.1 494.9,433.0 495.5,433.4 496.0,433.9 496.5,434.1 497.1,434.3 497.6,434.2 498.1,434.8 498.7,434.9 499.2,435.3 499.7,435.7 500.3,435.5 500.8,435.7 501.3,435.5 501.9,434.8 502.4,434.1 502.9,433.2 503.5,432.6 504.0,431.6" fill="none" stroke="#d060e0" stroke-width="1.35" stroke-linejoin="round"/>
<polyline points="304.0,341.2 304.5,341.2 305.1,341.5 305.6,341.5 306.1,341.7 306.7,341.7 307.2,341.9 307.7,342.0 308.3,342.3 308.8,342.5 309.3,342.6 309.9,342.7 310.4,342.8 310.9,343.0 311.5,342.8 312.0,343.1 312.5,343.5 313.1,343.5 313.6,343.7 314.1,343.6 314.7,343.6 315.2,344.0 315.7,343.9 316.3,344.2 316.8,344.1 317.3,344.2 317.9,344.5 318.4,344.5 318.9,344.8 319.5,345.0 320.0,345.2 320.5,345.2 321.1,345.5 321.6,346.2 322.1,347.2 322.7,348.5 323.2,350.0 323.7,351.0 324.3,351.4 324.8,351.8 325.3,351.3 325.9,351.4 326.4,351.2 326.9,351.0 327.5,351.1 328.0,351.6 328.5,351.8 329.1,352.1 329.6,352.4 330.1,352.9 330.7,353.2 331.2,353.8 331.7,353.8 332.3,353.8 332.8,353.7 333.3,354.0 333.9,353.9 334.4,353.8 334.9,353.5 335.5,353.9 336.0,353.7 336.5,353.2 337.1,353.3 337.6,353.5 338.1,353.3 338.7,353.2 339.2,353.3 339.7,353.6 340.3,353.9 340.8,354.0 341.3,354.4 341.9,354.5 342.4,354.8 342.9,355.2 343.5,355.2 344.0,355.7 344.5,355.9 345.1,356.3 345.6,356.5 346.1,356.8 346.7,357.1 347.2,357.2 347.7,357.3 348.3,357.5 348.8,357.8 349.3,358.3 349.9,358.4 350.4,358.8 350.9,358.8 351.5,359.5 352.0,359.4 352.5,360.0 353.1,360.0 353.6,360.5 354.1,360.6 354.7,361.0 355.2,361.5 355.7,361.6 356.3,361.8 356.8,362.1 357.3,362.8 357.9,363.1 358.4,363.5 358.9,363.8 359.5,364.2 360.0,364.7 360.5,365.2 361.1,365.4 361.6,365.9 362.1,366.1 362.7,366.8 363.2,367.2 363.7,368.1 364.3,368.7 364.8,369.5 365.3,370.3 365.9,371.2 366.4,371.7 366.9,372.0 367.5,371.8 368.0,371.4 368.5,370.8 369.1,371.0 369.6,370.8 370.1,370.9 370.7,370.9 371.2,371.1 371.7,371.2 372.3,371.4 372.8,371.2 373.3,371.5 373.9,372.1 374.4,371.9 374.9,372.1 375.5,372.6 376.0,372.5 376.5,372.6 377.1,372.8 377.6,372.8 378.1,373.2 378.7,373.0 379.2,373.1 379.7,373.3 380.3,373.5 380.8,373.6 381.3,373.8 381.9,373.7 382.4,374.0 382.9,374.1 383.5,374.8 384.0,375.0 384.5,375.7 385.1,376.0 385.6,376.5 386.1,376.7 386.7,377.2 387.2,377.5 387.7,377.8 388.3,378.4 388.8,378.9 389.3,379.5 389.9,380.8 390.4,382.2 390.9,383.7 391.5,385.4 392.0,387.6 392.5,390.6 393.1,394.1 393.6,397.3 394.1,399.9 394.7,401.9 395.2,402.7 395.7,403.2 396.3,403.1 396.8,402.6 397.3,402.4 397.9,402.1 398.4,401.5 398.9,401.1 399.5,400.5 400.0,400.5 400.5,400.1 401.1,399.8 401.6,399.8 402.1,399.2 402.7,399.4 403.2,399.0 403.7,398.9 404.3,398.6 404.8,398.2 405.3,398.1 405.9,397.9 406.4,397.8 406.9,398.0 407.5,397.5 408.0,397.7 408.5,397.4 409.1,397.4 409.6,397.3 410.1,397.1 410.7,397.2 411.2,396.8 411.7,396.9 412.3,396.8 412.8,396.7 413.3,396.7 413.9,396.7 414.4,396.4 414.9,396.7 415.5,396.5 416.0,396.5 416.5,396.4 417.1,396.3 417.6,396.3 418.1,396.0 418.7,395.9 419.2,395.9 419.7,395.7 420.3,395.8 420.8,395.8 421.3,395.6 421.9,395.5 422.4,395.2 422.9,396.1 423.5,396.7 424.0,397.6 424.5,398.1 425.1,398.7 425.6,398.7 426.1,398.7 426.7,398.6 427.2,398.5 427.7,398.3 428.3,397.8 428.8,397.7 429.3,397.6 429.9,397.4 430.4,397.3 430.9,397.0 431.5,396.8 432.0,396.6 432.5,396.5 433.1,396.8 433.6,396.6 434.1,396.4 434.7,396.7 435.2,396.6 435.7,396.6 436.3,396.4 436.8,396.5 437.3,396.6 437.9,396.5 438.4,396.4 438.9,396.5 439.5,396.3 440.0,396.5 440.5,396.7 441.1,396.7 441.6,396.7 442.1,396.9 442.7,396.9 443.2,397.1 443.7,397.1 444.3,397.3 444.8,397.4 445.3,397.9 445.9,398.0 446.4,398.0 446.9,398.2 447.5,398.3 448.0,398.6 448.5,399.1 449.1,399.2 449.6,399.7 450.1,400.5 450.7,400.8 451.2,401.2 451.7,401.5 452.3,402.2 452.8,403.5 453.3,405.0 453.9,407.7 454.4,410.5 454.9,413.8 455.5,416.7 456.0,419.4 456.5,421.5 457.1,423.5 457.6,424.9 458.1,426.5 458.7,428.2 459.2,429.2 459.7,429.6 460.3,429.3 460.8,428.7 461.3,428.3 461.9,427.4 462.4,426.8 462.9,426.2 463.5,425.3 464.0,424.8 464.5,424.2 465.1,423.3 465.6,422.8 466.1,422.9 466.7,422.7 467.2,422.9 467.7,423.3 468.3,423.1 468.8,423.6 469.3,423.7 469.9,424.3 470.4,424.1 470.9,424.6 471.5,424.9 472.0,425.8 472.5,426.0 473.1,426.7 473.6,427.3 474.1,428.7 474.7,428.9 475.2,429.7 475.7,430.9 476.3,431.3 476.8,431.9 477.3,432.4 477.9,433.3 478.4,433.8 478.9,434.2 479.5,434.5 480.0,434.8 480.5,434.8 481.1,435.0 481.6,435.5 482.1,435.4 482.7,435.9 483.2,436.0 483.7,436.0 484.3,436.4 484.8,436.5 485.3,436.7 485.9,436.9 486.4,437.2 486.9,437.4 487.5,437.3 488.0,437.4 488.5,437.6 489.1,437.9 489.6,437.9 490.1,438.1 490.7,438.4 491.2,438.4 491.7,438.5 492.3,438.6 492.8,439.0 493.3,439.2 493.9,439.3 494.4,439.7 494.9,439.9 495.5,440.1 496.0,440.5 496.5,440.6 497.1,441.1 497.6,441.2 498.1,441.6 498.7,441.7 499.2,442.3 499.7,442.6 500.3,442.6 500.8,442.9 501.3,442.5 501.9,441.7 502.4,440.7 502.9,440.0 503.5,438.9 504.0,438.3" fill="none" stroke="#3478bc" stroke-width="1.35" stroke-linejoin="round"/>
<polyline points="304.0,331.3 304.5,331.4 305.1,331.6 305.6,331.6 306.1,331.9 306.7,332.2 307.2,332.3 307.7,332.4 308.3,332.6 308.8,332.8 309.3,333.1 309.9,333.3 310.4,333.2 310.9,333.7 311.5,333.7 312.0,334.0 312.5,334.4 313.1,334.7 313.6,334.6 314.1,335.0 314.7,335.2 315.2,335.5 315.7,335.3 316.3,335.7 316.8,335.9 317.3,336.0 317.9,336.2 318.4,336.4 318.9,336.6 319.5,336.9 320.0,337.4 320.5,337.2 321.1,337.5 321.6,338.1 322.1,338.6 322.7,339.9 323.2,341.0 323.7,341.1 324.3,341.7 324.8,342.0 325.3,341.6 325.9,341.1 326.4,341.2 326.9,340.9 327.5,340.9 328.0,341.3 328.5,341.8 329.1,342.1 329.6,342.6 330.1,342.8 330.7,343.2 331.2,343.7 331.7,344.0 332.3,343.7 332.8,344.1 333.3,344.4 333.9,344.4 334.4,344.3 334.9,344.4 335.5,344.8 336.0,344.8 336.5,344.8 337.1,345.0 337.6,345.3 338.1,345.4 338.7,345.4 339.2,345.6 339.7,345.9 340.3,346.1 340.8,346.2 341.3,346.5 341.9,346.8 342.4,346.8 342.9,347.4 343.5,347.6 344.0,348.1 344.5,348.0 345.1,348.4 345.6,348.9 346.1,349.0 346.7,348.9 347.2,349.3 347.7,349.7 348.3,349.9 348.8,350.5 349.3,350.6 349.9,350.9 350.4,351.1 350.9,351.3 351.5,351.5 352.0,351.7 352.5,351.9 353.1,352.0 353.6,352.7 354.1,352.9 354.7,353.1 355.2,353.5 355.7,353.7 356.3,353.8 356.8,354.2 357.3,354.2 357.9,354.3 358.4,354.8 358.9,355.1 359.5,355.0 360.0,355.3 360.5,355.3 361.1,355.6 361.6,355.6 362.1,355.7 362.7,355.9 363.2,356.2 363.7,356.5 364.3,356.9 364.8,357.0 365.3,357.0 365.9,357.1 366.4,357.4 366.9,357.6 367.5,357.9 368.0,358.1 368.5,358.3 369.1,358.2 369.6,358.8 370.1,358.6 370.7,359.0 371.2,359.1 371.7,359.3 372.3,359.4 372.8,359.6 373.3,360.1 373.9,360.3 374.4,360.4 374.9,360.7 375.5,360.7 376.0,361.0 376.5,361.2 377.1,361.3 377.6,361.6 378.1,361.6 378.7,362.2 379.2,362.2 379.7,362.3 380.3,362.7 380.8,362.9 381.3,362.9 381.9,363.3 382.4,363.8 382.9,364.1 383.5,364.3 384.0,365.1 384.5,365.4 385.1,365.9 385.6,366.7 386.1,367.2 386.7,367.9 387.2,368.4 387.7,369.0 388.3,369.4 388.8,370.3 389.3,371.0 389.9,372.1 390.4,373.5 390.9,375.4 391.5,376.9 392.0,378.4 392.5,380.0 393.1,381.9 393.6,384.1 394.1,386.0 394.7,387.8 395.2,388.5 395.7,388.6 396.3,388.2 396.8,387.7 397.3,387.0 397.9,386.2 398.4,385.3 398.9,384.3 399.5,383.7 400.0,383.2 400.5,382.3 401.1,381.9 401.6,381.7 402.1,381.4 402.7,380.6 403.2,380.7 403.7,380.6 404.3,380.4 404.8,380.3 405.3,380.5 405.9,380.6 406.4,380.5 406.9,380.7 407.5,380.7 408.0,380.9 408.5,381.1 409.1,381.0 409.6,381.3 410.1,381.1 410.7,381.4 411.2,381.3 411.7,381.5 412.3,381.3 412.8,381.5 413.3,381.1 413.9,381.3 414.4,381.2 414.9,381.5 415.5,381.5 416.0,381.3 416.5,381.5 417.1,381.1 417.6,381.3 418.1,381.3 418.7,381.2 419.2,381.3 419.7,381.2 420.3,381.4 420.8,381.2 421.3,381.1 421.9,381.3 422.4,381.3 422.9,381.3 423.5,381.3 424.0,381.2 424.5,381.3 425.1,381.5 425.6,381.3 426.1,381.4 426.7,381.3 427.2,381.3 427.7,381.1 428.3,381.5 428.8,381.5 429.3,381.3 429.9,381.6 430.4,381.4 430.9,381.4 431.5,381.7 432.0,381.4 432.5,381.3 433.1,381.4 433.6,381.7 434.1,381.4 434.7,381.7 435.2,381.5 435.7,381.5 436.3,381.7 436.8,381.8 437.3,381.6 437.9,381.7 438.4,381.8 438.9,381.9 439.5,381.8 440.0,382.0 440.5,382.1 441.1,382.2 441.6,382.2 442.1,382.3 442.7,382.4 443.2,382.6 443.7,382.6 444.3,382.7 444.8,382.7 445.3,382.7 445.9,382.9 446.4,383.1 446.9,383.3 447.5,383.6 448.0,383.7 448.5,384.0 449.1,384.1 449.6,384.4 450.1,384.5 450.7,384.7 451.2,384.6 451.7,385.0 452.3,385.4 452.8,386.0 453.3,387.7 453.9,389.7 454.4,392.4 454.9,395.0 455.5,398.3 456.0,400.9 456.5,403.2 457.1,405.0 457.6,406.1 458.1,407.1 458.7,407.7 459.2,408.0 459.7,407.7 460.3,407.4 460.8,406.5 461.3,405.2 461.9,404.3 462.4,403.2 462.9,402.5 463.5,401.4 464.0,400.4 464.5,399.3 465.1,398.5 465.6,397.8 466.1,397.2 466.7,397.3 467.2,397.2 467.7,397.2 468.3,397.2 468.8,397.1 469.3,397.2 469.9,397.2 470.4,397.0 470.9,397.4 471.5,398.1 472.0,398.8 472.5,400.2 473.1,401.3 473.6,402.4 474.1,403.7 474.7,404.8 475.2,405.9 475.7,407.3 476.3,408.4 476.8,409.4 477.3,410.6 477.9,411.7 478.4,412.2 478.9,412.9 479.5,413.0 480.0,413.0 480.5,412.8 481.1,412.7 481.6,412.8 482.1,412.8 482.7,413.8 483.2,414.5 483.7,415.6 484.3,416.9 484.8,417.7 485.3,418.6 485.9,419.2 486.4,418.9 486.9,419.0 487.5,418.9 488.0,418.6 488.5,418.4 489.1,418.0 489.6,417.8 490.1,417.7 490.7,417.4 491.2,417.1 491.7,416.8 492.3,416.6 492.8,416.6 493.3,416.7 493.9,417.3 494.4,418.2 494.9,419.4 495.5,419.9 496.0,420.7 496.5,421.6 497.1,422.4 497.6,423.3 498.1,424.4 498.7,425.4 499.2,425.8 499.7,426.8 500.3,427.4 500.8,427.7 501.3,427.2 501.9,425.7 502.4,424.3 502.9,422.3 503.5,420.8 504.0,419.6" fill="none" stroke="#2f80d8" stroke-width="1.35" stroke-linejoin="round"/>
<polyline points="304.0,308.9 304.5,308.9 305.1,309.0 305.6,309.3 306.1,309.1 306.7,309.1 307.2,309.1 307.7,309.0 308.3,309.3 308.8,309.5 309.3,309.5 309.9,309.5 310.4,309.4 310.9,309.7 311.5,309.5 312.0,309.6 312.5,309.8 313.1,309.7 313.6,309.9 314.1,309.9 314.7,310.0 315.2,310.0 315.7,310.2 316.3,310.0 316.8,310.4 317.3,310.2 317.9,310.4 318.4,310.3 318.9,311.0 319.5,311.9 320.0,312.9 320.5,313.8 321.1,314.9 321.6,315.5 322.1,317.1 322.7,317.7 323.2,318.8 323.7,318.7 324.3,318.8 324.8,318.1 325.3,317.9 325.9,317.3 326.4,317.2 326.9,317.2 327.5,317.8 328.0,318.7 328.5,319.0 329.1,319.6 329.6,319.9 330.1,320.5 330.7,321.1 331.2,321.4 331.7,321.5 332.3,321.3 332.8,320.6 333.3,320.4 333.9,320.0 334.4,319.7 334.9,319.1 335.5,318.6 336.0,318.2 336.5,317.8 337.1,317.3 337.6,316.9 338.1,316.4 338.7,316.2 339.2,315.8 339.7,315.7 340.3,315.6 340.8,315.9 341.3,316.2 341.9,316.6 342.4,316.7 342.9,316.8 343.5,316.9 344.0,317.5 344.5,317.6 345.1,317.8 345.6,318.0 346.1,318.2 346.7,318.4 347.2,318.9 347.7,318.7 348.3,319.3 348.8,319.5 349.3,319.9 349.9,320.4 350.4,321.1 350.9,321.7 351.5,322.3 352.0,323.2 352.5,323.7 353.1,324.3 353.6,325.3 354.1,326.0 354.7,326.6 355.2,327.0 355.7,327.7 356.3,328.5 356.8,329.0 357.3,329.4 357.9,329.6 358.4,330.2 358.9,330.2 359.5,330.4 360.0,330.5 360.5,330.7 361.1,330.9 361.6,331.0 362.1,331.6 362.7,331.2 363.2,332.1 363.7,332.8 364.3,333.8 364.8,334.5 365.3,335.1 365.9,335.9 366.4,336.9 366.9,337.8 367.5,338.2 368.0,338.3 368.5,337.9 369.1,337.7 369.6,337.0 370.1,336.3 370.7,335.9 371.2,335.1 371.7,334.8 372.3,334.2 372.8,333.5 373.3,332.8 373.9,332.4 374.4,332.1 374.9,331.7 375.5,331.8 376.0,332.1 376.5,332.2 377.1,332.4 377.6,332.5 378.1,332.8 378.7,333.2 379.2,333.3 379.7,333.5 380.3,333.6 380.8,333.8 381.3,334.2 381.9,334.3 382.4,334.5 382.9,334.6 383.5,334.9 384.0,335.1 384.5,336.0 385.1,337.2 385.6,338.9 386.1,340.8 386.7,342.7 387.2,345.0 387.7,347.4 388.3,349.6 388.8,351.3 389.3,352.5 389.9,353.3 390.4,354.1 390.9,354.9 391.5,356.7 392.0,358.5 392.5,362.7 393.1,368.5 393.6,374.6 394.1,379.2 394.7,382.1 395.2,383.1 395.7,383.2 396.3,383.2 396.8,383.0 397.3,382.6 397.9,382.4 398.4,381.9 398.9,381.7 399.5,381.1 400.0,380.7 400.5,380.4 401.1,380.1 401.6,379.7 402.1,379.5 402.7,378.9 403.2,378.4 403.7,377.8 404.3,377.5 404.8,377.0 405.3,376.2 405.9,375.6 406.4,375.3 406.9,374.5 407.5,373.9 408.0,373.5 408.5,373.2 409.1,372.9 409.6,372.4 410.1,371.9 410.7,372.0 411.2,371.5 411.7,371.2 412.3,371.4 412.8,371.0 413.3,370.5 413.9,370.3 414.4,370.1 414.9,370.0 415.5,369.7 416.0,369.6 416.5,369.0 417.1,369.3 417.6,369.2 418.1,368.7 418.7,368.3 419.2,368.4 419.7,368.2 420.3,368.1 420.8,367.8 421.3,367.7 421.9,367.6 422.4,367.8 422.9,368.1 423.5,368.7 424.0,370.0 424.5,371.1 425.1,371.8 425.6,373.0 426.1,373.5 426.7,373.4 427.2,373.5 427.7,372.9 428.3,372.4 428.8,372.3 429.3,371.8 429.9,371.1 430.4,371.1 430.9,370.6 431.5,370.1 432.0,369.9 432.5,369.8 433.1,369.4 433.6,369.7 434.1,369.6 434.7,369.7 435.2,369.6 435.7,369.8 436.3,369.5 436.8,369.7 437.3,369.4 437.9,369.8 438.4,369.7 438.9,369.5 439.5,369.6 440.0,369.7 440.5,369.6 441.1,369.8 441.6,369.7 442.1,370.3 442.7,370.3 443.2,370.5 443.7,370.9 444.3,371.3 444.8,371.9 445.3,372.3 445.9,373.1 446.4,373.7 446.9,374.4 447.5,375.5 448.0,375.6 448.5,376.3 449.1,376.8 449.6,377.6 450.1,377.9 450.7,378.5 451.2,379.4 451.7,379.9 452.3,380.4 452.8,381.6 453.3,383.4 453.9,386.2 454.4,388.9 454.9,392.5 455.5,395.5 456.0,398.3 456.5,401.1 457.1,403.2 457.6,405.1 458.1,406.9 458.7,408.2 459.2,409.1 459.7,409.5 460.3,409.1 460.8,408.5 461.3,407.8 461.9,406.7 462.4,406.0 462.9,405.0 463.5,404.4 464.0,403.8 464.5,402.9 465.1,401.9 465.6,401.3 466.1,401.0 466.7,400.8 467.2,401.2 467.7,401.2 468.3,401.0 468.8,401.2 469.3,401.3 469.9,401.2 470.4,401.4 470.9,402.0 471.5,402.4 472.0,403.6 472.5,404.4 473.1,405.5 473.6,406.9 474.1,407.6 474.7,408.7 475.2,410.0 475.7,411.1 476.3,412.2 476.8,413.5 477.3,414.5 477.9,415.6 478.4,416.8 478.9,417.3 479.5,417.7 480.0,417.8 480.5,418.2 481.1,418.3 481.6,418.8 482.1,419.2 482.7,419.0 483.2,419.2 483.7,419.7 484.3,420.1 484.8,420.2 485.3,420.7 485.9,420.7 486.4,420.9 486.9,420.6 487.5,420.5 488.0,420.5 488.5,420.5 489.1,420.5 489.6,420.3 490.1,420.0 490.7,420.1 491.2,419.8 491.7,420.0 492.3,419.9 492.8,419.9 493.3,420.1 493.9,420.3 494.4,421.0 494.9,421.1 495.5,421.5 496.0,422.0 496.5,422.5 497.1,422.9 497.6,423.2 498.1,423.7 498.7,424.3 499.2,424.6 499.7,424.9 500.3,425.3 500.8,425.5 501.3,425.3 501.9,424.9 502.4,424.1 502.9,423.5 503.5,422.6 504.0,421.9" fill="none" stroke="#8a9240" stroke-width="1.35" stroke-linejoin="round"/>
<rect x="304" y="295" width="200" height="167" fill="none" stroke="#9a9a9a" stroke-width="1"/>
<line x1="304" y1="462.0" x2="305.5" y2="462.0" stroke="#9a9a9a" stroke-width="0.8"/>
<line x1="504" y1="462.0" x2="502.5" y2="462.0" stroke="#9a9a9a" stroke-width="0.8"/>
<text x="301.8" y="464.8" text-anchor="end" class="tk" textLength="4.3" lengthAdjust="spacingAndGlyphs">0</text>
<line x1="304" y1="434.2" x2="305.5" y2="434.2" stroke="#9a9a9a" stroke-width="0.8"/>
<line x1="504" y1="434.2" x2="502.5" y2="434.2" stroke="#9a9a9a" stroke-width="0.8"/>
<text x="301.8" y="437.0" text-anchor="end" class="tk" textLength="9.3" lengthAdjust="spacingAndGlyphs">0.1</text>
<line x1="304" y1="406.3" x2="305.5" y2="406.3" stroke="#9a9a9a" stroke-width="0.8"/>
<line x1="504" y1="406.3" x2="502.5" y2="406.3" stroke="#9a9a9a" stroke-width="0.8"/>
<text x="301.8" y="409.1" text-anchor="end" class="tk" textLength="9.3" lengthAdjust="spacingAndGlyphs">0.2</text>
<line x1="304" y1="378.5" x2="305.5" y2="378.5" stroke="#9a9a9a" stroke-width="0.8"/>
<line x1="504" y1="378.5" x2="502.5" y2="378.5" stroke="#9a9a9a" stroke-width="0.8"/>
<text x="301.8" y="381.3" text-anchor="end" class="tk" textLength="9.3" lengthAdjust="spacingAndGlyphs">0.3</text>
<line x1="304" y1="350.7" x2="305.5" y2="350.7" stroke="#9a9a9a" stroke-width="0.8"/>
<line x1="504" y1="350.7" x2="502.5" y2="350.7" stroke="#9a9a9a" stroke-width="0.8"/>
<text x="301.8" y="353.5" text-anchor="end" class="tk" textLength="9.3" lengthAdjust="spacingAndGlyphs">0.4</text>
<line x1="304" y1="322.8" x2="305.5" y2="322.8" stroke="#9a9a9a" stroke-width="0.8"/>
<line x1="504" y1="322.8" x2="502.5" y2="322.8" stroke="#9a9a9a" stroke-width="0.8"/>
<text x="301.8" y="325.6" text-anchor="end" class="tk" textLength="9.3" lengthAdjust="spacingAndGlyphs">0.5</text>
<line x1="304" y1="295.0" x2="305.5" y2="295.0" stroke="#9a9a9a" stroke-width="0.8"/>
<line x1="504" y1="295.0" x2="502.5" y2="295.0" stroke="#9a9a9a" stroke-width="0.8"/>
<text x="301.8" y="297.8" text-anchor="end" class="tk" textLength="9.3" lengthAdjust="spacingAndGlyphs">0.6</text>
<line x1="304.0" y1="462" x2="304.0" y2="460.5" stroke="#9a9a9a" stroke-width="0.8"/>
<line x1="304.0" y1="295" x2="304.0" y2="296.5" stroke="#9a9a9a" stroke-width="0.8"/>
<text x="304.0" y="471.6" text-anchor="middle" class="tk" textLength="13.6" lengthAdjust="spacingAndGlyphs">1000</text>
<line x1="370.7" y1="462" x2="370.7" y2="460.5" stroke="#9a9a9a" stroke-width="0.8"/>
<line x1="370.7" y1="295" x2="370.7" y2="296.5" stroke="#9a9a9a" stroke-width="0.8"/>
<text x="370.7" y="471.6" text-anchor="middle" class="tk" textLength="13.6" lengthAdjust="spacingAndGlyphs">1500</text>
<line x1="437.3" y1="462" x2="437.3" y2="460.5" stroke="#9a9a9a" stroke-width="0.8"/>
<line x1="437.3" y1="295" x2="437.3" y2="296.5" stroke="#9a9a9a" stroke-width="0.8"/>
<text x="437.3" y="471.6" text-anchor="middle" class="tk" textLength="13.6" lengthAdjust="spacingAndGlyphs">2000</text>
<line x1="504.0" y1="462" x2="504.0" y2="460.5" stroke="#9a9a9a" stroke-width="0.8"/>
<line x1="504.0" y1="295" x2="504.0" y2="296.5" stroke="#9a9a9a" stroke-width="0.8"/>
<text x="504.0" y="471.6" text-anchor="middle" class="tk" textLength="13.6" lengthAdjust="spacingAndGlyphs">2500</text>
<text x="404.0" y="480.4" text-anchor="middle" class="al" textLength="54" lengthAdjust="spacingAndGlyphs">Wavelength [nm]</text>
<text transform="translate(289.3,378.5) rotate(-90)" text-anchor="middle" class="al" textLength="38.5" lengthAdjust="spacingAndGlyphs">Reflectance</text>
<rect x="516.2" y="294.7" width="28.0" height="73.40000000000003" fill="#fff" stroke="#9a9a9a" stroke-width="1"/>
<line x1="517.5" y1="298.3" x2="531.6" y2="298.3" stroke="#40b040" stroke-width="1.0"/>
<circle cx="524.5" cy="298.3" r="0.9" fill="#40b040" stroke="#333" stroke-opacity="0.4" stroke-width="0.3"/>
<text x="532.8" y="300.9" class="lg" textLength="10.2" lengthAdjust="spacingAndGlyphs">E34</text>
<line x1="517.5" y1="305.5" x2="531.6" y2="305.5" stroke="#40e0e0" stroke-width="1.0"/>
<circle cx="524.5" cy="305.5" r="0.9" fill="#40e0e0" stroke="#333" stroke-opacity="0.4" stroke-width="0.3"/>
<text x="532.8" y="308.1" class="lg" textLength="10.2" lengthAdjust="spacingAndGlyphs">E54</text>
<line x1="517.5" y1="312.7" x2="531.6" y2="312.7" stroke="#f0e080" stroke-width="1.0"/>
<circle cx="524.5" cy="312.7" r="0.9" fill="#f0e080" stroke="#333" stroke-opacity="0.4" stroke-width="0.3"/>
<text x="532.8" y="315.3" class="lg" textLength="10.2" lengthAdjust="spacingAndGlyphs">E14</text>
<line x1="517.5" y1="320.0" x2="531.6" y2="320.0" stroke="#3080c0" stroke-width="1.0"/>
<circle cx="524.5" cy="320.0" r="0.9" fill="#3080c0" stroke="#333" stroke-opacity="0.4" stroke-width="0.3"/>
<text x="532.8" y="322.6" class="lg" textLength="10.2" lengthAdjust="spacingAndGlyphs">E52</text>
<line x1="517.5" y1="327.2" x2="531.6" y2="327.2" stroke="#5090d0" stroke-width="1.0"/>
<circle cx="524.5" cy="327.2" r="0.9" fill="#5090d0" stroke="#333" stroke-opacity="0.4" stroke-width="0.3"/>
<text x="532.8" y="329.8" class="lg" textLength="10.2" lengthAdjust="spacingAndGlyphs">E41</text>
<line x1="517.5" y1="334.4" x2="531.6" y2="334.4" stroke="#d0d8a0" stroke-width="1.0"/>
<circle cx="524.5" cy="334.4" r="0.9" fill="#d0d8a0" stroke="#333" stroke-opacity="0.4" stroke-width="0.3"/>
<text x="532.8" y="337.0" class="lg" textLength="10.2" lengthAdjust="spacingAndGlyphs">E51</text>
<line x1="517.5" y1="341.6" x2="531.6" y2="341.6" stroke="#30a030" stroke-width="1.0"/>
<circle cx="524.5" cy="341.6" r="0.9" fill="#30a030" stroke="#333" stroke-opacity="0.4" stroke-width="0.3"/>
<text x="532.8" y="344.2" class="lg" textLength="10.2" lengthAdjust="spacingAndGlyphs">E56</text>
<line x1="517.5" y1="348.8" x2="531.6" y2="348.8" stroke="#30d0e0" stroke-width="1.0"/>
<circle cx="524.5" cy="348.8" r="0.9" fill="#30d0e0" stroke="#333" stroke-opacity="0.4" stroke-width="0.3"/>
<text x="532.8" y="351.4" class="lg" textLength="10.2" lengthAdjust="spacingAndGlyphs">E46</text>
<line x1="517.5" y1="356.1" x2="531.6" y2="356.1" stroke="#d040e0" stroke-width="1.0"/>
<circle cx="524.5" cy="356.1" r="0.9" fill="#d040e0" stroke="#333" stroke-opacity="0.4" stroke-width="0.3"/>
<text x="532.8" y="358.7" class="lg" textLength="10.2" lengthAdjust="spacingAndGlyphs">E19</text>
<line x1="517.5" y1="363.3" x2="531.6" y2="363.3" stroke="#a0a060" stroke-width="1.0"/>
<circle cx="524.5" cy="363.3" r="0.9" fill="#a0a060" stroke="#333" stroke-opacity="0.4" stroke-width="0.3"/>
<text x="532.8" y="365.9" class="lg" textLength="10.2" lengthAdjust="spacingAndGlyphs">E23</text>
<text x="413" y="266.2" text-anchor="middle" class="tt" textLength="99" lengthAdjust="spacingAndGlyphs">SisuCHEMA XL™</text>
<text x="413" y="282.4" text-anchor="middle" class="tt" textLength="73.4" lengthAdjust="spacingAndGlyphs">Validation set</text>
<text x="270.2" y="249.4" text-anchor="middle" class="pl">(a)</text>
<text x="270.4" y="502.6" text-anchor="middle" class="pl">(b)</text>
</svg>
</body></html>
